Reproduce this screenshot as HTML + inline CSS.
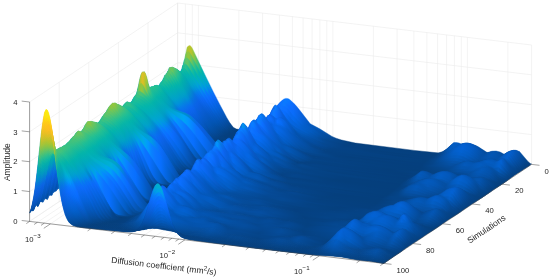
<!DOCTYPE html>
<html><head><meta charset="utf-8"><title>Surface plot</title>
<style>
html,body{margin:0;padding:0;background:#fff}
svg{display:block}
.g{stroke:#ebebeb;stroke-width:.6;fill:none}
.a{stroke:#484848;stroke-width:.5;fill:none}
.t{font-family:"Liberation Sans",sans-serif;font-size:7.7px;fill:#262626}
.l{font-family:"Liberation Sans",sans-serif;font-size:8.5px;fill:#262626}
</style></head><body>
<svg width="550" height="278" viewBox="0 0 550 278">
<rect width="550" height="278" fill="#fff"/>
<g id="grid">
<line x1="29.6" y1="221.4" x2="177.6" y2="122.4" class="g"/>
<line x1="177.6" y1="122.4" x2="531.6" y2="164.4" class="g"/>
<line x1="29.6" y1="191.6" x2="177.6" y2="92.6" class="g"/>
<line x1="177.6" y1="92.6" x2="531.6" y2="134.6" class="g"/>
<line x1="29.6" y1="161.7" x2="177.6" y2="62.7" class="g"/>
<line x1="177.6" y1="62.7" x2="531.6" y2="104.7" class="g"/>
<line x1="29.6" y1="131.8" x2="177.6" y2="32.8" class="g"/>
<line x1="177.6" y1="32.8" x2="531.6" y2="74.8" class="g"/>
<line x1="29.6" y1="102.0" x2="177.6" y2="3.0" class="g"/>
<line x1="177.6" y1="3.0" x2="531.6" y2="45.0" class="g"/>
<line x1="177.6" y1="122.4" x2="177.6" y2="3.0" class="g"/>
<line x1="177.6" y1="122.4" x2="531.6" y2="164.4" class="g"/>
<line x1="148.0" y1="142.2" x2="148.0" y2="22.8" class="g"/>
<line x1="148.0" y1="142.2" x2="502.0" y2="184.2" class="g"/>
<line x1="118.4" y1="162.0" x2="118.4" y2="42.6" class="g"/>
<line x1="118.4" y1="162.0" x2="472.4" y2="204.0" class="g"/>
<line x1="88.8" y1="181.8" x2="88.8" y2="62.4" class="g"/>
<line x1="88.8" y1="181.8" x2="442.8" y2="223.8" class="g"/>
<line x1="59.2" y1="201.6" x2="59.2" y2="82.2" class="g"/>
<line x1="59.2" y1="201.6" x2="413.2" y2="243.6" class="g"/>
<line x1="29.6" y1="221.4" x2="29.6" y2="102.0" class="g"/>
<line x1="29.6" y1="221.4" x2="383.6" y2="263.4" class="g"/>
<line x1="177.6" y1="122.4" x2="177.6" y2="3.0" class="g"/>
<line x1="177.6" y1="122.4" x2="29.6" y2="221.4" class="g"/>
<line x1="185.4" y1="123.3" x2="185.4" y2="3.9" class="g"/>
<line x1="185.4" y1="123.3" x2="37.4" y2="222.3" class="g"/>
<line x1="192.3" y1="124.1" x2="192.3" y2="4.7" class="g"/>
<line x1="192.3" y1="124.1" x2="44.3" y2="223.1" class="g"/>
<line x1="198.4" y1="124.9" x2="198.4" y2="5.5" class="g"/>
<line x1="198.4" y1="124.9" x2="50.4" y2="223.9" class="g"/>
<line x1="238.9" y1="129.7" x2="238.9" y2="10.3" class="g"/>
<line x1="238.9" y1="129.7" x2="90.9" y2="228.7" class="g"/>
<line x1="262.6" y1="132.5" x2="262.6" y2="13.1" class="g"/>
<line x1="262.6" y1="132.5" x2="114.6" y2="231.5" class="g"/>
<line x1="279.4" y1="134.5" x2="279.4" y2="15.1" class="g"/>
<line x1="279.4" y1="134.5" x2="131.4" y2="233.5" class="g"/>
<line x1="292.4" y1="136.0" x2="292.4" y2="16.6" class="g"/>
<line x1="292.4" y1="136.0" x2="144.4" y2="235.0" class="g"/>
<line x1="303.1" y1="137.3" x2="303.1" y2="17.9" class="g"/>
<line x1="303.1" y1="137.3" x2="155.1" y2="236.3" class="g"/>
<line x1="312.1" y1="138.4" x2="312.1" y2="19.0" class="g"/>
<line x1="312.1" y1="138.4" x2="164.1" y2="237.4" class="g"/>
<line x1="319.9" y1="139.3" x2="319.9" y2="19.9" class="g"/>
<line x1="319.9" y1="139.3" x2="171.9" y2="238.3" class="g"/>
<line x1="326.8" y1="140.1" x2="326.8" y2="20.7" class="g"/>
<line x1="326.8" y1="140.1" x2="178.8" y2="239.1" class="g"/>
<line x1="332.9" y1="140.8" x2="332.9" y2="21.4" class="g"/>
<line x1="332.9" y1="140.8" x2="184.9" y2="239.8" class="g"/>
<line x1="373.4" y1="145.6" x2="373.4" y2="26.2" class="g"/>
<line x1="373.4" y1="145.6" x2="225.4" y2="244.6" class="g"/>
<line x1="397.1" y1="148.4" x2="397.1" y2="29.0" class="g"/>
<line x1="397.1" y1="148.4" x2="249.1" y2="247.4" class="g"/>
<line x1="413.9" y1="150.4" x2="413.9" y2="31.0" class="g"/>
<line x1="413.9" y1="150.4" x2="265.9" y2="249.4" class="g"/>
<line x1="426.9" y1="152.0" x2="426.9" y2="32.6" class="g"/>
<line x1="426.9" y1="152.0" x2="278.9" y2="251.0" class="g"/>
<line x1="437.6" y1="153.2" x2="437.6" y2="33.8" class="g"/>
<line x1="437.6" y1="153.2" x2="289.6" y2="252.2" class="g"/>
<line x1="446.6" y1="154.3" x2="446.6" y2="34.9" class="g"/>
<line x1="446.6" y1="154.3" x2="298.6" y2="253.3" class="g"/>
<line x1="454.4" y1="155.2" x2="454.4" y2="35.8" class="g"/>
<line x1="454.4" y1="155.2" x2="306.4" y2="254.2" class="g"/>
<line x1="461.3" y1="156.1" x2="461.3" y2="36.7" class="g"/>
<line x1="461.3" y1="156.1" x2="313.3" y2="255.1" class="g"/>
<line x1="467.4" y1="156.8" x2="467.4" y2="37.4" class="g"/>
<line x1="467.4" y1="156.8" x2="319.4" y2="255.8" class="g"/>
<line x1="507.9" y1="161.6" x2="507.9" y2="42.2" class="g"/>
<line x1="507.9" y1="161.6" x2="359.9" y2="260.6" class="g"/>
<line x1="531.6" y1="164.4" x2="531.6" y2="45.0" class="g"/>
<line x1="531.6" y1="164.4" x2="383.6" y2="263.4" class="g"/>
<line x1="177.6" y1="122.4" x2="177.6" y2="3.0" class="g"/>
</g>
<g id="surface" shape-rendering="geometricPrecision">
<defs><linearGradient id="g0" gradientUnits="userSpaceOnUse" x1="1776" x2="5316" y1="0" y2="0"><stop offset="0" stop-color="#0250a8"/><stop offset=".012" stop-color="#0968e3"/><stop offset=".015" stop-color="#009ebc"/><stop offset=".019" stop-color="#16bb9d"/><stop offset=".023" stop-color="#73c557"/><stop offset=".027" stop-color="#acc431"/><stop offset=".035" stop-color="#bbc32a"/><stop offset=".039" stop-color="#b3c42e"/><stop offset=".046" stop-color="#8fc63f"/><stop offset=".062" stop-color="#21bf94"/><stop offset=".069" stop-color="#02b4ac"/><stop offset=".085" stop-color="#00a2d1"/><stop offset=".097" stop-color="#0878f5"/><stop offset=".104" stop-color="#0c68f8"/><stop offset=".12" stop-color="#0561d9"/><stop offset=".154" stop-color="#054387"/><stop offset=".17" stop-color="#053f7c"/><stop offset=".208" stop-color="#054181"/><stop offset=".236" stop-color="#054b98"/><stop offset=".239" stop-color="#04468f"/><stop offset=".29" stop-color="#0b60e4"/><stop offset=".293" stop-color="#0c6efe"/><stop offset=".301" stop-color="#0a77ff"/><stop offset=".313" stop-color="#0979fe"/><stop offset=".328" stop-color="#0c69f9"/><stop offset=".375" stop-color="#0357bb"/><stop offset=".398" stop-color="#0357b7"/><stop offset=".463" stop-color="#054183"/><stop offset=".502" stop-color="#053f7c"/><stop offset=".734" stop-color="#053f7e"/><stop offset=".749" stop-color="#054489"/><stop offset=".761" stop-color="#054c9b"/><stop offset=".764" stop-color="#044792"/><stop offset=".776" stop-color="#034fa6"/><stop offset=".78" stop-color="#035bc1"/><stop offset=".788" stop-color="#035bc2"/><stop offset=".803" stop-color="#0359bc"/><stop offset=".811" stop-color="#024fa7"/><stop offset=".846" stop-color="#0251ac"/><stop offset=".873" stop-color="#044b9a"/><stop offset=".9" stop-color="#0351aa"/><stop offset=".927" stop-color="#044b9b"/><stop offset=".931" stop-color="#044792"/><stop offset=".965" stop-color="#0251ab"/><stop offset=".992" stop-color="#054081"/><stop offset="1" stop-color="#053f7c"/></linearGradient><linearGradient id="g1" gradientUnits="userSpaceOnUse" x1="1761" x2="5301" y1="0" y2="0"><stop offset="0" stop-color="#044998"/><stop offset=".012" stop-color="#0a5fe0"/><stop offset=".015" stop-color="#008acd"/><stop offset=".019" stop-color="#01abad"/><stop offset=".023" stop-color="#33c188"/><stop offset=".027" stop-color="#77c554"/><stop offset=".031" stop-color="#8dc641"/><stop offset=".035" stop-color="#95c53c"/><stop offset=".039" stop-color="#8cc542"/><stop offset=".042" stop-color="#78c553"/><stop offset=".054" stop-color="#2cc08c"/><stop offset=".062" stop-color="#09b7a6"/><stop offset=".066" stop-color="#02b3af"/><stop offset=".081" stop-color="#00a2d5"/><stop offset=".085" stop-color="#0099e0"/><stop offset=".093" stop-color="#0879f7"/><stop offset=".1" stop-color="#0c6afb"/><stop offset=".116" stop-color="#0563de"/><stop offset=".154" stop-color="#054386"/><stop offset=".17" stop-color="#053f7c"/><stop offset=".212" stop-color="#054283"/><stop offset=".239" stop-color="#054d9e"/><stop offset=".243" stop-color="#044895"/><stop offset=".286" stop-color="#095fde"/><stop offset=".29" stop-color="#0c6bfd"/><stop offset=".293" stop-color="#0c6eff"/><stop offset=".309" stop-color="#097bff"/><stop offset=".328" stop-color="#0d6cff"/><stop offset=".375" stop-color="#0359c0"/><stop offset=".444" stop-color="#05478f"/><stop offset=".494" stop-color="#05407f"/><stop offset=".734" stop-color="#05407e"/><stop offset=".749" stop-color="#054489"/><stop offset=".78" stop-color="#035bc1"/><stop offset=".788" stop-color="#035cc4"/><stop offset=".799" stop-color="#035ac0"/><stop offset=".807" stop-color="#0251ab"/><stop offset=".842" stop-color="#0354b4"/><stop offset=".873" stop-color="#044c9e"/><stop offset=".9" stop-color="#0353ae"/><stop offset=".927" stop-color="#044d9e"/><stop offset=".931" stop-color="#044896"/><stop offset=".95" stop-color="#0250aa"/><stop offset=".965" stop-color="#0353b1"/><stop offset=".992" stop-color="#054182"/><stop offset="1" stop-color="#053f7d"/></linearGradient><linearGradient id="g2" gradientUnits="userSpaceOnUse" x1="1746" x2="5286" y1="0" y2="0"><stop offset="0" stop-color="#044793"/><stop offset=".012" stop-color="#085ed9"/><stop offset=".015" stop-color="#0672de"/><stop offset=".019" stop-color="#00a0b8"/><stop offset=".023" stop-color="#0db7a2"/><stop offset=".027" stop-color="#40c27e"/><stop offset=".031" stop-color="#59c46d"/><stop offset=".035" stop-color="#62c566"/><stop offset=".039" stop-color="#59c46d"/><stop offset=".05" stop-color="#1bbd98"/><stop offset=".058" stop-color="#02b5ad"/><stop offset=".073" stop-color="#00a8cf"/><stop offset=".081" stop-color="#0098e5"/><stop offset=".089" stop-color="#0879fa"/><stop offset=".097" stop-color="#0d6bfd"/><stop offset=".116" stop-color="#0562da"/><stop offset=".154" stop-color="#054386"/><stop offset=".17" stop-color="#053f7c"/><stop offset=".212" stop-color="#054283"/><stop offset=".228" stop-color="#05478f"/><stop offset=".247" stop-color="#0452ab"/><stop offset=".251" stop-color="#034da1"/><stop offset=".274" stop-color="#045aca"/><stop offset=".278" stop-color="#0667e9"/><stop offset=".29" stop-color="#0b6dff"/><stop offset=".293" stop-color="#0c6fff"/><stop offset=".309" stop-color="#0b7aff"/><stop offset=".324" stop-color="#0c6cff"/><stop offset=".336" stop-color="#096cf9"/><stop offset=".367" stop-color="#045ecc"/><stop offset=".394" stop-color="#0358ba"/><stop offset=".432" stop-color="#054993"/><stop offset=".49" stop-color="#054181"/><stop offset=".734" stop-color="#05407f"/><stop offset=".753" stop-color="#05468d"/><stop offset=".78" stop-color="#035bbf"/><stop offset=".788" stop-color="#035dc5"/><stop offset=".799" stop-color="#0359bb"/><stop offset=".803" stop-color="#0251ac"/><stop offset=".83" stop-color="#0354b7"/><stop offset=".834" stop-color="#0358be"/><stop offset=".876" stop-color="#044ea2"/><stop offset=".888" stop-color="#0454ae"/><stop offset=".903" stop-color="#0355b1"/><stop offset=".927" stop-color="#044ea1"/><stop offset=".931" stop-color="#034a99"/><stop offset=".965" stop-color="#0356b8"/><stop offset=".992" stop-color="#054183"/><stop offset="1" stop-color="#053f7d"/></linearGradient><linearGradient id="g3" gradientUnits="userSpaceOnUse" x1="1732" x2="5272" y1="0" y2="0"><stop offset="0" stop-color="#034c9f"/><stop offset=".012" stop-color="#085ed9"/><stop offset=".015" stop-color="#076de2"/><stop offset=".019" stop-color="#009cbe"/><stop offset=".023" stop-color="#02aeab"/><stop offset=".027" stop-color="#1cbd98"/><stop offset=".035" stop-color="#2cc08c"/><stop offset=".05" stop-color="#02b5ad"/><stop offset=".069" stop-color="#00a3d5"/><stop offset=".081" stop-color="#0682f4"/><stop offset=".093" stop-color="#0c6afc"/><stop offset=".112" stop-color="#0562db"/><stop offset=".158" stop-color="#054081"/><stop offset=".189" stop-color="#053f7d"/><stop offset=".22" stop-color="#054387"/><stop offset=".243" stop-color="#044fa3"/><stop offset=".29" stop-color="#096dfd"/><stop offset=".305" stop-color="#0d74ff"/><stop offset=".32" stop-color="#0c6fff"/><stop offset=".332" stop-color="#0869f0"/><stop offset=".34" stop-color="#056aee"/><stop offset=".363" stop-color="#0460cf"/><stop offset=".39" stop-color="#035abf"/><stop offset=".429" stop-color="#054892"/><stop offset=".486" stop-color="#054182"/><stop offset=".734" stop-color="#05407f"/><stop offset=".753" stop-color="#05458b"/><stop offset=".784" stop-color="#035bc0"/><stop offset=".795" stop-color="#0358ba"/><stop offset=".799" stop-color="#0251ab"/><stop offset=".815" stop-color="#0354b6"/><stop offset=".819" stop-color="#035bc6"/><stop offset=".826" stop-color="#045cc8"/><stop offset=".846" stop-color="#0359c1"/><stop offset=".876" stop-color="#044fa4"/><stop offset=".9" stop-color="#0356b4"/><stop offset=".927" stop-color="#0450a5"/><stop offset=".931" stop-color="#034b9c"/><stop offset=".954" stop-color="#0353b2"/><stop offset=".958" stop-color="#035ac3"/><stop offset=".961" stop-color="#035bc3"/><stop offset=".992" stop-color="#054184"/><stop offset="1" stop-color="#053f7d"/></linearGradient><linearGradient id="g4" gradientUnits="userSpaceOnUse" x1="1717" x2="5257" y1="0" y2="0"><stop offset="0" stop-color="#044895"/><stop offset=".015" stop-color="#0a64e5"/><stop offset=".019" stop-color="#008eca"/><stop offset=".023" stop-color="#00a4b2"/><stop offset=".027" stop-color="#04b3a7"/><stop offset=".035" stop-color="#14bb9d"/><stop offset=".046" stop-color="#02b3ae"/><stop offset=".062" stop-color="#00a5c9"/><stop offset=".069" stop-color="#0098da"/><stop offset=".077" stop-color="#057fed"/><stop offset=".089" stop-color="#0c68f7"/><stop offset=".131" stop-color="#0255b4"/><stop offset=".151" stop-color="#05458b"/><stop offset=".162" stop-color="#053f7e"/><stop offset=".197" stop-color="#053f7e"/><stop offset=".224" stop-color="#054489"/><stop offset=".247" stop-color="#0451a7"/><stop offset=".29" stop-color="#076df9"/><stop offset=".317" stop-color="#0a6eff"/><stop offset=".336" stop-color="#0566e4"/><stop offset=".382" stop-color="#035cc3"/><stop offset=".425" stop-color="#054a96"/><stop offset=".486" stop-color="#054183"/><stop offset=".625" stop-color="#053f7c"/><stop offset=".734" stop-color="#05407f"/><stop offset=".757" stop-color="#05468d"/><stop offset=".784" stop-color="#0458b7"/><stop offset=".792" stop-color="#0356b5"/><stop offset=".826" stop-color="#045fcf"/><stop offset=".846" stop-color="#035cc7"/><stop offset=".876" stop-color="#044fa5"/><stop offset=".9" stop-color="#0456b3"/><stop offset=".927" stop-color="#0450a7"/><stop offset=".931" stop-color="#034b9c"/><stop offset=".938" stop-color="#034fa7"/><stop offset=".942" stop-color="#0359bd"/><stop offset=".961" stop-color="#035dca"/><stop offset=".992" stop-color="#054284"/><stop offset="1" stop-color="#053f7d"/></linearGradient><linearGradient id="g5" gradientUnits="userSpaceOnUse" x1="1702" x2="5242" y1="0" y2="0"><stop offset="0" stop-color="#04448c"/><stop offset=".004" stop-color="#034b9c"/><stop offset=".015" stop-color="#0b60e3"/><stop offset=".023" stop-color="#00a0b7"/><stop offset=".031" stop-color="#09b7a6"/><stop offset=".035" stop-color="#0fbaa2"/><stop offset=".042" stop-color="#03b4aa"/><stop offset=".062" stop-color="#00a2c8"/><stop offset=".069" stop-color="#0093d8"/><stop offset=".077" stop-color="#0679eb"/><stop offset=".089" stop-color="#0c66f2"/><stop offset=".131" stop-color="#0254b3"/><stop offset=".154" stop-color="#054285"/><stop offset=".166" stop-color="#053f7d"/><stop offset=".201" stop-color="#05407e"/><stop offset=".224" stop-color="#054488"/><stop offset=".247" stop-color="#054fa3"/><stop offset=".278" stop-color="#0465dc"/><stop offset=".286" stop-color="#0565e1"/><stop offset=".29" stop-color="#045bcb"/><stop offset=".305" stop-color="#0a62e6"/><stop offset=".309" stop-color="#0a62e6"/><stop offset=".313" stop-color="#095fdd"/><stop offset=".328" stop-color="#0562dc"/><stop offset=".34" stop-color="#045fd0"/><stop offset=".371" stop-color="#035cc4"/><stop offset=".44" stop-color="#054892"/><stop offset=".486" stop-color="#054284"/><stop offset=".564" stop-color="#05407f"/><stop offset=".737" stop-color="#054080"/><stop offset=".757" stop-color="#05458c"/><stop offset=".799" stop-color="#035bc0"/><stop offset=".826" stop-color="#0461d4"/><stop offset=".846" stop-color="#035eca"/><stop offset=".876" stop-color="#0450a6"/><stop offset=".9" stop-color="#0455b1"/><stop offset=".923" stop-color="#0450a4"/><stop offset=".942" stop-color="#035abf"/><stop offset=".961" stop-color="#035fce"/><stop offset=".992" stop-color="#054284"/><stop offset="1" stop-color="#053f7d"/></linearGradient><linearGradient id="g6" gradientUnits="userSpaceOnUse" x1="1687" x2="5227" y1="0" y2="0"><stop offset="0" stop-color="#034a99"/><stop offset=".008" stop-color="#0355b9"/><stop offset=".015" stop-color="#0b61e6"/><stop offset=".019" stop-color="#0089ce"/><stop offset=".023" stop-color="#00a1b6"/><stop offset=".027" stop-color="#02afaa"/><stop offset=".035" stop-color="#0ab7a5"/><stop offset=".05" stop-color="#00a8b3"/><stop offset=".062" stop-color="#009dc7"/><stop offset=".069" stop-color="#008ed6"/><stop offset=".077" stop-color="#0774e9"/><stop offset=".089" stop-color="#0b64ed"/><stop offset=".131" stop-color="#0254b1"/><stop offset=".154" stop-color="#054285"/><stop offset=".166" stop-color="#053f7d"/><stop offset=".205" stop-color="#05407f"/><stop offset=".228" stop-color="#054589"/><stop offset=".247" stop-color="#054ea0"/><stop offset=".274" stop-color="#0360ce"/><stop offset=".278" stop-color="#0354b6"/><stop offset=".297" stop-color="#0a60e2"/><stop offset=".309" stop-color="#0a6bee"/><stop offset=".317" stop-color="#0a60e2"/><stop offset=".351" stop-color="#0356b8"/><stop offset=".367" stop-color="#035abe"/><stop offset=".436" stop-color="#054892"/><stop offset=".479" stop-color="#054386"/><stop offset=".649" stop-color="#053f7c"/><stop offset=".734" stop-color="#05407f"/><stop offset=".761" stop-color="#05478f"/><stop offset=".811" stop-color="#035fcc"/><stop offset=".83" stop-color="#0462d5"/><stop offset=".849" stop-color="#035dc8"/><stop offset=".88" stop-color="#044fa3"/><stop offset=".9" stop-color="#0453ad"/><stop offset=".919" stop-color="#054e9f"/><stop offset=".923" stop-color="#044ea0"/><stop offset=".946" stop-color="#035cc4"/><stop offset=".961" stop-color="#0360cf"/><stop offset=".988" stop-color="#05458c"/><stop offset="1" stop-color="#053f7d"/></linearGradient><linearGradient id="g7" gradientUnits="userSpaceOnUse" x1="1672" x2="5212" y1="0" y2="0"><stop offset="0" stop-color="#044896"/><stop offset=".008" stop-color="#0355b7"/><stop offset=".015" stop-color="#0b61e6"/><stop offset=".019" stop-color="#0089ce"/><stop offset=".023" stop-color="#00a2b5"/><stop offset=".027" stop-color="#02b1a9"/><stop offset=".031" stop-color="#13ba9e"/><stop offset=".046" stop-color="#02aeab"/><stop offset=".062" stop-color="#009cbe"/><stop offset=".081" stop-color="#086de4"/><stop offset=".089" stop-color="#0b62e9"/><stop offset=".131" stop-color="#0253b1"/><stop offset=".151" stop-color="#05458b"/><stop offset=".162" stop-color="#053f7e"/><stop offset=".197" stop-color="#053f7d"/><stop offset=".224" stop-color="#054385"/><stop offset=".243" stop-color="#054a96"/><stop offset=".27" stop-color="#035abe"/><stop offset=".274" stop-color="#0251ac"/><stop offset=".293" stop-color="#095fde"/><stop offset=".297" stop-color="#0b61e6"/><stop offset=".301" stop-color="#0968e3"/><stop offset=".305" stop-color="#097cff"/><stop offset=".317" stop-color="#0c66f1"/><stop offset=".336" stop-color="#0459c6"/><stop offset=".347" stop-color="#045ac6"/><stop offset=".363" stop-color="#0352af"/><stop offset=".378" stop-color="#0354b1"/><stop offset=".471" stop-color="#054285"/><stop offset=".734" stop-color="#05407f"/><stop offset=".764" stop-color="#054891"/><stop offset=".811" stop-color="#035fca"/><stop offset=".83" stop-color="#0362d2"/><stop offset=".853" stop-color="#035cc3"/><stop offset=".88" stop-color="#054ea0"/><stop offset=".9" stop-color="#054fa3"/><stop offset=".915" stop-color="#044b9a"/><stop offset=".919" stop-color="#044791"/><stop offset=".931" stop-color="#044896"/><stop offset=".934" stop-color="#0453ac"/><stop offset=".938" stop-color="#0357b5"/><stop offset=".95" stop-color="#035ec6"/><stop offset=".961" stop-color="#0360cd"/><stop offset=".988" stop-color="#05448a"/><stop offset="1" stop-color="#053f7d"/></linearGradient><linearGradient id="g8" gradientUnits="userSpaceOnUse" x1="1658" x2="5198" y1="0" y2="0"><stop offset="0" stop-color="#054388"/><stop offset=".004" stop-color="#044997"/><stop offset=".015" stop-color="#0a60e2"/><stop offset=".019" stop-color="#0184d1"/><stop offset=".023" stop-color="#00a2b5"/><stop offset=".027" stop-color="#04b3a7"/><stop offset=".031" stop-color="#1abd99"/><stop offset=".035" stop-color="#1fbf95"/><stop offset=".05" stop-color="#02aeab"/><stop offset=".066" stop-color="#009bbf"/><stop offset=".081" stop-color="#0672df"/><stop offset=".093" stop-color="#0b61e6"/><stop offset=".131" stop-color="#0254b1"/><stop offset=".158" stop-color="#054081"/><stop offset=".178" stop-color="#053f7c"/><stop offset=".216" stop-color="#054180"/><stop offset=".243" stop-color="#054891"/><stop offset=".266" stop-color="#0453ad"/><stop offset=".274" stop-color="#0250aa"/><stop offset=".282" stop-color="#0356bd"/><stop offset=".286" stop-color="#0564de"/><stop offset=".293" stop-color="#086bf6"/><stop offset=".297" stop-color="#0b6eff"/><stop offset=".305" stop-color="#0d7aff"/><stop offset=".313" stop-color="#0c6eff"/><stop offset=".332" stop-color="#055dd4"/><stop offset=".336" stop-color="#0560da"/><stop offset=".344" stop-color="#055fd4"/><stop offset=".367" stop-color="#0352b0"/><stop offset=".467" stop-color="#054284"/><stop offset=".734" stop-color="#05407e"/><stop offset=".761" stop-color="#05468c"/><stop offset=".811" stop-color="#035dc4"/><stop offset=".83" stop-color="#0360cd"/><stop offset=".846" stop-color="#035dc5"/><stop offset=".884" stop-color="#054b98"/><stop offset=".896" stop-color="#044c9b"/><stop offset=".9" stop-color="#044792"/><stop offset=".931" stop-color="#034b9c"/><stop offset=".95" stop-color="#035bbe"/><stop offset=".961" stop-color="#035dc4"/><stop offset=".981" stop-color="#044a97"/><stop offset="1" stop-color="#053f7d"/></linearGradient><linearGradient id="g9" gradientUnits="userSpaceOnUse" x1="1643" x2="5183" y1="0" y2="0"><stop offset="0" stop-color="#044895"/><stop offset=".008" stop-color="#0355b8"/><stop offset=".015" stop-color="#0a64e5"/><stop offset=".019" stop-color="#0091c8"/><stop offset=".023" stop-color="#01a9af"/><stop offset=".027" stop-color="#15bb9d"/><stop offset=".031" stop-color="#33c187"/><stop offset=".035" stop-color="#34c187"/><stop offset=".039" stop-color="#2fc08a"/><stop offset=".042" stop-color="#20bf95"/><stop offset=".05" stop-color="#07b4a6"/><stop offset=".054" stop-color="#02aeab"/><stop offset=".069" stop-color="#009ac0"/><stop offset=".085" stop-color="#076ee2"/><stop offset=".093" stop-color="#0b63e7"/><stop offset=".131" stop-color="#0354b3"/><stop offset=".158" stop-color="#054181"/><stop offset=".212" stop-color="#05407f"/><stop offset=".239" stop-color="#054489"/><stop offset=".266" stop-color="#0451a7"/><stop offset=".27" stop-color="#034a9b"/><stop offset=".278" stop-color="#0352ae"/><stop offset=".282" stop-color="#035dca"/><stop offset=".305" stop-color="#0970ff"/><stop offset=".309" stop-color="#096efd"/><stop offset=".313" stop-color="#0869f1"/><stop offset=".32" stop-color="#0768ee"/><stop offset=".324" stop-color="#075ed7"/><stop offset=".344" stop-color="#065dd4"/><stop offset=".375" stop-color="#0252ae"/><stop offset=".425" stop-color="#05468f"/><stop offset=".459" stop-color="#054284"/><stop offset=".734" stop-color="#05407e"/><stop offset=".761" stop-color="#05458a"/><stop offset=".811" stop-color="#045abc"/><stop offset=".83" stop-color="#035dc4"/><stop offset=".857" stop-color="#0455b2"/><stop offset=".88" stop-color="#054b98"/><stop offset=".884" stop-color="#04458d"/><stop offset=".915" stop-color="#034da1"/><stop offset=".938" stop-color="#034ea3"/><stop offset=".95" stop-color="#0352ac"/><stop offset=".954" stop-color="#034da1"/><stop offset=".965" stop-color="#0352ae"/><stop offset="1" stop-color="#053f7d"/></linearGradient><linearGradient id="g10" gradientUnits="userSpaceOnUse" x1="1628" x2="5168" y1="0" y2="0"><stop offset="0" stop-color="#044998"/><stop offset=".008" stop-color="#0355b9"/><stop offset=".015" stop-color="#0a66e4"/><stop offset=".019" stop-color="#0095c5"/><stop offset=".023" stop-color="#01acac"/><stop offset=".027" stop-color="#1ebe96"/><stop offset=".031" stop-color="#45c27b"/><stop offset=".035" stop-color="#46c27b"/><stop offset=".039" stop-color="#41c27d"/><stop offset=".054" stop-color="#03b2a8"/><stop offset=".073" stop-color="#0097c3"/><stop offset=".089" stop-color="#086ce4"/><stop offset=".097" stop-color="#0b61e7"/><stop offset=".131" stop-color="#0355b4"/><stop offset=".158" stop-color="#054182"/><stop offset=".174" stop-color="#053f7c"/><stop offset=".216" stop-color="#05407f"/><stop offset=".239" stop-color="#054488"/><stop offset=".266" stop-color="#0450a6"/><stop offset=".27" stop-color="#034a9b"/><stop offset=".301" stop-color="#075ed8"/><stop offset=".317" stop-color="#085fdc"/><stop offset=".324" stop-color="#0968f1"/><stop offset=".328" stop-color="#0969f3"/><stop offset=".344" stop-color="#0764e3"/><stop offset=".375" stop-color="#0353b1"/><stop offset=".444" stop-color="#054285"/><stop offset=".606" stop-color="#053f7c"/><stop offset=".734" stop-color="#053f7e"/><stop offset=".761" stop-color="#054488"/><stop offset=".811" stop-color="#0456b2"/><stop offset=".83" stop-color="#0459b9"/><stop offset=".849" stop-color="#0455b1"/><stop offset=".88" stop-color="#04458e"/><stop offset=".923" stop-color="#0250aa"/><stop offset=".927" stop-color="#0255b4"/><stop offset=".946" stop-color="#0354b0"/><stop offset=".95" stop-color="#024fa8"/><stop offset=".965" stop-color="#0353b1"/><stop offset="1" stop-color="#053f7e"/></linearGradient><linearGradient id="g11" gradientUnits="userSpaceOnUse" x1="1613" x2="5153" y1="0" y2="0"><stop offset="0" stop-color="#04448a"/><stop offset=".004" stop-color="#034a9a"/><stop offset=".015" stop-color="#0b61e6"/><stop offset=".019" stop-color="#0090c9"/><stop offset=".023" stop-color="#01aaad"/><stop offset=".027" stop-color="#1ebe96"/><stop offset=".031" stop-color="#4bc377"/><stop offset=".035" stop-color="#56c46f"/><stop offset=".039" stop-color="#53c471"/><stop offset=".05" stop-color="#1bbd99"/><stop offset=".058" stop-color="#02b0a9"/><stop offset=".073" stop-color="#009cbf"/><stop offset=".081" stop-color="#008ace"/><stop offset=".089" stop-color="#076fe3"/><stop offset=".097" stop-color="#0b63e8"/><stop offset=".135" stop-color="#0253af"/><stop offset=".154" stop-color="#054387"/><stop offset=".162" stop-color="#053f7f"/><stop offset=".228" stop-color="#054180"/><stop offset=".266" stop-color="#0450a6"/><stop offset=".27" stop-color="#034a9a"/><stop offset=".309" stop-color="#0b64ed"/><stop offset=".32" stop-color="#0862e4"/><stop offset=".328" stop-color="#096fff"/><stop offset=".34" stop-color="#076bf4"/><stop offset=".359" stop-color="#045bc8"/><stop offset=".371" stop-color="#0355b8"/><stop offset=".409" stop-color="#044ea2"/><stop offset=".429" stop-color="#05468e"/><stop offset=".471" stop-color="#054182"/><stop offset=".737" stop-color="#053f7e"/><stop offset=".764" stop-color="#054488"/><stop offset=".822" stop-color="#0554ad"/><stop offset=".842" stop-color="#0553aa"/><stop offset=".853" stop-color="#044da0"/><stop offset=".857" stop-color="#044793"/><stop offset=".888" stop-color="#044896"/><stop offset=".9" stop-color="#034c9e"/><stop offset=".903" stop-color="#0354b0"/><stop offset=".915" stop-color="#0359bb"/><stop offset=".946" stop-color="#0358bb"/><stop offset=".95" stop-color="#0251ac"/><stop offset=".954" stop-color="#0352af"/><stop offset=".958" stop-color="#035ac2"/><stop offset=".961" stop-color="#035bc5"/><stop offset=".965" stop-color="#035ac3"/><stop offset=".992" stop-color="#054387"/><stop offset="1" stop-color="#053f7e"/></linearGradient><linearGradient id="g12" gradientUnits="userSpaceOnUse" x1="1598" x2="5138" y1="0" y2="0"><stop offset="0" stop-color="#044895"/><stop offset=".008" stop-color="#0355b8"/><stop offset=".015" stop-color="#0a66e4"/><stop offset=".019" stop-color="#0097c3"/><stop offset=".023" stop-color="#02afaa"/><stop offset=".027" stop-color="#30c189"/><stop offset=".031" stop-color="#5fc468"/><stop offset=".035" stop-color="#66c562"/><stop offset=".039" stop-color="#64c564"/><stop offset=".054" stop-color="#16bc9c"/><stop offset=".062" stop-color="#02aeab"/><stop offset=".077" stop-color="#0099c3"/><stop offset=".089" stop-color="#0577de"/><stop offset=".097" stop-color="#0a66e7"/><stop offset=".116" stop-color="#055dd1"/><stop offset=".154" stop-color="#054388"/><stop offset=".162" stop-color="#05407f"/><stop offset=".216" stop-color="#053f7d"/><stop offset=".236" stop-color="#054284"/><stop offset=".266" stop-color="#0450a6"/><stop offset=".27" stop-color="#034a9a"/><stop offset=".301" stop-color="#095fdd"/><stop offset=".305" stop-color="#0c6dff"/><stop offset=".313" stop-color="#0b6bfb"/><stop offset=".324" stop-color="#0765e8"/><stop offset=".332" stop-color="#066cf4"/><stop offset=".336" stop-color="#066af1"/><stop offset=".367" stop-color="#0459c3"/><stop offset=".429" stop-color="#054a97"/><stop offset=".467" stop-color="#054285"/><stop offset=".541" stop-color="#053f7d"/><stop offset=".741" stop-color="#053f7e"/><stop offset=".819" stop-color="#0550a3"/><stop offset=".846" stop-color="#044ea0"/><stop offset=".849" stop-color="#044894"/><stop offset=".876" stop-color="#0350a8"/><stop offset=".892" stop-color="#0350a7"/><stop offset=".896" stop-color="#034ca0"/><stop offset=".9" stop-color="#0353ae"/><stop offset=".923" stop-color="#035cc2"/><stop offset=".946" stop-color="#035bbf"/><stop offset=".961" stop-color="#0361d0"/><stop offset=".965" stop-color="#0360cf"/><stop offset=".992" stop-color="#054387"/><stop offset="1" stop-color="#053f7e"/></linearGradient><linearGradient id="g13" gradientUnits="userSpaceOnUse" x1="1584" x2="5124" y1="0" y2="0"><stop offset="0" stop-color="#034da1"/><stop offset=".008" stop-color="#0457bf"/><stop offset=".012" stop-color="#075dd6"/><stop offset=".015" stop-color="#086be3"/><stop offset=".019" stop-color="#009cbe"/><stop offset=".023" stop-color="#04b3a7"/><stop offset=".027" stop-color="#3dc281"/><stop offset=".031" stop-color="#6ac55f"/><stop offset=".039" stop-color="#6cc55e"/><stop offset=".042" stop-color="#5dc46a"/><stop offset=".054" stop-color="#1bbd98"/><stop offset=".062" stop-color="#02b2aa"/><stop offset=".077" stop-color="#009fc4"/><stop offset=".085" stop-color="#008dd4"/><stop offset=".093" stop-color="#0771e9"/><stop offset=".1" stop-color="#0c64ed"/><stop offset=".104" stop-color="#0a62e7"/><stop offset=".135" stop-color="#0354b3"/><stop offset=".154" stop-color="#054489"/><stop offset=".162" stop-color="#05407f"/><stop offset=".224" stop-color="#053f7e"/><stop offset=".266" stop-color="#044fa4"/><stop offset=".27" stop-color="#034a9a"/><stop offset=".29" stop-color="#0458c3"/><stop offset=".293" stop-color="#0565e2"/><stop offset=".305" stop-color="#0a6fff"/><stop offset=".309" stop-color="#0b6fff"/><stop offset=".32" stop-color="#0765e7"/><stop offset=".34" stop-color="#0565e4"/><stop offset=".405" stop-color="#0450a5"/><stop offset=".463" stop-color="#054488"/><stop offset=".51" stop-color="#05407f"/><stop offset=".741" stop-color="#053f7d"/><stop offset=".811" stop-color="#054b98"/><stop offset=".838" stop-color="#054c9c"/><stop offset=".869" stop-color="#0357b6"/><stop offset=".892" stop-color="#0354b0"/><stop offset=".919" stop-color="#0359bc"/><stop offset=".946" stop-color="#035abc"/><stop offset=".961" stop-color="#0361cd"/><stop offset=".965" stop-color="#0360cd"/><stop offset=".988" stop-color="#05478f"/><stop offset="1" stop-color="#053f7e"/></linearGradient><linearGradient id="g14" gradientUnits="userSpaceOnUse" x1="1569" x2="5109" y1="0" y2="0"><stop offset="0" stop-color="#044997"/><stop offset=".008" stop-color="#0355b8"/><stop offset=".015" stop-color="#0a64e5"/><stop offset=".019" stop-color="#0093c6"/><stop offset=".023" stop-color="#01acac"/><stop offset=".027" stop-color="#22bf93"/><stop offset=".031" stop-color="#52c372"/><stop offset=".035" stop-color="#5ec469"/><stop offset=".039" stop-color="#5ec469"/><stop offset=".042" stop-color="#50c374"/><stop offset=".05" stop-color="#24c092"/><stop offset=".058" stop-color="#07b6a6"/><stop offset=".062" stop-color="#02b1ad"/><stop offset=".077" stop-color="#009fc8"/><stop offset=".085" stop-color="#008ed9"/><stop offset=".093" stop-color="#0871ec"/><stop offset=".1" stop-color="#0c65ef"/><stop offset=".12" stop-color="#045dd0"/><stop offset=".158" stop-color="#054284"/><stop offset=".174" stop-color="#053e7c"/><stop offset=".224" stop-color="#053f7d"/><stop offset=".263" stop-color="#044ea0"/><stop offset=".266" stop-color="#044996"/><stop offset=".305" stop-color="#075ed8"/><stop offset=".309" stop-color="#0969f3"/><stop offset=".324" stop-color="#0760db"/><stop offset=".336" stop-color="#0668eb"/><stop offset=".351" stop-color="#0565e2"/><stop offset=".409" stop-color="#054d9c"/><stop offset=".506" stop-color="#054181"/><stop offset=".745" stop-color="#053f7d"/><stop offset=".83" stop-color="#054a96"/><stop offset=".869" stop-color="#0459ba"/><stop offset=".888" stop-color="#0456b4"/><stop offset=".915" stop-color="#035bbf"/><stop offset=".946" stop-color="#0453ad"/><stop offset=".965" stop-color="#045bbd"/><stop offset=".992" stop-color="#054386"/><stop offset="1" stop-color="#053f7e"/></linearGradient><linearGradient id="g15" gradientUnits="userSpaceOnUse" x1="1554" x2="5094" y1="0" y2="0"><stop offset="0" stop-color="#034c9f"/><stop offset=".008" stop-color="#0356bc"/><stop offset=".015" stop-color="#0a65e5"/><stop offset=".019" stop-color="#0092c7"/><stop offset=".023" stop-color="#01aaae"/><stop offset=".027" stop-color="#1abd99"/><stop offset=".031" stop-color="#44c27c"/><stop offset=".035" stop-color="#4fc374"/><stop offset=".039" stop-color="#4fc374"/><stop offset=".05" stop-color="#1cbe97"/><stop offset=".058" stop-color="#02b4aa"/><stop offset=".077" stop-color="#009eca"/><stop offset=".093" stop-color="#0871ec"/><stop offset=".1" stop-color="#0c65ef"/><stop offset=".12" stop-color="#045dd0"/><stop offset=".158" stop-color="#054386"/><stop offset=".178" stop-color="#053f7c"/><stop offset=".224" stop-color="#053f7d"/><stop offset=".259" stop-color="#054c9d"/><stop offset=".263" stop-color="#044793"/><stop offset=".305" stop-color="#085edb"/><stop offset=".328" stop-color="#065fda"/><stop offset=".344" stop-color="#0567e7"/><stop offset=".382" stop-color="#0359bd"/><stop offset=".413" stop-color="#054790"/><stop offset=".548" stop-color="#05407f"/><stop offset=".745" stop-color="#053f7d"/><stop offset=".822" stop-color="#05478e"/><stop offset=".865" stop-color="#0455b0"/><stop offset=".888" stop-color="#0455b1"/><stop offset=".915" stop-color="#035bbe"/><stop offset=".95" stop-color="#0350a7"/><stop offset=".973" stop-color="#054fa0"/><stop offset="1" stop-color="#053f7e"/></linearGradient><linearGradient id="g16" gradientUnits="userSpaceOnUse" x1="1539" x2="5079" y1="0" y2="0"><stop offset="0" stop-color="#0352af"/><stop offset=".004" stop-color="#0355b8"/><stop offset=".012" stop-color="#085eda"/><stop offset=".015" stop-color="#086be3"/><stop offset=".019" stop-color="#0097c3"/><stop offset=".023" stop-color="#01abad"/><stop offset=".027" stop-color="#19bd9a"/><stop offset=".031" stop-color="#3dc280"/><stop offset=".039" stop-color="#3fc27f"/><stop offset=".054" stop-color="#09b7a5"/><stop offset=".058" stop-color="#02b2ac"/><stop offset=".077" stop-color="#009ccd"/><stop offset=".093" stop-color="#0871ed"/><stop offset=".1" stop-color="#0c65ef"/><stop offset=".12" stop-color="#045dd1"/><stop offset=".162" stop-color="#054284"/><stop offset=".181" stop-color="#053f7c"/><stop offset=".22" stop-color="#053f7c"/><stop offset=".236" stop-color="#054284"/><stop offset=".259" stop-color="#044d9e"/><stop offset=".263" stop-color="#044894"/><stop offset=".27" stop-color="#034b9d"/><stop offset=".309" stop-color="#0c68f7"/><stop offset=".317" stop-color="#0b66f1"/><stop offset=".324" stop-color="#0963e5"/><stop offset=".328" stop-color="#075ed7"/><stop offset=".34" stop-color="#045bca"/><stop offset=".351" stop-color="#045fd1"/><stop offset=".367" stop-color="#035ecb"/><stop offset=".378" stop-color="#035abe"/><stop offset=".402" stop-color="#044894"/><stop offset=".425" stop-color="#054285"/><stop offset=".745" stop-color="#053f7c"/><stop offset=".822" stop-color="#05458a"/><stop offset=".857" stop-color="#054fa1"/><stop offset=".907" stop-color="#0457b5"/><stop offset=".942" stop-color="#0355b2"/><stop offset="1" stop-color="#053f7e"/></linearGradient><linearGradient id="g17" gradientUnits="userSpaceOnUse" x1="1524" x2="5064" y1="0" y2="0"><stop offset="0" stop-color="#0250aa"/><stop offset=".008" stop-color="#0458c2"/><stop offset=".015" stop-color="#0a65e4"/><stop offset=".019" stop-color="#008eca"/><stop offset=".023" stop-color="#00a5b1"/><stop offset=".027" stop-color="#0ab6a4"/><stop offset=".031" stop-color="#24c092"/><stop offset=".039" stop-color="#30c18a"/><stop offset=".054" stop-color="#03b4aa"/><stop offset=".073" stop-color="#00a2c7"/><stop offset=".081" stop-color="#0093d7"/><stop offset=".089" stop-color="#067ae8"/><stop offset=".1" stop-color="#0c65ef"/><stop offset=".12" stop-color="#055ed1"/><stop offset=".154" stop-color="#044791"/><stop offset=".174" stop-color="#053f7e"/><stop offset=".224" stop-color="#053f7d"/><stop offset=".259" stop-color="#044d9e"/><stop offset=".263" stop-color="#044895"/><stop offset=".297" stop-color="#0a60e2"/><stop offset=".309" stop-color="#0675e4"/><stop offset=".313" stop-color="#0772e8"/><stop offset=".328" stop-color="#0a60e2"/><stop offset=".347" stop-color="#045bca"/><stop offset=".375" stop-color="#0358bb"/><stop offset=".402" stop-color="#044997"/><stop offset=".444" stop-color="#054284"/><stop offset=".745" stop-color="#053f7c"/><stop offset=".822" stop-color="#054386"/><stop offset=".934" stop-color="#0358b9"/><stop offset=".954" stop-color="#0352ac"/><stop offset=".977" stop-color="#05458b"/><stop offset="1" stop-color="#053f7d"/></linearGradient><linearGradient id="g18" gradientUnits="userSpaceOnUse" x1="1510" x2="5050" y1="0" y2="0"><stop offset="0" stop-color="#0251ac"/><stop offset=".008" stop-color="#0458c3"/><stop offset=".015" stop-color="#0a64e5"/><stop offset=".019" stop-color="#008bcd"/><stop offset=".023" stop-color="#00a2b5"/><stop offset=".027" stop-color="#02b1a9"/><stop offset=".031" stop-color="#19bc9a"/><stop offset=".039" stop-color="#21bf94"/><stop offset=".054" stop-color="#02b2ad"/><stop offset=".073" stop-color="#00a1ca"/><stop offset=".081" stop-color="#0092d9"/><stop offset=".089" stop-color="#0679ea"/><stop offset=".1" stop-color="#0c65f0"/><stop offset=".12" stop-color="#055ed2"/><stop offset=".158" stop-color="#04468f"/><stop offset=".174" stop-color="#054081"/><stop offset=".22" stop-color="#053f7d"/><stop offset=".236" stop-color="#054285"/><stop offset=".255" stop-color="#054b9a"/><stop offset=".259" stop-color="#044691"/><stop offset=".297" stop-color="#0a60e2"/><stop offset=".301" stop-color="#0a66e4"/><stop offset=".305" stop-color="#087bfc"/><stop offset=".309" stop-color="#0782ff"/><stop offset=".317" stop-color="#0971f0"/><stop offset=".324" stop-color="#0b65ed"/><stop offset=".367" stop-color="#0355b6"/><stop offset=".459" stop-color="#054285"/><stop offset=".668" stop-color="#053f7c"/><stop offset=".822" stop-color="#054283"/><stop offset=".861" stop-color="#05458b"/><stop offset=".903" stop-color="#054ea1"/><stop offset=".934" stop-color="#0359ba"/><stop offset=".958" stop-color="#0451a9"/><stop offset=".981" stop-color="#054386"/><stop offset="1" stop-color="#053f7d"/></linearGradient><linearGradient id="g19" gradientUnits="userSpaceOnUse" x1="1495" x2="5035" y1="0" y2="0"><stop offset="0" stop-color="#0355b9"/><stop offset=".012" stop-color="#095fde"/><stop offset=".015" stop-color="#086be2"/><stop offset=".019" stop-color="#0091c8"/><stop offset=".023" stop-color="#00a3b3"/><stop offset=".027" stop-color="#02b1a9"/><stop offset=".031" stop-color="#15bb9d"/><stop offset=".039" stop-color="#17bc9b"/><stop offset=".05" stop-color="#02b4ac"/><stop offset=".073" stop-color="#009fcd"/><stop offset=".081" stop-color="#0091db"/><stop offset=".089" stop-color="#0678eb"/><stop offset=".1" stop-color="#0c65f0"/><stop offset=".124" stop-color="#045dcf"/><stop offset=".166" stop-color="#04458e"/><stop offset=".193" stop-color="#053f7e"/><stop offset=".224" stop-color="#053f7e"/><stop offset=".259" stop-color="#044ea0"/><stop offset=".263" stop-color="#044997"/><stop offset=".297" stop-color="#0a60e2"/><stop offset=".301" stop-color="#0c6dff"/><stop offset=".309" stop-color="#097bff"/><stop offset=".313" stop-color="#087bff"/><stop offset=".32" stop-color="#0a6ef1"/><stop offset=".328" stop-color="#0c64ed"/><stop offset=".371" stop-color="#0355b6"/><stop offset=".39" stop-color="#0357b7"/><stop offset=".459" stop-color="#054488"/><stop offset=".68" stop-color="#053e7c"/><stop offset=".853" stop-color="#054386"/><stop offset=".884" stop-color="#05468d"/><stop offset=".923" stop-color="#0456b3"/><stop offset=".934" stop-color="#0458b8"/><stop offset=".958" stop-color="#0451a7"/><stop offset=".985" stop-color="#054182"/><stop offset="1" stop-color="#053f7c"/></linearGradient><linearGradient id="g20" gradientUnits="userSpaceOnUse" x1="1480" x2="5020" y1="0" y2="0"><stop offset="0" stop-color="#0355b7"/><stop offset=".012" stop-color="#085fdc"/><stop offset=".015" stop-color="#0968e3"/><stop offset=".019" stop-color="#008bcc"/><stop offset=".023" stop-color="#00a0b8"/><stop offset=".031" stop-color="#09b7a6"/><stop offset=".039" stop-color="#0eb9a2"/><stop offset=".046" stop-color="#02b4ab"/><stop offset=".069" stop-color="#00a2c7"/><stop offset=".081" stop-color="#008dda"/><stop offset=".089" stop-color="#0775ea"/><stop offset=".1" stop-color="#0c65ee"/><stop offset=".166" stop-color="#044996"/><stop offset=".197" stop-color="#054080"/><stop offset=".224" stop-color="#053f7e"/><stop offset=".259" stop-color="#044ea1"/><stop offset=".263" stop-color="#044896"/><stop offset=".29" stop-color="#065dd3"/><stop offset=".301" stop-color="#0b60e4"/><stop offset=".305" stop-color="#0967e4"/><stop offset=".309" stop-color="#097cff"/><stop offset=".313" stop-color="#097fff"/><stop offset=".324" stop-color="#0c6eff"/><stop offset=".347" stop-color="#0561d8"/><stop offset=".378" stop-color="#0356b7"/><stop offset=".398" stop-color="#0357b6"/><stop offset=".463" stop-color="#054284"/><stop offset=".668" stop-color="#053f7c"/><stop offset=".749" stop-color="#053f7c"/><stop offset=".838" stop-color="#054488"/><stop offset=".842" stop-color="#054082"/><stop offset=".888" stop-color="#05448a"/><stop offset=".919" stop-color="#0453ab"/><stop offset=".934" stop-color="#0456b3"/><stop offset=".961" stop-color="#054ea0"/><stop offset=".977" stop-color="#054386"/><stop offset="1" stop-color="#053f7c"/></linearGradient><linearGradient id="g21" gradientUnits="userSpaceOnUse" x1="1465" x2="5005" y1="0" y2="0"><stop offset="0" stop-color="#0354b6"/><stop offset=".015" stop-color="#0967e4"/><stop offset=".019" stop-color="#008acd"/><stop offset=".023" stop-color="#009fba"/><stop offset=".031" stop-color="#05b3a6"/><stop offset=".039" stop-color="#0db8a3"/><stop offset=".046" stop-color="#02b3a9"/><stop offset=".069" stop-color="#009ec0"/><stop offset=".081" stop-color="#008bd1"/><stop offset=".093" stop-color="#086ee5"/><stop offset=".1" stop-color="#0b64e8"/><stop offset=".124" stop-color="#055ed2"/><stop offset=".162" stop-color="#044da0"/><stop offset=".189" stop-color="#054488"/><stop offset=".205" stop-color="#05407f"/><stop offset=".224" stop-color="#053f7e"/><stop offset=".263" stop-color="#0450a5"/><stop offset=".27" stop-color="#0357b7"/><stop offset=".274" stop-color="#0251ad"/><stop offset=".301" stop-color="#0b60e3"/><stop offset=".305" stop-color="#0a64e5"/><stop offset=".309" stop-color="#0b6ef9"/><stop offset=".317" stop-color="#0d6bff"/><stop offset=".386" stop-color="#0353ae"/><stop offset=".413" stop-color="#0550a4"/><stop offset=".456" stop-color="#054283"/><stop offset=".722" stop-color="#053e7c"/><stop offset=".784" stop-color="#054284"/><stop offset=".788" stop-color="#053e7c"/><stop offset=".822" stop-color="#054489"/><stop offset=".826" stop-color="#054081"/><stop offset=".853" stop-color="#04448b"/><stop offset=".892" stop-color="#05458c"/><stop offset=".915" stop-color="#054fa3"/><stop offset=".934" stop-color="#0553ac"/><stop offset=".977" stop-color="#054386"/><stop offset="1" stop-color="#053f7c"/></linearGradient><linearGradient id="g22" gradientUnits="userSpaceOnUse" x1="1450" x2="4990" y1="0" y2="0"><stop offset="0" stop-color="#0459c6"/><stop offset=".012" stop-color="#0b62e5"/><stop offset=".015" stop-color="#047ad9"/><stop offset=".019" stop-color="#0099c1"/><stop offset=".023" stop-color="#00a6b1"/><stop offset=".027" stop-color="#02b2a8"/><stop offset=".031" stop-color="#14bb9e"/><stop offset=".039" stop-color="#16bc9c"/><stop offset=".05" stop-color="#03b2a8"/><stop offset=".062" stop-color="#00a6b0"/><stop offset=".077" stop-color="#0097c3"/><stop offset=".097" stop-color="#086ce2"/><stop offset=".104" stop-color="#0b63e5"/><stop offset=".127" stop-color="#055dd0"/><stop offset=".166" stop-color="#044c9e"/><stop offset=".205" stop-color="#053f7e"/><stop offset=".232" stop-color="#054182"/><stop offset=".266" stop-color="#0452aa"/><stop offset=".27" stop-color="#034b9d"/><stop offset=".297" stop-color="#0a60e2"/><stop offset=".305" stop-color="#086ce2"/><stop offset=".309" stop-color="#0871eb"/><stop offset=".32" stop-color="#0c64ee"/><stop offset=".344" stop-color="#055fd5"/><stop offset=".432" stop-color="#05458a"/><stop offset=".452" stop-color="#054182"/><stop offset=".745" stop-color="#053e7c"/><stop offset=".776" stop-color="#054284"/><stop offset=".78" stop-color="#053e7c"/><stop offset=".795" stop-color="#054287"/><stop offset=".822" stop-color="#05458d"/><stop offset=".826" stop-color="#054286"/><stop offset=".857" stop-color="#044793"/><stop offset=".9" stop-color="#05468e"/><stop offset=".931" stop-color="#054d9d"/><stop offset=".954" stop-color="#044a99"/><stop offset=".958" stop-color="#044690"/><stop offset=".965" stop-color="#044893"/><stop offset="1" stop-color="#053f7c"/></linearGradient><linearGradient id="g23" gradientUnits="userSpaceOnUse" x1="1436" x2="4976" y1="0" y2="0"><stop offset="0" stop-color="#045aca"/><stop offset=".012" stop-color="#0967e4"/><stop offset=".019" stop-color="#009dbc"/><stop offset=".027" stop-color="#0ab6a4"/><stop offset=".031" stop-color="#1cbd98"/><stop offset=".039" stop-color="#1fbf95"/><stop offset=".058" stop-color="#02afab"/><stop offset=".081" stop-color="#0098c3"/><stop offset=".1" stop-color="#086ce3"/><stop offset=".108" stop-color="#0b63e7"/><stop offset=".151" stop-color="#0354b3"/><stop offset=".185" stop-color="#054386"/><stop offset=".201" stop-color="#053f7d"/><stop offset=".224" stop-color="#053f7e"/><stop offset=".239" stop-color="#054488"/><stop offset=".266" stop-color="#0451a9"/><stop offset=".27" stop-color="#034b9d"/><stop offset=".297" stop-color="#0a60e1"/><stop offset=".301" stop-color="#0c6fff"/><stop offset=".305" stop-color="#0a7cff"/><stop offset=".309" stop-color="#0a7eff"/><stop offset=".313" stop-color="#0a76ff"/><stop offset=".32" stop-color="#0c69f9"/><stop offset=".363" stop-color="#045bc7"/><stop offset=".382" stop-color="#035abf"/><stop offset=".413" stop-color="#054791"/><stop offset=".436" stop-color="#054080"/><stop offset=".483" stop-color="#054285"/><stop offset=".749" stop-color="#053f7c"/><stop offset=".772" stop-color="#054285"/><stop offset=".776" stop-color="#053e7d"/><stop offset=".799" stop-color="#04468f"/><stop offset=".822" stop-color="#054389"/><stop offset=".857" stop-color="#034b9b"/><stop offset=".88" stop-color="#044b9b"/><stop offset=".907" stop-color="#054790"/><stop offset=".927" stop-color="#044a99"/><stop offset=".931" stop-color="#044690"/><stop offset=".961" stop-color="#044c9d"/><stop offset="1" stop-color="#053f7c"/></linearGradient><linearGradient id="g24" gradientUnits="userSpaceOnUse" x1="1421" x2="4961" y1="0" y2="0"><stop offset="0" stop-color="#0459c6"/><stop offset=".012" stop-color="#0a66e4"/><stop offset=".019" stop-color="#009dbd"/><stop offset=".027" stop-color="#09b5a4"/><stop offset=".031" stop-color="#1bbd99"/><stop offset=".039" stop-color="#24c092"/><stop offset=".058" stop-color="#02b2aa"/><stop offset=".081" stop-color="#009dc1"/><stop offset=".093" stop-color="#0089d1"/><stop offset=".1" stop-color="#0671e1"/><stop offset=".112" stop-color="#0b60e6"/><stop offset=".139" stop-color="#0457c0"/><stop offset=".181" stop-color="#053e7d"/><stop offset=".224" stop-color="#053f7d"/><stop offset=".239" stop-color="#054488"/><stop offset=".266" stop-color="#0451a8"/><stop offset=".27" stop-color="#034b9c"/><stop offset=".29" stop-color="#045aca"/><stop offset=".293" stop-color="#0668eb"/><stop offset=".301" stop-color="#0b6eff"/><stop offset=".309" stop-color="#0e75ff"/><stop offset=".317" stop-color="#0b6fff"/><stop offset=".344" stop-color="#0668eb"/><stop offset=".378" stop-color="#0356b7"/><stop offset=".405" stop-color="#044997"/><stop offset=".44" stop-color="#054182"/><stop offset=".483" stop-color="#054387"/><stop offset=".606" stop-color="#053f7d"/><stop offset=".745" stop-color="#053e7c"/><stop offset=".768" stop-color="#054285"/><stop offset=".772" stop-color="#053e7d"/><stop offset=".799" stop-color="#034998"/><stop offset=".826" stop-color="#04468f"/><stop offset=".853" stop-color="#034da2"/><stop offset=".876" stop-color="#034fa5"/><stop offset=".915" stop-color="#04448b"/><stop offset=".923" stop-color="#04468f"/><stop offset=".927" stop-color="#044c9d"/><stop offset=".958" stop-color="#0350a6"/><stop offset="1" stop-color="#053f7d"/></linearGradient><linearGradient id="g25" gradientUnits="userSpaceOnUse" x1="1406" x2="4946" y1="0" y2="0"><stop offset="0" stop-color="#065dd3"/><stop offset=".008" stop-color="#0b63e5"/><stop offset=".012" stop-color="#0575dc"/><stop offset=".015" stop-color="#0093c6"/><stop offset=".023" stop-color="#02afaa"/><stop offset=".031" stop-color="#22bf93"/><stop offset=".039" stop-color="#26c091"/><stop offset=".058" stop-color="#03b3a9"/><stop offset=".085" stop-color="#009bc3"/><stop offset=".104" stop-color="#0770e0"/><stop offset=".112" stop-color="#0a66e4"/><stop offset=".116" stop-color="#0c66f1"/><stop offset=".139" stop-color="#0564e0"/><stop offset=".162" stop-color="#035bc1"/><stop offset=".197" stop-color="#054285"/><stop offset=".22" stop-color="#053970"/><stop offset=".266" stop-color="#0450a6"/><stop offset=".27" stop-color="#034a9b"/><stop offset=".297" stop-color="#065dd3"/><stop offset=".301" stop-color="#086af4"/><stop offset=".305" stop-color="#0a6fff"/><stop offset=".336" stop-color="#066cf4"/><stop offset=".382" stop-color="#0255b3"/><stop offset=".444" stop-color="#054386"/><stop offset=".749" stop-color="#053e7c"/><stop offset=".768" stop-color="#054387"/><stop offset=".772" stop-color="#053f7f"/><stop offset=".795" stop-color="#034b9d"/><stop offset=".807" stop-color="#034ea4"/><stop offset=".826" stop-color="#044d9e"/><stop offset=".83" stop-color="#044996"/><stop offset=".861" stop-color="#0250aa"/><stop offset=".865" stop-color="#0254b3"/><stop offset=".888" stop-color="#0350a7"/><stop offset=".911" stop-color="#04468f"/><stop offset=".934" stop-color="#044998"/><stop offset=".938" stop-color="#0450a5"/><stop offset=".946" stop-color="#0453ac"/><stop offset=".961" stop-color="#0353ad"/><stop offset=".988" stop-color="#054286"/><stop offset="1" stop-color="#053f7d"/></linearGradient><linearGradient id="g26" gradientUnits="userSpaceOnUse" x1="1391" x2="4931" y1="0" y2="0"><stop offset="0" stop-color="#075ed8"/><stop offset=".008" stop-color="#0969e3"/><stop offset=".015" stop-color="#009bc0"/><stop offset=".023" stop-color="#02b2a8"/><stop offset=".031" stop-color="#27c090"/><stop offset=".039" stop-color="#28c08f"/><stop offset=".062" stop-color="#02b1ab"/><stop offset=".085" stop-color="#009fc0"/><stop offset=".1" stop-color="#0089ce"/><stop offset=".116" stop-color="#0876f3"/><stop offset=".135" stop-color="#0c6cff"/><stop offset=".178" stop-color="#0462d6"/><stop offset=".193" stop-color="#035cc2"/><stop offset=".224" stop-color="#054488"/><stop offset=".239" stop-color="#053f7e"/><stop offset=".27" stop-color="#034b9c"/><stop offset=".293" stop-color="#055cce"/><stop offset=".309" stop-color="#0963e6"/><stop offset=".32" stop-color="#0661db"/><stop offset=".328" stop-color="#0568e8"/><stop offset=".336" stop-color="#0569eb"/><stop offset=".363" stop-color="#035ecb"/><stop offset=".394" stop-color="#0358ba"/><stop offset=".44" stop-color="#054489"/><stop offset=".456" stop-color="#05478f"/><stop offset=".533" stop-color="#054181"/><stop offset=".753" stop-color="#053f7c"/><stop offset=".772" stop-color="#05468d"/><stop offset=".776" stop-color="#054285"/><stop offset=".795" stop-color="#034da1"/><stop offset=".799" stop-color="#0355b2"/><stop offset=".822" stop-color="#044ea3"/><stop offset=".83" stop-color="#0450a7"/><stop offset=".834" stop-color="#034b9c"/><stop offset=".838" stop-color="#0353af"/><stop offset=".861" stop-color="#0358bc"/><stop offset=".88" stop-color="#0355b4"/><stop offset=".907" stop-color="#044896"/><stop offset=".927" stop-color="#034da1"/><stop offset=".938" stop-color="#034b9d"/><stop offset=".954" stop-color="#0455b0"/><stop offset=".961" stop-color="#0455b2"/><stop offset=".988" stop-color="#054386"/><stop offset="1" stop-color="#053f7d"/></linearGradient><linearGradient id="g27" gradientUnits="userSpaceOnUse" x1="1376" x2="4916" y1="0" y2="0"><stop offset="0" stop-color="#065dd4"/><stop offset=".008" stop-color="#0a65e4"/><stop offset=".015" stop-color="#0097c3"/><stop offset=".023" stop-color="#02b0aa"/><stop offset=".031" stop-color="#20bf95"/><stop offset=".039" stop-color="#28c08f"/><stop offset=".062" stop-color="#02b3aa"/><stop offset=".1" stop-color="#0092c7"/><stop offset=".12" stop-color="#018ee0"/><stop offset=".143" stop-color="#087bfb"/><stop offset=".166" stop-color="#0c6dff"/><stop offset=".193" stop-color="#0567e7"/><stop offset=".255" stop-color="#044793"/><stop offset=".266" stop-color="#034b9b"/><stop offset=".305" stop-color="#0b66ef"/><stop offset=".309" stop-color="#0b67f2"/><stop offset=".324" stop-color="#0661db"/><stop offset=".328" stop-color="#045bcc"/><stop offset=".332" stop-color="#045ac9"/><stop offset=".344" stop-color="#045fd0"/><stop offset=".363" stop-color="#0358bc"/><stop offset=".378" stop-color="#035abd"/><stop offset=".44" stop-color="#05448a"/><stop offset=".463" stop-color="#05468c"/><stop offset=".544" stop-color="#05407f"/><stop offset=".753" stop-color="#053f7c"/><stop offset=".772" stop-color="#05468e"/><stop offset=".799" stop-color="#0359bb"/><stop offset=".826" stop-color="#0451a7"/><stop offset=".849" stop-color="#035abe"/><stop offset=".861" stop-color="#035bc2"/><stop offset=".88" stop-color="#0358ba"/><stop offset=".903" stop-color="#034a9a"/><stop offset=".927" stop-color="#0251aa"/><stop offset=".95" stop-color="#034fa5"/><stop offset=".965" stop-color="#0453ad"/><stop offset=".988" stop-color="#054386"/><stop offset="1" stop-color="#053f7d"/></linearGradient><linearGradient id="g28" gradientUnits="userSpaceOnUse" x1="1362" x2="4902" y1="0" y2="0"><stop offset="0" stop-color="#085edb"/><stop offset=".004" stop-color="#0b60e6"/><stop offset=".008" stop-color="#076de2"/><stop offset=".012" stop-color="#008ccc"/><stop offset=".015" stop-color="#009ebb"/><stop offset=".023" stop-color="#07b4a6"/><stop offset=".031" stop-color="#29c08e"/><stop offset=".039" stop-color="#2bc08d"/><stop offset=".062" stop-color="#02b3aa"/><stop offset=".104" stop-color="#009cca"/><stop offset=".147" stop-color="#0089cf"/><stop offset=".166" stop-color="#076de2"/><stop offset=".181" stop-color="#0b60e5"/><stop offset=".228" stop-color="#0357bc"/><stop offset=".259" stop-color="#0353ae"/><stop offset=".263" stop-color="#034da1"/><stop offset=".282" stop-color="#0458c3"/><stop offset=".297" stop-color="#0b64eb"/><stop offset=".305" stop-color="#0779f1"/><stop offset=".309" stop-color="#0878f6"/><stop offset=".317" stop-color="#0b6bf4"/><stop offset=".32" stop-color="#0b60e4"/><stop offset=".344" stop-color="#0457c1"/><stop offset=".367" stop-color="#0352b1"/><stop offset=".386" stop-color="#0355b2"/><stop offset=".459" stop-color="#054488"/><stop offset=".753" stop-color="#053f7c"/><stop offset=".772" stop-color="#05468d"/><stop offset=".799" stop-color="#0359bb"/><stop offset=".826" stop-color="#0451a8"/><stop offset=".861" stop-color="#035dc5"/><stop offset=".884" stop-color="#0357b8"/><stop offset=".896" stop-color="#0452ab"/><stop offset=".9" stop-color="#034b9c"/><stop offset=".919" stop-color="#0352ae"/><stop offset=".942" stop-color="#0353b0"/><stop offset=".973" stop-color="#054c9a"/><stop offset="1" stop-color="#053f7d"/></linearGradient><linearGradient id="g29" gradientUnits="userSpaceOnUse" x1="1347" x2="4887" y1="0" y2="0"><stop offset="0" stop-color="#0a60e2"/><stop offset=".004" stop-color="#0968e3"/><stop offset=".012" stop-color="#0097c3"/><stop offset=".019" stop-color="#02afaa"/><stop offset=".023" stop-color="#16bb9d"/><stop offset=".031" stop-color="#45c27b"/><stop offset=".035" stop-color="#4dc376"/><stop offset=".05" stop-color="#1cbe98"/><stop offset=".062" stop-color="#04b4a8"/><stop offset=".089" stop-color="#00a5c0"/><stop offset=".139" stop-color="#00a3f4"/><stop offset=".151" stop-color="#0396ff"/><stop offset=".174" stop-color="#0d74ff"/><stop offset=".189" stop-color="#096fff"/><stop offset=".239" stop-color="#0459ba"/><stop offset=".259" stop-color="#0454ae"/><stop offset=".263" stop-color="#034c9e"/><stop offset=".293" stop-color="#0b60e4"/><stop offset=".301" stop-color="#0574dd"/><stop offset=".305" stop-color="#0292ee"/><stop offset=".309" stop-color="#028be9"/><stop offset=".317" stop-color="#086ce5"/><stop offset=".324" stop-color="#0b60e3"/><stop offset=".34" stop-color="#045bcb"/><stop offset=".378" stop-color="#0252af"/><stop offset=".398" stop-color="#0455b2"/><stop offset=".448" stop-color="#05478f"/><stop offset=".479" stop-color="#054386"/><stop offset=".753" stop-color="#053f7c"/><stop offset=".772" stop-color="#05458b"/><stop offset=".799" stop-color="#0457b4"/><stop offset=".811" stop-color="#0455b1"/><stop offset=".826" stop-color="#044d9f"/><stop offset=".853" stop-color="#035bbf"/><stop offset=".865" stop-color="#035cc2"/><stop offset=".892" stop-color="#0454af"/><stop offset=".9" stop-color="#034c9f"/><stop offset=".919" stop-color="#0353b1"/><stop offset=".923" stop-color="#035ac1"/><stop offset=".927" stop-color="#035ac2"/><stop offset=".95" stop-color="#0255b4"/><stop offset=".969" stop-color="#044996"/><stop offset="1" stop-color="#053f7d"/></linearGradient><linearGradient id="g30" gradientUnits="userSpaceOnUse" x1="1332" x2="4872" y1="0" y2="0"><stop offset="0" stop-color="#095fdd"/><stop offset=".004" stop-color="#0b63e5"/><stop offset=".008" stop-color="#0575dd"/><stop offset=".012" stop-color="#0093c6"/><stop offset=".019" stop-color="#02b2a8"/><stop offset=".023" stop-color="#27c090"/><stop offset=".027" stop-color="#5dc46a"/><stop offset=".031" stop-color="#83c54a"/><stop offset=".035" stop-color="#93c63d"/><stop offset=".039" stop-color="#88c546"/><stop offset=".042" stop-color="#70c55a"/><stop offset=".05" stop-color="#31c189"/><stop offset=".054" stop-color="#1cbe98"/><stop offset=".062" stop-color="#08b6a5"/><stop offset=".089" stop-color="#00a5c0"/><stop offset=".116" stop-color="#00a0f1"/><stop offset=".127" stop-color="#0590ff"/><stop offset=".151" stop-color="#0d75ff"/><stop offset=".17" stop-color="#086ffe"/><stop offset=".201" stop-color="#0360cc"/><stop offset=".22" stop-color="#064fa2"/><stop offset=".232" stop-color="#064b96"/><stop offset=".255" stop-color="#054ea1"/><stop offset=".259" stop-color="#044894"/><stop offset=".293" stop-color="#0a60e2"/><stop offset=".297" stop-color="#0c6fff"/><stop offset=".305" stop-color="#097fff"/><stop offset=".313" stop-color="#097aff"/><stop offset=".328" stop-color="#0a61e3"/><stop offset=".34" stop-color="#055ed3"/><stop offset=".347" stop-color="#0560d7"/><stop offset=".394" stop-color="#0350a8"/><stop offset=".479" stop-color="#054488"/><stop offset=".614" stop-color="#053f7d"/><stop offset=".753" stop-color="#053e7c"/><stop offset=".772" stop-color="#054488"/><stop offset=".799" stop-color="#0553aa"/><stop offset=".819" stop-color="#044ea0"/><stop offset=".822" stop-color="#044794"/><stop offset=".834" stop-color="#034a99"/><stop offset=".838" stop-color="#0450a7"/><stop offset=".861" stop-color="#0456b3"/><stop offset=".896" stop-color="#0452ab"/><stop offset=".911" stop-color="#035bc2"/><stop offset=".927" stop-color="#035fcc"/><stop offset=".95" stop-color="#0358bb"/><stop offset=".977" stop-color="#05458b"/><stop offset="1" stop-color="#053f7d"/></linearGradient><linearGradient id="g31" gradientUnits="userSpaceOnUse" x1="1317" x2="4857" y1="0" y2="0"><stop offset="0" stop-color="#0a5fe0"/><stop offset=".004" stop-color="#0967e4"/><stop offset=".012" stop-color="#009bc0"/><stop offset=".015" stop-color="#01a8af"/><stop offset=".019" stop-color="#16bc9c"/><stop offset=".027" stop-color="#a0c537"/><stop offset=".031" stop-color="#c9c227"/><stop offset=".035" stop-color="#d9c025"/><stop offset=".039" stop-color="#cdc127"/><stop offset=".042" stop-color="#b1c42f"/><stop offset=".046" stop-color="#84c548"/><stop offset=".05" stop-color="#51c372"/><stop offset=".054" stop-color="#2ac08e"/><stop offset=".062" stop-color="#0cb7a3"/><stop offset=".069" stop-color="#02b1ac"/><stop offset=".093" stop-color="#00a3c4"/><stop offset=".108" stop-color="#0096e3"/><stop offset=".12" stop-color="#087cff"/><stop offset=".131" stop-color="#0d70ff"/><stop offset=".143" stop-color="#096efe"/><stop offset=".174" stop-color="#0361ce"/><stop offset=".201" stop-color="#064a94"/><stop offset=".228" stop-color="#054385"/><stop offset=".255" stop-color="#054c9d"/><stop offset=".259" stop-color="#044793"/><stop offset=".29" stop-color="#075ed9"/><stop offset=".293" stop-color="#0b6bfa"/><stop offset=".297" stop-color="#0d6cff"/><stop offset=".301" stop-color="#0a66e4"/><stop offset=".305" stop-color="#087cff"/><stop offset=".309" stop-color="#087eff"/><stop offset=".328" stop-color="#0a64ea"/><stop offset=".34" stop-color="#0561da"/><stop offset=".351" stop-color="#0464de"/><stop offset=".398" stop-color="#034fa6"/><stop offset=".429" stop-color="#05478f"/><stop offset=".606" stop-color="#053f7d"/><stop offset=".757" stop-color="#053f7c"/><stop offset=".795" stop-color="#054b99"/><stop offset=".811" stop-color="#044d9d"/><stop offset=".815" stop-color="#044793"/><stop offset=".846" stop-color="#034da2"/><stop offset=".849" stop-color="#0352ab"/><stop offset=".888" stop-color="#044fa2"/><stop offset=".911" stop-color="#035dc4"/><stop offset=".927" stop-color="#0361cf"/><stop offset=".946" stop-color="#035cc2"/><stop offset=".981" stop-color="#054386"/><stop offset="1" stop-color="#053f7c"/></linearGradient><linearGradient id="g32" gradientUnits="userSpaceOnUse" x1="1302" x2="4842" y1="0" y2="0"><stop offset="0" stop-color="#0a64e5"/><stop offset=".004" stop-color="#0574dd"/><stop offset=".008" stop-color="#0091c8"/><stop offset=".015" stop-color="#02b0aa"/><stop offset=".019" stop-color="#27c090"/><stop offset=".023" stop-color="#6ec55c"/><stop offset=".027" stop-color="#a9c432"/><stop offset=".031" stop-color="#cec127"/><stop offset=".035" stop-color="#ddbf25"/><stop offset=".039" stop-color="#cec127"/><stop offset=".042" stop-color="#b3c42e"/><stop offset=".046" stop-color="#88c545"/><stop offset=".05" stop-color="#56c46f"/><stop offset=".054" stop-color="#2ec08b"/><stop offset=".058" stop-color="#19bd9a"/><stop offset=".069" stop-color="#02b2ab"/><stop offset=".097" stop-color="#009fc6"/><stop offset=".108" stop-color="#018bda"/><stop offset=".116" stop-color="#0774ed"/><stop offset=".127" stop-color="#0c66f2"/><stop offset=".166" stop-color="#0358bb"/><stop offset=".189" stop-color="#05468d"/><stop offset=".208" stop-color="#05407e"/><stop offset=".232" stop-color="#054182"/><stop offset=".259" stop-color="#044ea1"/><stop offset=".29" stop-color="#066af0"/><stop offset=".297" stop-color="#0a6bf9"/><stop offset=".301" stop-color="#0b60e4"/><stop offset=".305" stop-color="#0b71ff"/><stop offset=".309" stop-color="#0a77ff"/><stop offset=".324" stop-color="#0b64ec"/><stop offset=".344" stop-color="#045fd3"/><stop offset=".351" stop-color="#0462d7"/><stop offset=".386" stop-color="#0353ae"/><stop offset=".432" stop-color="#05458b"/><stop offset=".602" stop-color="#053f7d"/><stop offset=".757" stop-color="#053f7c"/><stop offset=".78" stop-color="#054386"/><stop offset=".842" stop-color="#0355b2"/><stop offset=".861" stop-color="#0354b1"/><stop offset=".892" stop-color="#044ea1"/><stop offset=".911" stop-color="#035bbf"/><stop offset=".927" stop-color="#0360cb"/><stop offset=".946" stop-color="#035abd"/><stop offset=".981" stop-color="#054386"/><stop offset="1" stop-color="#053f7c"/></linearGradient><linearGradient id="g33" gradientUnits="userSpaceOnUse" x1="1288" x2="4828" y1="0" y2="0"><stop offset="0" stop-color="#0a60e2"/><stop offset=".004" stop-color="#086ae3"/><stop offset=".012" stop-color="#009dbd"/><stop offset=".015" stop-color="#01a9ae"/><stop offset=".019" stop-color="#0fb8a1"/><stop offset=".027" stop-color="#67c561"/><stop offset=".031" stop-color="#89c544"/><stop offset=".035" stop-color="#97c53b"/><stop offset=".039" stop-color="#8ec640"/><stop offset=".042" stop-color="#79c552"/><stop offset=".054" stop-color="#25c091"/><stop offset=".069" stop-color="#02b3aa"/><stop offset=".097" stop-color="#009fc3"/><stop offset=".108" stop-color="#008cd1"/><stop offset=".12" stop-color="#086de3"/><stop offset=".127" stop-color="#0b63e5"/><stop offset=".151" stop-color="#045aca"/><stop offset=".193" stop-color="#053f7e"/><stop offset=".224" stop-color="#053f7e"/><stop offset=".259" stop-color="#044ea1"/><stop offset=".286" stop-color="#0464db"/><stop offset=".29" stop-color="#0565e0"/><stop offset=".293" stop-color="#055cd2"/><stop offset=".301" stop-color="#0b60e5"/><stop offset=".305" stop-color="#0968e3"/><stop offset=".309" stop-color="#097bff"/><stop offset=".324" stop-color="#0c67f4"/><stop offset=".347" stop-color="#0458c2"/><stop offset=".367" stop-color="#035bc5"/><stop offset=".425" stop-color="#05478f"/><stop offset=".448" stop-color="#054487"/><stop offset=".595" stop-color="#053f7c"/><stop offset=".757" stop-color="#053f7c"/><stop offset=".784" stop-color="#054387"/><stop offset=".803" stop-color="#054c9c"/><stop offset=".842" stop-color="#0358b9"/><stop offset=".861" stop-color="#0357b7"/><stop offset=".892" stop-color="#044ea0"/><stop offset=".927" stop-color="#045bbf"/><stop offset=".946" stop-color="#0457b4"/><stop offset=".981" stop-color="#054284"/><stop offset="1" stop-color="#053f7c"/></linearGradient><linearGradient id="g34" gradientUnits="userSpaceOnUse" x1="1273" x2="4813" y1="0" y2="0"><stop offset="0" stop-color="#0a60e1"/><stop offset=".004" stop-color="#0968e3"/><stop offset=".012" stop-color="#009cbf"/><stop offset=".019" stop-color="#05b3a7"/><stop offset=".027" stop-color="#37c185"/><stop offset=".031" stop-color="#4ac378"/><stop offset=".035" stop-color="#52c372"/><stop offset=".042" stop-color="#44c27c"/><stop offset=".054" stop-color="#1fbf95"/><stop offset=".069" stop-color="#04b4a9"/><stop offset=".1" stop-color="#009fc6"/><stop offset=".112" stop-color="#008cd3"/><stop offset=".124" stop-color="#076de2"/><stop offset=".131" stop-color="#0a64e5"/><stop offset=".158" stop-color="#045ac8"/><stop offset=".162" stop-color="#045ccc"/><stop offset=".178" stop-color="#0254b3"/><stop offset=".185" stop-color="#044998"/><stop offset=".201" stop-color="#053e7c"/><stop offset=".228" stop-color="#05407f"/><stop offset=".266" stop-color="#0452ab"/><stop offset=".282" stop-color="#035dc8"/><stop offset=".286" stop-color="#0356bc"/><stop offset=".293" stop-color="#055cce"/><stop offset=".297" stop-color="#0868ee"/><stop offset=".305" stop-color="#0d71ff"/><stop offset=".309" stop-color="#0c79ff"/><stop offset=".313" stop-color="#0c78ff"/><stop offset=".32" stop-color="#0c6afb"/><stop offset=".34" stop-color="#065dd2"/><stop offset=".347" stop-color="#055ed2"/><stop offset=".359" stop-color="#0457be"/><stop offset=".382" stop-color="#035cc4"/><stop offset=".417" stop-color="#054b98"/><stop offset=".44" stop-color="#054387"/><stop offset=".479" stop-color="#05448a"/><stop offset=".583" stop-color="#053f7d"/><stop offset=".757" stop-color="#053f7c"/><stop offset=".784" stop-color="#054387"/><stop offset=".826" stop-color="#0355b2"/><stop offset=".849" stop-color="#035abe"/><stop offset=".865" stop-color="#0358b9"/><stop offset=".9" stop-color="#054d9e"/><stop offset=".919" stop-color="#0555af"/><stop offset=".938" stop-color="#0555ae"/><stop offset=".977" stop-color="#054285"/><stop offset="1" stop-color="#053f7c"/></linearGradient><linearGradient id="g35" gradientUnits="userSpaceOnUse" x1="1258" x2="4798" y1="0" y2="0"><stop offset="0" stop-color="#0b61e6"/><stop offset=".004" stop-color="#076fe1"/><stop offset=".008" stop-color="#008eca"/><stop offset=".015" stop-color="#01aaae"/><stop offset=".019" stop-color="#09b5a4"/><stop offset=".023" stop-color="#1cbe98"/><stop offset=".031" stop-color="#39c184"/><stop offset=".035" stop-color="#3cc281"/><stop offset=".039" stop-color="#30c18a"/><stop offset=".069" stop-color="#02b4ac"/><stop offset=".1" stop-color="#00a3cb"/><stop offset=".112" stop-color="#0092d8"/><stop offset=".127" stop-color="#0870ea"/><stop offset=".139" stop-color="#0c62e9"/><stop offset=".162" stop-color="#045bcc"/><stop offset=".205" stop-color="#054082"/><stop offset=".228" stop-color="#05407f"/><stop offset=".27" stop-color="#0353ae"/><stop offset=".274" stop-color="#034ea4"/><stop offset=".301" stop-color="#075dd6"/><stop offset=".305" stop-color="#0a6bf9"/><stop offset=".317" stop-color="#0c6eff"/><stop offset=".332" stop-color="#0960e1"/><stop offset=".421" stop-color="#05478f"/><stop offset=".44" stop-color="#054285"/><stop offset=".475" stop-color="#05458b"/><stop offset=".575" stop-color="#05407e"/><stop offset=".757" stop-color="#053e7c"/><stop offset=".784" stop-color="#054386"/><stop offset=".838" stop-color="#0358b9"/><stop offset=".849" stop-color="#035abd"/><stop offset=".869" stop-color="#0357b6"/><stop offset=".903" stop-color="#054b99"/><stop offset=".931" stop-color="#054ea0"/><stop offset="1" stop-color="#053f7c"/></linearGradient><linearGradient id="g36" gradientUnits="userSpaceOnUse" x1="1243" x2="4783" y1="0" y2="0"><stop offset="0" stop-color="#0a5fe0"/><stop offset=".004" stop-color="#0967e4"/><stop offset=".012" stop-color="#0099c1"/><stop offset=".019" stop-color="#02afaa"/><stop offset=".027" stop-color="#1dbe97"/><stop offset=".035" stop-color="#2ac08e"/><stop offset=".066" stop-color="#02b5ab"/><stop offset=".1" stop-color="#00a3d0"/><stop offset=".112" stop-color="#0096e1"/><stop offset=".124" stop-color="#067df3"/><stop offset=".139" stop-color="#0c6af9"/><stop offset=".162" stop-color="#0562dc"/><stop offset=".208" stop-color="#054387"/><stop offset=".228" stop-color="#054080"/><stop offset=".266" stop-color="#0451a9"/><stop offset=".27" stop-color="#034b9d"/><stop offset=".305" stop-color="#095fdd"/><stop offset=".309" stop-color="#0b6bfd"/><stop offset=".32" stop-color="#0c6dff"/><stop offset=".351" stop-color="#0563de"/><stop offset=".371" stop-color="#0355b9"/><stop offset=".421" stop-color="#054690"/><stop offset=".444" stop-color="#054285"/><stop offset=".475" stop-color="#05458a"/><stop offset=".571" stop-color="#054080"/><stop offset=".757" stop-color="#053f7c"/><stop offset=".78" stop-color="#054182"/><stop offset=".795" stop-color="#054790"/><stop offset=".799" stop-color="#054388"/><stop offset=".819" stop-color="#034a99"/><stop offset=".822" stop-color="#0451a8"/><stop offset=".857" stop-color="#0458b9"/><stop offset=".911" stop-color="#054892"/><stop offset=".927" stop-color="#054995"/><stop offset=".931" stop-color="#04448b"/><stop offset=".965" stop-color="#044792"/><stop offset="1" stop-color="#053f7c"/></linearGradient><linearGradient id="g37" gradientUnits="userSpaceOnUse" x1="1228" x2="4768" y1="0" y2="0"><stop offset="0" stop-color="#085ed9"/><stop offset=".004" stop-color="#0b60e5"/><stop offset=".008" stop-color="#076fe1"/><stop offset=".012" stop-color="#008fc9"/><stop offset=".015" stop-color="#009fb9"/><stop offset=".023" stop-color="#03b2a8"/><stop offset=".027" stop-color="#12baa0"/><stop offset=".035" stop-color="#1dbe97"/><stop offset=".046" stop-color="#17bc9c"/><stop offset=".062" stop-color="#03b5ab"/><stop offset=".081" stop-color="#00acbb"/><stop offset=".097" stop-color="#00a5d0"/><stop offset=".108" stop-color="#0099e4"/><stop offset=".124" stop-color="#087aff"/><stop offset=".139" stop-color="#0c6dff"/><stop offset=".162" stop-color="#0566e3"/><stop offset=".208" stop-color="#054488"/><stop offset=".228" stop-color="#054080"/><stop offset=".266" stop-color="#0451a8"/><stop offset=".27" stop-color="#034b9d"/><stop offset=".309" stop-color="#095fde"/><stop offset=".313" stop-color="#0b6afa"/><stop offset=".32" stop-color="#0b6dff"/><stop offset=".355" stop-color="#0563dd"/><stop offset=".375" stop-color="#0357be"/><stop offset=".448" stop-color="#054183"/><stop offset=".761" stop-color="#053f7c"/><stop offset=".78" stop-color="#054283"/><stop offset=".799" stop-color="#054a97"/><stop offset=".803" stop-color="#04458e"/><stop offset=".807" stop-color="#044fa2"/><stop offset=".834" stop-color="#0355b2"/><stop offset=".869" stop-color="#0454ae"/><stop offset=".9" stop-color="#054b98"/><stop offset=".907" stop-color="#054790"/><stop offset=".911" stop-color="#054285"/><stop offset=".942" stop-color="#034998"/><stop offset=".961" stop-color="#034b9c"/><stop offset="1" stop-color="#053f7c"/></linearGradient><linearGradient id="g38" gradientUnits="userSpaceOnUse" x1="1214" x2="4754" y1="0" y2="0"><stop offset="0" stop-color="#095fde"/><stop offset=".004" stop-color="#0a65e4"/><stop offset=".012" stop-color="#0094c5"/><stop offset=".015" stop-color="#00a1b6"/><stop offset=".023" stop-color="#04b3a7"/><stop offset=".027" stop-color="#10baa0"/><stop offset=".035" stop-color="#19bd9a"/><stop offset=".058" stop-color="#02b5ac"/><stop offset=".077" stop-color="#00acbb"/><stop offset=".093" stop-color="#00a5d0"/><stop offset=".104" stop-color="#0098e4"/><stop offset=".116" stop-color="#087cfd"/><stop offset=".131" stop-color="#0c6dff"/><stop offset=".158" stop-color="#0465df"/><stop offset=".201" stop-color="#05458b"/><stop offset=".22" stop-color="#05407e"/><stop offset=".232" stop-color="#054181"/><stop offset=".251" stop-color="#054995"/><stop offset=".255" stop-color="#04448b"/><stop offset=".27" stop-color="#034c9e"/><stop offset=".305" stop-color="#0b63ec"/><stop offset=".309" stop-color="#0c64ee"/><stop offset=".317" stop-color="#0a61e4"/><stop offset=".328" stop-color="#0968f2"/><stop offset=".344" stop-color="#0565e3"/><stop offset=".359" stop-color="#0566e3"/><stop offset=".429" stop-color="#054790"/><stop offset=".463" stop-color="#054284"/><stop offset=".761" stop-color="#053f7c"/><stop offset=".784" stop-color="#054385"/><stop offset=".811" stop-color="#0452aa"/><stop offset=".834" stop-color="#0358b9"/><stop offset=".896" stop-color="#054a97"/><stop offset=".903" stop-color="#054791"/><stop offset=".907" stop-color="#054286"/><stop offset=".942" stop-color="#034da1"/><stop offset=".965" stop-color="#034ea4"/><stop offset=".988" stop-color="#054184"/><stop offset="1" stop-color="#053f7c"/></linearGradient><linearGradient id="g39" gradientUnits="userSpaceOnUse" x1="1199" x2="4739" y1="0" y2="0"><stop offset="0" stop-color="#085eda"/><stop offset=".004" stop-color="#0b61e6"/><stop offset=".008" stop-color="#076fe1"/><stop offset=".012" stop-color="#008dcb"/><stop offset=".015" stop-color="#009ebb"/><stop offset=".019" stop-color="#00a6b0"/><stop offset=".027" stop-color="#07b7a8"/><stop offset=".035" stop-color="#11baa0"/><stop offset=".054" stop-color="#02b3ac"/><stop offset=".073" stop-color="#00a9b7"/><stop offset=".089" stop-color="#00a1c9"/><stop offset=".1" stop-color="#0092db"/><stop offset=".112" stop-color="#0875f2"/><stop offset=".124" stop-color="#0c69f8"/><stop offset=".166" stop-color="#035abf"/><stop offset=".189" stop-color="#05478e"/><stop offset=".208" stop-color="#05407e"/><stop offset=".239" stop-color="#054387"/><stop offset=".243" stop-color="#053f7f"/><stop offset=".286" stop-color="#0458c2"/><stop offset=".301" stop-color="#0b61e6"/><stop offset=".309" stop-color="#0969e3"/><stop offset=".32" stop-color="#0b62e8"/><stop offset=".332" stop-color="#0868f0"/><stop offset=".351" stop-color="#0563dd"/><stop offset=".367" stop-color="#0464db"/><stop offset=".398" stop-color="#035abe"/><stop offset=".429" stop-color="#044a97"/><stop offset=".475" stop-color="#054386"/><stop offset=".761" stop-color="#053f7c"/><stop offset=".788" stop-color="#054487"/><stop offset=".811" stop-color="#0552a8"/><stop offset=".834" stop-color="#0457b5"/><stop offset=".9" stop-color="#054790"/><stop offset=".903" stop-color="#054287"/><stop offset=".942" stop-color="#0250aa"/><stop offset=".965" stop-color="#0251ac"/><stop offset=".988" stop-color="#054286"/><stop offset="1" stop-color="#053f7c"/></linearGradient><linearGradient id="g40" gradientUnits="userSpaceOnUse" x1="1184" x2="4724" y1="0" y2="0"><stop offset="0" stop-color="#065dd3"/><stop offset=".008" stop-color="#0968e3"/><stop offset=".015" stop-color="#009bbf"/><stop offset=".023" stop-color="#02aeab"/><stop offset=".035" stop-color="#15bb9d"/><stop offset=".058" stop-color="#02b2a8"/><stop offset=".077" stop-color="#00a5b3"/><stop offset=".093" stop-color="#009bc4"/><stop offset=".104" stop-color="#0189d5"/><stop offset=".112" stop-color="#0773e6"/><stop offset=".124" stop-color="#0c64ee"/><stop offset=".162" stop-color="#0357b9"/><stop offset=".189" stop-color="#054386"/><stop offset=".208" stop-color="#053f7d"/><stop offset=".236" stop-color="#054386"/><stop offset=".239" stop-color="#053e7e"/><stop offset=".255" stop-color="#044895"/><stop offset=".286" stop-color="#055ed2"/><stop offset=".293" stop-color="#065dd5"/><stop offset=".301" stop-color="#0b61e6"/><stop offset=".305" stop-color="#0967e4"/><stop offset=".309" stop-color="#0a76ff"/><stop offset=".32" stop-color="#0b65ef"/><stop offset=".328" stop-color="#0863e5"/><stop offset=".34" stop-color="#0566e6"/><stop offset=".355" stop-color="#045fd1"/><stop offset=".375" stop-color="#0361d1"/><stop offset=".417" stop-color="#0450a7"/><stop offset=".479" stop-color="#054488"/><stop offset=".761" stop-color="#053f7c"/><stop offset=".792" stop-color="#054488"/><stop offset=".811" stop-color="#054fa1"/><stop offset=".826" stop-color="#0552a9"/><stop offset=".842" stop-color="#0552a9"/><stop offset=".892" stop-color="#05478f"/><stop offset=".9" stop-color="#054892"/><stop offset=".903" stop-color="#044389"/><stop offset=".938" stop-color="#0251ac"/><stop offset=".965" stop-color="#0354b3"/><stop offset=".988" stop-color="#054388"/><stop offset="1" stop-color="#053f7d"/></linearGradient><linearGradient id="g41" gradientUnits="userSpaceOnUse" x1="1169" x2="4709" y1="0" y2="0"><stop offset="0" stop-color="#085edb"/><stop offset=".004" stop-color="#0b62e5"/><stop offset=".008" stop-color="#0575dc"/><stop offset=".012" stop-color="#0092c6"/><stop offset=".015" stop-color="#00a1b6"/><stop offset=".023" stop-color="#08b5a5"/><stop offset=".027" stop-color="#17bc9c"/><stop offset=".035" stop-color="#23bf92"/><stop offset=".066" stop-color="#02b1a9"/><stop offset=".093" stop-color="#009ebf"/><stop offset=".104" stop-color="#008dd1"/><stop offset=".116" stop-color="#086fe9"/><stop offset=".124" stop-color="#0c65ef"/><stop offset=".162" stop-color="#0357b9"/><stop offset=".189" stop-color="#054285"/><stop offset=".208" stop-color="#053f7d"/><stop offset=".236" stop-color="#054488"/><stop offset=".239" stop-color="#053f80"/><stop offset=".282" stop-color="#055cd0"/><stop offset=".305" stop-color="#0a65e4"/><stop offset=".309" stop-color="#0b71fb"/><stop offset=".317" stop-color="#0c66f2"/><stop offset=".34" stop-color="#045ed0"/><stop offset=".359" stop-color="#0358bf"/><stop offset=".378" stop-color="#035bc0"/><stop offset=".479" stop-color="#054489"/><stop offset=".633" stop-color="#053f7d"/><stop offset=".761" stop-color="#053f7c"/><stop offset=".795" stop-color="#054488"/><stop offset=".811" stop-color="#054b97"/><stop offset=".83" stop-color="#054e9f"/><stop offset=".884" stop-color="#05468e"/><stop offset=".903" stop-color="#054a98"/><stop offset=".907" stop-color="#04458f"/><stop offset=".931" stop-color="#0250aa"/><stop offset=".95" stop-color="#0354b5"/><stop offset=".954" stop-color="#035ac2"/><stop offset=".961" stop-color="#0359c1"/><stop offset=".992" stop-color="#054183"/><stop offset="1" stop-color="#053f7d"/></linearGradient><linearGradient id="g42" gradientUnits="userSpaceOnUse" x1="1154" x2="4694" y1="0" y2="0"><stop offset="0" stop-color="#095fdd"/><stop offset=".004" stop-color="#0a65e4"/><stop offset=".012" stop-color="#0097c3"/><stop offset=".019" stop-color="#02afaa"/><stop offset=".027" stop-color="#20bf94"/><stop offset=".035" stop-color="#34c186"/><stop offset=".069" stop-color="#02b3a9"/><stop offset=".097" stop-color="#009fc3"/><stop offset=".108" stop-color="#018ad9"/><stop offset=".116" stop-color="#0871ec"/><stop offset=".124" stop-color="#0c66f2"/><stop offset=".158" stop-color="#0359bb"/><stop offset=".178" stop-color="#054790"/><stop offset=".189" stop-color="#054182"/><stop offset=".216" stop-color="#05407e"/><stop offset=".239" stop-color="#05468e"/><stop offset=".243" stop-color="#054286"/><stop offset=".278" stop-color="#045bcd"/><stop offset=".29" stop-color="#095fdd"/><stop offset=".293" stop-color="#0b69f7"/><stop offset=".297" stop-color="#0a60e2"/><stop offset=".305" stop-color="#0968e3"/><stop offset=".309" stop-color="#0a75fe"/><stop offset=".32" stop-color="#0b65ef"/><stop offset=".336" stop-color="#055dd2"/><stop offset=".344" stop-color="#055dd0"/><stop offset=".371" stop-color="#0353b3"/><stop offset=".421" stop-color="#054b99"/><stop offset=".479" stop-color="#054385"/><stop offset=".761" stop-color="#053f7c"/><stop offset=".83" stop-color="#054993"/><stop offset=".884" stop-color="#054489"/><stop offset=".915" stop-color="#0451a7"/><stop offset=".919" stop-color="#034b9d"/><stop offset=".931" stop-color="#0251ab"/><stop offset=".934" stop-color="#035abf"/><stop offset=".954" stop-color="#035ecb"/><stop offset=".961" stop-color="#035dc9"/><stop offset=".988" stop-color="#05448a"/><stop offset="1" stop-color="#053f7d"/></linearGradient><linearGradient id="g43" gradientUnits="userSpaceOnUse" x1="1140" x2="4680" y1="0" y2="0"><stop offset="0" stop-color="#065dd5"/><stop offset=".004" stop-color="#0a60e2"/><stop offset=".008" stop-color="#086ce2"/><stop offset=".012" stop-color="#008dcb"/><stop offset=".015" stop-color="#009fb9"/><stop offset=".023" stop-color="#0ab6a4"/><stop offset=".035" stop-color="#32c188"/><stop offset=".046" stop-color="#2ac08e"/><stop offset=".069" stop-color="#04b5a9"/><stop offset=".097" stop-color="#00a2c6"/><stop offset=".104" stop-color="#0095d5"/><stop offset=".112" stop-color="#057ce9"/><stop offset=".12" stop-color="#0b6bf2"/><stop offset=".135" stop-color="#0562de"/><stop offset=".178" stop-color="#054488"/><stop offset=".193" stop-color="#053f7d"/><stop offset=".22" stop-color="#05407f"/><stop offset=".236" stop-color="#05458a"/><stop offset=".247" stop-color="#054c9a"/><stop offset=".251" stop-color="#044792"/><stop offset=".27" stop-color="#0356bb"/><stop offset=".274" stop-color="#0462d8"/><stop offset=".29" stop-color="#096dfd"/><stop offset=".297" stop-color="#0b6cfc"/><stop offset=".301" stop-color="#0b60e4"/><stop offset=".305" stop-color="#0c71ff"/><stop offset=".313" stop-color="#0c6fff"/><stop offset=".332" stop-color="#0861e1"/><stop offset=".402" stop-color="#034a99"/><stop offset=".479" stop-color="#054285"/><stop offset=".761" stop-color="#053e7c"/><stop offset=".784" stop-color="#054487"/><stop offset=".884" stop-color="#05448a"/><stop offset=".892" stop-color="#05468d"/><stop offset=".938" stop-color="#035dc7"/><stop offset=".958" stop-color="#0460d1"/><stop offset=".961" stop-color="#0460cf"/><stop offset=".988" stop-color="#05458b"/><stop offset="1" stop-color="#053f7d"/></linearGradient><linearGradient id="g44" gradientUnits="userSpaceOnUse" x1="1125" x2="4665" y1="0" y2="0"><stop offset="0" stop-color="#075ed7"/><stop offset=".004" stop-color="#0b60e4"/><stop offset=".008" stop-color="#076ee1"/><stop offset=".012" stop-color="#008eca"/><stop offset=".015" stop-color="#00a0b9"/><stop offset=".023" stop-color="#08b5a5"/><stop offset=".027" stop-color="#18bc9b"/><stop offset=".035" stop-color="#2ac08e"/><stop offset=".069" stop-color="#02b4ad"/><stop offset=".097" stop-color="#00a1cb"/><stop offset=".104" stop-color="#0092da"/><stop offset=".112" stop-color="#0776ec"/><stop offset=".12" stop-color="#0b67f0"/><stop offset=".135" stop-color="#055fd5"/><stop offset=".17" stop-color="#05448a"/><stop offset=".185" stop-color="#053f7d"/><stop offset=".216" stop-color="#05407e"/><stop offset=".236" stop-color="#054489"/><stop offset=".251" stop-color="#054ea0"/><stop offset=".286" stop-color="#056aed"/><stop offset=".29" stop-color="#066aef"/><stop offset=".293" stop-color="#065dd4"/><stop offset=".301" stop-color="#0b60e3"/><stop offset=".324" stop-color="#0961e1"/><stop offset=".336" stop-color="#0869f1"/><stop offset=".398" stop-color="#034da2"/><stop offset=".413" stop-color="#034fa5"/><stop offset=".456" stop-color="#05468e"/><stop offset=".506" stop-color="#054285"/><stop offset=".757" stop-color="#053f7c"/><stop offset=".788" stop-color="#054387"/><stop offset=".865" stop-color="#05458b"/><stop offset=".869" stop-color="#054184"/><stop offset=".892" stop-color="#054388"/><stop offset=".934" stop-color="#035dc4"/><stop offset=".958" stop-color="#0361d2"/><stop offset=".961" stop-color="#0361d1"/><stop offset=".988" stop-color="#05458b"/><stop offset="1" stop-color="#053f7d"/></linearGradient><linearGradient id="g45" gradientUnits="userSpaceOnUse" x1="1110" x2="4650" y1="0" y2="0"><stop offset="0" stop-color="#085eda"/><stop offset=".004" stop-color="#0b61e6"/><stop offset=".008" stop-color="#0671df"/><stop offset=".012" stop-color="#0090c8"/><stop offset=".015" stop-color="#00a0b8"/><stop offset=".023" stop-color="#06b4a6"/><stop offset=".027" stop-color="#15bb9d"/><stop offset=".035" stop-color="#22bf93"/><stop offset=".066" stop-color="#02b4ac"/><stop offset=".093" stop-color="#00a3c6"/><stop offset=".104" stop-color="#008ed8"/><stop offset=".112" stop-color="#0772e8"/><stop offset=".12" stop-color="#0b64e9"/><stop offset=".154" stop-color="#0251ac"/><stop offset=".174" stop-color="#054081"/><stop offset=".181" stop-color="#053d7a"/><stop offset=".236" stop-color="#054387"/><stop offset=".251" stop-color="#054c9a"/><stop offset=".274" stop-color="#0360cd"/><stop offset=".278" stop-color="#035fce"/><stop offset=".282" stop-color="#0457be"/><stop offset=".297" stop-color="#0b60e5"/><stop offset=".305" stop-color="#0675e6"/><stop offset=".309" stop-color="#0679eb"/><stop offset=".324" stop-color="#0a60e2"/><stop offset=".332" stop-color="#0761e0"/><stop offset=".344" stop-color="#056aee"/><stop offset=".39" stop-color="#0358b9"/><stop offset=".417" stop-color="#0355b3"/><stop offset=".452" stop-color="#054a98"/><stop offset=".517" stop-color="#054386"/><stop offset=".645" stop-color="#053f7d"/><stop offset=".764" stop-color="#053f7c"/><stop offset=".784" stop-color="#054386"/><stop offset=".853" stop-color="#05468d"/><stop offset=".857" stop-color="#054285"/><stop offset=".9" stop-color="#04458e"/><stop offset=".907" stop-color="#044a99"/><stop offset=".911" stop-color="#044690"/><stop offset=".919" stop-color="#044896"/><stop offset=".923" stop-color="#0451a9"/><stop offset=".942" stop-color="#035fc9"/><stop offset=".958" stop-color="#0361cf"/><stop offset=".965" stop-color="#035dc5"/><stop offset=".973" stop-color="#0353ad"/><stop offset=".988" stop-color="#05448a"/><stop offset="1" stop-color="#053f7d"/></linearGradient><linearGradient id="g46" gradientUnits="userSpaceOnUse" x1="1095" x2="4635" y1="0" y2="0"><stop offset="0" stop-color="#055cd1"/><stop offset=".008" stop-color="#0967e4"/><stop offset=".015" stop-color="#009bc0"/><stop offset=".023" stop-color="#02afaa"/><stop offset=".035" stop-color="#1cbe97"/><stop offset=".046" stop-color="#18bc9b"/><stop offset=".066" stop-color="#02b1aa"/><stop offset=".093" stop-color="#009ec0"/><stop offset=".104" stop-color="#008bcd"/><stop offset=".116" stop-color="#086ce2"/><stop offset=".124" stop-color="#0b61e6"/><stop offset=".143" stop-color="#045bca"/><stop offset=".147" stop-color="#045dcf"/><stop offset=".151" stop-color="#045cc9"/><stop offset=".162" stop-color="#0256b5"/><stop offset=".185" stop-color="#053d7b"/><stop offset=".189" stop-color="#053c79"/><stop offset=".232" stop-color="#054182"/><stop offset=".247" stop-color="#054892"/><stop offset=".266" stop-color="#0455b0"/><stop offset=".274" stop-color="#0251ac"/><stop offset=".293" stop-color="#0a60e1"/><stop offset=".301" stop-color="#0670e0"/><stop offset=".305" stop-color="#0281d3"/><stop offset=".309" stop-color="#0288de"/><stop offset=".317" stop-color="#0770e6"/><stop offset=".324" stop-color="#0c63eb"/><stop offset=".336" stop-color="#0761dd"/><stop offset=".359" stop-color="#0463d9"/><stop offset=".386" stop-color="#0359bb"/><stop offset=".417" stop-color="#0458b8"/><stop offset=".452" stop-color="#054d9d"/><stop offset=".51" stop-color="#05458b"/><stop offset=".641" stop-color="#053f7d"/><stop offset=".764" stop-color="#053f7c"/><stop offset=".849" stop-color="#054790"/><stop offset=".853" stop-color="#054388"/><stop offset=".88" stop-color="#044793"/><stop offset=".907" stop-color="#044894"/><stop offset=".931" stop-color="#034ea4"/><stop offset=".934" stop-color="#0353b0"/><stop offset=".961" stop-color="#035ec7"/><stop offset=".985" stop-color="#054790"/><stop offset="1" stop-color="#053f7d"/></linearGradient><linearGradient id="g47" gradientUnits="userSpaceOnUse" x1="1080" x2="4620" y1="0" y2="0"><stop offset="0" stop-color="#065dd3"/><stop offset=".004" stop-color="#0a5fe0"/><stop offset=".008" stop-color="#086be3"/><stop offset=".012" stop-color="#008bcc"/><stop offset=".015" stop-color="#009fba"/><stop offset=".023" stop-color="#09b5a4"/><stop offset=".035" stop-color="#33c188"/><stop offset=".046" stop-color="#2bc08d"/><stop offset=".073" stop-color="#02b0a9"/><stop offset=".1" stop-color="#009ac0"/><stop offset=".112" stop-color="#0186d0"/><stop offset=".12" stop-color="#076fe1"/><stop offset=".131" stop-color="#0b60e5"/><stop offset=".17" stop-color="#0251ab"/><stop offset=".193" stop-color="#053f7e"/><stop offset=".228" stop-color="#05407f"/><stop offset=".259" stop-color="#044ea0"/><stop offset=".263" stop-color="#044896"/><stop offset=".27" stop-color="#034c9f"/><stop offset=".29" stop-color="#075dd6"/><stop offset=".297" stop-color="#0a64e5"/><stop offset=".301" stop-color="#076de2"/><stop offset=".305" stop-color="#0391fa"/><stop offset=".309" stop-color="#0393fb"/><stop offset=".317" stop-color="#0876f7"/><stop offset=".324" stop-color="#0c68f6"/><stop offset=".347" stop-color="#045ccb"/><stop offset=".386" stop-color="#0355b2"/><stop offset=".413" stop-color="#0453ad"/><stop offset=".44" stop-color="#054d9d"/><stop offset=".475" stop-color="#054b99"/><stop offset=".51" stop-color="#05458c"/><stop offset=".637" stop-color="#053f7e"/><stop offset=".764" stop-color="#053f7c"/><stop offset=".849" stop-color="#054994"/><stop offset=".853" stop-color="#04448b"/><stop offset=".896" stop-color="#034da1"/><stop offset=".907" stop-color="#034a9a"/><stop offset=".927" stop-color="#0251ab"/><stop offset=".961" stop-color="#0356b3"/><stop offset=".965" stop-color="#0455b2"/><stop offset=".988" stop-color="#054387"/><stop offset="1" stop-color="#053f7d"/></linearGradient><linearGradient id="g48" gradientUnits="userSpaceOnUse" x1="1066" x2="4606" y1="0" y2="0"><stop offset="0" stop-color="#095fdc"/><stop offset=".004" stop-color="#0a64e5"/><stop offset=".012" stop-color="#009ac1"/><stop offset=".019" stop-color="#05b3a6"/><stop offset=".027" stop-color="#38c184"/><stop offset=".031" stop-color="#4ac378"/><stop offset=".035" stop-color="#52c372"/><stop offset=".05" stop-color="#3dc280"/><stop offset=".077" stop-color="#04b4a7"/><stop offset=".104" stop-color="#009dc0"/><stop offset=".116" stop-color="#0088cf"/><stop offset=".124" stop-color="#0671df"/><stop offset=".135" stop-color="#0b60e5"/><stop offset=".174" stop-color="#0251ab"/><stop offset=".193" stop-color="#054082"/><stop offset=".205" stop-color="#053e7b"/><stop offset=".228" stop-color="#05407f"/><stop offset=".259" stop-color="#044ea0"/><stop offset=".263" stop-color="#044996"/><stop offset=".27" stop-color="#034ca0"/><stop offset=".297" stop-color="#0a60e2"/><stop offset=".301" stop-color="#0b71ff"/><stop offset=".305" stop-color="#0a7eff"/><stop offset=".309" stop-color="#097eff"/><stop offset=".32" stop-color="#0b66f1"/><stop offset=".344" stop-color="#045ac7"/><stop offset=".367" stop-color="#0353b1"/><stop offset=".44" stop-color="#044a99"/><stop offset=".629" stop-color="#05407e"/><stop offset=".764" stop-color="#053f7c"/><stop offset=".819" stop-color="#054488"/><stop offset=".857" stop-color="#044c9d"/><stop offset=".861" stop-color="#044793"/><stop offset=".876" stop-color="#034b9c"/><stop offset=".88" stop-color="#0351a9"/><stop offset=".907" stop-color="#0351a9"/><stop offset=".911" stop-color="#034da1"/><stop offset=".923" stop-color="#0251ac"/><stop offset=".927" stop-color="#0358bc"/><stop offset=".934" stop-color="#0359be"/><stop offset=".954" stop-color="#0256b5"/><stop offset=".973" stop-color="#054a98"/><stop offset="1" stop-color="#053f7d"/></linearGradient><linearGradient id="g49" gradientUnits="userSpaceOnUse" x1="1051" x2="4591" y1="0" y2="0"><stop offset="0" stop-color="#065dd3"/><stop offset=".004" stop-color="#0a60e1"/><stop offset=".008" stop-color="#086ce2"/><stop offset=".012" stop-color="#008eca"/><stop offset=".019" stop-color="#02afaa"/><stop offset=".023" stop-color="#18bc9b"/><stop offset=".031" stop-color="#51c373"/><stop offset=".035" stop-color="#5fc469"/><stop offset=".042" stop-color="#5cc46b"/><stop offset=".062" stop-color="#24bf92"/><stop offset=".077" stop-color="#05b5a8"/><stop offset=".104" stop-color="#00a0c1"/><stop offset=".116" stop-color="#008ccc"/><stop offset=".127" stop-color="#076ee1"/><stop offset=".135" stop-color="#0a65e4"/><stop offset=".139" stop-color="#0c65f1"/><stop offset=".158" stop-color="#0563dd"/><stop offset=".174" stop-color="#035bc4"/><stop offset=".208" stop-color="#053b76"/><stop offset=".22" stop-color="#053d79"/><stop offset=".263" stop-color="#0450a6"/><stop offset=".266" stop-color="#034b9b"/><stop offset=".27" stop-color="#034da0"/><stop offset=".286" stop-color="#045aca"/><stop offset=".301" stop-color="#0b61e6"/><stop offset=".305" stop-color="#0b72ff"/><stop offset=".309" stop-color="#0a76ff"/><stop offset=".324" stop-color="#0b61e5"/><stop offset=".371" stop-color="#0353b3"/><stop offset=".39" stop-color="#034ea5"/><stop offset=".479" stop-color="#05468e"/><stop offset=".629" stop-color="#05407e"/><stop offset=".768" stop-color="#053f7c"/><stop offset=".822" stop-color="#05458a"/><stop offset=".88" stop-color="#0354b0"/><stop offset=".907" stop-color="#0353ae"/><stop offset=".919" stop-color="#035abf"/><stop offset=".934" stop-color="#035dc8"/><stop offset=".954" stop-color="#0359bc"/><stop offset=".977" stop-color="#054790"/><stop offset="1" stop-color="#053f7d"/></linearGradient><linearGradient id="g50" gradientUnits="userSpaceOnUse" x1="1036" x2="4576" y1="0" y2="0"><stop offset="0" stop-color="#055cd1"/><stop offset=".004" stop-color="#095fde"/><stop offset=".008" stop-color="#0969e3"/><stop offset=".012" stop-color="#008bcc"/><stop offset=".019" stop-color="#02aeab"/><stop offset=".023" stop-color="#19bc9a"/><stop offset=".031" stop-color="#5ac46c"/><stop offset=".035" stop-color="#6bc55e"/><stop offset=".039" stop-color="#6cc55d"/><stop offset=".046" stop-color="#61c467"/><stop offset=".066" stop-color="#1cbe98"/><stop offset=".081" stop-color="#02b2ab"/><stop offset=".12" stop-color="#008fc9"/><stop offset=".127" stop-color="#018adc"/><stop offset=".139" stop-color="#0876f4"/><stop offset=".151" stop-color="#0c6bfc"/><stop offset=".17" stop-color="#0666e7"/><stop offset=".185" stop-color="#035ecc"/><stop offset=".224" stop-color="#053b75"/><stop offset=".232" stop-color="#053b76"/><stop offset=".236" stop-color="#054183"/><stop offset=".263" stop-color="#0450a6"/><stop offset=".266" stop-color="#034b9c"/><stop offset=".29" stop-color="#055ccf"/><stop offset=".301" stop-color="#0b60e4"/><stop offset=".305" stop-color="#0967e4"/><stop offset=".309" stop-color="#0a77ff"/><stop offset=".324" stop-color="#0c67f5"/><stop offset=".332" stop-color="#0a68f3"/><stop offset=".351" stop-color="#0561d9"/><stop offset=".363" stop-color="#0459c2"/><stop offset=".39" stop-color="#0251ad"/><stop offset=".405" stop-color="#0353af"/><stop offset=".498" stop-color="#05458b"/><stop offset=".629" stop-color="#05407f"/><stop offset=".768" stop-color="#053f7d"/><stop offset=".826" stop-color="#05468d"/><stop offset=".884" stop-color="#0357b6"/><stop offset=".907" stop-color="#0355b1"/><stop offset=".934" stop-color="#035fcb"/><stop offset=".95" stop-color="#035cc3"/><stop offset=".961" stop-color="#0355b2"/><stop offset=".981" stop-color="#05448a"/><stop offset="1" stop-color="#053f7c"/></linearGradient><linearGradient id="g51" gradientUnits="userSpaceOnUse" x1="1021" x2="4561" y1="0" y2="0"><stop offset="0" stop-color="#075ed7"/><stop offset=".004" stop-color="#0b60e5"/><stop offset=".008" stop-color="#0672df"/><stop offset=".012" stop-color="#0094c5"/><stop offset=".019" stop-color="#05b3a7"/><stop offset=".023" stop-color="#26c091"/><stop offset=".027" stop-color="#4fc374"/><stop offset=".031" stop-color="#6dc55c"/><stop offset=".035" stop-color="#7ec54e"/><stop offset=".039" stop-color="#83c549"/><stop offset=".046" stop-color="#6dc55c"/><stop offset=".062" stop-color="#29c08f"/><stop offset=".081" stop-color="#02b3ab"/><stop offset=".124" stop-color="#0095c4"/><stop offset=".139" stop-color="#008dd8"/><stop offset=".154" stop-color="#0874f2"/><stop offset=".166" stop-color="#0c68f8"/><stop offset=".197" stop-color="#045dca"/><stop offset=".228" stop-color="#054082"/><stop offset=".232" stop-color="#054081"/><stop offset=".259" stop-color="#044ea1"/><stop offset=".263" stop-color="#044997"/><stop offset=".29" stop-color="#065dd4"/><stop offset=".301" stop-color="#0b61e6"/><stop offset=".305" stop-color="#0a64e5"/><stop offset=".309" stop-color="#0a72fd"/><stop offset=".328" stop-color="#0a63e9"/><stop offset=".34" stop-color="#0669ee"/><stop offset=".363" stop-color="#045dcd"/><stop offset=".402" stop-color="#0353b0"/><stop offset=".432" stop-color="#044d9f"/><stop offset=".467" stop-color="#054c9b"/><stop offset=".502" stop-color="#05458b"/><stop offset=".537" stop-color="#054791"/><stop offset=".618" stop-color="#054180"/><stop offset=".768" stop-color="#053f7d"/><stop offset=".811" stop-color="#054385"/><stop offset=".88" stop-color="#0357b6"/><stop offset=".896" stop-color="#0358b9"/><stop offset=".911" stop-color="#0455b1"/><stop offset=".934" stop-color="#035ec5"/><stop offset=".958" stop-color="#0456b4"/><stop offset=".985" stop-color="#054183"/><stop offset="1" stop-color="#053f7c"/></linearGradient><linearGradient id="g52" gradientUnits="userSpaceOnUse" x1="1006" x2="4546" y1="0" y2="0"><stop offset="0" stop-color="#055cd1"/><stop offset=".004" stop-color="#095fdf"/><stop offset=".008" stop-color="#086ae3"/><stop offset=".012" stop-color="#008dcb"/><stop offset=".019" stop-color="#02b0a9"/><stop offset=".023" stop-color="#20bf95"/><stop offset=".027" stop-color="#4fc374"/><stop offset=".031" stop-color="#72c558"/><stop offset=".035" stop-color="#87c546"/><stop offset=".039" stop-color="#8fc63f"/><stop offset=".046" stop-color="#79c552"/><stop offset=".058" stop-color="#3dc280"/><stop offset=".066" stop-color="#1ebe96"/><stop offset=".081" stop-color="#02b3ab"/><stop offset=".143" stop-color="#009be3"/><stop offset=".158" stop-color="#077df7"/><stop offset=".17" stop-color="#0c6cfa"/><stop offset=".193" stop-color="#0562db"/><stop offset=".224" stop-color="#044c9d"/><stop offset=".236" stop-color="#054893"/><stop offset=".259" stop-color="#044fa2"/><stop offset=".263" stop-color="#044997"/><stop offset=".293" stop-color="#095fdd"/><stop offset=".305" stop-color="#0967e4"/><stop offset=".309" stop-color="#0975fc"/><stop offset=".328" stop-color="#0a63e9"/><stop offset=".34" stop-color="#0561d9"/><stop offset=".347" stop-color="#0564dd"/><stop offset=".367" stop-color="#0461d5"/><stop offset=".394" stop-color="#0358bc"/><stop offset=".502" stop-color="#05468e"/><stop offset=".548" stop-color="#05468e"/><stop offset=".618" stop-color="#054080"/><stop offset=".768" stop-color="#053f7e"/><stop offset=".819" stop-color="#054488"/><stop offset=".884" stop-color="#0457b5"/><stop offset=".915" stop-color="#0454ad"/><stop offset=".938" stop-color="#0459b9"/><stop offset=".958" stop-color="#0453ac"/><stop offset=".973" stop-color="#05468e"/><stop offset="1" stop-color="#053f7c"/></linearGradient><linearGradient id="g53" gradientUnits="userSpaceOnUse" x1="992" x2="4532" y1="0" y2="0"><stop offset="0" stop-color="#045bcb"/><stop offset=".008" stop-color="#0a65e5"/><stop offset=".015" stop-color="#009ebb"/><stop offset=".019" stop-color="#02adab"/><stop offset=".023" stop-color="#1bbd98"/><stop offset=".031" stop-color="#73c557"/><stop offset=".035" stop-color="#8cc641"/><stop offset=".039" stop-color="#96c53b"/><stop offset=".042" stop-color="#91c63e"/><stop offset=".046" stop-color="#83c549"/><stop offset=".058" stop-color="#41c27e"/><stop offset=".066" stop-color="#1fbe96"/><stop offset=".077" stop-color="#07b6a7"/><stop offset=".097" stop-color="#00abb9"/><stop offset=".124" stop-color="#00a8e7"/><stop offset=".131" stop-color="#00a3f4"/><stop offset=".139" stop-color="#0495ff"/><stop offset=".147" stop-color="#0883ff"/><stop offset=".158" stop-color="#0d76ff"/><stop offset=".174" stop-color="#086ffe"/><stop offset=".201" stop-color="#035fca"/><stop offset=".22" stop-color="#054c9a"/><stop offset=".236" stop-color="#05478e"/><stop offset=".259" stop-color="#044fa2"/><stop offset=".263" stop-color="#044896"/><stop offset=".29" stop-color="#065dd4"/><stop offset=".293" stop-color="#0969f4"/><stop offset=".297" stop-color="#0b6cfd"/><stop offset=".309" stop-color="#0b7aff"/><stop offset=".32" stop-color="#0c70ff"/><stop offset=".324" stop-color="#0c6afb"/><stop offset=".34" stop-color="#055fd3"/><stop offset=".367" stop-color="#045dcc"/><stop offset=".398" stop-color="#0356b7"/><stop offset=".413" stop-color="#035abe"/><stop offset=".467" stop-color="#054b99"/><stop offset=".614" stop-color="#054181"/><stop offset=".761" stop-color="#053f7d"/><stop offset=".822" stop-color="#054489"/><stop offset=".873" stop-color="#0453aa"/><stop offset=".892" stop-color="#0455b1"/><stop offset=".919" stop-color="#0551a6"/><stop offset=".942" stop-color="#0553ab"/><stop offset="1" stop-color="#053f7c"/></linearGradient><linearGradient id="g54" gradientUnits="userSpaceOnUse" x1="977" x2="4517" y1="0" y2="0"><stop offset="0" stop-color="#065dd2"/><stop offset=".004" stop-color="#0a5fe0"/><stop offset=".008" stop-color="#086be2"/><stop offset=".012" stop-color="#008eca"/><stop offset=".019" stop-color="#02b1a9"/><stop offset=".023" stop-color="#20bf95"/><stop offset=".027" stop-color="#4ec375"/><stop offset=".031" stop-color="#70c559"/><stop offset=".035" stop-color="#86c547"/><stop offset=".039" stop-color="#8ec640"/><stop offset=".046" stop-color="#79c552"/><stop offset=".058" stop-color="#3ec280"/><stop offset=".066" stop-color="#1fbe96"/><stop offset=".077" stop-color="#07b6a7"/><stop offset=".097" stop-color="#00aabc"/><stop offset=".116" stop-color="#009eeb"/><stop offset=".124" stop-color="#0687ff"/><stop offset=".135" stop-color="#0d73ff"/><stop offset=".147" stop-color="#096fff"/><stop offset=".174" stop-color="#0361ce"/><stop offset=".197" stop-color="#064b96"/><stop offset=".224" stop-color="#054283"/><stop offset=".239" stop-color="#05458a"/><stop offset=".263" stop-color="#0450a5"/><stop offset=".297" stop-color="#096dfd"/><stop offset=".313" stop-color="#0d74ff"/><stop offset=".32" stop-color="#0b6fff"/><stop offset=".34" stop-color="#0562dc"/><stop offset=".398" stop-color="#0356b8"/><stop offset=".421" stop-color="#0356b4"/><stop offset=".471" stop-color="#054a98"/><stop offset=".614" stop-color="#054182"/><stop offset=".768" stop-color="#053f7e"/><stop offset=".826" stop-color="#054489"/><stop offset=".9" stop-color="#0550a4"/><stop offset=".95" stop-color="#054c9b"/><stop offset=".954" stop-color="#044690"/><stop offset=".969" stop-color="#044997"/><stop offset="1" stop-color="#053f7d"/></linearGradient><linearGradient id="g55" gradientUnits="userSpaceOnUse" x1="962" x2="4502" y1="0" y2="0"><stop offset="0" stop-color="#055ccf"/><stop offset=".008" stop-color="#0968e3"/><stop offset=".012" stop-color="#008acd"/><stop offset=".019" stop-color="#02aeab"/><stop offset=".023" stop-color="#1abd99"/><stop offset=".031" stop-color="#63c565"/><stop offset=".035" stop-color="#78c553"/><stop offset=".039" stop-color="#80c54c"/><stop offset=".046" stop-color="#6fc55b"/><stop offset=".066" stop-color="#1ebe96"/><stop offset=".077" stop-color="#07b5a7"/><stop offset=".093" stop-color="#00a9b7"/><stop offset=".104" stop-color="#009fcf"/><stop offset=".112" stop-color="#028de6"/><stop offset=".116" stop-color="#077df5"/><stop offset=".124" stop-color="#0c6cff"/><stop offset=".139" stop-color="#0567e5"/><stop offset=".174" stop-color="#064992"/><stop offset=".208" stop-color="#053f7d"/><stop offset=".236" stop-color="#054285"/><stop offset=".27" stop-color="#0455b1"/><stop offset=".274" stop-color="#034fa7"/><stop offset=".305" stop-color="#085edb"/><stop offset=".309" stop-color="#0a67f1"/><stop offset=".332" stop-color="#0563e0"/><stop offset=".34" stop-color="#0568e9"/><stop offset=".351" stop-color="#0566e4"/><stop offset=".409" stop-color="#0357b7"/><stop offset=".49" stop-color="#054a97"/><stop offset=".614" stop-color="#054182"/><stop offset=".772" stop-color="#05407f"/><stop offset=".842" stop-color="#05468d"/><stop offset=".846" stop-color="#054285"/><stop offset=".896" stop-color="#044996"/><stop offset=".923" stop-color="#054790"/><stop offset=".938" stop-color="#054a97"/><stop offset=".942" stop-color="#04458d"/><stop offset=".961" stop-color="#034a99"/><stop offset=".965" stop-color="#034ea2"/><stop offset="1" stop-color="#053f7d"/></linearGradient><linearGradient id="g56" gradientUnits="userSpaceOnUse" x1="947" x2="4487" y1="0" y2="0"><stop offset="0" stop-color="#0459c5"/><stop offset=".008" stop-color="#0b60e5"/><stop offset=".012" stop-color="#0478da"/><stop offset=".015" stop-color="#009ac1"/><stop offset=".019" stop-color="#01a8af"/><stop offset=".023" stop-color="#0cb7a2"/><stop offset=".031" stop-color="#4fc374"/><stop offset=".035" stop-color="#64c564"/><stop offset=".039" stop-color="#6ec55c"/><stop offset=".042" stop-color="#6cc55e"/><stop offset=".05" stop-color="#57c46e"/><stop offset=".066" stop-color="#1ebe96"/><stop offset=".077" stop-color="#07b5a7"/><stop offset=".1" stop-color="#00a1c5"/><stop offset=".108" stop-color="#0090d7"/><stop offset=".116" stop-color="#0871ef"/><stop offset=".12" stop-color="#0b69f2"/><stop offset=".131" stop-color="#0563df"/><stop offset=".162" stop-color="#054891"/><stop offset=".174" stop-color="#054182"/><stop offset=".189" stop-color="#053f7c"/><stop offset=".228" stop-color="#05407f"/><stop offset=".266" stop-color="#0451a8"/><stop offset=".27" stop-color="#034a9b"/><stop offset=".305" stop-color="#0b60e4"/><stop offset=".313" stop-color="#0b61e7"/><stop offset=".332" stop-color="#065fd9"/><stop offset=".347" stop-color="#056aec"/><stop offset=".367" stop-color="#0466e0"/><stop offset=".409" stop-color="#0357b7"/><stop offset=".432" stop-color="#0456b4"/><stop offset=".49" stop-color="#054995"/><stop offset=".699" stop-color="#053f7e"/><stop offset=".83" stop-color="#054489"/><stop offset=".834" stop-color="#054082"/><stop offset=".88" stop-color="#034da2"/><stop offset=".892" stop-color="#034da1"/><stop offset=".923" stop-color="#05458e"/><stop offset=".965" stop-color="#0352ab"/><stop offset="1" stop-color="#053f7d"/></linearGradient><linearGradient id="g57" gradientUnits="userSpaceOnUse" x1="932" x2="4472" y1="0" y2="0"><stop offset="0" stop-color="#045bcc"/><stop offset=".008" stop-color="#0a66e4"/><stop offset=".015" stop-color="#009ebb"/><stop offset=".019" stop-color="#01abad"/><stop offset=".023" stop-color="#11ba9f"/><stop offset=".031" stop-color="#4dc376"/><stop offset=".035" stop-color="#5ec469"/><stop offset=".039" stop-color="#65c563"/><stop offset=".046" stop-color="#59c46d"/><stop offset=".066" stop-color="#1ebe96"/><stop offset=".081" stop-color="#02b2ab"/><stop offset=".1" stop-color="#00a1c5"/><stop offset=".108" stop-color="#008fd9"/><stop offset=".112" stop-color="#057ce7"/><stop offset=".12" stop-color="#0c66f3"/><stop offset=".131" stop-color="#0562da"/><stop offset=".154" stop-color="#054b99"/><stop offset=".166" stop-color="#054284"/><stop offset=".181" stop-color="#053f7c"/><stop offset=".216" stop-color="#053f7c"/><stop offset=".236" stop-color="#054284"/><stop offset=".266" stop-color="#0450a6"/><stop offset=".27" stop-color="#034a99"/><stop offset=".305" stop-color="#0b60e5"/><stop offset=".309" stop-color="#0d6eff"/><stop offset=".34" stop-color="#055ed3"/><stop offset=".351" stop-color="#0465de"/><stop offset=".367" stop-color="#0464da"/><stop offset=".409" stop-color="#0456b3"/><stop offset=".486" stop-color="#054893"/><stop offset=".537" stop-color="#054994"/><stop offset=".614" stop-color="#054283"/><stop offset=".691" stop-color="#05407e"/><stop offset=".819" stop-color="#05448a"/><stop offset=".822" stop-color="#054082"/><stop offset=".838" stop-color="#054389"/><stop offset=".88" stop-color="#0252ae"/><stop offset=".896" stop-color="#0251ac"/><stop offset=".927" stop-color="#044791"/><stop offset=".965" stop-color="#0355b1"/><stop offset="1" stop-color="#053f7d"/></linearGradient><linearGradient id="g58" gradientUnits="userSpaceOnUse" x1="918" x2="4458" y1="0" y2="0"><stop offset="0" stop-color="#045bcd"/><stop offset=".008" stop-color="#0a66e4"/><stop offset=".015" stop-color="#009ebc"/><stop offset=".019" stop-color="#01abad"/><stop offset=".023" stop-color="#0fb8a0"/><stop offset=".031" stop-color="#44c27c"/><stop offset=".035" stop-color="#53c472"/><stop offset=".039" stop-color="#58c46e"/><stop offset=".05" stop-color="#46c27a"/><stop offset=".066" stop-color="#1dbe97"/><stop offset=".081" stop-color="#02b2ab"/><stop offset=".093" stop-color="#00a7b8"/><stop offset=".1" stop-color="#009fc8"/><stop offset=".108" stop-color="#0287e0"/><stop offset=".112" stop-color="#0873ef"/><stop offset=".116" stop-color="#0b6af3"/><stop offset=".124" stop-color="#0764e5"/><stop offset=".147" stop-color="#054d9f"/><stop offset=".158" stop-color="#054487"/><stop offset=".174" stop-color="#053f7d"/><stop offset=".212" stop-color="#053f7c"/><stop offset=".236" stop-color="#054284"/><stop offset=".266" stop-color="#0450a5"/><stop offset=".27" stop-color="#034a99"/><stop offset=".293" stop-color="#055ccf"/><stop offset=".305" stop-color="#0b60e3"/><stop offset=".309" stop-color="#0c67f4"/><stop offset=".313" stop-color="#0c69f8"/><stop offset=".344" stop-color="#045ed1"/><stop offset=".359" stop-color="#0461d4"/><stop offset=".386" stop-color="#035ec7"/><stop offset=".413" stop-color="#0452ab"/><stop offset=".49" stop-color="#054891"/><stop offset=".537" stop-color="#054993"/><stop offset=".61" stop-color="#054284"/><stop offset=".687" stop-color="#05407e"/><stop offset=".811" stop-color="#05448a"/><stop offset=".815" stop-color="#054082"/><stop offset=".846" stop-color="#044894"/><stop offset=".876" stop-color="#0353b1"/><stop offset=".896" stop-color="#0353b1"/><stop offset=".931" stop-color="#054894"/><stop offset=".965" stop-color="#0356b5"/><stop offset=".992" stop-color="#054285"/><stop offset="1" stop-color="#053f7e"/></linearGradient><linearGradient id="g59" gradientUnits="userSpaceOnUse" x1="903" x2="4443" y1="0" y2="0"><stop offset="0" stop-color="#0458c2"/><stop offset=".008" stop-color="#0a60e2"/><stop offset=".012" stop-color="#0671e0"/><stop offset=".015" stop-color="#0095c5"/><stop offset=".019" stop-color="#00a4b2"/><stop offset=".023" stop-color="#02b1a9"/><stop offset=".031" stop-color="#2fc08b"/><stop offset=".039" stop-color="#46c27a"/><stop offset=".05" stop-color="#3cc281"/><stop offset=".077" stop-color="#05b5a9"/><stop offset=".097" stop-color="#00a3c3"/><stop offset=".104" stop-color="#0090d7"/><stop offset=".112" stop-color="#096dee"/><stop offset=".116" stop-color="#0b65ee"/><stop offset=".12" stop-color="#0862e3"/><stop offset=".147" stop-color="#054790"/><stop offset=".158" stop-color="#054181"/><stop offset=".22" stop-color="#053f7c"/><stop offset=".236" stop-color="#054284"/><stop offset=".266" stop-color="#0450a5"/><stop offset=".27" stop-color="#034a99"/><stop offset=".301" stop-color="#0b60e5"/><stop offset=".305" stop-color="#0a65e4"/><stop offset=".317" stop-color="#0c67f6"/><stop offset=".347" stop-color="#0460d5"/><stop offset=".363" stop-color="#035fce"/><stop offset=".402" stop-color="#0453ab"/><stop offset=".502" stop-color="#05478f"/><stop offset=".683" stop-color="#05407f"/><stop offset=".788" stop-color="#054386"/><stop offset=".811" stop-color="#05468d"/><stop offset=".815" stop-color="#054286"/><stop offset=".888" stop-color="#0358bf"/><stop offset=".907" stop-color="#0354b3"/><stop offset=".931" stop-color="#044a98"/><stop offset=".965" stop-color="#0456b4"/><stop offset=".992" stop-color="#054285"/><stop offset="1" stop-color="#053f7e"/></linearGradient><linearGradient id="g60" gradientUnits="userSpaceOnUse" x1="888" x2="4428" y1="0" y2="0"><stop offset="0" stop-color="#0459c5"/><stop offset=".008" stop-color="#0b60e4"/><stop offset=".012" stop-color="#0673de"/><stop offset=".015" stop-color="#0095c4"/><stop offset=".023" stop-color="#02b0a9"/><stop offset=".027" stop-color="#15bb9d"/><stop offset=".035" stop-color="#35c186"/><stop offset=".039" stop-color="#3cc281"/><stop offset=".05" stop-color="#30c18a"/><stop offset=".073" stop-color="#06b6a8"/><stop offset=".097" stop-color="#00a1c6"/><stop offset=".104" stop-color="#0189d9"/><stop offset=".108" stop-color="#0772e8"/><stop offset=".112" stop-color="#0a67ea"/><stop offset=".12" stop-color="#075fda"/><stop offset=".143" stop-color="#05468f"/><stop offset=".151" stop-color="#054182"/><stop offset=".22" stop-color="#053f7c"/><stop offset=".236" stop-color="#054284"/><stop offset=".266" stop-color="#0450a5"/><stop offset=".27" stop-color="#034a99"/><stop offset=".301" stop-color="#0b60e6"/><stop offset=".305" stop-color="#0b75ff"/><stop offset=".309" stop-color="#0b73ff"/><stop offset=".313" stop-color="#0c6bfa"/><stop offset=".32" stop-color="#0b6bfa"/><stop offset=".39" stop-color="#0451a8"/><stop offset=".49" stop-color="#054790"/><stop offset=".68" stop-color="#05407f"/><stop offset=".788" stop-color="#054387"/><stop offset=".811" stop-color="#054791"/><stop offset=".815" stop-color="#054389"/><stop offset=".861" stop-color="#0251ad"/><stop offset=".865" stop-color="#035bc2"/><stop offset=".884" stop-color="#045fce"/><stop offset=".903" stop-color="#0359bf"/><stop offset=".934" stop-color="#054a97"/><stop offset=".965" stop-color="#0455af"/><stop offset="1" stop-color="#053f7e"/></linearGradient><linearGradient id="g61" gradientUnits="userSpaceOnUse" x1="873" x2="4413" y1="0" y2="0"><stop offset="0" stop-color="#045ac8"/><stop offset=".008" stop-color="#0b61e6"/><stop offset=".012" stop-color="#0576dc"/><stop offset=".015" stop-color="#0096c4"/><stop offset=".019" stop-color="#00a3b3"/><stop offset=".023" stop-color="#02afaa"/><stop offset=".027" stop-color="#11b99f"/><stop offset=".035" stop-color="#2cc08c"/><stop offset=".039" stop-color="#31c189"/><stop offset=".073" stop-color="#02b4ac"/><stop offset=".093" stop-color="#00a4c1"/><stop offset=".1" stop-color="#0094cf"/><stop offset=".108" stop-color="#0770e4"/><stop offset=".112" stop-color="#0a66e5"/><stop offset=".124" stop-color="#045bcd"/><stop offset=".143" stop-color="#04458f"/><stop offset=".151" stop-color="#053e7d"/><stop offset=".22" stop-color="#053f7c"/><stop offset=".236" stop-color="#054284"/><stop offset=".266" stop-color="#0450a5"/><stop offset=".27" stop-color="#034a99"/><stop offset=".29" stop-color="#045ac7"/><stop offset=".293" stop-color="#0667e8"/><stop offset=".301" stop-color="#0b6dff"/><stop offset=".305" stop-color="#0d74ff"/><stop offset=".313" stop-color="#0c6dff"/><stop offset=".332" stop-color="#0566e4"/><stop offset=".394" stop-color="#044ea1"/><stop offset=".598" stop-color="#054181"/><stop offset=".78" stop-color="#054386"/><stop offset=".799" stop-color="#05458b"/><stop offset=".815" stop-color="#054a98"/><stop offset=".819" stop-color="#04458f"/><stop offset=".846" stop-color="#0250aa"/><stop offset=".849" stop-color="#0358ba"/><stop offset=".884" stop-color="#0463d6"/><stop offset=".9" stop-color="#035eca"/><stop offset=".934" stop-color="#054b98"/><stop offset=".965" stop-color="#0552a8"/><stop offset="1" stop-color="#053f7d"/></linearGradient><linearGradient id="g62" gradientUnits="userSpaceOnUse" x1="858" x2="4398" y1="0" y2="0"><stop offset="0" stop-color="#0356bd"/><stop offset=".008" stop-color="#095fdc"/><stop offset=".012" stop-color="#0968e3"/><stop offset=".015" stop-color="#0088ce"/><stop offset=".019" stop-color="#009dbc"/><stop offset=".027" stop-color="#02b2a8"/><stop offset=".031" stop-color="#12ba9f"/><stop offset=".039" stop-color="#20bf95"/><stop offset=".05" stop-color="#1bbd99"/><stop offset=".069" stop-color="#02b3ab"/><stop offset=".093" stop-color="#00a1c0"/><stop offset=".1" stop-color="#0091cb"/><stop offset=".108" stop-color="#0574dd"/><stop offset=".116" stop-color="#0b61e6"/><stop offset=".139" stop-color="#0251ab"/><stop offset=".143" stop-color="#0350a8"/><stop offset=".154" stop-color="#053f7f"/><stop offset=".158" stop-color="#053c79"/><stop offset=".224" stop-color="#053f7d"/><stop offset=".266" stop-color="#044fa4"/><stop offset=".27" stop-color="#034a99"/><stop offset=".282" stop-color="#0353b1"/><stop offset=".286" stop-color="#045fcd"/><stop offset=".305" stop-color="#0970ff"/><stop offset=".317" stop-color="#086bf7"/><stop offset=".34" stop-color="#045ecd"/><stop offset=".363" stop-color="#035abe"/><stop offset=".386" stop-color="#0450a6"/><stop offset=".456" stop-color="#054a96"/><stop offset=".479" stop-color="#054b99"/><stop offset=".598" stop-color="#054181"/><stop offset=".784" stop-color="#054385"/><stop offset=".807" stop-color="#054790"/><stop offset=".846" stop-color="#035bc0"/><stop offset=".884" stop-color="#0363d4"/><stop offset=".903" stop-color="#035dc5"/><stop offset=".938" stop-color="#054994"/><stop offset=".965" stop-color="#054fa0"/><stop offset="1" stop-color="#053f7d"/></linearGradient><linearGradient id="g63" gradientUnits="userSpaceOnUse" x1="844" x2="4384" y1="0" y2="0"><stop offset="0" stop-color="#0457be"/><stop offset=".008" stop-color="#095fde"/><stop offset=".012" stop-color="#086ae3"/><stop offset=".015" stop-color="#008ccc"/><stop offset=".019" stop-color="#009fb9"/><stop offset=".027" stop-color="#09b5a4"/><stop offset=".031" stop-color="#1abd9a"/><stop offset=".039" stop-color="#2dc08c"/><stop offset=".046" stop-color="#29c08f"/><stop offset=".073" stop-color="#02b2a9"/><stop offset=".097" stop-color="#009dbd"/><stop offset=".104" stop-color="#008eca"/><stop offset=".112" stop-color="#0672df"/><stop offset=".12" stop-color="#0b61e6"/><stop offset=".143" stop-color="#0353b2"/><stop offset=".158" stop-color="#054388"/><stop offset=".166" stop-color="#053e7b"/><stop offset=".224" stop-color="#053f7d"/><stop offset=".266" stop-color="#044fa4"/><stop offset=".27" stop-color="#034a99"/><stop offset=".305" stop-color="#075ed7"/><stop offset=".309" stop-color="#0866ec"/><stop offset=".328" stop-color="#0561da"/><stop offset=".34" stop-color="#045ac6"/><stop offset=".378" stop-color="#0450a6"/><stop offset=".456" stop-color="#054996"/><stop offset=".494" stop-color="#054a98"/><stop offset=".537" stop-color="#054489"/><stop offset=".598" stop-color="#054080"/><stop offset=".737" stop-color="#054488"/><stop offset=".78" stop-color="#054283"/><stop offset=".807" stop-color="#05478f"/><stop offset=".853" stop-color="#035ec8"/><stop offset=".884" stop-color="#0361cd"/><stop offset=".896" stop-color="#035ec7"/><stop offset=".938" stop-color="#054892"/><stop offset=".965" stop-color="#054b98"/><stop offset="1" stop-color="#053f7d"/></linearGradient><linearGradient id="g64" gradientUnits="userSpaceOnUse" x1="829" x2="4369" y1="0" y2="0"><stop offset="0" stop-color="#0459c7"/><stop offset=".008" stop-color="#0b60e6"/><stop offset=".012" stop-color="#0577db"/><stop offset=".015" stop-color="#0097c3"/><stop offset=".023" stop-color="#02b1a9"/><stop offset=".031" stop-color="#2bc08d"/><stop offset=".039" stop-color="#41c27e"/><stop offset=".05" stop-color="#34c187"/><stop offset=".077" stop-color="#02b2a8"/><stop offset=".1" stop-color="#009cbe"/><stop offset=".108" stop-color="#008bcc"/><stop offset=".116" stop-color="#076ee1"/><stop offset=".124" stop-color="#0b60e4"/><stop offset=".147" stop-color="#0353b2"/><stop offset=".17" stop-color="#053d7a"/><stop offset=".224" stop-color="#053f7d"/><stop offset=".266" stop-color="#044fa4"/><stop offset=".27" stop-color="#034a99"/><stop offset=".305" stop-color="#085ed9"/><stop offset=".309" stop-color="#0967f0"/><stop offset=".347" stop-color="#0358bf"/><stop offset=".375" stop-color="#0350a7"/><stop offset=".413" stop-color="#044c9d"/><stop offset=".498" stop-color="#054b9a"/><stop offset=".544" stop-color="#054388"/><stop offset=".598" stop-color="#054081"/><stop offset=".741" stop-color="#054488"/><stop offset=".78" stop-color="#054181"/><stop offset=".803" stop-color="#054489"/><stop offset=".842" stop-color="#0458b7"/><stop offset=".865" stop-color="#035dc3"/><stop offset=".896" stop-color="#0459b9"/><stop offset=".942" stop-color="#054489"/><stop offset=".965" stop-color="#05478f"/><stop offset="1" stop-color="#053f7d"/></linearGradient><linearGradient id="g65" gradientUnits="userSpaceOnUse" x1="814" x2="4354" y1="0" y2="0"><stop offset="0" stop-color="#0456bd"/><stop offset=".008" stop-color="#095fdf"/><stop offset=".012" stop-color="#086ce2"/><stop offset=".015" stop-color="#0090c8"/><stop offset=".023" stop-color="#02b0aa"/><stop offset=".027" stop-color="#17bc9b"/><stop offset=".035" stop-color="#43c27c"/><stop offset=".039" stop-color="#4cc376"/><stop offset=".05" stop-color="#44c27c"/><stop offset=".081" stop-color="#03b3a9"/><stop offset=".104" stop-color="#009bbf"/><stop offset=".112" stop-color="#008acd"/><stop offset=".12" stop-color="#076de2"/><stop offset=".124" stop-color="#0a66e4"/><stop offset=".127" stop-color="#0c66f3"/><stop offset=".154" stop-color="#035bc2"/><stop offset=".178" stop-color="#054386"/><stop offset=".193" stop-color="#053970"/><stop offset=".232" stop-color="#054181"/><stop offset=".266" stop-color="#0450a5"/><stop offset=".27" stop-color="#034a9a"/><stop offset=".305" stop-color="#085ed9"/><stop offset=".309" stop-color="#0968f0"/><stop offset=".351" stop-color="#0358c1"/><stop offset=".378" stop-color="#0352ab"/><stop offset=".471" stop-color="#054b98"/><stop offset=".498" stop-color="#054c9b"/><stop offset=".541" stop-color="#05458b"/><stop offset=".61" stop-color="#054081"/><stop offset=".741" stop-color="#054488"/><stop offset=".792" stop-color="#054181"/><stop offset=".811" stop-color="#054489"/><stop offset=".849" stop-color="#0454af"/><stop offset=".865" stop-color="#0457b4"/><stop offset=".896" stop-color="#0552aa"/><stop offset=".934" stop-color="#05458a"/><stop offset="1" stop-color="#053f7c"/></linearGradient><linearGradient id="g66" gradientUnits="userSpaceOnUse" x1="799" x2="4339" y1="0" y2="0"><stop offset="0" stop-color="#0355ba"/><stop offset=".008" stop-color="#095fdc"/><stop offset=".012" stop-color="#086ae3"/><stop offset=".015" stop-color="#008eca"/><stop offset=".023" stop-color="#02afaa"/><stop offset=".027" stop-color="#19bc9a"/><stop offset=".035" stop-color="#4dc375"/><stop offset=".039" stop-color="#5ac46d"/><stop offset=".042" stop-color="#5ac46d"/><stop offset=".05" stop-color="#4fc374"/><stop offset=".066" stop-color="#21bf94"/><stop offset=".081" stop-color="#03b4a9"/><stop offset=".108" stop-color="#009bc0"/><stop offset=".116" stop-color="#008dcb"/><stop offset=".12" stop-color="#018cde"/><stop offset=".127" stop-color="#0877f5"/><stop offset=".139" stop-color="#0c6bfe"/><stop offset=".162" stop-color="#0464dd"/><stop offset=".178" stop-color="#035abe"/><stop offset=".197" stop-color="#05468c"/><stop offset=".216" stop-color="#053971"/><stop offset=".266" stop-color="#0450a5"/><stop offset=".27" stop-color="#034a9a"/><stop offset=".301" stop-color="#075dd5"/><stop offset=".313" stop-color="#0961e1"/><stop offset=".378" stop-color="#0352ad"/><stop offset=".413" stop-color="#0355b2"/><stop offset=".459" stop-color="#054c9b"/><stop offset=".533" stop-color="#05458c"/><stop offset=".625" stop-color="#054181"/><stop offset=".741" stop-color="#054488"/><stop offset=".78" stop-color="#054080"/><stop offset=".803" stop-color="#054386"/><stop offset=".807" stop-color="#053f7f"/><stop offset=".826" stop-color="#04468f"/><stop offset=".865" stop-color="#044c9d"/><stop offset=".903" stop-color="#054996"/><stop offset=".934" stop-color="#054184"/><stop offset=".954" stop-color="#05448a"/><stop offset="1" stop-color="#053f7c"/></linearGradient><linearGradient id="g67" gradientUnits="userSpaceOnUse" x1="784" x2="4324" y1="0" y2="0"><stop offset="0" stop-color="#0458c2"/><stop offset=".008" stop-color="#0a60e2"/><stop offset=".012" stop-color="#0671df"/><stop offset=".015" stop-color="#0095c4"/><stop offset=".023" stop-color="#06b4a6"/><stop offset=".027" stop-color="#22bf93"/><stop offset=".031" stop-color="#46c27a"/><stop offset=".035" stop-color="#5ec46a"/><stop offset=".039" stop-color="#6ac55f"/><stop offset=".046" stop-color="#63c565"/><stop offset=".066" stop-color="#22bf93"/><stop offset=".081" stop-color="#04b4a9"/><stop offset=".116" stop-color="#0099c1"/><stop offset=".131" stop-color="#018fdf"/><stop offset=".143" stop-color="#0879f8"/><stop offset=".154" stop-color="#0c6eff"/><stop offset=".162" stop-color="#0b6bfb"/><stop offset=".181" stop-color="#0564df"/><stop offset=".197" stop-color="#035bc1"/><stop offset=".22" stop-color="#054182"/><stop offset=".228" stop-color="#053c77"/><stop offset=".266" stop-color="#0450a5"/><stop offset=".27" stop-color="#034a9a"/><stop offset=".301" stop-color="#085edb"/><stop offset=".309" stop-color="#0b60e4"/><stop offset=".336" stop-color="#055fd5"/><stop offset=".382" stop-color="#0353af"/><stop offset=".413" stop-color="#0452aa"/><stop offset=".479" stop-color="#054892"/><stop offset=".556" stop-color="#05478f"/><stop offset=".633" stop-color="#054181"/><stop offset=".703" stop-color="#054487"/><stop offset=".78" stop-color="#054080"/><stop offset=".799" stop-color="#054387"/><stop offset=".803" stop-color="#053f80"/><stop offset=".826" stop-color="#034998"/><stop offset=".857" stop-color="#034fa7"/><stop offset=".888" stop-color="#044895"/><stop offset=".931" stop-color="#04448a"/><stop offset=".958" stop-color="#05468e"/><stop offset="1" stop-color="#053f7c"/></linearGradient><linearGradient id="g68" gradientUnits="userSpaceOnUse" x1="770" x2="4310" y1="0" y2="0"><stop offset="0" stop-color="#0356bb"/><stop offset=".008" stop-color="#095fdd"/><stop offset=".012" stop-color="#086ae3"/><stop offset=".015" stop-color="#008fc9"/><stop offset=".023" stop-color="#02b1a9"/><stop offset=".027" stop-color="#1fbf95"/><stop offset=".031" stop-color="#47c37a"/><stop offset=".035" stop-color="#63c565"/><stop offset=".039" stop-color="#72c558"/><stop offset=".042" stop-color="#72c558"/><stop offset=".05" stop-color="#64c564"/><stop offset=".066" stop-color="#24c092"/><stop offset=".085" stop-color="#02b2ac"/><stop offset=".12" stop-color="#00a3cb"/><stop offset=".139" stop-color="#0092de"/><stop offset=".154" stop-color="#0874f0"/><stop offset=".166" stop-color="#0c67f2"/><stop offset=".185" stop-color="#0560d8"/><stop offset=".224" stop-color="#054791"/><stop offset=".239" stop-color="#05458c"/><stop offset=".263" stop-color="#044ea1"/><stop offset=".266" stop-color="#044996"/><stop offset=".305" stop-color="#0b60e4"/><stop offset=".309" stop-color="#0d6cff"/><stop offset=".371" stop-color="#0357b9"/><stop offset=".456" stop-color="#054996"/><stop offset=".533" stop-color="#054a97"/><stop offset=".641" stop-color="#054080"/><stop offset=".703" stop-color="#054387"/><stop offset=".78" stop-color="#054182"/><stop offset=".795" stop-color="#054488"/><stop offset=".799" stop-color="#054081"/><stop offset=".83" stop-color="#034ea5"/><stop offset=".861" stop-color="#0353b0"/><stop offset=".927" stop-color="#044690"/><stop offset=".958" stop-color="#044894"/><stop offset="1" stop-color="#053f7c"/></linearGradient><linearGradient id="g69" gradientUnits="userSpaceOnUse" x1="755" x2="4295" y1="0" y2="0"><stop offset="0" stop-color="#0354b4"/><stop offset=".012" stop-color="#0a65e4"/><stop offset=".015" stop-color="#0088ce"/><stop offset=".023" stop-color="#02afaa"/><stop offset=".027" stop-color="#1dbe97"/><stop offset=".031" stop-color="#48c379"/><stop offset=".035" stop-color="#68c561"/><stop offset=".039" stop-color="#7bc550"/><stop offset=".042" stop-color="#7fc54d"/><stop offset=".05" stop-color="#6ec55c"/><stop offset=".066" stop-color="#27c090"/><stop offset=".081" stop-color="#05b5a8"/><stop offset=".1" stop-color="#00aabb"/><stop offset=".127" stop-color="#00a1ed"/><stop offset=".139" stop-color="#068cff"/><stop offset=".154" stop-color="#0d75ff"/><stop offset=".17" stop-color="#086ffe"/><stop offset=".197" stop-color="#035fcb"/><stop offset=".216" stop-color="#054c9a"/><stop offset=".232" stop-color="#054589"/><stop offset=".243" stop-color="#05468d"/><stop offset=".259" stop-color="#054d9d"/><stop offset=".263" stop-color="#044792"/><stop offset=".29" stop-color="#045aca"/><stop offset=".301" stop-color="#085edb"/><stop offset=".305" stop-color="#0b6bfb"/><stop offset=".313" stop-color="#0c6cff"/><stop offset=".324" stop-color="#0865ea"/><stop offset=".336" stop-color="#0565e2"/><stop offset=".363" stop-color="#0359bf"/><stop offset=".452" stop-color="#054a98"/><stop offset=".494" stop-color="#054994"/><stop offset=".537" stop-color="#054b9a"/><stop offset=".649" stop-color="#05407f"/><stop offset=".78" stop-color="#054386"/><stop offset=".799" stop-color="#05478f"/><stop offset=".803" stop-color="#054387"/><stop offset=".83" stop-color="#0251ac"/><stop offset=".857" stop-color="#0354b4"/><stop offset=".927" stop-color="#044a9a"/><stop offset=".934" stop-color="#0351a9"/><stop offset=".942" stop-color="#0353ad"/><stop offset=".954" stop-color="#034b9b"/><stop offset="1" stop-color="#053f7d"/></linearGradient><linearGradient id="g70" gradientUnits="userSpaceOnUse" x1="740" x2="4280" y1="0" y2="0"><stop offset="0" stop-color="#0356bc"/><stop offset=".008" stop-color="#095fde"/><stop offset=".012" stop-color="#086be2"/><stop offset=".015" stop-color="#0090c9"/><stop offset=".023" stop-color="#04b3a7"/><stop offset=".027" stop-color="#27c090"/><stop offset=".031" stop-color="#54c470"/><stop offset=".035" stop-color="#74c556"/><stop offset=".039" stop-color="#87c546"/><stop offset=".042" stop-color="#88c546"/><stop offset=".046" stop-color="#83c549"/><stop offset=".05" stop-color="#75c555"/><stop offset=".066" stop-color="#28c08f"/><stop offset=".081" stop-color="#05b5a8"/><stop offset=".097" stop-color="#00aab7"/><stop offset=".112" stop-color="#00a3d7"/><stop offset=".12" stop-color="#0199ed"/><stop offset=".127" stop-color="#087fff"/><stop offset=".139" stop-color="#0d71ff"/><stop offset=".151" stop-color="#076efb"/><stop offset=".174" stop-color="#0361ce"/><stop offset=".197" stop-color="#064b97"/><stop offset=".224" stop-color="#054182"/><stop offset=".236" stop-color="#054385"/><stop offset=".259" stop-color="#054d9e"/><stop offset=".263" stop-color="#044793"/><stop offset=".29" stop-color="#045bcc"/><stop offset=".301" stop-color="#095fdc"/><stop offset=".305" stop-color="#0b6cfd"/><stop offset=".313" stop-color="#0c6dff"/><stop offset=".336" stop-color="#045ed3"/><stop offset=".355" stop-color="#0359bf"/><stop offset=".394" stop-color="#0357b7"/><stop offset=".452" stop-color="#044b99"/><stop offset=".571" stop-color="#054995"/><stop offset=".649" stop-color="#05407f"/><stop offset=".784" stop-color="#05458a"/><stop offset=".807" stop-color="#054c9b"/><stop offset=".811" stop-color="#044791"/><stop offset=".826" stop-color="#0250aa"/><stop offset=".838" stop-color="#0353b3"/><stop offset=".842" stop-color="#035bc4"/><stop offset=".853" stop-color="#035bc6"/><stop offset=".876" stop-color="#0358bc"/><stop offset=".884" stop-color="#0352ae"/><stop offset=".907" stop-color="#0252ae"/><stop offset=".923" stop-color="#034ca0"/><stop offset=".934" stop-color="#0357ba"/><stop offset=".942" stop-color="#0359c1"/><stop offset=".95" stop-color="#0356b7"/><stop offset=".958" stop-color="#034b9e"/><stop offset="1" stop-color="#053f7d"/></linearGradient><linearGradient id="g71" gradientUnits="userSpaceOnUse" x1="725" x2="4265" y1="0" y2="0"><stop offset="0" stop-color="#0355b8"/><stop offset=".008" stop-color="#085edb"/><stop offset=".012" stop-color="#0968e3"/><stop offset=".015" stop-color="#008ccc"/><stop offset=".023" stop-color="#02b0a9"/><stop offset=".027" stop-color="#1ebe96"/><stop offset=".031" stop-color="#47c37a"/><stop offset=".035" stop-color="#65c563"/><stop offset=".039" stop-color="#77c554"/><stop offset=".042" stop-color="#78c553"/><stop offset=".05" stop-color="#6ac55f"/><stop offset=".066" stop-color="#27c090"/><stop offset=".081" stop-color="#05b5a8"/><stop offset=".097" stop-color="#00a8b8"/><stop offset=".108" stop-color="#009dd0"/><stop offset=".112" stop-color="#0096db"/><stop offset=".12" stop-color="#0779f6"/><stop offset=".127" stop-color="#0d6bfe"/><stop offset=".143" stop-color="#0566e3"/><stop offset=".178" stop-color="#054992"/><stop offset=".212" stop-color="#053f7d"/><stop offset=".232" stop-color="#054181"/><stop offset=".263" stop-color="#044ea1"/><stop offset=".266" stop-color="#034a99"/><stop offset=".29" stop-color="#045aca"/><stop offset=".293" stop-color="#0667e9"/><stop offset=".301" stop-color="#096cf9"/><stop offset=".309" stop-color="#0b6cfd"/><stop offset=".317" stop-color="#0a69f6"/><stop offset=".336" stop-color="#055ccf"/><stop offset=".359" stop-color="#0356ba"/><stop offset=".394" stop-color="#0256b7"/><stop offset=".452" stop-color="#044b9b"/><stop offset=".571" stop-color="#054a97"/><stop offset=".637" stop-color="#054182"/><stop offset=".707" stop-color="#054182"/><stop offset=".792" stop-color="#054891"/><stop offset=".811" stop-color="#044fa2"/><stop offset=".834" stop-color="#035dc8"/><stop offset=".853" stop-color="#0461d1"/><stop offset=".869" stop-color="#035ecc"/><stop offset=".884" stop-color="#0353b3"/><stop offset=".896" stop-color="#0357ba"/><stop offset=".919" stop-color="#0354b2"/><stop offset=".923" stop-color="#0250a9"/><stop offset=".934" stop-color="#0356bc"/><stop offset=".942" stop-color="#0458c0"/><stop offset=".958" stop-color="#0350a8"/><stop offset="1" stop-color="#053f7d"/></linearGradient><linearGradient id="g72" gradientUnits="userSpaceOnUse" x1="710" x2="4250" y1="0" y2="0"><stop offset="0" stop-color="#0352ae"/><stop offset=".012" stop-color="#0b61e6"/><stop offset=".015" stop-color="#037ed6"/><stop offset=".019" stop-color="#009dbd"/><stop offset=".023" stop-color="#01abad"/><stop offset=".027" stop-color="#12ba9f"/><stop offset=".035" stop-color="#51c373"/><stop offset=".039" stop-color="#63c565"/><stop offset=".042" stop-color="#6ac55f"/><stop offset=".05" stop-color="#5ec469"/><stop offset=".066" stop-color="#26c091"/><stop offset=".081" stop-color="#05b5a8"/><stop offset=".104" stop-color="#009fc5"/><stop offset=".112" stop-color="#008dd5"/><stop offset=".12" stop-color="#086ee9"/><stop offset=".124" stop-color="#0b66ec"/><stop offset=".151" stop-color="#0254b2"/><stop offset=".158" stop-color="#044b9b"/><stop offset=".17" stop-color="#054386"/><stop offset=".185" stop-color="#053f7d"/><stop offset=".212" stop-color="#053f7c"/><stop offset=".228" stop-color="#05407f"/><stop offset=".243" stop-color="#05458b"/><stop offset=".263" stop-color="#054ea0"/><stop offset=".274" stop-color="#0358ba"/><stop offset=".278" stop-color="#0352af"/><stop offset=".305" stop-color="#085fdc"/><stop offset=".309" stop-color="#0a69f7"/><stop offset=".313" stop-color="#0b6af8"/><stop offset=".328" stop-color="#0862e1"/><stop offset=".359" stop-color="#035ac3"/><stop offset=".394" stop-color="#035cc4"/><stop offset=".448" stop-color="#044fa4"/><stop offset=".506" stop-color="#054b9a"/><stop offset=".544" stop-color="#054c9d"/><stop offset=".622" stop-color="#054386"/><stop offset=".668" stop-color="#054181"/><stop offset=".795" stop-color="#054892"/><stop offset=".815" stop-color="#0450a6"/><stop offset=".834" stop-color="#035fc9"/><stop offset=".853" stop-color="#0362d4"/><stop offset=".865" stop-color="#0361d1"/><stop offset=".876" stop-color="#035bc4"/><stop offset=".896" stop-color="#035bc4"/><stop offset=".915" stop-color="#0357b9"/><stop offset=".923" stop-color="#035abd"/><stop offset=".927" stop-color="#0353b1"/><stop offset=".931" stop-color="#035fce"/><stop offset=".938" stop-color="#0466e0"/><stop offset=".942" stop-color="#0465dc"/><stop offset=".958" stop-color="#0254b2"/><stop offset="1" stop-color="#053f7d"/></linearGradient><linearGradient id="g73" gradientUnits="userSpaceOnUse" x1="696" x2="4236" y1="0" y2="0"><stop offset="0" stop-color="#0355b7"/><stop offset=".012" stop-color="#0a66e4"/><stop offset=".015" stop-color="#0089ce"/><stop offset=".023" stop-color="#02adac"/><stop offset=".027" stop-color="#14bb9e"/><stop offset=".035" stop-color="#4ac378"/><stop offset=".039" stop-color="#58c46e"/><stop offset=".042" stop-color="#5dc46a"/><stop offset=".05" stop-color="#51c372"/><stop offset=".066" stop-color="#24c092"/><stop offset=".081" stop-color="#05b5a8"/><stop offset=".104" stop-color="#009ec1"/><stop offset=".112" stop-color="#008ccc"/><stop offset=".12" stop-color="#076ee1"/><stop offset=".127" stop-color="#0b60e5"/><stop offset=".139" stop-color="#055ccf"/><stop offset=".143" stop-color="#045fd3"/><stop offset=".174" stop-color="#054386"/><stop offset=".185" stop-color="#053972"/><stop offset=".228" stop-color="#05407f"/><stop offset=".27" stop-color="#0452aa"/><stop offset=".274" stop-color="#034da2"/><stop offset=".293" stop-color="#055cce"/><stop offset=".305" stop-color="#095fde"/><stop offset=".309" stop-color="#0b6af9"/><stop offset=".313" stop-color="#0b6eff"/><stop offset=".363" stop-color="#035bc4"/><stop offset=".398" stop-color="#035bbf"/><stop offset=".44" stop-color="#0453ab"/><stop offset=".486" stop-color="#054ea1"/><stop offset=".541" stop-color="#054ea1"/><stop offset=".618" stop-color="#054387"/><stop offset=".672" stop-color="#054182"/><stop offset=".753" stop-color="#05478f"/><stop offset=".792" stop-color="#05468d"/><stop offset=".815" stop-color="#054c9b"/><stop offset=".834" stop-color="#035dc4"/><stop offset=".846" stop-color="#0361cd"/><stop offset=".857" stop-color="#0361cf"/><stop offset=".873" stop-color="#035dc7"/><stop offset=".892" stop-color="#035ecd"/><stop offset=".919" stop-color="#0358b9"/><stop offset=".938" stop-color="#0465da"/><stop offset=".961" stop-color="#0358b9"/><stop offset=".973" stop-color="#044c9e"/><stop offset="1" stop-color="#053f7e"/></linearGradient><linearGradient id="g74" gradientUnits="userSpaceOnUse" x1="681" x2="4221" y1="0" y2="0"><stop offset="0" stop-color="#0355b8"/><stop offset=".012" stop-color="#0a66e4"/><stop offset=".015" stop-color="#0088ce"/><stop offset=".019" stop-color="#009fba"/><stop offset=".023" stop-color="#01acac"/><stop offset=".027" stop-color="#10b9a0"/><stop offset=".035" stop-color="#3dc281"/><stop offset=".042" stop-color="#4dc375"/><stop offset=".054" stop-color="#3ec280"/><stop offset=".066" stop-color="#21bf94"/><stop offset=".085" stop-color="#02b2ac"/><stop offset=".112" stop-color="#0092c7"/><stop offset=".124" stop-color="#0671df"/><stop offset=".127" stop-color="#0970f0"/><stop offset=".135" stop-color="#0c68f5"/><stop offset=".166" stop-color="#035cc4"/><stop offset=".189" stop-color="#054489"/><stop offset=".201" stop-color="#053a73"/><stop offset=".236" stop-color="#054283"/><stop offset=".266" stop-color="#044fa3"/><stop offset=".27" stop-color="#044895"/><stop offset=".286" stop-color="#0457bf"/><stop offset=".301" stop-color="#085edc"/><stop offset=".305" stop-color="#0b6bfb"/><stop offset=".317" stop-color="#0a6fff"/><stop offset=".355" stop-color="#035eca"/><stop offset=".425" stop-color="#0550a4"/><stop offset=".463" stop-color="#0551a7"/><stop offset=".502" stop-color="#054b99"/><stop offset=".537" stop-color="#054e9f"/><stop offset=".575" stop-color="#05468d"/><stop offset=".622" stop-color="#054385"/><stop offset=".68" stop-color="#054181"/><stop offset=".757" stop-color="#054891"/><stop offset=".788" stop-color="#05458b"/><stop offset=".792" stop-color="#054183"/><stop offset=".819" stop-color="#044896"/><stop offset=".846" stop-color="#035dc3"/><stop offset=".888" stop-color="#0361d1"/><stop offset=".923" stop-color="#0359bb"/><stop offset=".934" stop-color="#035fca"/><stop offset=".946" stop-color="#035fca"/><stop offset=".961" stop-color="#035abe"/><stop offset=".977" stop-color="#044a98"/><stop offset="1" stop-color="#053f7e"/></linearGradient><linearGradient id="g75" gradientUnits="userSpaceOnUse" x1="666" x2="4206" y1="0" y2="0"><stop offset="0" stop-color="#0352ae"/><stop offset=".012" stop-color="#0b60e4"/><stop offset=".015" stop-color="#0479da"/><stop offset=".019" stop-color="#009bc0"/><stop offset=".023" stop-color="#01a8af"/><stop offset=".027" stop-color="#0ab6a4"/><stop offset=".031" stop-color="#21bf94"/><stop offset=".035" stop-color="#3cc281"/><stop offset=".039" stop-color="#4cc376"/><stop offset=".042" stop-color="#52c472"/><stop offset=".05" stop-color="#4bc376"/><stop offset=".066" stop-color="#24c092"/><stop offset=".085" stop-color="#02b2ab"/><stop offset=".108" stop-color="#00a0bf"/><stop offset=".12" stop-color="#008dcb"/><stop offset=".127" stop-color="#037cd8"/><stop offset=".131" stop-color="#0676e9"/><stop offset=".143" stop-color="#0c69f6"/><stop offset=".162" stop-color="#0565e3"/><stop offset=".178" stop-color="#035dc9"/><stop offset=".208" stop-color="#053d7a"/><stop offset=".232" stop-color="#054080"/><stop offset=".266" stop-color="#044ea1"/><stop offset=".27" stop-color="#044894"/><stop offset=".278" stop-color="#0251ac"/><stop offset=".293" stop-color="#045bcd"/><stop offset=".297" stop-color="#0767eb"/><stop offset=".305" stop-color="#0a6fff"/><stop offset=".313" stop-color="#0866eb"/><stop offset=".328" stop-color="#0567e6"/><stop offset=".355" stop-color="#0357bc"/><stop offset=".378" stop-color="#035bc0"/><stop offset=".429" stop-color="#054b98"/><stop offset=".463" stop-color="#054ea1"/><stop offset=".506" stop-color="#054790"/><stop offset=".537" stop-color="#054a96"/><stop offset=".571" stop-color="#05458c"/><stop offset=".683" stop-color="#054181"/><stop offset=".761" stop-color="#05478f"/><stop offset=".788" stop-color="#05468d"/><stop offset=".792" stop-color="#054286"/><stop offset=".811" stop-color="#034a99"/><stop offset=".83" stop-color="#034da0"/><stop offset=".869" stop-color="#035ec9"/><stop offset=".884" stop-color="#0361d0"/><stop offset=".9" stop-color="#035fcb"/><stop offset=".919" stop-color="#0358b9"/><stop offset=".942" stop-color="#035dc4"/><stop offset=".958" stop-color="#035bbf"/><stop offset=".961" stop-color="#0359bc"/><stop offset=".981" stop-color="#05468d"/><stop offset="1" stop-color="#053f7d"/></linearGradient><linearGradient id="g76" gradientUnits="userSpaceOnUse" x1="651" x2="4191" y1="0" y2="0"><stop offset="0" stop-color="#0353b3"/><stop offset=".012" stop-color="#0b62e5"/><stop offset=".019" stop-color="#009dbd"/><stop offset=".023" stop-color="#01aaad"/><stop offset=".027" stop-color="#10b9a0"/><stop offset=".035" stop-color="#4ac378"/><stop offset=".039" stop-color="#5bc46c"/><stop offset=".042" stop-color="#61c466"/><stop offset=".05" stop-color="#57c46e"/><stop offset=".069" stop-color="#1dbe97"/><stop offset=".085" stop-color="#02b3ab"/><stop offset=".112" stop-color="#00a0c4"/><stop offset=".139" stop-color="#086ce2"/><stop offset=".151" stop-color="#0b60e5"/><stop offset=".158" stop-color="#095fdc"/><stop offset=".162" stop-color="#0862e2"/><stop offset=".189" stop-color="#0356b9"/><stop offset=".197" stop-color="#0350a7"/><stop offset=".201" stop-color="#044896"/><stop offset=".212" stop-color="#053f7f"/><stop offset=".224" stop-color="#053e7c"/><stop offset=".266" stop-color="#044ea0"/><stop offset=".27" stop-color="#044794"/><stop offset=".278" stop-color="#0250aa"/><stop offset=".301" stop-color="#065dd4"/><stop offset=".305" stop-color="#0869f2"/><stop offset=".347" stop-color="#0457c0"/><stop offset=".363" stop-color="#0354b6"/><stop offset=".39" stop-color="#0356b3"/><stop offset=".432" stop-color="#054995"/><stop offset=".467" stop-color="#054d9f"/><stop offset=".51" stop-color="#05468d"/><stop offset=".591" stop-color="#05468f"/><stop offset=".683" stop-color="#054181"/><stop offset=".792" stop-color="#054994"/><stop offset=".795" stop-color="#04448c"/><stop offset=".811" stop-color="#034b9d"/><stop offset=".815" stop-color="#0353ad"/><stop offset=".83" stop-color="#0354b1"/><stop offset=".846" stop-color="#034ca0"/><stop offset=".873" stop-color="#035fc9"/><stop offset=".884" stop-color="#0360cc"/><stop offset=".9" stop-color="#035ec6"/><stop offset=".919" stop-color="#0456b3"/><stop offset=".95" stop-color="#045abb"/><stop offset=".981" stop-color="#05468e"/><stop offset="1" stop-color="#053f7d"/></linearGradient><linearGradient id="g77" gradientUnits="userSpaceOnUse" x1="636" x2="4176" y1="0" y2="0"><stop offset="0" stop-color="#0355b8"/><stop offset=".012" stop-color="#0a65e4"/><stop offset=".015" stop-color="#0087d0"/><stop offset=".019" stop-color="#009fba"/><stop offset=".023" stop-color="#02adac"/><stop offset=".027" stop-color="#15bb9d"/><stop offset=".035" stop-color="#57c46f"/><stop offset=".039" stop-color="#69c560"/><stop offset=".042" stop-color="#70c559"/><stop offset=".05" stop-color="#63c565"/><stop offset=".069" stop-color="#1ebe96"/><stop offset=".085" stop-color="#02b3ab"/><stop offset=".116" stop-color="#009cc3"/><stop offset=".131" stop-color="#0086d0"/><stop offset=".143" stop-color="#0774ee"/><stop offset=".154" stop-color="#0c6af7"/><stop offset=".178" stop-color="#0564df"/><stop offset=".197" stop-color="#0359bd"/><stop offset=".22" stop-color="#054285"/><stop offset=".232" stop-color="#053b76"/><stop offset=".239" stop-color="#053c79"/><stop offset=".243" stop-color="#054387"/><stop offset=".263" stop-color="#054c9c"/><stop offset=".266" stop-color="#044d9f"/><stop offset=".27" stop-color="#044794"/><stop offset=".278" stop-color="#0251aa"/><stop offset=".301" stop-color="#075dd7"/><stop offset=".305" stop-color="#0967f0"/><stop offset=".386" stop-color="#0353ae"/><stop offset=".432" stop-color="#054893"/><stop offset=".471" stop-color="#054d9d"/><stop offset=".552" stop-color="#05468f"/><stop offset=".583" stop-color="#054893"/><stop offset=".645" stop-color="#05468e"/><stop offset=".687" stop-color="#054182"/><stop offset=".734" stop-color="#05468e"/><stop offset=".788" stop-color="#054892"/><stop offset=".819" stop-color="#0355b2"/><stop offset=".822" stop-color="#0354b0"/><stop offset=".826" stop-color="#034ea4"/><stop offset=".834" stop-color="#0250aa"/><stop offset=".857" stop-color="#024fa7"/><stop offset=".861" stop-color="#0354b2"/><stop offset=".884" stop-color="#035cc2"/><stop offset=".919" stop-color="#044fa4"/><stop offset=".938" stop-color="#0455b0"/><stop offset=".954" stop-color="#0451a9"/><stop offset=".958" stop-color="#034a9b"/><stop offset=".969" stop-color="#034da0"/><stop offset="1" stop-color="#053f7d"/></linearGradient><linearGradient id="g78" gradientUnits="userSpaceOnUse" x1="622" x2="4162" y1="0" y2="0"><stop offset="0" stop-color="#0352ae"/><stop offset=".012" stop-color="#0b60e3"/><stop offset=".015" stop-color="#0576dc"/><stop offset=".019" stop-color="#0099c1"/><stop offset=".023" stop-color="#01a8af"/><stop offset=".027" stop-color="#0bb6a3"/><stop offset=".035" stop-color="#48c379"/><stop offset=".039" stop-color="#5cc46b"/><stop offset=".042" stop-color="#65c563"/><stop offset=".046" stop-color="#62c565"/><stop offset=".054" stop-color="#51c373"/><stop offset=".069" stop-color="#1ebe96"/><stop offset=".085" stop-color="#02b3aa"/><stop offset=".12" stop-color="#009cbe"/><stop offset=".147" stop-color="#0093e3"/><stop offset=".158" stop-color="#077ef7"/><stop offset=".17" stop-color="#0c70ff"/><stop offset=".178" stop-color="#0b6bfb"/><stop offset=".193" stop-color="#0566e5"/><stop offset=".212" stop-color="#035bc1"/><stop offset=".228" stop-color="#054b9a"/><stop offset=".243" stop-color="#054081"/><stop offset=".255" stop-color="#054286"/><stop offset=".259" stop-color="#054996"/><stop offset=".263" stop-color="#04458d"/><stop offset=".274" stop-color="#034c9f"/><stop offset=".297" stop-color="#055cd0"/><stop offset=".301" stop-color="#0769ef"/><stop offset=".305" stop-color="#096dfc"/><stop offset=".32" stop-color="#0565e3"/><stop offset=".328" stop-color="#0568e9"/><stop offset=".344" stop-color="#0566e1"/><stop offset=".398" stop-color="#044ea2"/><stop offset=".429" stop-color="#044997"/><stop offset=".475" stop-color="#054c9c"/><stop offset=".556" stop-color="#054892"/><stop offset=".587" stop-color="#054a97"/><stop offset=".618" stop-color="#05468e"/><stop offset=".649" stop-color="#054790"/><stop offset=".687" stop-color="#054283"/><stop offset=".788" stop-color="#054994"/><stop offset=".807" stop-color="#0451a7"/><stop offset=".811" stop-color="#034b9c"/><stop offset=".83" stop-color="#0352af"/><stop offset=".846" stop-color="#0351ad"/><stop offset=".857" stop-color="#0356b7"/><stop offset=".876" stop-color="#0355b2"/><stop offset=".923" stop-color="#044997"/><stop offset=".946" stop-color="#044fa3"/><stop offset=".95" stop-color="#034998"/><stop offset=".965" stop-color="#0352ae"/><stop offset=".992" stop-color="#054183"/><stop offset="1" stop-color="#053f7d"/></linearGradient><linearGradient id="g79" gradientUnits="userSpaceOnUse" x1="607" x2="4147" y1="0" y2="0"><stop offset="0" stop-color="#0352b0"/><stop offset=".012" stop-color="#0b60e4"/><stop offset=".015" stop-color="#0576db"/><stop offset=".019" stop-color="#0099c1"/><stop offset=".027" stop-color="#0ab6a4"/><stop offset=".035" stop-color="#42c27d"/><stop offset=".039" stop-color="#54c470"/><stop offset=".042" stop-color="#5dc46a"/><stop offset=".05" stop-color="#55c470"/><stop offset=".069" stop-color="#1ebe96"/><stop offset=".085" stop-color="#02b4aa"/><stop offset=".112" stop-color="#00a6b9"/><stop offset=".131" stop-color="#009fbc"/><stop offset=".158" stop-color="#009bd3"/><stop offset=".166" stop-color="#0095de"/><stop offset=".178" stop-color="#0878f5"/><stop offset=".189" stop-color="#0c69fa"/><stop offset=".212" stop-color="#0461d8"/><stop offset=".251" stop-color="#04458e"/><stop offset=".255" stop-color="#04458c"/><stop offset=".263" stop-color="#044690"/><stop offset=".297" stop-color="#045bcb"/><stop offset=".301" stop-color="#0668ea"/><stop offset=".305" stop-color="#076cf7"/><stop offset=".324" stop-color="#0460d6"/><stop offset=".347" stop-color="#0460d2"/><stop offset=".375" stop-color="#0359bd"/><stop offset=".39" stop-color="#0451a9"/><stop offset=".409" stop-color="#044da0"/><stop offset=".506" stop-color="#054d9f"/><stop offset=".556" stop-color="#054994"/><stop offset=".591" stop-color="#054b99"/><stop offset=".618" stop-color="#054790"/><stop offset=".649" stop-color="#054893"/><stop offset=".687" stop-color="#054284"/><stop offset=".788" stop-color="#054995"/><stop offset=".799" stop-color="#044d9e"/><stop offset=".803" stop-color="#044895"/><stop offset=".83" stop-color="#0354b4"/><stop offset=".861" stop-color="#0358bb"/><stop offset=".873" stop-color="#0357b8"/><stop offset=".88" stop-color="#0250a8"/><stop offset=".911" stop-color="#0251ac"/><stop offset=".942" stop-color="#044895"/><stop offset=".961" stop-color="#0250a9"/><stop offset=".965" stop-color="#0356b6"/><stop offset=".992" stop-color="#054284"/><stop offset="1" stop-color="#053f7d"/></linearGradient><linearGradient id="g80" gradientUnits="userSpaceOnUse" x1="592" x2="4132" y1="0" y2="0"><stop offset="0" stop-color="#0355b8"/><stop offset=".012" stop-color="#0a64e5"/><stop offset=".019" stop-color="#009dbd"/><stop offset=".023" stop-color="#01aaae"/><stop offset=".027" stop-color="#0eb8a1"/><stop offset=".035" stop-color="#41c27e"/><stop offset=".042" stop-color="#57c46f"/><stop offset=".054" stop-color="#46c27a"/><stop offset=".069" stop-color="#1ebe97"/><stop offset=".085" stop-color="#02b4aa"/><stop offset=".116" stop-color="#00aabd"/><stop offset=".158" stop-color="#00a3c8"/><stop offset=".174" stop-color="#008fd6"/><stop offset=".185" stop-color="#0871e9"/><stop offset=".193" stop-color="#0b66ec"/><stop offset=".247" stop-color="#034fa4"/><stop offset=".263" stop-color="#044fa4"/><stop offset=".266" stop-color="#034a9a"/><stop offset=".297" stop-color="#045bcc"/><stop offset=".301" stop-color="#0568ea"/><stop offset=".305" stop-color="#066af1"/><stop offset=".313" stop-color="#0668eb"/><stop offset=".324" stop-color="#045ed3"/><stop offset=".402" stop-color="#0450a6"/><stop offset=".525" stop-color="#054d9d"/><stop offset=".56" stop-color="#054993"/><stop offset=".583" stop-color="#054b99"/><stop offset=".618" stop-color="#054790"/><stop offset=".645" stop-color="#054994"/><stop offset=".687" stop-color="#054283"/><stop offset=".788" stop-color="#054994"/><stop offset=".803" stop-color="#044fa4"/><stop offset=".807" stop-color="#034a9a"/><stop offset=".838" stop-color="#045ac4"/><stop offset=".853" stop-color="#0356b9"/><stop offset=".873" stop-color="#0358ba"/><stop offset=".876" stop-color="#0251ab"/><stop offset=".911" stop-color="#0354b4"/><stop offset=".942" stop-color="#034da1"/><stop offset=".946" stop-color="#0450a6"/><stop offset=".95" stop-color="#034b9e"/><stop offset=".958" stop-color="#034fa7"/><stop offset=".961" stop-color="#0358bb"/><stop offset=".965" stop-color="#0359bd"/><stop offset=".992" stop-color="#054285"/><stop offset="1" stop-color="#053f7d"/></linearGradient><linearGradient id="g81" gradientUnits="userSpaceOnUse" x1="577" x2="4117" y1="0" y2="0"><stop offset="0" stop-color="#0352ae"/><stop offset=".012" stop-color="#0a60e2"/><stop offset=".015" stop-color="#0671df"/><stop offset=".019" stop-color="#0096c4"/><stop offset=".027" stop-color="#03b2a8"/><stop offset=".035" stop-color="#33c188"/><stop offset=".042" stop-color="#4ac377"/><stop offset=".054" stop-color="#40c27e"/><stop offset=".085" stop-color="#02b4aa"/><stop offset=".104" stop-color="#00adb9"/><stop offset=".151" stop-color="#00afd9"/><stop offset=".17" stop-color="#009df0"/><stop offset=".181" stop-color="#097cff"/><stop offset=".197" stop-color="#0a6cfd"/><stop offset=".243" stop-color="#0455b0"/><stop offset=".259" stop-color="#0550a4"/><stop offset=".266" stop-color="#0452aa"/><stop offset=".293" stop-color="#0463dc"/><stop offset=".309" stop-color="#0565e3"/><stop offset=".336" stop-color="#0563dc"/><stop offset=".382" stop-color="#0352ac"/><stop offset=".452" stop-color="#0450a5"/><stop offset=".494" stop-color="#054a98"/><stop offset=".645" stop-color="#054994"/><stop offset=".691" stop-color="#054181"/><stop offset=".792" stop-color="#054892"/><stop offset=".811" stop-color="#0354b0"/><stop offset=".815" stop-color="#034fa6"/><stop offset=".826" stop-color="#0354b5"/><stop offset=".83" stop-color="#045ecd"/><stop offset=".834" stop-color="#0460d2"/><stop offset=".857" stop-color="#0359be"/><stop offset=".907" stop-color="#035cc6"/><stop offset=".946" stop-color="#0452ab"/><stop offset=".965" stop-color="#035bc3"/><stop offset=".992" stop-color="#054286"/><stop offset="1" stop-color="#053f7d"/></linearGradient><linearGradient id="g82" gradientUnits="userSpaceOnUse" x1="562" x2="4102" y1="0" y2="0"><stop offset="0" stop-color="#0251ac"/><stop offset=".012" stop-color="#095fdf"/><stop offset=".015" stop-color="#076de2"/><stop offset=".019" stop-color="#0091c7"/><stop offset=".027" stop-color="#02b0aa"/><stop offset=".031" stop-color="#16bc9c"/><stop offset=".039" stop-color="#3cc281"/><stop offset=".046" stop-color="#43c27c"/><stop offset=".054" stop-color="#3bc182"/><stop offset=".066" stop-color="#21bf94"/><stop offset=".085" stop-color="#02b3ac"/><stop offset=".143" stop-color="#00a9e8"/><stop offset=".154" stop-color="#00a1f6"/><stop offset=".162" stop-color="#058fff"/><stop offset=".178" stop-color="#0d73ff"/><stop offset=".189" stop-color="#096dfd"/><stop offset=".232" stop-color="#0554ad"/><stop offset=".255" stop-color="#054d9d"/><stop offset=".266" stop-color="#044fa3"/><stop offset=".274" stop-color="#0355b1"/><stop offset=".278" stop-color="#024fa7"/><stop offset=".309" stop-color="#0660db"/><stop offset=".32" stop-color="#055cce"/><stop offset=".34" stop-color="#0464dd"/><stop offset=".347" stop-color="#0463d9"/><stop offset=".382" stop-color="#0351aa"/><stop offset=".436" stop-color="#0352ac"/><stop offset=".494" stop-color="#044997"/><stop offset=".529" stop-color="#054b9a"/><stop offset=".564" stop-color="#05478f"/><stop offset=".595" stop-color="#054a97"/><stop offset=".699" stop-color="#054182"/><stop offset=".792" stop-color="#054790"/><stop offset=".826" stop-color="#035ecb"/><stop offset=".838" stop-color="#0463d8"/><stop offset=".857" stop-color="#035bc1"/><stop offset=".869" stop-color="#035bc0"/><stop offset=".903" stop-color="#0361cf"/><stop offset=".942" stop-color="#0453ad"/><stop offset=".95" stop-color="#0455b0"/><stop offset=".965" stop-color="#035dc5"/><stop offset=".992" stop-color="#054286"/><stop offset="1" stop-color="#053f7d"/></linearGradient><linearGradient id="g83" gradientUnits="userSpaceOnUse" x1="548" x2="4088" y1="0" y2="0"><stop offset="0" stop-color="#0354b4"/><stop offset=".012" stop-color="#0b60e4"/><stop offset=".015" stop-color="#0575dd"/><stop offset=".019" stop-color="#0097c3"/><stop offset=".027" stop-color="#02b1a9"/><stop offset=".035" stop-color="#2cc08d"/><stop offset=".042" stop-color="#42c27d"/><stop offset=".054" stop-color="#37c185"/><stop offset=".081" stop-color="#04b5a9"/><stop offset=".1" stop-color="#00abba"/><stop offset=".135" stop-color="#009fea"/><stop offset=".151" stop-color="#0786ff"/><stop offset=".174" stop-color="#0b6dff"/><stop offset=".208" stop-color="#035cc4"/><stop offset=".224" stop-color="#054fa0"/><stop offset=".243" stop-color="#054892"/><stop offset=".266" stop-color="#044ea1"/><stop offset=".27" stop-color="#044896"/><stop offset=".309" stop-color="#0a64ea"/><stop offset=".324" stop-color="#0661dd"/><stop offset=".332" stop-color="#045bcc"/><stop offset=".355" stop-color="#035cc8"/><stop offset=".375" stop-color="#0251ad"/><stop offset=".39" stop-color="#0250a8"/><stop offset=".421" stop-color="#0355b3"/><stop offset=".494" stop-color="#044c9d"/><stop offset=".525" stop-color="#054c9d"/><stop offset=".564" stop-color="#05468e"/><stop offset=".595" stop-color="#054a95"/><stop offset=".703" stop-color="#054182"/><stop offset=".792" stop-color="#05468d"/><stop offset=".811" stop-color="#0452ab"/><stop offset=".822" stop-color="#035dc4"/><stop offset=".838" stop-color="#0464d8"/><stop offset=".857" stop-color="#035bc1"/><stop offset=".873" stop-color="#0359bc"/><stop offset=".888" stop-color="#035ec6"/><stop offset=".911" stop-color="#035dc5"/><stop offset=".946" stop-color="#0451a9"/><stop offset=".965" stop-color="#035cc2"/><stop offset=".992" stop-color="#054285"/><stop offset="1" stop-color="#053f7d"/></linearGradient><linearGradient id="g84" gradientUnits="userSpaceOnUse" x1="533" x2="4073" y1="0" y2="0"><stop offset="0" stop-color="#0352ae"/><stop offset=".012" stop-color="#095fdf"/><stop offset=".015" stop-color="#086ce2"/><stop offset=".019" stop-color="#0090c9"/><stop offset=".027" stop-color="#02aeab"/><stop offset=".035" stop-color="#22bf93"/><stop offset=".042" stop-color="#3cc281"/><stop offset=".054" stop-color="#33c187"/><stop offset=".081" stop-color="#03b4aa"/><stop offset=".1" stop-color="#00aabb"/><stop offset=".131" stop-color="#009eec"/><stop offset=".143" stop-color="#058aff"/><stop offset=".162" stop-color="#0d70ff"/><stop offset=".17" stop-color="#0a6eff"/><stop offset=".205" stop-color="#035dc4"/><stop offset=".224" stop-color="#054a96"/><stop offset=".236" stop-color="#05468c"/><stop offset=".247" stop-color="#05478f"/><stop offset=".266" stop-color="#044fa2"/><stop offset=".27" stop-color="#044997"/><stop offset=".309" stop-color="#0c65f0"/><stop offset=".347" stop-color="#045bc8"/><stop offset=".363" stop-color="#0359bf"/><stop offset=".367" stop-color="#0354b5"/><stop offset=".475" stop-color="#0453ab"/><stop offset=".575" stop-color="#054892"/><stop offset=".656" stop-color="#054892"/><stop offset=".71" stop-color="#054183"/><stop offset=".792" stop-color="#05458a"/><stop offset=".807" stop-color="#054ea0"/><stop offset=".826" stop-color="#035ec6"/><stop offset=".838" stop-color="#0363d3"/><stop offset=".857" stop-color="#0358ba"/><stop offset=".876" stop-color="#0456b2"/><stop offset=".915" stop-color="#035cc2"/><stop offset=".946" stop-color="#0450a6"/><stop offset=".965" stop-color="#0459b9"/><stop offset=".992" stop-color="#054386"/><stop offset="1" stop-color="#053f7e"/></linearGradient><linearGradient id="g85" gradientUnits="userSpaceOnUse" x1="518" x2="4058" y1="0" y2="0"><stop offset="0" stop-color="#034fa6"/><stop offset=".012" stop-color="#085eda"/><stop offset=".015" stop-color="#0967e4"/><stop offset=".019" stop-color="#0089ce"/><stop offset=".023" stop-color="#009fba"/><stop offset=".031" stop-color="#0bb6a3"/><stop offset=".039" stop-color="#2dc08c"/><stop offset=".046" stop-color="#37c185"/><stop offset=".054" stop-color="#30c189"/><stop offset=".081" stop-color="#02b3ab"/><stop offset=".1" stop-color="#00a9be"/><stop offset=".124" stop-color="#009ef0"/><stop offset=".131" stop-color="#068bff"/><stop offset=".147" stop-color="#0d74ff"/><stop offset=".162" stop-color="#086fff"/><stop offset=".189" stop-color="#0361cd"/><stop offset=".212" stop-color="#054a95"/><stop offset=".224" stop-color="#054488"/><stop offset=".236" stop-color="#054386"/><stop offset=".266" stop-color="#044fa3"/><stop offset=".27" stop-color="#044997"/><stop offset=".301" stop-color="#095fde"/><stop offset=".305" stop-color="#0c6eff"/><stop offset=".313" stop-color="#0c6dff"/><stop offset=".351" stop-color="#045ecd"/><stop offset=".382" stop-color="#035dca"/><stop offset=".421" stop-color="#0452ab"/><stop offset=".548" stop-color="#054d9d"/><stop offset=".595" stop-color="#054790"/><stop offset=".649" stop-color="#054b98"/><stop offset=".71" stop-color="#054283"/><stop offset=".768" stop-color="#054385"/><stop offset=".795" stop-color="#054489"/><stop offset=".826" stop-color="#0457b5"/><stop offset=".838" stop-color="#035abf"/><stop offset=".873" stop-color="#044ea2"/><stop offset=".915" stop-color="#035bbf"/><stop offset=".95" stop-color="#0550a4"/><stop offset=".965" stop-color="#0457b6"/><stop offset="1" stop-color="#053f7e"/></linearGradient><linearGradient id="g86" gradientUnits="userSpaceOnUse" x1="503" x2="4043" y1="0" y2="0"><stop offset="0" stop-color="#0352b0"/><stop offset=".012" stop-color="#0a5fe0"/><stop offset=".015" stop-color="#086ce2"/><stop offset=".019" stop-color="#0090c9"/><stop offset=".027" stop-color="#02aeab"/><stop offset=".035" stop-color="#22bf93"/><stop offset=".042" stop-color="#3cc281"/><stop offset=".054" stop-color="#33c187"/><stop offset=".081" stop-color="#02b3aa"/><stop offset=".1" stop-color="#00a7c0"/><stop offset=".112" stop-color="#009cdd"/><stop offset=".12" stop-color="#0685f9"/><stop offset=".127" stop-color="#0c73ff"/><stop offset=".135" stop-color="#0a6eff"/><stop offset=".143" stop-color="#056cf2"/><stop offset=".181" stop-color="#064a94"/><stop offset=".216" stop-color="#054180"/><stop offset=".232" stop-color="#054181"/><stop offset=".266" stop-color="#044fa3"/><stop offset=".27" stop-color="#044996"/><stop offset=".29" stop-color="#0458c1"/><stop offset=".293" stop-color="#0565e1"/><stop offset=".301" stop-color="#086bf7"/><stop offset=".305" stop-color="#0b70ff"/><stop offset=".313" stop-color="#0b70ff"/><stop offset=".351" stop-color="#035fcd"/><stop offset=".378" stop-color="#0361d1"/><stop offset=".398" stop-color="#035cc4"/><stop offset=".417" stop-color="#0453ad"/><stop offset=".475" stop-color="#054c9b"/><stop offset=".548" stop-color="#054d9e"/><stop offset=".598" stop-color="#05468e"/><stop offset=".653" stop-color="#054c9a"/><stop offset=".707" stop-color="#054283"/><stop offset=".741" stop-color="#054489"/><stop offset=".784" stop-color="#054283"/><stop offset=".795" stop-color="#054385"/><stop offset=".811" stop-color="#054a97"/><stop offset=".815" stop-color="#04458e"/><stop offset=".838" stop-color="#0251ad"/><stop offset=".876" stop-color="#044a9a"/><stop offset=".896" stop-color="#0455b0"/><stop offset=".915" stop-color="#0458b8"/><stop offset=".95" stop-color="#054e9f"/><stop offset=".965" stop-color="#0555af"/><stop offset="1" stop-color="#053f7e"/></linearGradient><linearGradient id="g87" gradientUnits="userSpaceOnUse" x1="488" x2="4028" y1="0" y2="0"><stop offset="0" stop-color="#0352ae"/><stop offset=".012" stop-color="#095fde"/><stop offset=".015" stop-color="#086ae3"/><stop offset=".019" stop-color="#008dca"/><stop offset=".027" stop-color="#02adac"/><stop offset=".035" stop-color="#22bf93"/><stop offset=".039" stop-color="#34c186"/><stop offset=".042" stop-color="#3ec280"/><stop offset=".054" stop-color="#36c185"/><stop offset=".081" stop-color="#03b4a9"/><stop offset=".1" stop-color="#00a3bf"/><stop offset=".108" stop-color="#0093ce"/><stop offset=".116" stop-color="#0770e5"/><stop offset=".12" stop-color="#0a66e6"/><stop offset=".131" stop-color="#055ccf"/><stop offset=".154" stop-color="#054388"/><stop offset=".17" stop-color="#053d78"/><stop offset=".189" stop-color="#053870"/><stop offset=".201" stop-color="#053d79"/><stop offset=".232" stop-color="#054181"/><stop offset=".266" stop-color="#044fa2"/><stop offset=".27" stop-color="#044896"/><stop offset=".282" stop-color="#0352ae"/><stop offset=".286" stop-color="#035dca"/><stop offset=".305" stop-color="#076ffd"/><stop offset=".309" stop-color="#0870ff"/><stop offset=".351" stop-color="#035bc3"/><stop offset=".363" stop-color="#0360cc"/><stop offset=".378" stop-color="#035fca"/><stop offset=".39" stop-color="#035dc3"/><stop offset=".413" stop-color="#0450a7"/><stop offset=".44" stop-color="#0352ac"/><stop offset=".483" stop-color="#054894"/><stop offset=".548" stop-color="#054c9a"/><stop offset=".598" stop-color="#05458b"/><stop offset=".653" stop-color="#054c9a"/><stop offset=".699" stop-color="#054386"/><stop offset=".753" stop-color="#054489"/><stop offset=".792" stop-color="#054181"/><stop offset=".803" stop-color="#05448a"/><stop offset=".807" stop-color="#054183"/><stop offset=".83" stop-color="#0251aa"/><stop offset=".842" stop-color="#0354b4"/><stop offset=".861" stop-color="#0353b0"/><stop offset=".884" stop-color="#034c9d"/><stop offset=".896" stop-color="#0453ad"/><stop offset=".907" stop-color="#0455b1"/><stop offset=".923" stop-color="#0454ae"/><stop offset=".95" stop-color="#054c9a"/><stop offset=".965" stop-color="#0550a3"/><stop offset="1" stop-color="#053f7e"/></linearGradient><linearGradient id="g88" gradientUnits="userSpaceOnUse" x1="474" x2="4014" y1="0" y2="0"><stop offset="0" stop-color="#034da1"/><stop offset=".015" stop-color="#0a64e5"/><stop offset=".023" stop-color="#009ebc"/><stop offset=".027" stop-color="#01aaae"/><stop offset=".031" stop-color="#0bb6a3"/><stop offset=".039" stop-color="#32c188"/><stop offset=".046" stop-color="#3fc27f"/><stop offset=".054" stop-color="#38c184"/><stop offset=".081" stop-color="#02b4ab"/><stop offset=".104" stop-color="#00a1c3"/><stop offset=".116" stop-color="#0089ce"/><stop offset=".124" stop-color="#0672de"/><stop offset=".127" stop-color="#0972f1"/><stop offset=".135" stop-color="#0c69fb"/><stop offset=".158" stop-color="#0463da"/><stop offset=".174" stop-color="#0355b3"/><stop offset=".181" stop-color="#044894"/><stop offset=".185" stop-color="#04448c"/><stop offset=".208" stop-color="#053f7c"/><stop offset=".232" stop-color="#054181"/><stop offset=".27" stop-color="#0450a6"/><stop offset=".274" stop-color="#034b9c"/><stop offset=".301" stop-color="#045ac9"/><stop offset=".305" stop-color="#0567e9"/><stop offset=".309" stop-color="#0569ec"/><stop offset=".351" stop-color="#0357b9"/><stop offset=".375" stop-color="#035bbf"/><stop offset=".413" stop-color="#0351a9"/><stop offset=".44" stop-color="#0354b0"/><stop offset=".479" stop-color="#044690"/><stop offset=".548" stop-color="#054a95"/><stop offset=".598" stop-color="#054489"/><stop offset=".653" stop-color="#054a97"/><stop offset=".691" stop-color="#054388"/><stop offset=".726" stop-color="#05458c"/><stop offset=".795" stop-color="#054080"/><stop offset=".799" stop-color="#054284"/><stop offset=".803" stop-color="#053f7e"/><stop offset=".826" stop-color="#0250aa"/><stop offset=".849" stop-color="#0357bc"/><stop offset=".888" stop-color="#034da1"/><stop offset=".907" stop-color="#0452aa"/><stop offset=".95" stop-color="#054994"/><stop offset=".965" stop-color="#054b98"/><stop offset="1" stop-color="#053f7d"/></linearGradient><linearGradient id="g89" gradientUnits="userSpaceOnUse" x1="459" x2="3999" y1="0" y2="0"><stop offset="0" stop-color="#0251ad"/><stop offset=".012" stop-color="#095fdd"/><stop offset=".015" stop-color="#0969e3"/><stop offset=".019" stop-color="#008ccb"/><stop offset=".027" stop-color="#02adab"/><stop offset=".031" stop-color="#11b99f"/><stop offset=".039" stop-color="#39c183"/><stop offset=".042" stop-color="#43c27c"/><stop offset=".046" stop-color="#42c27d"/><stop offset=".054" stop-color="#3bc182"/><stop offset=".081" stop-color="#02b3ab"/><stop offset=".104" stop-color="#00a3c9"/><stop offset=".116" stop-color="#018fe2"/><stop offset=".124" stop-color="#0876f4"/><stop offset=".131" stop-color="#0c6af9"/><stop offset=".154" stop-color="#0461d6"/><stop offset=".189" stop-color="#05458b"/><stop offset=".208" stop-color="#053f7d"/><stop offset=".232" stop-color="#054181"/><stop offset=".27" stop-color="#0450a5"/><stop offset=".274" stop-color="#034a9b"/><stop offset=".305" stop-color="#055cd1"/><stop offset=".309" stop-color="#0664e2"/><stop offset=".367" stop-color="#0355b4"/><stop offset=".444" stop-color="#0455b1"/><stop offset=".471" stop-color="#044d9f"/><stop offset=".475" stop-color="#044997"/><stop offset=".483" stop-color="#044c9e"/><stop offset=".517" stop-color="#054790"/><stop offset=".548" stop-color="#054893"/><stop offset=".598" stop-color="#054489"/><stop offset=".645" stop-color="#054993"/><stop offset=".691" stop-color="#054488"/><stop offset=".726" stop-color="#054893"/><stop offset=".795" stop-color="#054080"/><stop offset=".799" stop-color="#053c79"/><stop offset=".822" stop-color="#034fa7"/><stop offset=".838" stop-color="#0355ba"/><stop offset=".842" stop-color="#045dcc"/><stop offset=".869" stop-color="#0358bc"/><stop offset=".896" stop-color="#044ea1"/><stop offset=".911" stop-color="#054fa3"/><stop offset=".954" stop-color="#05458b"/><stop offset=".965" stop-color="#05478f"/><stop offset="1" stop-color="#053f7d"/></linearGradient><linearGradient id="g90" gradientUnits="userSpaceOnUse" x1="444" x2="3984" y1="0" y2="0"><stop offset="0" stop-color="#0352ae"/><stop offset=".012" stop-color="#095fdd"/><stop offset=".015" stop-color="#086ae3"/><stop offset=".019" stop-color="#008dcb"/><stop offset=".027" stop-color="#02adab"/><stop offset=".035" stop-color="#27c090"/><stop offset=".039" stop-color="#3bc182"/><stop offset=".042" stop-color="#44c27b"/><stop offset=".054" stop-color="#3cc281"/><stop offset=".081" stop-color="#02b2ab"/><stop offset=".104" stop-color="#00a0cc"/><stop offset=".112" stop-color="#0093dd"/><stop offset=".12" stop-color="#0778f2"/><stop offset=".127" stop-color="#0b6bf7"/><stop offset=".147" stop-color="#0563dd"/><stop offset=".185" stop-color="#05458a"/><stop offset=".205" stop-color="#053f7d"/><stop offset=".232" stop-color="#054080"/><stop offset=".27" stop-color="#044fa2"/><stop offset=".274" stop-color="#034a99"/><stop offset=".305" stop-color="#055cd2"/><stop offset=".309" stop-color="#0668ec"/><stop offset=".359" stop-color="#0358bc"/><stop offset=".382" stop-color="#0353b0"/><stop offset=".432" stop-color="#0456b4"/><stop offset=".49" stop-color="#0450a6"/><stop offset=".517" stop-color="#054893"/><stop offset=".544" stop-color="#054995"/><stop offset=".602" stop-color="#05458a"/><stop offset=".691" stop-color="#05458c"/><stop offset=".726" stop-color="#054b9a"/><stop offset=".792" stop-color="#054181"/><stop offset=".799" stop-color="#054285"/><stop offset=".803" stop-color="#054080"/><stop offset=".822" stop-color="#0250a8"/><stop offset=".834" stop-color="#0355b7"/><stop offset=".838" stop-color="#045fce"/><stop offset=".842" stop-color="#0461d4"/><stop offset=".865" stop-color="#035dc9"/><stop offset=".903" stop-color="#054c9c"/><stop offset=".938" stop-color="#05458c"/><stop offset="1" stop-color="#053f7c"/></linearGradient><linearGradient id="g91" gradientUnits="userSpaceOnUse" x1="429" x2="3969" y1="0" y2="0"><stop offset="0" stop-color="#034da2"/><stop offset=".015" stop-color="#0a64e5"/><stop offset=".023" stop-color="#009ebb"/><stop offset=".027" stop-color="#01abad"/><stop offset=".031" stop-color="#0fb8a1"/><stop offset=".039" stop-color="#3cc282"/><stop offset=".042" stop-color="#47c379"/><stop offset=".046" stop-color="#49c378"/><stop offset=".054" stop-color="#41c27d"/><stop offset=".066" stop-color="#21bf94"/><stop offset=".081" stop-color="#02b2ab"/><stop offset=".093" stop-color="#00a9b8"/><stop offset=".104" stop-color="#009ece"/><stop offset=".112" stop-color="#018ee1"/><stop offset=".12" stop-color="#0874f4"/><stop offset=".127" stop-color="#0c68f7"/><stop offset=".158" stop-color="#0359be"/><stop offset=".178" stop-color="#05478f"/><stop offset=".189" stop-color="#054181"/><stop offset=".201" stop-color="#053f7c"/><stop offset=".232" stop-color="#054080"/><stop offset=".27" stop-color="#054ea0"/><stop offset=".274" stop-color="#044997"/><stop offset=".301" stop-color="#045bcd"/><stop offset=".305" stop-color="#0669ee"/><stop offset=".309" stop-color="#066af0"/><stop offset=".359" stop-color="#0359be"/><stop offset=".402" stop-color="#0353ae"/><stop offset=".483" stop-color="#0454ae"/><stop offset=".521" stop-color="#054995"/><stop offset=".602" stop-color="#054488"/><stop offset=".695" stop-color="#054790"/><stop offset=".722" stop-color="#054d9e"/><stop offset=".768" stop-color="#054386"/><stop offset=".803" stop-color="#054081"/><stop offset=".826" stop-color="#0351ad"/><stop offset=".83" stop-color="#035cc7"/><stop offset=".842" stop-color="#0463d9"/><stop offset=".849" stop-color="#045fcf"/><stop offset=".869" stop-color="#035ec9"/><stop offset=".915" stop-color="#054892"/><stop offset=".965" stop-color="#05448a"/><stop offset="1" stop-color="#053f7c"/></linearGradient><linearGradient id="g92" gradientUnits="userSpaceOnUse" x1="414" x2="3954" y1="0" y2="0"><stop offset="0" stop-color="#0250a9"/><stop offset=".015" stop-color="#0a66e4"/><stop offset=".019" stop-color="#0089ce"/><stop offset=".023" stop-color="#009fb9"/><stop offset=".027" stop-color="#01acac"/><stop offset=".031" stop-color="#11b99f"/><stop offset=".039" stop-color="#3ec280"/><stop offset=".042" stop-color="#49c378"/><stop offset=".046" stop-color="#49c378"/><stop offset=".054" stop-color="#41c27e"/><stop offset=".066" stop-color="#20bf95"/><stop offset=".081" stop-color="#02b2ad"/><stop offset=".1" stop-color="#00a2cb"/><stop offset=".108" stop-color="#0093dd"/><stop offset=".116" stop-color="#0876f3"/><stop offset=".124" stop-color="#0c69f9"/><stop offset=".143" stop-color="#0461d7"/><stop offset=".174" stop-color="#05468e"/><stop offset=".185" stop-color="#054180"/><stop offset=".197" stop-color="#053f7c"/><stop offset=".232" stop-color="#054080"/><stop offset=".27" stop-color="#054e9f"/><stop offset=".305" stop-color="#056ef6"/><stop offset=".309" stop-color="#056ef7"/><stop offset=".317" stop-color="#0568e9"/><stop offset=".359" stop-color="#035cc4"/><stop offset=".421" stop-color="#0452ab"/><stop offset=".483" stop-color="#0454af"/><stop offset=".525" stop-color="#054994"/><stop offset=".614" stop-color="#054285"/><stop offset=".676" stop-color="#054994"/><stop offset=".699" stop-color="#054892"/><stop offset=".722" stop-color="#054d9d"/><stop offset=".768" stop-color="#054386"/><stop offset=".799" stop-color="#054387"/><stop offset=".803" stop-color="#054081"/><stop offset=".815" stop-color="#044996"/><stop offset=".819" stop-color="#0354af"/><stop offset=".822" stop-color="#0358b8"/><stop offset=".842" stop-color="#0464d9"/><stop offset=".857" stop-color="#035dc8"/><stop offset=".869" stop-color="#035ec6"/><stop offset=".911" stop-color="#054892"/><stop offset=".942" stop-color="#05468f"/><stop offset=".946" stop-color="#054388"/><stop offset=".965" stop-color="#05468f"/><stop offset="1" stop-color="#053f7c"/></linearGradient><linearGradient id="g93" gradientUnits="userSpaceOnUse" x1="400" x2="3940" y1="0" y2="0"><stop offset="0" stop-color="#0352af"/><stop offset=".012" stop-color="#095fdc"/><stop offset=".015" stop-color="#0969e3"/><stop offset=".019" stop-color="#008ccc"/><stop offset=".027" stop-color="#02aeab"/><stop offset=".035" stop-color="#2bc08d"/><stop offset=".039" stop-color="#40c27e"/><stop offset=".042" stop-color="#4bc377"/><stop offset=".054" stop-color="#41c27e"/><stop offset=".077" stop-color="#03b4aa"/><stop offset=".089" stop-color="#00aab7"/><stop offset=".1" stop-color="#009fd1"/><stop offset=".112" stop-color="#077bf2"/><stop offset=".12" stop-color="#0c6bfa"/><stop offset=".135" stop-color="#0564e1"/><stop offset=".17" stop-color="#05468e"/><stop offset=".181" stop-color="#054180"/><stop offset=".193" stop-color="#053f7c"/><stop offset=".232" stop-color="#054080"/><stop offset=".27" stop-color="#054d9d"/><stop offset=".305" stop-color="#046ae9"/><stop offset=".359" stop-color="#035cc3"/><stop offset=".421" stop-color="#0551a7"/><stop offset=".452" stop-color="#0550a3"/><stop offset=".49" stop-color="#0452aa"/><stop offset=".529" stop-color="#054790"/><stop offset=".618" stop-color="#054283"/><stop offset=".676" stop-color="#054a96"/><stop offset=".71" stop-color="#054892"/><stop offset=".722" stop-color="#054c9a"/><stop offset=".784" stop-color="#054283"/><stop offset=".799" stop-color="#054489"/><stop offset=".83" stop-color="#035ec6"/><stop offset=".846" stop-color="#0363d6"/><stop offset=".865" stop-color="#0359bb"/><stop offset=".907" stop-color="#054892"/><stop offset=".938" stop-color="#054893"/><stop offset=".942" stop-color="#04448b"/><stop offset=".958" stop-color="#04468f"/><stop offset=".961" stop-color="#044996"/><stop offset="1" stop-color="#053f7c"/></linearGradient><linearGradient id="g94" gradientUnits="userSpaceOnUse" x1="395" x2="3935" y1="0" y2="0"><stop offset="0" stop-color="#0251ac"/><stop offset=".012" stop-color="#085eda"/><stop offset=".015" stop-color="#0967e4"/><stop offset=".019" stop-color="#0089cd"/><stop offset=".023" stop-color="#009fb9"/><stop offset=".027" stop-color="#02adac"/><stop offset=".031" stop-color="#12ba9f"/><stop offset=".039" stop-color="#3fc27f"/><stop offset=".042" stop-color="#4ac378"/><stop offset=".046" stop-color="#49c378"/><stop offset=".054" stop-color="#41c27e"/><stop offset=".077" stop-color="#02b4aa"/><stop offset=".097" stop-color="#00a4c9"/><stop offset=".104" stop-color="#0095dd"/><stop offset=".112" stop-color="#0878f5"/><stop offset=".12" stop-color="#0d6afb"/><stop offset=".139" stop-color="#0461d6"/><stop offset=".166" stop-color="#054892"/><stop offset=".178" stop-color="#054182"/><stop offset=".189" stop-color="#053f7c"/><stop offset=".228" stop-color="#053f7e"/><stop offset=".27" stop-color="#054d9d"/><stop offset=".305" stop-color="#0469e4"/><stop offset=".363" stop-color="#045bbe"/><stop offset=".425" stop-color="#0550a5"/><stop offset=".456" stop-color="#054fa2"/><stop offset=".49" stop-color="#0452aa"/><stop offset=".529" stop-color="#054790"/><stop offset=".618" stop-color="#054283"/><stop offset=".676" stop-color="#054a97"/><stop offset=".71" stop-color="#054891"/><stop offset=".726" stop-color="#054b98"/><stop offset=".78" stop-color="#054181"/><stop offset=".799" stop-color="#05458a"/><stop offset=".83" stop-color="#035ec6"/><stop offset=".846" stop-color="#0363d5"/><stop offset=".869" stop-color="#0456b4"/><stop offset=".876" stop-color="#0456b1"/><stop offset=".907" stop-color="#054790"/><stop offset=".961" stop-color="#044a99"/><stop offset="1" stop-color="#053f7c"/></linearGradient><linearGradient id="g95" gradientUnits="userSpaceOnUse" x1="391" x2="3931" y1="0" y2="0"><stop offset="0" stop-color="#0250a8"/><stop offset=".015" stop-color="#0a65e4"/><stop offset=".019" stop-color="#0087d0"/><stop offset=".023" stop-color="#009eba"/><stop offset=".027" stop-color="#01acad"/><stop offset=".031" stop-color="#10b9a0"/><stop offset=".039" stop-color="#3dc280"/><stop offset=".046" stop-color="#4cc376"/><stop offset=".054" stop-color="#40c27e"/><stop offset=".077" stop-color="#02b3ab"/><stop offset=".097" stop-color="#00a3cb"/><stop offset=".104" stop-color="#0094df"/><stop offset=".112" stop-color="#0876f6"/><stop offset=".12" stop-color="#0c69f9"/><stop offset=".147" stop-color="#035bc1"/><stop offset=".166" stop-color="#05478f"/><stop offset=".178" stop-color="#054180"/><stop offset=".189" stop-color="#053f7c"/><stop offset=".228" stop-color="#053f7e"/><stop offset=".27" stop-color="#054d9c"/><stop offset=".305" stop-color="#0467de"/><stop offset=".363" stop-color="#045abb"/><stop offset=".425" stop-color="#0550a3"/><stop offset=".456" stop-color="#054fa1"/><stop offset=".49" stop-color="#0453ab"/><stop offset=".529" stop-color="#054790"/><stop offset=".618" stop-color="#054284"/><stop offset=".683" stop-color="#054b98"/><stop offset=".71" stop-color="#054891"/><stop offset=".73" stop-color="#054a96"/><stop offset=".78" stop-color="#054181"/><stop offset=".799" stop-color="#05458a"/><stop offset=".834" stop-color="#0360cb"/><stop offset=".846" stop-color="#0363d3"/><stop offset=".873" stop-color="#0454ad"/><stop offset=".903" stop-color="#054790"/><stop offset=".961" stop-color="#044c9c"/><stop offset="1" stop-color="#053f7c"/></linearGradient><linearGradient id="g96" gradientUnits="userSpaceOnUse" x1="387" x2="3927" y1="0" y2="0"><stop offset="0" stop-color="#034ea4"/><stop offset=".015" stop-color="#0b63e5"/><stop offset=".023" stop-color="#009dbc"/><stop offset=".027" stop-color="#01abad"/><stop offset=".031" stop-color="#0eb8a1"/><stop offset=".039" stop-color="#3cc281"/><stop offset=".046" stop-color="#4cc376"/><stop offset=".054" stop-color="#40c27e"/><stop offset=".077" stop-color="#02b3ab"/><stop offset=".097" stop-color="#00a2cd"/><stop offset=".104" stop-color="#0191e2"/><stop offset=".108" stop-color="#0580ef"/><stop offset=".116" stop-color="#0b6df9"/><stop offset=".131" stop-color="#0564e1"/><stop offset=".166" stop-color="#05458c"/><stop offset=".185" stop-color="#053f7c"/><stop offset=".224" stop-color="#053f7d"/><stop offset=".251" stop-color="#05458b"/><stop offset=".27" stop-color="#054c9a"/><stop offset=".297" stop-color="#0361ce"/><stop offset=".309" stop-color="#0365d7"/><stop offset=".363" stop-color="#0458b7"/><stop offset=".425" stop-color="#054fa1"/><stop offset=".456" stop-color="#054e9e"/><stop offset=".49" stop-color="#0552aa"/><stop offset=".529" stop-color="#054790"/><stop offset=".618" stop-color="#054284"/><stop offset=".687" stop-color="#054b99"/><stop offset=".714" stop-color="#054790"/><stop offset=".734" stop-color="#054993"/><stop offset=".776" stop-color="#054181"/><stop offset=".799" stop-color="#05458b"/><stop offset=".834" stop-color="#035ec7"/><stop offset=".846" stop-color="#0362d0"/><stop offset=".873" stop-color="#0453ac"/><stop offset=".903" stop-color="#054790"/><stop offset=".961" stop-color="#044d9f"/><stop offset="1" stop-color="#053f7c"/></linearGradient><linearGradient id="g97" gradientUnits="userSpaceOnUse" x1="382" x2="3922" y1="0" y2="0"><stop offset="0" stop-color="#034ca0"/><stop offset=".015" stop-color="#0b61e6"/><stop offset=".023" stop-color="#009cbd"/><stop offset=".027" stop-color="#01aaae"/><stop offset=".031" stop-color="#0cb7a2"/><stop offset=".039" stop-color="#3bc182"/><stop offset=".046" stop-color="#4bc377"/><stop offset=".054" stop-color="#40c27f"/><stop offset=".077" stop-color="#02b3ac"/><stop offset=".097" stop-color="#00a0ce"/><stop offset=".104" stop-color="#028de5"/><stop offset=".108" stop-color="#067bf2"/><stop offset=".116" stop-color="#0c6afa"/><stop offset=".131" stop-color="#0563de"/><stop offset=".162" stop-color="#054790"/><stop offset=".174" stop-color="#054181"/><stop offset=".185" stop-color="#053f7c"/><stop offset=".224" stop-color="#053f7d"/><stop offset=".247" stop-color="#054488"/><stop offset=".27" stop-color="#054b99"/><stop offset=".301" stop-color="#0361cc"/><stop offset=".309" stop-color="#0362d1"/><stop offset=".363" stop-color="#0456b2"/><stop offset=".429" stop-color="#054d9c"/><stop offset=".452" stop-color="#054c9b"/><stop offset=".49" stop-color="#0552a8"/><stop offset=".529" stop-color="#054790"/><stop offset=".571" stop-color="#05478f"/><stop offset=".618" stop-color="#054284"/><stop offset=".687" stop-color="#054b98"/><stop offset=".718" stop-color="#05478e"/><stop offset=".734" stop-color="#054890"/><stop offset=".772" stop-color="#054181"/><stop offset=".799" stop-color="#05458b"/><stop offset=".834" stop-color="#035bbf"/><stop offset=".846" stop-color="#035fc8"/><stop offset=".88" stop-color="#054d9e"/><stop offset=".907" stop-color="#05468e"/><stop offset=".961" stop-color="#044ea2"/><stop offset="1" stop-color="#053f7c"/></linearGradient><linearGradient id="g98" gradientUnits="userSpaceOnUse" x1="378" x2="3918" y1="0" y2="0"><stop offset="0" stop-color="#034b9d"/><stop offset=".015" stop-color="#0b60e5"/><stop offset=".019" stop-color="#037cd7"/><stop offset=".023" stop-color="#009cbe"/><stop offset=".027" stop-color="#01a9ae"/><stop offset=".031" stop-color="#0bb6a3"/><stop offset=".039" stop-color="#3ac183"/><stop offset=".046" stop-color="#4bc377"/><stop offset=".054" stop-color="#40c27f"/><stop offset=".066" stop-color="#1cbe98"/><stop offset=".077" stop-color="#02b2ac"/><stop offset=".097" stop-color="#009fd0"/><stop offset=".1" stop-color="#0096db"/><stop offset=".108" stop-color="#0877f5"/><stop offset=".116" stop-color="#0c69fa"/><stop offset=".131" stop-color="#0562db"/><stop offset=".162" stop-color="#05468c"/><stop offset=".181" stop-color="#053f7d"/><stop offset=".224" stop-color="#053f7d"/><stop offset=".247" stop-color="#054387"/><stop offset=".27" stop-color="#054a97"/><stop offset=".309" stop-color="#0360ca"/><stop offset=".363" stop-color="#0554ae"/><stop offset=".444" stop-color="#054a95"/><stop offset=".49" stop-color="#0551a6"/><stop offset=".529" stop-color="#05478f"/><stop offset=".568" stop-color="#05478f"/><stop offset=".618" stop-color="#054284"/><stop offset=".683" stop-color="#054b98"/><stop offset=".768" stop-color="#054181"/><stop offset=".784" stop-color="#054183"/><stop offset=".803" stop-color="#05478f"/><stop offset=".83" stop-color="#0357b5"/><stop offset=".846" stop-color="#035bc0"/><stop offset=".884" stop-color="#054996"/><stop offset=".911" stop-color="#05468e"/><stop offset=".961" stop-color="#0450a4"/><stop offset=".988" stop-color="#054284"/><stop offset="1" stop-color="#053f7d"/></linearGradient><linearGradient id="g99" gradientUnits="userSpaceOnUse" x1="374" x2="3914" y1="0" y2="0"><stop offset="0" stop-color="#034da1"/><stop offset=".015" stop-color="#0b61e6"/><stop offset=".023" stop-color="#009dbd"/><stop offset=".027" stop-color="#01aaae"/><stop offset=".031" stop-color="#0cb7a2"/><stop offset=".039" stop-color="#3bc182"/><stop offset=".046" stop-color="#4bc377"/><stop offset=".054" stop-color="#3fc27f"/><stop offset=".073" stop-color="#07b6a7"/><stop offset=".077" stop-color="#02b2ad"/><stop offset=".085" stop-color="#00aab7"/><stop offset=".097" stop-color="#009dd2"/><stop offset=".108" stop-color="#0875f5"/><stop offset=".112" stop-color="#0b6ef8"/><stop offset=".116" stop-color="#0c69f7"/><stop offset=".127" stop-color="#0564e1"/><stop offset=".158" stop-color="#054890"/><stop offset=".17" stop-color="#054181"/><stop offset=".181" stop-color="#053f7c"/><stop offset=".224" stop-color="#053f7d"/><stop offset=".247" stop-color="#054386"/><stop offset=".27" stop-color="#054a94"/><stop offset=".309" stop-color="#035ec4"/><stop offset=".363" stop-color="#0552a9"/><stop offset=".44" stop-color="#054892"/><stop offset=".486" stop-color="#0550a3"/><stop offset=".529" stop-color="#05478e"/><stop offset=".568" stop-color="#05478f"/><stop offset=".618" stop-color="#054284"/><stop offset=".687" stop-color="#054a97"/><stop offset=".768" stop-color="#054181"/><stop offset=".799" stop-color="#05458a"/><stop offset=".83" stop-color="#0457b6"/><stop offset=".846" stop-color="#035cc2"/><stop offset=".884" stop-color="#054a96"/><stop offset=".911" stop-color="#05468d"/><stop offset=".961" stop-color="#0450a6"/><stop offset=".988" stop-color="#054284"/><stop offset="1" stop-color="#053f7d"/></linearGradient><linearGradient id="g100" gradientUnits="userSpaceOnUse" x1="369" x2="3909" y1="0" y2="0"><stop offset="0" stop-color="#034ea5"/><stop offset=".015" stop-color="#0b63e5"/><stop offset=".023" stop-color="#009dbc"/><stop offset=".027" stop-color="#01aaad"/><stop offset=".031" stop-color="#0eb8a1"/><stop offset=".039" stop-color="#3cc281"/><stop offset=".046" stop-color="#4cc376"/><stop offset=".054" stop-color="#3fc27f"/><stop offset=".073" stop-color="#06b5a8"/><stop offset=".077" stop-color="#02b1ad"/><stop offset=".093" stop-color="#00a3ca"/><stop offset=".1" stop-color="#0092e0"/><stop offset=".104" stop-color="#0580ee"/><stop offset=".112" stop-color="#0c6cf9"/><stop offset=".127" stop-color="#0563dd"/><stop offset=".158" stop-color="#05468d"/><stop offset=".17" stop-color="#054080"/><stop offset=".181" stop-color="#053f7c"/><stop offset=".224" stop-color="#053f7c"/><stop offset=".247" stop-color="#054385"/><stop offset=".27" stop-color="#054992"/><stop offset=".309" stop-color="#045bbe"/><stop offset=".363" stop-color="#0550a3"/><stop offset=".436" stop-color="#054790"/><stop offset=".49" stop-color="#054fa0"/><stop offset=".525" stop-color="#05468d"/><stop offset=".568" stop-color="#05478e"/><stop offset=".622" stop-color="#054284"/><stop offset=".687" stop-color="#054a95"/><stop offset=".764" stop-color="#054181"/><stop offset=".799" stop-color="#05458a"/><stop offset=".834" stop-color="#0459ba"/><stop offset=".846" stop-color="#035cc2"/><stop offset=".876" stop-color="#054c9b"/><stop offset=".911" stop-color="#05468d"/><stop offset=".961" stop-color="#0451a7"/><stop offset=".988" stop-color="#054284"/><stop offset="1" stop-color="#053f7d"/></linearGradient><linearGradient id="g101" gradientUnits="userSpaceOnUse" x1="365" x2="3905" y1="0" y2="0"><stop offset="0" stop-color="#0250a9"/><stop offset=".015" stop-color="#0a65e5"/><stop offset=".023" stop-color="#009ebb"/><stop offset=".027" stop-color="#01abad"/><stop offset=".031" stop-color="#0fb8a1"/><stop offset=".039" stop-color="#3ec280"/><stop offset=".046" stop-color="#4cc376"/><stop offset=".054" stop-color="#3fc27f"/><stop offset=".073" stop-color="#05b6aa"/><stop offset=".085" stop-color="#00aebf"/><stop offset=".093" stop-color="#00aad6"/><stop offset=".1" stop-color="#0196f1"/><stop offset=".104" stop-color="#0782ff"/><stop offset=".112" stop-color="#0d6fff"/><stop offset=".116" stop-color="#0b6cfe"/><stop offset=".139" stop-color="#035bc1"/><stop offset=".147" stop-color="#0451a6"/><stop offset=".158" stop-color="#05458b"/><stop offset=".178" stop-color="#053f7c"/><stop offset=".243" stop-color="#054282"/><stop offset=".27" stop-color="#054890"/><stop offset=".309" stop-color="#0458b7"/><stop offset=".363" stop-color="#054e9e"/><stop offset=".432" stop-color="#05478e"/><stop offset=".49" stop-color="#054d9c"/><stop offset=".525" stop-color="#05458b"/><stop offset=".568" stop-color="#05468d"/><stop offset=".622" stop-color="#054283"/><stop offset=".687" stop-color="#054994"/><stop offset=".764" stop-color="#054181"/><stop offset=".799" stop-color="#054489"/><stop offset=".83" stop-color="#0457b4"/><stop offset=".846" stop-color="#035cc1"/><stop offset=".876" stop-color="#054d9d"/><stop offset=".911" stop-color="#05468d"/><stop offset=".961" stop-color="#0551a7"/><stop offset=".988" stop-color="#054284"/><stop offset="1" stop-color="#053f7d"/></linearGradient><linearGradient id="g102" gradientUnits="userSpaceOnUse" x1="361" x2="3901" y1="0" y2="0"><stop offset="0" stop-color="#0251ab"/><stop offset=".015" stop-color="#0a64e5"/><stop offset=".023" stop-color="#009dbc"/><stop offset=".027" stop-color="#01aaad"/><stop offset=".031" stop-color="#0eb8a1"/><stop offset=".039" stop-color="#41c27e"/><stop offset=".042" stop-color="#4ec375"/><stop offset=".046" stop-color="#52c372"/><stop offset=".054" stop-color="#42c27d"/><stop offset=".062" stop-color="#22bf93"/><stop offset=".073" stop-color="#02b4af"/><stop offset=".089" stop-color="#00abdc"/><stop offset=".097" stop-color="#0396fa"/><stop offset=".1" stop-color="#0882ff"/><stop offset=".108" stop-color="#0d71ff"/><stop offset=".116" stop-color="#086dfc"/><stop offset=".154" stop-color="#05478f"/><stop offset=".166" stop-color="#054180"/><stop offset=".178" stop-color="#053f7c"/><stop offset=".22" stop-color="#053e7c"/><stop offset=".247" stop-color="#054283"/><stop offset=".27" stop-color="#05478d"/><stop offset=".309" stop-color="#0556b0"/><stop offset=".351" stop-color="#054d9d"/><stop offset=".429" stop-color="#05468c"/><stop offset=".49" stop-color="#054c99"/><stop offset=".525" stop-color="#054489"/><stop offset=".568" stop-color="#05468c"/><stop offset=".622" stop-color="#054182"/><stop offset=".687" stop-color="#054892"/><stop offset=".761" stop-color="#054080"/><stop offset=".795" stop-color="#054385"/><stop offset=".834" stop-color="#0458b7"/><stop offset=".846" stop-color="#045bbf"/><stop offset=".873" stop-color="#054e9f"/><stop offset=".911" stop-color="#05468d"/><stop offset=".961" stop-color="#0551a7"/><stop offset=".988" stop-color="#054284"/><stop offset="1" stop-color="#053f7d"/></linearGradient><linearGradient id="g103" gradientUnits="userSpaceOnUse" x1="356" x2="3896" y1="0" y2="0"><stop offset="0" stop-color="#0251ac"/><stop offset=".015" stop-color="#0a64e5"/><stop offset=".023" stop-color="#009dbc"/><stop offset=".027" stop-color="#01abad"/><stop offset=".031" stop-color="#12ba9f"/><stop offset=".039" stop-color="#4fc374"/><stop offset=".042" stop-color="#5fc468"/><stop offset=".046" stop-color="#64c564"/><stop offset=".054" stop-color="#51c373"/><stop offset=".069" stop-color="#07b5a6"/><stop offset=".077" stop-color="#00acb9"/><stop offset=".085" stop-color="#00a8d7"/><stop offset=".093" stop-color="#0491fa"/><stop offset=".097" stop-color="#097fff"/><stop offset=".104" stop-color="#0d70ff"/><stop offset=".112" stop-color="#086dfa"/><stop offset=".151" stop-color="#054992"/><stop offset=".162" stop-color="#054182"/><stop offset=".174" stop-color="#053f7c"/><stop offset=".243" stop-color="#054181"/><stop offset=".27" stop-color="#05468b"/><stop offset=".309" stop-color="#0553aa"/><stop offset=".34" stop-color="#054d9c"/><stop offset=".351" stop-color="#053f80"/><stop offset=".378" stop-color="#053e7e"/><stop offset=".398" stop-color="#054790"/><stop offset=".429" stop-color="#05458a"/><stop offset=".486" stop-color="#054a95"/><stop offset=".525" stop-color="#054387"/><stop offset=".568" stop-color="#05458a"/><stop offset=".622" stop-color="#054182"/><stop offset=".687" stop-color="#054790"/><stop offset=".757" stop-color="#054080"/><stop offset=".799" stop-color="#054386"/><stop offset=".83" stop-color="#0455af"/><stop offset=".846" stop-color="#045abc"/><stop offset=".873" stop-color="#054ea0"/><stop offset=".915" stop-color="#05468c"/><stop offset=".961" stop-color="#0551a5"/><stop offset=".988" stop-color="#054284"/><stop offset="1" stop-color="#053f7d"/></linearGradient><linearGradient id="g104" gradientUnits="userSpaceOnUse" x1="352" x2="3892" y1="0" y2="0"><stop offset="0" stop-color="#0250aa"/><stop offset=".015" stop-color="#0b62e5"/><stop offset=".023" stop-color="#009dbc"/><stop offset=".027" stop-color="#01acac"/><stop offset=".031" stop-color="#17bc9c"/><stop offset=".039" stop-color="#60c467"/><stop offset=".042" stop-color="#73c557"/><stop offset=".046" stop-color="#79c552"/><stop offset=".054" stop-color="#65c563"/><stop offset=".069" stop-color="#09b5a4"/><stop offset=".077" stop-color="#00a8b7"/><stop offset=".085" stop-color="#009fd9"/><stop offset=".089" stop-color="#0293ed"/><stop offset=".093" stop-color="#087eff"/><stop offset=".1" stop-color="#0d6fff"/><stop offset=".108" stop-color="#086cf8"/><stop offset=".151" stop-color="#05468e"/><stop offset=".162" stop-color="#054080"/><stop offset=".174" stop-color="#053f7c"/><stop offset=".243" stop-color="#054080"/><stop offset=".27" stop-color="#054489"/><stop offset=".309" stop-color="#0650a3"/><stop offset=".328" stop-color="#054d9c"/><stop offset=".34" stop-color="#054183"/><stop offset=".351" stop-color="#054a97"/><stop offset=".367" stop-color="#054c9b"/><stop offset=".378" stop-color="#054994"/><stop offset=".394" stop-color="#053e7d"/><stop offset=".413" stop-color="#05458a"/><stop offset=".486" stop-color="#054891"/><stop offset=".525" stop-color="#054385"/><stop offset=".568" stop-color="#054489"/><stop offset=".622" stop-color="#054181"/><stop offset=".691" stop-color="#05468d"/><stop offset=".757" stop-color="#05407f"/><stop offset=".799" stop-color="#054285"/><stop offset=".83" stop-color="#0554ac"/><stop offset=".846" stop-color="#0458b8"/><stop offset=".869" stop-color="#054fa2"/><stop offset=".915" stop-color="#05458c"/><stop offset=".961" stop-color="#0550a4"/><stop offset="1" stop-color="#053f7d"/></linearGradient><linearGradient id="g105" gradientUnits="userSpaceOnUse" x1="348" x2="3888" y1="0" y2="0"><stop offset="0" stop-color="#0358b8"/><stop offset=".004" stop-color="#0353b3"/><stop offset=".015" stop-color="#0b60e6"/><stop offset=".019" stop-color="#037dd7"/><stop offset=".023" stop-color="#009dbc"/><stop offset=".027" stop-color="#02adac"/><stop offset=".031" stop-color="#1dbe97"/><stop offset=".035" stop-color="#4ec375"/><stop offset=".039" stop-color="#73c557"/><stop offset=".042" stop-color="#89c544"/><stop offset=".046" stop-color="#91c63e"/><stop offset=".054" stop-color="#7cc550"/><stop offset=".058" stop-color="#65c563"/><stop offset=".066" stop-color="#25c091"/><stop offset=".069" stop-color="#0db7a2"/><stop offset=".073" stop-color="#01acac"/><stop offset=".077" stop-color="#00a5b6"/><stop offset=".085" stop-color="#0097db"/><stop offset=".093" stop-color="#0a76fe"/><stop offset=".097" stop-color="#0d6eff"/><stop offset=".108" stop-color="#066af0"/><stop offset=".147" stop-color="#054890"/><stop offset=".158" stop-color="#054181"/><stop offset=".17" stop-color="#053f7c"/><stop offset=".236" stop-color="#053f7d"/><stop offset=".27" stop-color="#054386"/><stop offset=".309" stop-color="#064d9c"/><stop offset=".32" stop-color="#054b97"/><stop offset=".328" stop-color="#054080"/><stop offset=".344" stop-color="#054d9e"/><stop offset=".363" stop-color="#0453ab"/><stop offset=".382" stop-color="#054d9e"/><stop offset=".405" stop-color="#053d7a"/><stop offset=".421" stop-color="#054386"/><stop offset=".486" stop-color="#05478e"/><stop offset=".525" stop-color="#054284"/><stop offset=".568" stop-color="#054487"/><stop offset=".622" stop-color="#054080"/><stop offset=".691" stop-color="#05468b"/><stop offset=".753" stop-color="#05407f"/><stop offset=".803" stop-color="#054386"/><stop offset=".83" stop-color="#0552a9"/><stop offset=".846" stop-color="#0457b4"/><stop offset=".869" stop-color="#054fa1"/><stop offset=".915" stop-color="#05458c"/><stop offset=".961" stop-color="#054fa2"/><stop offset="1" stop-color="#053f7d"/></linearGradient><linearGradient id="g106" gradientUnits="userSpaceOnUse" x1="343" x2="3883" y1="0" y2="0"><stop offset="0" stop-color="#034da1"/><stop offset=".015" stop-color="#0b60e4"/><stop offset=".019" stop-color="#037cd8"/><stop offset=".023" stop-color="#009dbc"/><stop offset=".027" stop-color="#02afaa"/><stop offset=".031" stop-color="#25c091"/><stop offset=".035" stop-color="#5fc468"/><stop offset=".039" stop-color="#89c545"/><stop offset=".042" stop-color="#9ec537"/><stop offset=".046" stop-color="#a5c534"/><stop offset=".054" stop-color="#94c53c"/><stop offset=".058" stop-color="#7bc550"/><stop offset=".069" stop-color="#12ba9f"/><stop offset=".073" stop-color="#02adab"/><stop offset=".077" stop-color="#00a4b5"/><stop offset=".085" stop-color="#0092db"/><stop offset=".089" stop-color="#077af4"/><stop offset=".097" stop-color="#0c6bfd"/><stop offset=".124" stop-color="#035dc6"/><stop offset=".143" stop-color="#054994"/><stop offset=".154" stop-color="#054283"/><stop offset=".166" stop-color="#053f7d"/><stop offset=".239" stop-color="#053f7d"/><stop offset=".309" stop-color="#064a96"/><stop offset=".317" stop-color="#05468d"/><stop offset=".32" stop-color="#053f7f"/><stop offset=".347" stop-color="#0454b0"/><stop offset=".363" stop-color="#0359bb"/><stop offset=".378" stop-color="#0454b0"/><stop offset=".409" stop-color="#053d7b"/><stop offset=".486" stop-color="#05458b"/><stop offset=".622" stop-color="#05407f"/><stop offset=".683" stop-color="#054589"/><stop offset=".749" stop-color="#05407e"/><stop offset=".799" stop-color="#054284"/><stop offset=".83" stop-color="#0551a6"/><stop offset=".846" stop-color="#0555b0"/><stop offset=".919" stop-color="#05458b"/><stop offset=".946" stop-color="#054d9b"/><stop offset=".965" stop-color="#054e9e"/><stop offset=".985" stop-color="#054387"/><stop offset="1" stop-color="#053f7d"/></linearGradient><linearGradient id="g107" gradientUnits="userSpaceOnUse" x1="339" x2="3879" y1="0" y2="0"><stop offset="0" stop-color="#034b9e"/><stop offset=".015" stop-color="#0b60e3"/><stop offset=".019" stop-color="#037bd8"/><stop offset=".023" stop-color="#009ebb"/><stop offset=".027" stop-color="#02b1a9"/><stop offset=".031" stop-color="#33c187"/><stop offset=".035" stop-color="#72c558"/><stop offset=".039" stop-color="#9cc538"/><stop offset=".042" stop-color="#b2c42e"/><stop offset=".046" stop-color="#bac32b"/><stop offset=".05" stop-color="#b5c42d"/><stop offset=".058" stop-color="#93c63c"/><stop offset=".062" stop-color="#6fc55b"/><stop offset=".069" stop-color="#19bc9a"/><stop offset=".073" stop-color="#02afaa"/><stop offset=".081" stop-color="#009bc6"/><stop offset=".089" stop-color="#0874f3"/><stop offset=".093" stop-color="#0c6bfc"/><stop offset=".12" stop-color="#035ec9"/><stop offset=".143" stop-color="#05478f"/><stop offset=".154" stop-color="#054181"/><stop offset=".166" stop-color="#053f7c"/><stop offset=".243" stop-color="#053f7d"/><stop offset=".301" stop-color="#05478d"/><stop offset=".309" stop-color="#054589"/><stop offset=".313" stop-color="#053e7c"/><stop offset=".347" stop-color="#035abe"/><stop offset=".363" stop-color="#035eca"/><stop offset=".378" stop-color="#035abe"/><stop offset=".405" stop-color="#054286"/><stop offset=".413" stop-color="#053e7c"/><stop offset=".483" stop-color="#054488"/><stop offset=".622" stop-color="#05407f"/><stop offset=".683" stop-color="#054487"/><stop offset=".749" stop-color="#05407e"/><stop offset=".799" stop-color="#054283"/><stop offset=".846" stop-color="#0553ab"/><stop offset=".919" stop-color="#05458a"/><stop offset=".95" stop-color="#054c9a"/><stop offset=".965" stop-color="#054c9b"/><stop offset="1" stop-color="#053f7c"/></linearGradient><linearGradient id="g108" gradientUnits="userSpaceOnUse" x1="335" x2="3875" y1="0" y2="0"><stop offset="0" stop-color="#034a9a"/><stop offset=".015" stop-color="#0b60e3"/><stop offset=".019" stop-color="#037bd8"/><stop offset=".023" stop-color="#009fba"/><stop offset=".027" stop-color="#05b3a7"/><stop offset=".031" stop-color="#42c27d"/><stop offset=".035" stop-color="#86c547"/><stop offset=".039" stop-color="#afc430"/><stop offset=".042" stop-color="#c6c228"/><stop offset=".046" stop-color="#cdc127"/><stop offset=".054" stop-color="#bdc329"/><stop offset=".058" stop-color="#a6c434"/><stop offset=".062" stop-color="#85c548"/><stop offset=".069" stop-color="#20bf95"/><stop offset=".073" stop-color="#02b1a9"/><stop offset=".081" stop-color="#0099c6"/><stop offset=".089" stop-color="#0970f2"/><stop offset=".093" stop-color="#0c69f7"/><stop offset=".116" stop-color="#035fcb"/><stop offset=".139" stop-color="#054892"/><stop offset=".151" stop-color="#054282"/><stop offset=".162" stop-color="#053f7d"/><stop offset=".251" stop-color="#053f7d"/><stop offset=".297" stop-color="#054284"/><stop offset=".309" stop-color="#053d7b"/><stop offset=".317" stop-color="#054183"/><stop offset=".347" stop-color="#035dc8"/><stop offset=".363" stop-color="#0462d6"/><stop offset=".382" stop-color="#035cc3"/><stop offset=".413" stop-color="#053f7e"/><stop offset=".494" stop-color="#054385"/><stop offset=".622" stop-color="#05407e"/><stop offset=".687" stop-color="#054386"/><stop offset=".749" stop-color="#053f7e"/><stop offset=".803" stop-color="#054283"/><stop offset=".846" stop-color="#0552a7"/><stop offset=".919" stop-color="#054489"/><stop offset=".965" stop-color="#054b98"/><stop offset="1" stop-color="#053f7c"/></linearGradient><linearGradient id="g109" gradientUnits="userSpaceOnUse" x1="331" x2="3871" y1="0" y2="0"><stop offset="0" stop-color="#034a99"/><stop offset=".015" stop-color="#0b60e3"/><stop offset=".019" stop-color="#037dd7"/><stop offset=".023" stop-color="#00a0b8"/><stop offset=".027" stop-color="#0cb7a3"/><stop offset=".031" stop-color="#53c471"/><stop offset=".035" stop-color="#99c53a"/><stop offset=".039" stop-color="#c2c328"/><stop offset=".042" stop-color="#d8c025"/><stop offset=".046" stop-color="#e1bf24"/><stop offset=".054" stop-color="#d0c126"/><stop offset=".058" stop-color="#bbc32a"/><stop offset=".062" stop-color="#99c53a"/><stop offset=".066" stop-color="#68c561"/><stop offset=".069" stop-color="#2dc08c"/><stop offset=".073" stop-color="#04b3a7"/><stop offset=".077" stop-color="#00a3b3"/><stop offset=".081" stop-color="#0097c6"/><stop offset=".089" stop-color="#0a6cf2"/><stop offset=".093" stop-color="#0a67f2"/><stop offset=".116" stop-color="#035dc5"/><stop offset=".139" stop-color="#05478e"/><stop offset=".158" stop-color="#053f7d"/><stop offset=".297" stop-color="#05407f"/><stop offset=".301" stop-color="#053c78"/><stop offset=".317" stop-color="#054287"/><stop offset=".347" stop-color="#0460d2"/><stop offset=".363" stop-color="#0566e3"/><stop offset=".371" stop-color="#0465df"/><stop offset=".382" stop-color="#035fcc"/><stop offset=".413" stop-color="#054080"/><stop offset=".421" stop-color="#053f7f"/><stop offset=".803" stop-color="#054182"/><stop offset=".846" stop-color="#0550a3"/><stop offset=".919" stop-color="#054488"/><stop offset=".965" stop-color="#054a95"/><stop offset="1" stop-color="#053f7c"/></linearGradient><linearGradient id="g110" gradientUnits="userSpaceOnUse" x1="326" x2="3866" y1="0" y2="0"><stop offset="0" stop-color="#034a9b"/><stop offset=".015" stop-color="#0b60e4"/><stop offset=".019" stop-color="#0182d3"/><stop offset=".023" stop-color="#00a2b5"/><stop offset=".027" stop-color="#15bb9d"/><stop offset=".031" stop-color="#67c561"/><stop offset=".035" stop-color="#abc431"/><stop offset=".039" stop-color="#d4c026"/><stop offset=".042" stop-color="#eabe23"/><stop offset=".046" stop-color="#f1be23"/><stop offset=".054" stop-color="#e4be24"/><stop offset=".058" stop-color="#cdc127"/><stop offset=".062" stop-color="#acc431"/><stop offset=".066" stop-color="#7bc550"/><stop offset=".069" stop-color="#3bc282"/><stop offset=".073" stop-color="#09b5a4"/><stop offset=".077" stop-color="#00a4b2"/><stop offset=".081" stop-color="#0096c6"/><stop offset=".085" stop-color="#057ae2"/><stop offset=".089" stop-color="#0b69f1"/><stop offset=".112" stop-color="#035dc6"/><stop offset=".135" stop-color="#054891"/><stop offset=".147" stop-color="#054182"/><stop offset=".158" stop-color="#053f7d"/><stop offset=".297" stop-color="#054080"/><stop offset=".301" stop-color="#053c79"/><stop offset=".317" stop-color="#04448a"/><stop offset=".347" stop-color="#0464dc"/><stop offset=".363" stop-color="#066af0"/><stop offset=".378" stop-color="#0465de"/><stop offset=".409" stop-color="#054388"/><stop offset=".421" stop-color="#054080"/><stop offset=".622" stop-color="#053f7d"/><stop offset=".687" stop-color="#054282"/><stop offset=".745" stop-color="#053f7d"/><stop offset=".803" stop-color="#054182"/><stop offset=".846" stop-color="#054e9e"/><stop offset=".923" stop-color="#054387"/><stop offset=".965" stop-color="#054891"/><stop offset="1" stop-color="#053f7c"/></linearGradient><linearGradient id="g111" gradientUnits="userSpaceOnUse" x1="322" x2="3862" y1="0" y2="0"><stop offset="0" stop-color="#034b9d"/><stop offset=".015" stop-color="#0b60e6"/><stop offset=".019" stop-color="#0087cf"/><stop offset=".023" stop-color="#00a4b1"/><stop offset=".027" stop-color="#1ebe96"/><stop offset=".031" stop-color="#7bc551"/><stop offset=".035" stop-color="#bec329"/><stop offset=".039" stop-color="#e6be24"/><stop offset=".042" stop-color="#f8be22"/><stop offset=".046" stop-color="#ffbe21"/><stop offset=".054" stop-color="#f3be22"/><stop offset=".058" stop-color="#e0bf24"/><stop offset=".062" stop-color="#bfc329"/><stop offset=".066" stop-color="#90c63f"/><stop offset=".069" stop-color="#4bc377"/><stop offset=".073" stop-color="#0eb8a1"/><stop offset=".077" stop-color="#00a5b1"/><stop offset=".081" stop-color="#0095c6"/><stop offset=".085" stop-color="#0676e4"/><stop offset=".089" stop-color="#0c65f1"/><stop offset=".104" stop-color="#0460cf"/><stop offset=".131" stop-color="#054993"/><stop offset=".143" stop-color="#054283"/><stop offset=".154" stop-color="#053f7d"/><stop offset=".297" stop-color="#054181"/><stop offset=".301" stop-color="#053d7b"/><stop offset=".317" stop-color="#04458e"/><stop offset=".347" stop-color="#0567e7"/><stop offset=".363" stop-color="#096dfb"/><stop offset=".371" stop-color="#086cf7"/><stop offset=".378" stop-color="#0568e9"/><stop offset=".409" stop-color="#04448c"/><stop offset=".425" stop-color="#054080"/><stop offset=".745" stop-color="#053f7d"/><stop offset=".803" stop-color="#054181"/><stop offset=".846" stop-color="#054c99"/><stop offset=".923" stop-color="#054385"/><stop offset=".965" stop-color="#05478e"/><stop offset="1" stop-color="#053f7c"/></linearGradient><linearGradient id="g112" gradientUnits="userSpaceOnUse" x1="318" x2="3858" y1="0" y2="0"><stop offset="0" stop-color="#034c9e"/><stop offset=".015" stop-color="#0b61e6"/><stop offset=".019" stop-color="#008acd"/><stop offset=".023" stop-color="#00a7b0"/><stop offset=".027" stop-color="#2ac08e"/><stop offset=".031" stop-color="#8ec640"/><stop offset=".035" stop-color="#cdc127"/><stop offset=".039" stop-color="#f3be22"/><stop offset=".042" stop-color="#ffc11e"/><stop offset=".054" stop-color="#ffbf20"/><stop offset=".058" stop-color="#efbe23"/><stop offset=".062" stop-color="#cfc127"/><stop offset=".066" stop-color="#a0c536"/><stop offset=".073" stop-color="#14bb9d"/><stop offset=".077" stop-color="#00a6b0"/><stop offset=".081" stop-color="#0094c6"/><stop offset=".085" stop-color="#0772e6"/><stop offset=".089" stop-color="#0b64ee"/><stop offset=".097" stop-color="#0562db"/><stop offset=".12" stop-color="#0550a5"/><stop offset=".139" stop-color="#054385"/><stop offset=".158" stop-color="#053f7c"/><stop offset=".297" stop-color="#054182"/><stop offset=".301" stop-color="#053e7c"/><stop offset=".317" stop-color="#044792"/><stop offset=".351" stop-color="#0a6bf9"/><stop offset=".355" stop-color="#0b6dff"/><stop offset=".371" stop-color="#0b6eff"/><stop offset=".382" stop-color="#0568e8"/><stop offset=".409" stop-color="#04468f"/><stop offset=".429" stop-color="#054080"/><stop offset=".745" stop-color="#053f7d"/><stop offset=".803" stop-color="#054180"/><stop offset=".849" stop-color="#054a95"/><stop offset=".923" stop-color="#054284"/><stop offset=".965" stop-color="#05468c"/><stop offset="1" stop-color="#053f7c"/></linearGradient><linearGradient id="g113" gradientUnits="userSpaceOnUse" x1="313" x2="3853" y1="0" y2="0"><stop offset="0" stop-color="#034c9f"/><stop offset=".015" stop-color="#0b63e5"/><stop offset=".019" stop-color="#008dcb"/><stop offset=".023" stop-color="#01a9ae"/><stop offset=".027" stop-color="#39c183"/><stop offset=".031" stop-color="#9ec538"/><stop offset=".035" stop-color="#ddbf25"/><stop offset=".039" stop-color="#ffbe21"/><stop offset=".046" stop-color="#ffce16"/><stop offset=".058" stop-color="#fdbe21"/><stop offset=".062" stop-color="#e1bf24"/><stop offset=".066" stop-color="#b1c42f"/><stop offset=".069" stop-color="#6cc55e"/><stop offset=".073" stop-color="#1bbd99"/><stop offset=".077" stop-color="#01a7b0"/><stop offset=".081" stop-color="#0093c6"/><stop offset=".085" stop-color="#076fe6"/><stop offset=".089" stop-color="#0b63ea"/><stop offset=".116" stop-color="#0551a7"/><stop offset=".135" stop-color="#054386"/><stop offset=".154" stop-color="#053f7c"/><stop offset=".293" stop-color="#054182"/><stop offset=".297" stop-color="#053d7a"/><stop offset=".317" stop-color="#044895"/><stop offset=".347" stop-color="#0a6af9"/><stop offset=".363" stop-color="#0a79ff"/><stop offset=".375" stop-color="#0c6eff"/><stop offset=".378" stop-color="#0a6cfc"/><stop offset=".386" stop-color="#0566e5"/><stop offset=".402" stop-color="#0354b1"/><stop offset=".405" stop-color="#034b9b"/><stop offset=".417" stop-color="#054286"/><stop offset=".429" stop-color="#054081"/><stop offset=".745" stop-color="#053f7d"/><stop offset=".803" stop-color="#05407f"/><stop offset=".849" stop-color="#054891"/><stop offset=".923" stop-color="#054283"/><stop offset=".965" stop-color="#054589"/><stop offset="1" stop-color="#053f7c"/></linearGradient><linearGradient id="g114" gradientUnits="userSpaceOnUse" x1="309" x2="3849" y1="0" y2="0"><stop offset="0" stop-color="#034c9f"/><stop offset=".015" stop-color="#0b63e5"/><stop offset=".019" stop-color="#008fc9"/><stop offset=".023" stop-color="#01acac"/><stop offset=".027" stop-color="#48c379"/><stop offset=".031" stop-color="#acc431"/><stop offset=".035" stop-color="#ebbe23"/><stop offset=".039" stop-color="#ffc41c"/><stop offset=".046" stop-color="#fedb13"/><stop offset=".05" stop-color="#fed813"/><stop offset=".058" stop-color="#ffc31d"/><stop offset=".062" stop-color="#efbe23"/><stop offset=".066" stop-color="#c2c328"/><stop offset=".069" stop-color="#7dc54f"/><stop offset=".073" stop-color="#22bf94"/><stop offset=".077" stop-color="#01a8af"/><stop offset=".081" stop-color="#0093c6"/><stop offset=".085" stop-color="#086de6"/><stop offset=".089" stop-color="#0a62e7"/><stop offset=".104" stop-color="#035abe"/><stop offset=".12" stop-color="#054b99"/><stop offset=".135" stop-color="#054284"/><stop offset=".147" stop-color="#053f7d"/><stop offset=".293" stop-color="#054183"/><stop offset=".297" stop-color="#053d7c"/><stop offset=".317" stop-color="#034a99"/><stop offset=".347" stop-color="#0c6eff"/><stop offset=".359" stop-color="#058cfb"/><stop offset=".363" stop-color="#048ffa"/><stop offset=".378" stop-color="#0d6eff"/><stop offset=".386" stop-color="#0768ec"/><stop offset=".409" stop-color="#044896"/><stop offset=".417" stop-color="#054388"/><stop offset=".432" stop-color="#054081"/><stop offset=".741" stop-color="#053f7c"/><stop offset=".803" stop-color="#05407f"/><stop offset=".849" stop-color="#05478e"/><stop offset=".927" stop-color="#054182"/><stop offset=".965" stop-color="#054387"/><stop offset="1" stop-color="#053f7c"/></linearGradient><linearGradient id="g115" gradientUnits="userSpaceOnUse" x1="305" x2="3845" y1="0" y2="0"><stop offset="0" stop-color="#034b9d"/><stop offset=".015" stop-color="#0b63e5"/><stop offset=".019" stop-color="#0090c9"/><stop offset=".023" stop-color="#02adab"/><stop offset=".027" stop-color="#54c471"/><stop offset=".031" stop-color="#bac32b"/><stop offset=".035" stop-color="#f6be22"/><stop offset=".039" stop-color="#ffca17"/><stop offset=".042" stop-color="#fddf12"/><stop offset=".046" stop-color="#fce80f"/><stop offset=".05" stop-color="#fde610"/><stop offset=".058" stop-color="#ffc917"/><stop offset=".062" stop-color="#fbbe22"/><stop offset=".066" stop-color="#d1c126"/><stop offset=".069" stop-color="#8fc640"/><stop offset=".073" stop-color="#2ec08b"/><stop offset=".077" stop-color="#01aaae"/><stop offset=".081" stop-color="#0093c6"/><stop offset=".085" stop-color="#086ce5"/><stop offset=".089" stop-color="#0962e3"/><stop offset=".112" stop-color="#054fa2"/><stop offset=".131" stop-color="#054385"/><stop offset=".151" stop-color="#053f7c"/><stop offset=".293" stop-color="#054284"/><stop offset=".297" stop-color="#053e7d"/><stop offset=".317" stop-color="#034b9d"/><stop offset=".344" stop-color="#0c6cfc"/><stop offset=".347" stop-color="#0978fc"/><stop offset=".355" stop-color="#009de9"/><stop offset=".359" stop-color="#00a3e4"/><stop offset=".363" stop-color="#00a5e3"/><stop offset=".371" stop-color="#009def"/><stop offset=".375" stop-color="#058afa"/><stop offset=".382" stop-color="#0d6cff"/><stop offset=".398" stop-color="#035cc8"/><stop offset=".402" stop-color="#0352af"/><stop offset=".409" stop-color="#034a99"/><stop offset=".417" stop-color="#05448a"/><stop offset=".436" stop-color="#054080"/><stop offset=".741" stop-color="#053f7c"/><stop offset=".803" stop-color="#05407e"/><stop offset=".849" stop-color="#05458a"/><stop offset=".927" stop-color="#054181"/><stop offset=".965" stop-color="#054284"/><stop offset="1" stop-color="#053f7c"/></linearGradient><linearGradient id="g116" gradientUnits="userSpaceOnUse" x1="300" x2="3840" y1="0" y2="0"><stop offset="0" stop-color="#034a9b"/><stop offset=".015" stop-color="#0b63e5"/><stop offset=".019" stop-color="#0090c8"/><stop offset=".023" stop-color="#02afaa"/><stop offset=".027" stop-color="#60c468"/><stop offset=".031" stop-color="#c6c228"/><stop offset=".035" stop-color="#ffbf21"/><stop offset=".042" stop-color="#fce90f"/><stop offset=".046" stop-color="#fcea0e"/><stop offset=".054" stop-color="#fce80f"/><stop offset=".062" stop-color="#ffc21e"/><stop offset=".066" stop-color="#e0bf24"/><stop offset=".069" stop-color="#9dc538"/><stop offset=".073" stop-color="#3bc182"/><stop offset=".077" stop-color="#01acad"/><stop offset=".081" stop-color="#0093c6"/><stop offset=".085" stop-color="#096ae5"/><stop offset=".089" stop-color="#0861e0"/><stop offset=".108" stop-color="#0450a4"/><stop offset=".131" stop-color="#054182"/><stop offset=".17" stop-color="#053f7c"/><stop offset=".293" stop-color="#054285"/><stop offset=".297" stop-color="#053e7e"/><stop offset=".309" stop-color="#04458e"/><stop offset=".317" stop-color="#034da1"/><stop offset=".34" stop-color="#0c68f7"/><stop offset=".344" stop-color="#0975f8"/><stop offset=".351" stop-color="#00a0de"/><stop offset=".359" stop-color="#00adce"/><stop offset=".367" stop-color="#00add0"/><stop offset=".371" stop-color="#00aad8"/><stop offset=".375" stop-color="#00a0e5"/><stop offset=".382" stop-color="#0a75ff"/><stop offset=".386" stop-color="#0b6afb"/><stop offset=".398" stop-color="#045dcd"/><stop offset=".402" stop-color="#0353b3"/><stop offset=".413" stop-color="#044793"/><stop offset=".421" stop-color="#054388"/><stop offset=".436" stop-color="#054181"/><stop offset=".741" stop-color="#053f7c"/><stop offset=".876" stop-color="#054488"/><stop offset="1" stop-color="#053f7c"/></linearGradient></defs>
<g transform="scale(.1)" stroke-width="4" stroke-linejoin="round">
<path d="M1776 1109l14-52 13-80 14-105 27-238 14-98 14-65 13-11 14-6 14 13 13 23 123 257 82 167 69 135 68 128 27 46 28 38 13 14 28 15 68 11 82 2 55-10 41-20 27-21 41-46 27-38 69-107 27-37 27-27 14-8 14-5 13 0 14 3 14 8 54 51 41 49 110 142 95 51 123 76 41 18 55 18 137 30 588 74 232 24 14 0 41-12 41-27 68-63 27-1 28 6 41 18 13 3 41-8 41 3 28 8 27 13 82 53 14 4 41-13 41-2 41 11 54 30 82-33 28-6 27 1 82 96 27 25 14 6-30 19-13-7-28-30-82-118-27-1-27 9-28 14-54 34-14-2-27-17-28-12-27-6-27 1-41 10-14 1-96-75-41-21-27-7-27 0-28 6-54 26-28-7-27-3-14 5-54 46-41 28-41 13-28 1-95-7-233-27-355-49-96-16-68-7-191-44-28-10-27-16-109-79-82-47-14-12-82-97-82-91-27-18-14-4-27 5-14 8-28 25-27 35-68 101-28 36-41 42-27 20-41 19-55 9-82-3-68-10-27-14-14-12-27-34-28-41-68-112-68-118-82-147-123-224-14-20-14-11-13 8-14 22-14 62-13 90-28 213-13 91-14 68-14 43z" fill="url(#g0)" stroke="url(#g0)"/>
<path d="M1761 1154l14-48 14-74 13-100 28-228 13-95 14-65 14-22 13-7 14 12 14 22 123 241 82 156 68 127 68 119 28 44 27 36 14 13 27 15 68 10 82 3 55-10 41-19 27-21 41-45 28-38 68-105 27-37 28-26 13-8 28-5 27 11 55 49 41 48 95 124 14 12 41 23 150 96 55 27 191 47 547 72 191 22 96 8 14 0 41-10 13-8 41-30 55-50 14-3 27 2 41 14 55-15 41-2 27 7 41 19 96 69 41-13 41-3 41 12 55 29 82-43 27-7 27 1 82 108 28 28 13 6-29 20-14-8-27-32-82-124-28 0-27 9-27 15-55 37-14 3-41-23-27-9-41-2-41 11-14-5-95-79-41-23-28-7-27 1-27 6-28 13-41 24-13 3-28-3-13 6-55 41-41 24-27 7-41 3-137-12-369-46-164-24-110-20-95-9-151-36-41-13-27-13-123-84-96-55-95-100-28-38-13-16-28-24-27-10-27 4-14 7-27 23-28 33-68 93-27 34-41 39-28 18-41 17-54 9-82-4-69-10-27-13-14-12-27-32-27-38-69-104-68-110-205-344-14-18-13-10-28 17-13 55-14 80-27 189-14 81-14 60-13 38z" fill="url(#g1)" stroke="url(#g1)"/>
<path d="M1746 1174l14-43 14-68 13-91 28-213 13-90 14-62 14-22 13-8 14 11 14 20 123 224 82 147 68 118 68 112 28 41 27 34 14 12 27 14 68 10 82 3 55-9 41-19 27-20 41-42 28-36 68-101 27-35 28-25 14-8 27-5 14 4 27 18 82 91 82 97 14 12 82 47 109 79 27 16 28 10 191 44 68 7 96 16 355 49 233 27 95 7 28-1 41-13 41-28 54-46 14-5 27 3 28 7 54-26 28-6 27 0 27 7 41 21 96 75 14-1 41-10 27-1 27 6 28 12 27 17 14 2 54-34 28-14 27-9 27 1 82 118 28 30 13 7-29 19-14-7-27-32-82-127-28 0-27 9-27 16-69 45-41-21-41-11-27 0-41 10-109-91-41-23-28-7-27 0-41 13-82 49-14 0-13 6-82 48-28 7-41 4-95-5-233-27-341-47-123-23-96-10-164-42-109-47-96-60-82-45-68-62-28-38-27-32-27-22-28-9-27 3-14 7-27 21-27 28-69 85-27 30-41 35-27 16-41 15-55 7-82-4-68-10-28-13-13-12-28-30-27-37-68-99-69-104-205-328-14-17-13-9-14 8-14 16-13 55-14 79-27 182-14 78-14 56-13 35z" fill="url(#g2)" stroke="url(#g2)"/>
<path d="M1732 1159l13-38 14-60 14-81 27-189 14-80 13-55 28-17 13 10 14 18 205 344 68 110 69 104 27 38 27 32 14 12 27 13 69 10 82 4 54-9 41-17 28-18 41-39 27-34 68-93 28-33 27-23 14-7 27-4 27 10 28 24 13 16 28 38 95 100 96 55 123 84 27 13 41 13 151 36 95 9 110 20 164 24 369 46 137 12 41-3 27-7 41-24 55-41 13-6 28 3 13-3 41-24 28-13 27-6 27-1 28 7 41 23 95 79 14 5 41-11 41 2 27 9 41 23 14-3 55-37 27-15 27-9 28 0 82 124 27 32 14 8-30 19-14-7-27-32-82-124-27 0-28 9-27 15-68 45-55-21-27-5-69 3-109-90-41-22-27-7-28 0-41 13-27 14-96 58-41 20-41 12-54 8-96-6-205-24-301-41-205-34-96-12-123-31-54-19-178-80-96-54-41-31-13-13-41-49-55-72-14-11-13-3-14 12-41 59-27 25-69 73-41 38-41 27-41 15-54 8-82-2-82-12-28-14-13-11-28-30-27-36-68-98-69-103-205-323-13-17-14-8-14 8-13 24-14 57-14 81-27 184-14 76-13 56-14 33z" fill="url(#g3)" stroke="url(#g3)"/>
<path d="M1717 1190l13-35 14-56 14-78 27-182 14-79 13-55 14-16 14-8 13 9 14 17 205 328 69 104 68 99 27 37 28 30 13 12 28 13 68 10 82 4 55-7 41-15 27-16 41-35 27-30 69-85 27-28 27-21 14-7 27-3 28 9 27 22 27 32 28 38 68 62 82 45 96 60 109 47 164 42 96 10 123 23 341 47 233 27 95 5 41-4 28-7 82-48 13-6 14 0 82-49 41-13 27 0 28 7 41 23 109 91 41-10 27 0 41 11 41 21 69-45 27-16 27-9 28 0 82 127 27 32 14 7-30 20-13-6-28-31-82-118-27 0-27 8-28 14-68 42-14 1-41-15-27-6-28 0-27 3-14-5-109-86-41-21-27-6-28 0-41 11-123 67-41 19-54 14-55 4-178-17-410-54-218-37-96-10-109-26-41-13-41-17-151-68-82-40-27-24-41-47-41-60-55-93-13-17-14-6-14 14-27 49-55 122-68 61-41 29-27 14-28 9-54 9-82-2-69-7-27-6-27-14-14-11-27-30-28-36-68-97-68-101-205-319-14-16-14-8-27 22-14 54-13 77-28 175-13 72-14 52-14 31z" fill="url(#g4)" stroke="url(#g4)"/>
<path d="M1702 1219l14-33 13-56 14-76 27-184 14-81 14-57 13-24 14-8 14 8 13 17 205 323 69 103 68 98 27 36 28 30 13 11 28 14 82 12 82 2 54-8 41-15 41-27 41-38 69-73 27-25 41-59 14-12 13 3 14 11 55 72 41 49 13 13 41 31 96 54 178 80 54 19 123 31 96 12 205 34 301 41 205 24 96 6 54-8 41-12 41-20 96-58 27-14 41-13 28 0 27 7 41 22 109 90 69-3 27 5 55 21 68-45 27-15 28-9 27 0 82 124 27 32 14 7-30 20-13-6-28-28-82-108-27-1-27 8-82 41-55 0-55-7-41 2-123-87-41-20-27-6-27 0-41 9-123 60-41 17-41 10-55 5-96-6-218-26-246-33-260-42-109-10-28-6-82-23-41-15-177-78-55-30-41-48-27-28-28-21-13-7-28-44-54-102-14-19-14-9-13 15-14 24-14 29-68 166-14 15-41 30-55 29-27 9-41 8-41 2-55-3-82-8-27-6-27-15-14-11-41-49-55-77-82-123-218-346-14-17-27-11-14 31-14 58-13 80-28 181-13 73-14 52-14 32z" fill="url(#g5)" stroke="url(#g5)"/>
<path d="M1687 1201l14-31 14-52 13-72 28-175 13-77 14-54 27-22 14 8 14 16 205 319 68 101 68 97 28 36 27 30 14 11 27 14 27 6 69 7 82 2 54-9 28-9 27-14 41-29 68-61 55-122 27-49 14-14 14 6 13 17 55 93 41 60 41 47 27 24 82 40 151 68 41 17 41 13 109 26 96 10 218 37 410 54 178 17 55-4 54-14 41-19 123-67 41-11 28 0 27 6 41 21 109 86 14 5 27-3 28 0 27 6 41 15 14-1 68-42 28-14 27-8 27 0 82 118 28 31 13 6-29 19-14-7-55-52-54-66-14-2-27 3-55 18-41-7-41 1-109 20-123-78-41-17-28-6-27-1-41 8-123 51-41 13-41 9-55 4-123-10-328-40-437-66-69-7-109-28-55-20-136-70-28-17-13-13-69-91-27-29-27-19-41-13-41-70-14-17-14-7-13 13-28 48-68 148-14 27-27 16-41 22-27 10-69 12-95-3-82-8-28-7-27-15-14-12-27-32-27-38-69-102-68-107-205-336-14-17-13-7-14 7-14 36-13 65-14 88-14 99-13 95-14 78-14 55-13 32z" fill="url(#g6)" stroke="url(#g6)"/>
<path d="M1672 1218l14-32 14-52 13-73 28-181 13-80 14-58 14-31 27 11 14 17 218 346 82 123 55 77 41 49 14 11 27 15 27 6 82 8 55 3 41-2 41-8 27-9 55-29 41-30 14-15 68-166 14-29 14-24 13-15 14 9 14 19 54 102 28 44 13 7 28 21 27 28 41 48 55 30 177 78 41 15 82 23 28 6 109 10 260 42 246 33 218 26 96 6 55-5 41-10 41-17 123-60 41-9 27 0 27 6 41 20 123 87 41-2 55 7 55 0 82-41 27-8 27 1 82 108 28 28 13 6-29 18-14-8-109-114-14 1-41 13-55-19-27-4-27 1-41 7-96 30-123-65-41-13-41-3-55 9-109 37-41 11-68 9-55-1-437-51-301-41-123-23-96-9-41-9-54-19-41-18-123-66-41-29-14-17-68-100-28-31-13-12-28-14-13-2-14 2-27 14-28-27-13-3-14 10-27 37-82 131-82 42-28 11-13 3-69 3-123-10-54-10-28-16-13-12-28-34-27-39-68-105-69-111-205-347-14-17-13-6-14-2-14 36-13 66-14 88-14 100-13 95-14 78-14 54-13 32z" fill="url(#g7)" stroke="url(#g7)"/>
<path d="M1658 1258l13-32 14-55 14-78 13-95 14-99 14-88 13-65 14-36 14-7 13 7 14 17 205 336 68 107 69 102 27 38 27 32 14 12 27 15 28 7 82 8 95 3 69-12 27-10 41-22 27-16 14-27 68-148 28-48 13-13 14 7 14 17 41 70 41 13 27 19 27 29 69 91 13 13 28 17 136 70 55 20 109 28 69 7 437 66 328 40 123 10 55-4 41-9 41-13 123-51 41-8 27 1 28 6 41 17 123 78 109-20 41-1 41 7 55-18 27-3 14 2 54 66 55 52 14 7-30 18-14-8-27-32-55-76-27-32-27 7-28 14-13 1-28-10-27-6-27-1-28 3-41 11-68 26-14 3-54-9-55-25-41-13-27-5-41-1-55 8-123 31-41 6-55 3-123-11-328-39-287-38-164-29-68-6-82-20-28-9-41-20-109-61-82-60-14-17-54-82-28-32-13-12-28-15-13-1-28 7-13-6-14-14-14-7-13 1-14 16-68 114-41 62-69 36-54 21-28 3-123-8-68-8-27-7-28-16-13-13-28-34-27-40-68-108-69-114-82-141-109-193-14-22-13-17-14-6-14-1-13 38-14 68-14 92-13 102-14 96-14 79-13 54-14 31z" fill="url(#g8)" stroke="url(#g8)"/>
<path d="M1643 1239l13-32 14-54 14-78 13-95 14-100 14-88 13-66 14-36 14 2 13 6 14 17 205 347 69 111 68 105 27 39 28 34 13 12 28 16 54 10 123 10 69-3 13-3 28-11 82-42 82-131 27-37 14-10 13 3 28 27 27-14 14-2 13 2 28 14 13 12 28 31 68 100 14 17 41 29 123 66 41 18 54 19 41 9 96 9 123 23 301 41 437 51 55 1 68-9 41-11 109-37 55-9 41 3 41 13 123 65 96-30 41-7 27-1 27 4 55 19 41-13 14-1 109 114 14 8-30 19-13-9-28-34-54-83-28-35-27 8-41 22-41-14-41-4-41 7-69 25-13 2-28-8-27-4-27 1-55 8-55-14-54-4-55 5-137 23-82 4-177-18-533-65-246-42-151-45-95-56-69-54-68-49-55-74-27-26-27-14-28 0-13-12-28-32-13-9-14 1-14 19-68 128-41 69-27 15-69 32-27 9-27 5-96-7-109-14-28-11-13-10-28-30-27-39-55-87-82-138-95-168-110-196-13-23-14-17-14-5-13 10-14 43-14 74-13 98-14 108-14 102-13 81-14 56-14 32z" fill="url(#g9)" stroke="url(#g9)"/>
<path d="M1628 1243l14-31 13-54 14-79 14-96 13-102 14-92 14-68 13-38 14 1 14 6 13 17 14 22 109 193 82 141 69 114 68 108 27 40 28 34 13 13 28 16 27 7 68 8 123 8 28-3 54-21 69-36 41-62 68-114 14-16 13-1 14 7 14 14 13 6 28-7 13 1 28 15 13 12 28 32 54 82 14 17 82 60 109 61 41 20 28 9 82 20 68 6 164 29 287 38 328 39 123 11 55-3 41-6 123-31 55-8 41 1 27 5 41 13 55 25 54 9 14-3 68-26 41-11 28-3 27 1 27 6 28 10 13-1 28-14 27-7 27 32 55 76 27 32 14 8-30 20-13-8-28-33-54-80-28-34-27 8-41 19-41-14-27-3-28 1-95 15-55-14-27-2-41 8-69 23-41-6-54 0-164 15-82 2-246-27-438-55-123-17-164-33-191-68-14-8-82-66-54-52-41-35-82-54-28-6-41-53-13-15-14-9-14 1-13 19-69 129-41 69-27 15-69 32-54 15-110-9-95-13-28-12-13-11-28-31-27-40-55-89-82-142-95-171-110-200-13-23-14-17-14-4-13 6-14 44-14 74-13 98-14 108-14 100-13 81-14 55-14 31z" fill="url(#g10)" stroke="url(#g10)"/>
<path d="M1613 1282l14-32 14-56 13-81 14-102 14-108 13-98 14-74 14-43 13-10 14 5 14 17 13 23 110 196 95 168 82 138 55 87 27 39 28 30 13 10 28 11 109 14 96 7 27-5 27-9 69-32 27-15 41-69 68-128 14-19 14-1 13 9 28 32 13 12 28 0 27 14 27 26 55 74 68 49 69 54 95 56 151 45 246 42 533 65 177 18 82-4 137-23 55-5 54 4 55 14 55-8 27-1 27 4 28 8 13-2 69-25 41-7 41 4 41 14 41-22 27-8 28 35 54 83 28 34 13 9-29 21-14-8-27-28-55-68-27-29-28 6-27 12-55-16-68-14-41 0-41 8-14 0-41-13-27-1-41 8-96 37-82-4-150 7-68 0-288-31-410-53-136-20-110-25-54-9-123-42-69-21-41-35-95-94-41-36-55-36-27-12-41-12-41-43-14-8-14 1-13 17-69 116-41 63-54 28-69 27-41 6-136-14-55-9-27-13-14-11-27-33-28-41-54-90-82-143-205-373-14-22-14-17-13-3-14 2-14 43-13 73-14 96-14 105-13 97-14 78-14 54-13 31z" fill="url(#g11)" stroke="url(#g11)"/>
<path d="M1598 1269l14-31 14-55 13-81 14-100 14-108 13-98 14-74 14-44 13-6 14 4 14 17 13 23 110 200 95 171 82 142 55 89 27 40 28 31 13 11 28 12 95 13 110 9 54-15 69-32 27-15 41-69 69-129 13-19 14-1 14 9 13 15 41 53 28 6 82 54 41 35 54 52 82 66 14 8 191 68 164 33 123 17 438 55 246 27 82-2 164-15 54 0 41 6 69-23 41-8 27 2 55 14 95-15 28-1 27 3 41 14 41-19 27-8 28 34 54 80 28 33 13 8-29 22-14-7-109-95-41 7-14-3-68-31-55-15-41 0-55 12-41-10-41 0-27 6-109 36-123-4-164 1-328-38-260-36-109-12-151-23-95-22-69-10-164-43-13-7-41-37-96-96-41-38-55-38-54-24-28-25-27-17-14-1-13 8-82 121-41 54-82 42-41 16-41 6-123-12-69-13-27-14-14-12-13-15-28-37-54-87-69-116-232-409-14-21-14-16-13-2-14 10-14 45-13 74-14 96-14 104-13 96-14 77-14 52-13 31z" fill="url(#g12)" stroke="url(#g12)"/>
<path d="M1584 1254l13-31 14-54 14-78 13-97 14-105 14-96 13-73 14-43 14-2 13 3 14 17 14 22 205 373 82 143 54 90 28 41 27 33 14 11 27 13 55 9 136 14 41-6 69-27 54-28 41-63 69-116 13-17 14-1 14 8 41 43 41 12 27 12 55 36 41 36 95 94 41 35 69 21 123 42 54 9 110 25 136 20 410 53 288 31 68 0 150-7 82 4 96-37 41-8 27 1 41 13 14 0 41-8 41 0 68 14 55 16 27-12 28-6 27 29 55 68 27 28 14 8-30 22-14-6-54-37-28-14-68-44-27-13-28-9-41-3-41-8-54 1-55 12-55-4-27 2-137 29-109-6-164-4-328-38-260-36-95-11-192-29-82-18-82-11-109-22-28-8-27-21-41-36-109-105-55-43-41-24-55-58-27-18-14-1-13 8-69 116-27 38-27 30-69 38-54 22-41 7-110-11-68-14-27-11-28-20-13-16-28-37-41-63-68-113-246-418-14-20-13-14-14-2-14 9-13 43-14 70-14 91-13 97-14 91-14 73-13 49-14 30z" fill="url(#g13)" stroke="url(#g13)"/>
<path d="M1569 1285l13-31 14-52 14-77 13-96 14-104 14-96 13-74 14-45 14-10 13 2 14 16 14 21 232 409 69 116 54 87 28 37 13 15 14 12 27 14 69 13 123 12 41-6 41-16 82-42 41-54 82-121 13-8 14 1 27 17 28 25 54 24 55 38 41 38 96 96 41 37 13 7 164 43 69 10 95 22 151 23 109 12 260 36 328 38 164-1 123 4 109-36 27-6 41 0 41 10 55-12 41 0 55 15 68 31 14 3 41-7 109 95 14 7-30 22-13-5-82-43-28-30-54-36-28-12-27-6-27 2-41 11-28-1-41 2-68 14-69 1-123 13-109-8-164-6-342-40-232-33-109-13-287-45-82-8-28-6-68-22-68-35-137-119-68-52-82-107-28-28-13-5-14 4-14 22-54 108-41 70-14 19-27 17-69 34-27 11-27 6-28 0-68-7-82-15-27-10-28-17-27-27-27-37-96-151-246-404-27-41-14-13-27-1-14 39-14 64-13 82-14 88-14 83-13 66-14 46-14 28z" fill="url(#g14)" stroke="url(#g14)"/>
<path d="M1554 1278l14-30 13-49 14-73 14-91 13-97 14-91 14-70 13-43 14-9 14 2 13 14 14 20 246 418 68 113 41 63 28 37 13 16 28 20 27 11 68 14 110 11 41-7 54-22 69-38 27-30 27-38 69-116 13-8 14 1 27 18 55 58 41 24 55 43 109 105 41 36 27 21 28 8 109 22 82 11 82 18 192 29 95 11 260 36 328 38 164 4 109 6 137-29 27-2 55 4 55-12 54-1 41 8 41 3 28 9 27 13 68 44 28 14 54 37 14 6-30 22-68-28-27-21-28-31-54-36-28-12-27-5-41 4-68 26-151 16-136 0-110-10-164-8-177-21-246-30-424-59-96-17-68-7-68-22-41-17-96-49-68-30-41-33-28-28-41-52-41-59-54-84-28-38-13-15-14-7-14 6-13 27-55 134-14 28-41 68-14 18-13 12-69 36-27 10-27 7-28 0-54-5-82-17-28-10-27-14-27-23-28-33-82-122-273-433-27-38-14-12-14 0-13 8-14 40-14 63-13 81-14 86-14 81-13 65-14 45-14 29z" fill="url(#g15)" stroke="url(#g15)"/>
<path d="M1539 1246l14-28 14-46 13-66 14-83 14-88 13-82 14-64 14-39 27 1 14 13 27 41 246 404 96 151 27 37 27 27 28 17 27 10 82 15 68 7 28 0 27-6 27-11 69-34 27-17 14-19 41-70 54-108 14-22 14-4 13 5 28 28 82 107 68 52 137 119 68 35 68 22 28 6 82 8 287 45 109 13 232 33 342 40 164 6 109 8 123-13 69-1 68-14 41-2 28 1 41-11 27-2 27 6 28 12 54 36 28 30 82 43 13 5-29 21-41-12-28-14-27-22-27-29-55-35-27-11-28-6-27 1-27 7-82 34-123 7-28 0-218-16-151-8-355-42-369-53-96-9-123-26-82-10-82-32-109-60-110-44-13-11-28-31-41-51-41-59-54-82-28-37-13-15-14-6-14 5-13 27-28 66-54 105-28 48-27 38-68 38-28 11-27 6-55-1-68-13-41-14-41-20-27-19-28-29-27-36-55-79-287-433-27-36-14-11-13 1-14 9-14 38-13 60-41 234-14 61-14 45-13 28z" fill="url(#g16)" stroke="url(#g16)"/>
<path d="M1524 1274l14-29 14-45 13-65 14-81 14-86 13-81 14-63 14-40 13-8 14 0 14 12 27 38 273 433 82 122 28 33 27 23 27 14 28 10 82 17 54 5 28 0 27-7 27-10 69-36 13-12 14-18 41-68 14-28 55-134 13-27 14-6 14 7 13 15 28 38 54 84 41 59 41 52 28 28 41 33 68 30 96 49 41 17 68 22 68 7 96 17 424 59 246 30 177 21 164 8 110 10 136 0 151-16 68-26 41-4 27 5 28 12 54 36 28 31 27 21 68 28-29 21-28-7-41-19-27-20-27-27-41-25-41-18-28-5-27 1-27 6-82 29-41 10-123-14-137-4-68-7-151-5-410-49-369-54-82-8-82-16-68-9-82-31-123-69-96-41-95-95-69-107-27-39-27-30-14-8-14 1-13 13-28 40-27 48-55 109-27 46-14 18-54 32-55 22-41 4-68-12-55-21-55-30-27-20-27-29-82-111-288-409-27-34-14-10-27 0-14 33-13 52-41 208-14 56-14 41-13 27z" fill="url(#g17)" stroke="url(#g17)"/>
<path d="M1510 1277l13-28 14-45 14-61 41-234 13-60 14-38 14-9 13-1 14 11 27 36 287 433 55 79 27 36 28 29 27 19 41 20 41 14 68 13 55 1 27-6 28-11 68-38 27-38 28-48 54-105 28-66 13-27 14-5 14 6 13 15 28 37 54 82 41 59 41 51 28 31 13 11 110 44 109 60 82 32 82 10 123 26 96 9 369 53 355 42 151 8 218 16 28 0 123-7 82-34 27-7 27-1 28 6 27 11 55 35 27 29 27 22 28 14 41 12-30 21-68-25-28-17-27-24-41-22-41-16-27-5-28 0-27 5-96 27-82-16-54-6-137 2-68-8-164 1-410-50-246-35-123-21-69-6-82-14-82-7-68-23-123-67-82-38-137-133-55-84-27-38-27-29-14-7-14 1-13 13-14 27-14 18-13 21-69 131-27 43-14 18-54 31-55 21-41 3-55-9-41-16-54-30-41-28-28-25-27-32-41-54-301-408-27-34-14-15-13-9-28 5-13 32-14 50-14 64-13 69-14 65-14 55-13 40-14 28z" fill="url(#g18)" stroke="url(#g18)"/>
<path d="M1495 1244l13-27 14-41 14-56 41-208 13-52 14-33 27 0 14 10 27 34 288 409 82 111 27 29 27 20 55 30 55 21 68 12 41-4 55-22 54-32 14-18 27-46 55-109 27-48 28-40 13-13 14-1 14 8 27 30 27 39 69 107 95 95 96 41 123 69 82 31 68 9 82 16 82 8 369 54 410 49 151 5 68 7 137 4 123 14 41-10 82-29 27-6 27-1 28 5 41 18 41 25 27 27 27 20 41 19 28 7-30 19-41-16-82-45-13-2-55-23-41-8-55 2-68 15-82-24-69-10-54 1-82 8-82-12-96 10-68 0-520-63-300-44-96-17-123-9-27-9-41-18-151-77-54-47-110-104-41-42-27-36-27-30-41-32-14 2-14 20-41 82-41 74-27 43-14 19-13 11-69 36-41 15-41 2-54-9-41-16-41-24-55-40-27-27-41-50-315-420-41-50-13-14-14-9-14 1-13 9-14 32-14 50-13 62-28 132-13 54-14 41-14 28z" fill="url(#g19)" stroke="url(#g19)"/>
<path d="M1480 1260l14-28 13-40 14-55 14-65 13-69 14-64 14-50 13-32 28-5 13 9 14 15 27 34 301 408 41 54 27 32 28 25 41 28 54 30 41 16 55 9 41-3 55-21 54-31 14-18 27-43 69-131 13-21 14-18 14-27 13-13 14-1 14 7 27 29 27 38 55 84 137 133 82 38 123 67 68 23 82 7 82 14 69 6 123 21 246 35 410 50 164-1 68 8 137-2 54 6 82 16 96-27 27-5 28 0 27 5 41 16 41 22 27 24 28 17 68 25-30 18-13-3-28-15-82-56-68-7-82 1-55 6-95-38-55-13-55-1-95 16-96-17-96 21-68 3-451-54-465-69-150-14-41-8-41-22-55-37-164-134-41-41-41-34-41-50-41-64-13-18-14-11-14 1-13 22-83 187-27 54-82 45-55 21-41 3-68-11-27-11-41-24-41-32-41-41-41-54-164-230-110-148-82-102-13-13-14-9-27 1-14 28-14 45-13 57-28 122-13 52-14 40-14 30z" fill="url(#g20)" stroke="url(#g20)"/>
<path d="M1465 1272l14-28 14-41 13-54 28-132 13-62 14-50 14-32 13-9 14-1 14 9 13 14 41 50 315 420 41 50 27 27 55 40 41 24 41 16 54 9 41-2 41-15 69-36 13-11 14-19 27-43 41-74 41-82 14-20 14-2 41 32 27 30 27 36 41 42 110 104 54 47 151 77 41 18 27 9 123 9 96 17 300 44 520 63 68 0 96-10 82 12 82-8 54-1 69 10 82 24 68-15 55-2 41 8 55 23 13 2 82 45 41 16-29 19-14-5-27-17-82-66-41-6-41 0-110 17-13-4-96-47-55-15-54 1-96 22-55-18-41-5-95 34-41 6-28 0-465-56-464-72-164-13-41-14-41-20-41-30-41-35-82-73-55-67-27-27-55-37-27-34-28-44-13-18-14-11-14 0-13 22-82 185-28 53-82 45-54 20-41 3-82-13-28-11-27-16-41-34-27-29-41-54-151-223-95-134-55-72-55-68-27-28-14-8-27 3-14 27-13 44-14 55-27 121-14 53-14 42-13 32z" fill="url(#g21)" stroke="url(#g21)"/>
<path d="M1450 1233l14-30 14-40 13-52 28-122 13-57 14-45 14-28 27-1 14 9 13 13 82 102 110 148 164 230 41 54 41 41 41 32 41 24 27 11 68 11 41-3 55-21 82-45 27-54 83-187 13-22 14-1 14 11 13 18 41 64 41 50 41 34 41 41 164 134 55 37 41 22 41 8 150 14 465 69 451 54 68-3 96-21 96 17 95-16 55 1 55 13 95 38 55-6 82-1 68 7 82 56 28 15 13 3-29 19-14-4-27-19-82-74-41-7-41 1-110 22-109-61-27-11-28-6-27-1-27 3-82 26-14-2-55-23-27-5-14 1-82 43-27 10-41 6-492-60-314-47-123-22-164-17-69-28-95-57-55-29-14-14-68-89-27-31-41-34-41-17-55-60-14-9-13 0-14 19-82 158-27 47-82 43-55 20-41 3-82-12-27-11-28-16-41-36-27-31-41-56-150-230-83-116-54-71-55-67-27-31-14-12-14-7-13 1-14 9-14 29-13 44-14 56-27 123-14 54-14 45-13 34z" fill="url(#g22)" stroke="url(#g22)"/>
<path d="M1436 1230l13-32 14-42 14-53 27-121 14-55 13-44 14-27 27-3 14 8 27 28 55 68 55 72 95 134 151 223 41 54 27 29 41 34 27 16 28 11 82 13 41-3 54-20 82-45 28-53 82-185 13-22 14 0 14 11 13 18 28 44 27 34 55 37 27 27 55 67 82 73 41 35 41 30 41 20 41 14 164 13 464 72 465 56 28 0 41-6 95-34 41 5 55 18 96-22 54-1 55 15 96 47 13 4 110-17 41 0 41 6 82 66 27 17 14 5-30 19-14-5-27-20-82-77-27-6-41-1-69 11-68 4-96-61-27-11-27-7-28-1-27 4-27 8-55 23-55-28-41-11-13 4-82 53-28 12-41 8-451-55-328-46-191-33-55-13-68-6-28-11-41-21-109-71-68-28-69-77-41-37-27-17-41-16-14-13-27-17-14-12-13-3-14 12-14 19-68 116-27 40-69 37-54 21-41 7-55-8-41-19-27-21-41-40-41-45-41-52-151-207-123-160-54-67-41-46-28-26-13-7-28 1-13 23-14 38-14 49-27 111-14 52-13 43-14 35z" fill="url(#g23)" stroke="url(#g23)"/>
<path d="M1421 1252l13-34 14-45 14-54 27-123 14-56 13-44 14-29 14-9 13-1 14 7 14 12 27 31 55 67 54 71 83 116 150 230 41 56 27 31 41 36 28 16 27 11 82 12 41-3 55-20 82-43 27-47 82-158 14-19 13 0 14 9 55 60 41 17 41 34 27 31 68 89 14 14 55 29 95 57 69 28 164 17 123 22 314 47 492 60 41-6 27-10 82-43 14-1 27 5 55 23 14 2 82-26 27-3 27 1 28 6 27 11 109 61 110-22 41-1 41 7 82 74 27 19 14 4-30 20-13-5-28-19-82-77-27-5-55-3-27-9-27-5-28 2-54 14-83-55-27-12-27-7-28-1-27 5-27 9-55 24-55-33-41-11-13 6-82 60-28 13-41 9-341-42-274-39-150-18-178-32-82-21-82-7-54-28-110-72-95-41-41-41-41-35-28-18-41-18-41-56-13-12-14-3-14 12-13 20-69 117-27 41-55 31-41 19-27 7-27-3-28-15-27-24-246-273-164-159-164-184-27-24-14-7-14 1-13-3-14 21-14 34-13 45-41 155-14 45-14 36z" fill="url(#g24)" stroke="url(#g24)"/>
<path d="M1406 1217l14-35 13-43 14-52 27-111 14-49 14-38 13-23 28-1 13 7 28 26 41 46 54 67 123 160 151 207 41 52 41 45 41 40 27 21 41 19 55 8 41-7 54-21 69-37 27-40 68-116 14-19 14-12 13 3 14 12 27 17 14 13 41 16 27 17 41 37 69 77 68 28 109 71 41 21 28 11 68 6 55 13 191 33 328 46 451 55 41-8 28-12 82-53 13-4 41 11 55 28 55-23 27-8 27-4 28 1 27 7 27 11 96 61 68-4 69-11 41 1 27 6 82 77 27 20 14 5-30 20-13-4-28-19-82-70-27-5-14-6-27-19-27-14-28-8-27-1-27 6-55 22-68-45-28-12-27-7-27-1-28 5-27 9-55 25-54-34-41-11-96 67-41 18-27 4-328-40-287-41-123-14-110-20-95-12-69-17-54-8-110-39-54-27-69-38-82-38-95-79-69-95-13-16-14-11-14-2-13 14-14 21-41 72-28 43-27 39-14 16-13 9-14 4-27 2-14-2-27-13-41-32-164-186-55-56-41-38-55-40-109-57-41-28-55-50-109-117-27-23-14-6-27 5-14 21-14 35-13 45-41 160-14 47-14 38z" fill="url(#g25)" stroke="url(#g25)"/>
<path d="M1391 1207l14-36 14-45 41-155 13-45 14-34 14-21 13 3 14-1 14 7 27 24 164 184 164 159 246 273 27 24 28 15 27 3 27-7 41-19 55-31 27-41 69-117 13-20 14-12 14 3 13 12 41 56 41 18 28 18 41 35 41 41 95 41 110 72 54 28 82 7 82 21 178 32 150 18 274 39 341 42 41-9 28-13 82-60 13-6 41 11 55 33 55-24 27-9 27-5 28 1 27 7 27 12 83 55 54-14 28-2 27 5 27 9 55 3 27 5 82 77 28 19 13 5-29 21-28-12-41-28-41-31-82-70-27-16-27-9-14-1-27 3-28 11-41 24-13 4-55-34-27-11-28-7-27-1-27 4-28 9-54 23-55-29-27-8-14-2-96 62-41 15-27 2-356-42-259-36-137-21-109-21-110-11-68-16-109-43-96-46-82-31-68-57-55-40-14-18-27-44-68-123-14-16-14-5-13 19-28 58-27 66-14 30-27 46-14 19-13 15-14 11-14 3-13-4-41-23-28-21-27-25-150-176-55-56-41-37-27-20-41-22-110-34-41-20-27-20-27-24-82-85-41-40-28-17-27-2-14 19-13 30-14 41-14 48-27 103-14 46-13 40z" fill="url(#g26)" stroke="url(#g26)"/>
<path d="M1376 1234l14-38 14-47 41-160 13-45 14-35 14-21 27-5 14 6 27 23 109 117 55 50 41 28 109 57 55 40 41 38 55 56 164 186 41 32 27 13 14 2 27-2 14-4 13-9 14-16 27-39 28-43 41-72 14-21 13-14 14 2 14 11 13 16 69 95 95 79 82 38 69 38 54 27 110 39 54 8 69 17 95 12 110 20 123 14 287 41 328 40 27-4 41-18 96-67 41 11 54 34 55-25 27-9 28-5 27 1 27 7 28 12 68 45 55-22 27-6 27 1 28 8 27 14 27 19 14 6 27 5 82 70 28 19 13 4-29 21-28-10-54-32-14-12-27-36-55-50-41-28-27-9-28-1-27 9-27 15-41 28-14 1-55-28-41-12-27-1-27 4-82 27-14-2-55-23-27-4-96 49-41 12-27 1-519-64-246-39-96-20-109-12-110-25-54-22-96-47-68-28-96-87-68-50-28-48-68-132-14-17-13-6-14 20-14 30-41 103-41 82-27 46-14 17-13 13-14 4-27-5-28-14-41-37-164-208-41-46-41-41-27-22-27-18-41-18-82-31-28-14-27-19-55-49-68-70-55-62-27-25-14 6-14 19-13 31-14 41-14 47-27 100-14 47-13 40z" fill="url(#g27)" stroke="url(#g27)"/>
<path d="M1362 1215l13-40 14-46 27-103 14-48 14-41 13-30 14-19 27 2 28 17 41 40 82 85 27 24 27 20 41 20 110 34 41 22 27 20 41 37 55 56 150 176 27 25 28 21 41 23 13 4 14-3 14-11 13-15 14-19 27-46 14-30 27-66 28-58 13-19 14 5 14 16 68 123 27 44 14 18 55 40 68 57 82 31 96 46 109 43 68 16 110 11 109 21 137 21 259 36 356 42 27-2 41-15 96-62 14 2 27 8 55 29 54-23 28-9 27-4 27 1 28 7 27 11 55 34 13-4 41-24 28-11 27-3 14 1 27 9 27 16 82 70 41 31 41 28 28 12-30 20-41-14-27-15-28-25-27-36-55-50-41-28-27-10-27 0-28 9-27 15-55 37-13-3-41-18-28-8-95-7-41 4-55 12-41-8-14 1-95 34-55 9-533-65-246-39-96-19-96-10-82-22-95-15-123-59-123-118-82-65-28-40-27-54-14-22-13-16-14-10-27-7-28 34-13 22-14 25-68 139-28 44-13 18-28 18-41 18-27 1-14-4-27-22-27-32-137-189-41-52-41-46-55-50-95-72-41-35-41-38-82-85-28-37-13-25-28-65-13-25-14-14-14 15-13 36-14 51-55 228-13 50-14 43z" fill="url(#g28)" stroke="url(#g28)"/>
<path d="M1347 1197l13-40 14-47 27-100 14-47 14-41 13-31 14-19 14-6 27 25 55 62 68 70 55 49 27 19 28 14 82 31 41 18 27 18 27 22 41 41 41 46 164 208 41 37 28 14 27 5 14-4 13-13 14-17 27-46 41-82 41-103 14-30 14-20 13 6 14 17 68 132 28 48 68 50 96 87 68 28 96 47 54 22 110 25 109 12 96 20 246 39 519 64 27-1 41-12 96-49 27 4 55 23 14 2 82-27 27-4 27 1 41 12 55 28 14-1 41-28 27-15 27-9 28 1 27 9 41 28 55 50 27 36 14 12 54 32 28 10-30 21-41-13-27-16-27-23-28-34-54-47-41-26-28-9-27 0-27 7-28 14-55 33-13-1-55-28-41-15-27-6-41-2-55 9-96 30-68 16-41 7-41 3-547-67-218-34-110-20-95-11-96-23-96-13-41-23-109-75-82-75-68-56-96-148-14-15-13-9-14 4-55 92-68 135-27 43-14 17-55 31-41 16-27 3-41-6-27-13-14-9-27-28-41-55-123-179-69-90-95-116-69-78-54-57-28-35-13-28-14-39-14-53-13-57-14-43-14-20-13 24-14 55-27 146-14 68-14 63-13 58-14 52-14 44z" fill="url(#g29)" stroke="url(#g29)"/>
<path d="M1332 1228l14-43 13-50 55-228 14-51 13-36 14-15 14 14 13 25 28 65 13 25 28 37 82 85 41 38 41 35 95 72 55 50 41 46 41 52 137 189 27 32 27 22 14 4 27-1 41-18 28-18 13-18 28-44 68-139 14-25 13-22 28-34 27 7 14 10 13 16 14 22 27 54 28 40 82 65 123 118 123 59 95 15 82 22 96 10 96 19 246 39 533 65 55-9 95-34 14-1 41 8 55-12 41-4 95 7 28 8 41 18 13 3 55-37 27-15 28-9 27 0 27 10 41 28 55 50 27 36 28 25 27 15 41 14-30 21-41-12-27-14-27-21-28-29-54-41-41-24-28-8-27 0-27 6-69 31-13-1-69-37-41-16-27-7-41-1-41 6-41 12-55 19-41 20-27 9-41 5-55 2-587-72-164-24-315-54-68-9-41-17-41-24-96-69-68-45-68-54-14-19-68-113-28-35-13-11-14-1-14 10-27 48-28 41-68 122-27 38-14 12-68 36-41 12-55-2-41-10-27-14-14-11-27-29-41-58-151-236-68-99-68-88-96-105-14-19-13-27-14-40-27-108-14-42-14-25-13 22-14 52-27 134-14 63-14 59-13 56-14 51-14 45z" fill="url(#g30)" stroke="url(#g30)"/>
<path d="M1317 1225l14-44 14-52 13-58 14-63 14-68 27-146 14-55 13-24 14 20 14 43 13 57 14 53 14 39 13 28 28 35 54 57 69 78 95 116 69 90 123 179 41 55 27 28 14 9 27 13 41 6 27-3 41-16 55-31 14-17 27-43 68-135 55-92 14-4 13 9 14 15 96 148 68 56 82 75 109 75 41 23 96 13 96 23 95 11 110 20 218 34 547 67 41-3 41-7 68-16 96-30 55-9 41 2 27 6 41 15 55 28 13 1 55-33 28-14 27-7 27 0 28 9 41 26 54 47 28 34 27 23 27 16 41 13-29 20-41-11-28-12-27-18-27-24-14-9-55-32-27-12-27-7-28-1-41 8-41 14-13-3-96-53-55-17-41-1-54 11-82 28-28 16-41 15-41 6-54 1-575-71-273-41-123-25-123-10-55-17-27-13-27-19-82-67-41-31-41-25-55-23-27-26-69-118-27-42-14-17-13-11-14-2-14 11-13 32-41 103-55 84-27 36-69 39-54 22-41 3-55-9-27-13-14-11-14-13-27-34-164-253-82-117-82-103-109-117-14-19-14-25-27-62-14-23-13-13-14 15-14 32-13 45-14 50-55 220-13 46z" fill="url(#g31)" stroke="url(#g31)"/>
<path d="M1302 1200l14-45 14-51 13-56 14-59 14-63 27-134 14-52 13-22 14 25 14 42 27 108 14 40 13 27 14 19 96 105 68 88 68 99 151 236 41 58 27 29 14 11 27 14 41 10 55 2 41-12 68-36 14-12 27-38 68-122 28-41 27-48 14-10 14 1 13 11 28 35 68 113 14 19 68 54 68 45 96 69 41 24 41 17 68 9 315 54 164 24 587 72 55-2 41-5 27-9 41-20 55-19 41-12 41-6 41 1 27 7 41 16 69 37 13 1 69-31 27-6 27 0 28 8 41 24 54 41 28 29 27 21 27 14 41 12-29 19-55-18-109-54-55-22-27-6-28-2-68 10-109-59-41-17-28-6-41-2-54 11-69 23-54 27-28 8-41 7-54-1-629-79-219-33-136-28-123-8-14-3-41-18-27-16-123-96-28-18-41-22-68-77-55-51-13-16-28-39-13-16-14-10-14-2-13 11-14 28-27 63-28 56-27 44-27 32-69 40-54 24-41 8-41-7-28-12-13-10-28-27-27-37-96-149-54-80-69-91-82-100-82-91-109-108-14-13-27-17-14 6-14 17-13 27-14 37-14 47-41 161-13 48z" fill="url(#g32)" stroke="url(#g32)"/>
<path d="M1288 1237l13-46 55-220 14-50 13-45 14-32 14-15 13 13 14 23 27 62 14 25 14 19 109 117 82 103 82 117 164 253 27 34 14 13 14 11 27 13 55 9 41-3 54-22 69-39 27-36 55-84 41-103 13-32 14-11 14 2 13 11 14 17 27 42 69 118 27 26 55 23 41 25 41 31 82 67 27 19 27 13 55 17 123 10 123 25 273 41 575 71 54-1 41-6 41-15 28-16 82-28 54-11 41 1 55 17 96 53 13 3 41-14 41-8 28 1 27 7 27 12 55 32 14 9 27 24 27 18 28 12 41 11-30 19-14-4-41-19-68-41-41-6-41-1-55-9-68-1-123-65-41-15-27-6-41-2-55 9-68 21-41 20-41 14-28 4-68 0-328-39-314-43-205-30-137-27-137-12-41-16-27-14-137-94-14-12-95-118-41-45-41-35-28-16-13-4-14 0-14 6-13 16-28 54-41 69-27 36-27 27-55 32-55 26-41 11-27-1-27-11-14-9-27-26-28-36-95-147-41-59-55-71-68-78-123-131-69-67-54-47-28-17-13-5-14-13-14 1-13 9-14 19-14 29-13 40-14 48-27 104-14 47z" fill="url(#g33)" stroke="url(#g33)"/>
<path d="M1273 1253l13-48 41-161 14-47 14-37 13-27 14-17 14-6 27 17 14 13 109 108 82 91 82 100 69 91 54 80 96 149 27 37 28 27 13 10 28 12 41 7 41-8 54-24 69-40 27-32 27-44 28-56 27-63 14-28 13-11 14 2 14 10 13 16 28 39 13 16 55 51 68 77 41 22 28 18 123 96 27 16 41 18 14 3 123 8 136 28 219 33 629 79 54 1 41-7 28-8 54-27 69-23 54-11 41 2 28 6 41 17 109 59 68-10 28 2 27 6 55 22 109 54 55 18-30 19-13-4-41-23-69-53-27-5-41-1-109 16-14 0-137-65-41-15-27-6-82-6-28 2-54 16-41 25-41 15-82 5-397-48-273-38-328-51-109-11-41-14-41-21-41-28-82-63-55-36-14-13-68-86-41-46-41-34-27-16-14-3-14 0-13 7-14 16-41 84-27 45-28 34-27 26-55 31-54 26-41 10-28-4-27-13-14-11-27-29-27-38-82-125-41-59-41-53-55-62-178-181-54-52-55-45-55-29-13 2-14 10-14 21-13 31-14 41-14 50-27 105-14 46z" fill="url(#g34)" stroke="url(#g34)"/>
<path d="M1258 1239l14-47 27-104 14-48 13-40 14-29 14-19 13-9 14-1 14 13 13 5 28 17 54 47 69 67 123 131 68 78 55 71 41 59 95 147 28 36 27 26 14 9 27 11 27 1 41-11 55-26 55-32 27-27 27-36 41-69 28-54 13-16 14-6 14 0 13 4 28 16 41 35 41 45 95 118 14 12 137 94 27 14 41 16 137 12 137 27 205 30 314 43 328 39 68 0 28-4 41-14 41-20 68-21 55-9 41 2 27 6 41 15 123 65 68 1 55 9 41 1 41 6 68 41 41 19 14 4-30 19-13-5-41-29-69-65-41-7-41 3-123 31-123-52-54-16-55-24-27-6-28 1-41 9-27 11-27 19-28 15-27 10-55 2-27 4-424-52-246-35-177-30-205-23-55-13-41-15-55-33-136-107-41-40-28-23-41-26-41-42-27-24-27-19-28-11-13 0-14 6-14 15-13 23-55 83-28 38-27 32-68 38-55 23-27 6-41-6-28-14-13-11-28-30-27-37-82-123-55-76-54-67-69-75-123-127-68-64-55-41-41-16-13 5-14 12-14 22-13 33-14 43-41 158-14 46z" fill="url(#g35)" stroke="url(#g35)"/>
<path d="M1243 1275l14-46 27-105 14-50 14-41 13-31 14-21 14-10 13-2 55 29 55 45 54 52 178 181 55 62 41 53 41 59 82 125 27 38 27 29 14 11 27 13 28 4 41-10 54-26 55-31 27-26 28-34 27-45 41-84 14-16 13-7 14 0 14 3 27 16 41 34 41 46 68 86 14 13 55 36 82 63 41 28 41 21 41 14 109 11 328 51 273 38 397 48 82-5 41-15 41-25 54-16 28-2 82 6 27 6 41 15 137 65 14 0 109-16 41 1 27 5 69 53 41 23 13 4-29 19-14-5-41-35-68-78-28-7-27 0-27 4-123 43-14 4-14-1-123-43-68-35-27-9-28-3-41 6-41 14-41 27-27 11-14 3-41 0-41 6-424-52-246-35-164-29-164-18-27-6-109-31-41-17-41-30-96-78-55-39-41-35-27-18-27-14-41-42-28-24-41-25-13-14-14-8-14 3-13 20-55 108-27 49-14 21-14 15-13 11-69 37-54 20-41 1-41-8-28-14-13-10-28-30-27-36-96-141-54-75-69-88-82-95-68-71-55-50-41-31-27-15-14-4-13-11-14 2-14 9-13 19-14 30-14 39-13 47-28 101-13 44z" fill="url(#g36)" stroke="url(#g36)"/>
<path d="M1228 1312l14-46 41-158 14-43 13-33 14-22 14-12 13-5 41 16 55 41 68 64 123 127 69 75 54 67 55 76 82 123 27 37 28 30 13 11 28 14 41 6 27-6 55-23 68-38 27-32 28-38 55-83 13-23 14-15 14-6 13 0 28 11 27 19 27 24 41 42 41 26 28 23 41 40 136 107 55 33 41 15 55 13 205 23 177 30 246 35 424 52 27-4 55-2 27-10 28-15 27-19 27-11 41-9 28-1 27 6 55 24 54 16 123 52 123-31 41-3 41 7 69 65 41 29 13 5-29 18-14-5-41-40-27-35-41-57-28-7-27 0-27 6-28 10-82 38-54 18-110-34-68-33-27-7-28-3-27 2-41 9-14 4-41 22-27 9-41-2-55 8-423-52-260-37-178-33-136-16-123-39-96-40-82-65-41-29-41-23-41-18-68-73-41-36-41-61-14-16-14-9-13 2-14 24-55 125-13 19-55 63-41 42-41 26-41 13-41 2-55-5-27-10-14-8-13-11-28-28-41-56-109-164-68-97-55-72-55-63-55-55-54-47-41-28-28-10-13-10-14 3-14 10-13 20-14 30-14 39-41 147-13 44z" fill="url(#g37)" stroke="url(#g37)"/>
<path d="M1214 1301l13-44 28-101 13-47 14-39 14-30 13-19 14-9 14-2 13 11 14 4 27 15 41 31 55 50 68 71 82 95 69 88 54 75 96 141 27 36 28 30 13 10 28 14 41 8 41-1 54-20 69-37 13-11 14-15 14-21 27-49 55-108 13-20 14-3 14 8 13 14 41 25 28 24 41 42 27 14 27 18 41 35 55 39 96 78 41 30 41 17 109 31 27 6 164 18 164 29 246 35 424 52 41-6 41 0 14-3 27-11 41-27 41-14 41-6 28 3 27 9 68 35 123 43 14 1 14-4 123-43 27-4 27 0 28 7 68 78 41 35 14 5-30 19-14-7-13-12-28-32-27-38-41-64-27-8-28 0-27 7-27 12-96 52-55 18-95-23-69-25-41-8-41-1-41 6-68 20-55-3-54 9-424-52-287-43-150-28-137-17-151-52-109-45-96-64-68-35-96-101-13-18-41-66-14-17-14-9-13 3-14 23-27 62-28 26-13 16-82 115-28 29-13 12-28 16-41 12-54 1-41-6-28-11-13-9-14-11-27-30-41-58-123-194-55-83-55-74-41-49-54-57-69-58-41-24-27-7-14 6-13 14-14 24-14 35-13 45-41 159-14 46z" fill="url(#g38)" stroke="url(#g38)"/>
<path d="M1199 1327l13-44 41-147 14-39 14-30 13-20 14-10 14-3 13 10 28 10 41 28 54 47 55 55 55 63 55 72 68 97 109 164 41 56 28 28 13 11 14 8 27 10 55 5 41-2 41-13 41-26 41-42 55-63 13-19 55-125 14-24 13-2 14 9 14 16 41 61 41 36 68 73 41 18 41 23 41 29 82 65 96 40 123 39 136 16 178 33 260 37 423 52 55-8 41 2 27-9 41-22 14-4 41-9 27-2 28 3 27 7 68 33 110 34 54-18 82-38 28-10 27-6 27 0 28 7 41 57 27 35 41 40 14 5-30 19-13-6-14-14-27-34-28-41-41-69-27-8-27 1-28 7-27 13-68 42-41 21-42 14-27 4-82-17-55-14-54-8-69 1-41 8-82-5-41 9-13 0-424-51-314-49-123-22-137-18-178-58-123-47-68-40-14-10-109-97-82-122-14-16-13-9-14 2-27 43-14 5-14 10-13 15-28 40-41 68-27 42-27 34-28 23-27 15-41 9-55-1-41-7-27-13-14-10-13-13-28-34-41-62-109-181-55-87-54-78-41-51-55-58-55-49-41-29-27-10-14-9-13 4-14 12-14 23-13 33-14 43-41 157-14 47z" fill="url(#g39)" stroke="url(#g39)"/>
<path d="M1184 1365l14-46 41-159 13-45 14-35 14-24 13-14 14-6 27 7 41 24 69 58 54 57 41 49 55 74 55 83 123 194 41 58 27 30 14 11 13 9 28 11 41 6 54-1 41-12 28-16 13-12 28-29 82-115 13-16 28-26 27-62 14-23 13-3 14 9 14 17 41 66 13 18 96 101 68 35 96 64 109 45 151 52 137 17 150 28 287 43 424 52 54-9 55 3 68-20 41-6 41 1 41 8 69 25 95 23 55-18 96-52 27-12 27-7 28 0 27 8 41 64 27 38 28 32 13 12 14 7-30 19-13-7-14-14-27-34-28-43-41-71-27-8-27 1-28 8-27 13-96 59-41 17-41 9-41-3-136-21-69-3-41 1-68-9-41 3-27 8-14-2-396-48-246-41-123-14-110-18-123-16-191-56-109-41-14-9-137-137-68-57-55-86-13-16-14-10-14 2-13 23-14 18-14 5-14 11-13 15-28 41-41 72-27 44-27 35-28 24-27 16-41 10-55 0-54-9-28-12-13-10-14-13-27-33-28-42-27-47-96-173-41-71-54-85-41-54-55-60-55-50-41-30-27-9-14-10-13 4-14 12-14 23-13 34-14 45-41 161-14 48z" fill="url(#g40)" stroke="url(#g40)"/>
<path d="M1169 1343l14-47 41-157 14-43 13-33 14-23 14-12 13-4 14 9 27 10 41 29 55 49 55 58 41 51 54 78 55 87 109 181 41 62 28 34 13 13 14 10 27 13 41 7 55 1 41-9 27-15 28-23 27-34 27-42 41-68 28-40 13-15 14-10 14-5 27-43 14-2 13 9 14 16 82 122 109 97 14 10 68 40 123 47 178 58 137 18 123 22 314 49 424 51 13 0 41-9 82 5 41-8 69-1 54 8 55 14 82 17 27-4 42-14 41-21 68-42 27-13 28-7 27-1 27 8 41 69 28 41 27 34 14 14 13 6-29 20-14-7-14-13-27-35-27-42-41-69-28-9-27 1-27 8-28 13-95 57-55 20-55-4-95-1-137-10-96-13-27 1-41 9-397-48-273-47-232-28-178-37-137-55-82-23-13-7-41-40-110-118-41-36-54-35-28-39-13-15-14-8-14 2-27 38-14 5-13 10-14 15-27 39-41 69-28 42-27 33-27 24-28 14-41 10-68-1-55-9-27-12-27-21-14-15-27-39-41-72-96-186-41-74-41-66-41-57-55-62-54-50-41-29-14-6-27-7-14 7-14 16-13 27-14 39-14 49-41 171-13 49z" fill="url(#g41)" stroke="url(#g41)"/>
<path d="M1154 1345l14-48 41-161 14-45 13-34 14-23 14-12 13-4 14 10 27 9 41 30 55 50 55 60 41 54 54 85 41 71 96 173 27 47 28 42 27 33 14 13 13 10 28 12 54 9 55 0 41-10 27-16 28-24 27-35 27-44 41-72 28-41 13-15 14-11 14-5 14-18 13-23 14-2 14 10 13 16 55 86 68 57 137 137 14 9 109 41 191 56 123 16 110 18 123 14 246 41 396 48 14 2 27-8 41-3 68 9 41-1 69 3 136 21 41 3 41-9 41-17 96-59 27-13 28-8 27-1 27 8 41 71 28 43 27 34 14 14 13 7-29 20-14-6-14-13-27-32-27-40-41-66-28-8-27 0-27 7-28 13-82 46-41 16-68-7-191 5-151-18-27 1-41 7-410-50-260-46-191-22-164-41-68-14-123-62-41-13-55-10-14-10-27-26-109-113-55-44-41-22-14-12-27-35-14-10-13 0-14 20-27 53-14 10-27 28-82 116-28 29-27 20-41 17-41 4-68-4-55-10-27-14-14-10-14-14-27-37-41-71-96-187-41-75-41-66-41-57-55-60-54-50-41-28-41-16-14 6-14 14-13 25-14 36-14 47-41 164-13 48z" fill="url(#g42)" stroke="url(#g42)"/>
<path d="M1140 1388l13-49 41-171 14-49 14-39 13-27 14-16 14-7 27 7 14 6 41 29 54 50 55 62 41 57 41 66 41 74 96 186 41 72 27 39 14 15 27 21 27 12 55 9 68 1 41-10 28-14 27-24 27-33 28-42 41-69 27-39 14-15 13-10 14-5 27-38 14-2 14 8 13 15 28 39 54 35 41 36 110 118 41 40 13 7 82 23 137 55 178 37 232 28 273 47 397 48 41-9 27-1 96 13 137 10 95 1 55 4 55-20 95-57 28-13 27-8 27-1 28 9 41 69 27 42 27 35 14 13 14 7-30 20-14-5-41-42-27-36-41-59-27-7-28 0-27 5-27 11-55 27-41 13-96-9-191 14-41-1-109-12-69 6-437-54-205-38-246-36-123-36-96-22-109-57-41-12-69-12-136-125-55-41-14-19-54-93-14-19-14-12-13 0-14 23-14 31-54 134-14 24-55 64-41 37-41 21-41 9-68-1-68-11-28-13-13-10-14-12-27-34-41-67-96-176-41-73-41-66-41-57-55-63-54-51-41-31-28-14-13-2-14-11-14 5-13 13-14 23-14 34-13 44-41 158-14 46z" fill="url(#g43)" stroke="url(#g43)"/>
<path d="M1125 1388l13-48 41-164 14-47 14-36 13-25 14-14 14-6 41 16 41 28 54 50 55 60 41 57 41 66 41 75 96 187 41 71 27 37 14 14 14 10 27 14 55 10 68 4 41-4 41-17 27-20 28-29 82-116 27-28 14-10 27-53 14-20 13 0 14 10 27 35 14 12 41 22 55 44 109 113 27 26 14 10 55 10 41 13 123 62 68 14 164 41 191 22 260 46 410 50 41-7 27-1 151 18 191-5 68 7 41-16 82-46 28-13 27-7 27 0 28 8 41 66 27 40 27 32 14 13 14 6-30 21-13-5-41-36-69-83-27-7-55 3-41-4-41 8-41 16-13 1-42-8-41-2-136 20-55 5-41 1-109-9-69 4-451-57-355-63-96-13-123-37-109-24-55-28-41-17-41-11-68-13-137-112-41-65-68-125-14-21-13-14-14-1-14 25-13 34-55 146-27 66-14 28-82 48-55 21-54 1-69-10-27-13-14-9-13-13-28-33-41-61-123-206-41-65-54-78-41-51-55-57-68-59-28-17-41-12-13 7-14 16-14 27-13 38-14 48-41 166-14 47z" fill="url(#g44)" stroke="url(#g44)"/>
<path d="M1110 1388l14-46 41-158 13-44 14-34 14-23 13-13 14-5 14 11 13 2 28 14 41 31 54 51 55 63 41 57 41 66 41 73 96 176 41 67 27 34 14 12 13 10 28 13 68 11 68 1 41-9 41-21 41-37 55-64 14-24 54-134 14-31 14-23 13 0 14 12 14 19 54 93 14 19 55 41 136 125 69 12 41 12 109 57 96 22 123 36 246 36 205 38 437 54 69-6 109 12 41 1 191-14 96 9 41-13 55-27 27-11 27-5 28 0 27 7 41 59 27 36 41 42 14 5-30 21-13-4-41-31-69-69-13-4-55-34-27-8-41 2-28 9-41 20-54-10-28-2-41 5-109 24-55 8-54 2-110-6-41 3-478-60-342-62-82-10-164-42-95-17-82-30-69-20-68-25-55-38-27-30-41-56-41-68-55-101-13-21-14-14-14-1-13 25-14 32-55 142-27 64-14 28-82 48-55 22-41 3-54-9-28-13-13-10-14-13-27-34-28-41-109-175-68-105-55-77-55-70-68-74-55-49-41-29-41-12-13 7-14 17-14 29-13 39-14 50-41 173-14 49z" fill="url(#g45)" stroke="url(#g45)"/>
<path d="M1095 1433l14-47 41-166 14-48 13-38 14-27 14-16 13-7 41 12 28 17 68 59 55 57 41 51 54 78 41 65 123 206 41 61 28 33 13 13 14 9 27 13 69 10 54-1 55-21 82-48 14-28 27-66 55-146 13-34 14-25 14 1 13 14 14 21 68 125 41 65 137 112 68 13 41 11 41 17 55 28 109 24 123 37 96 13 355 63 451 57 69-4 109 9 41-1 55-5 136-20 41 2 42 8 13-1 41-16 41-8 41 4 55-3 27 7 69 83 41 36 13 5-29 21-28-12-54-39-14-14-27-39-28-23-41-26-27-9-41 2-27 10-41 22-41-12-41-2-41 5-110 30-54 10-69 4-82-6-54 3-493-62-123-25-82-10-123-23-68-10-150-31-260-78-55-18-27-15-27-22-41-39-96-105-55-91-13-19-14-11-14-1-13 22-110 232-68 42-55 25-41 8-54-8-28-12-13-11-14-13-27-34-28-41-109-178-55-84-68-99-68-87-69-76-54-51-41-29-28-8-13-10-14 6-14 15-13 27-14 39-14 49-41 173-13 51z" fill="url(#g46)" stroke="url(#g46)"/>
<path d="M1080 1433l14-49 41-173 14-50 13-39 14-29 14-17 13-7 41 12 41 29 55 49 68 74 55 70 55 77 68 105 109 175 28 41 27 34 14 13 13 10 28 13 54 9 41-3 55-22 82-48 14-28 27-64 55-142 14-32 13-25 14 1 14 14 13 21 55 101 41 68 41 56 27 30 55 38 68 25 69 20 82 30 95 17 164 42 82 10 342 62 478 60 41-3 110 6 54-2 55-8 109-24 41-5 28 2 54 10 41-20 28-9 41-2 27 8 55 34 13 4 69 69 41 31 13 4-29 21-41-16-28-20-27-30-27-39-28-23-41-26-27-8-14-2-27 4-27 10-28 14-13 2-28-9-27-5-41 0-41 9-96 30-54 10-69 6-82-6-54 3-506-65-109-22-192-32-95-12-96-18-328-108-14-8-68-48-55-61-123-150-27-23-14-2-13 8-14 17-27 44-28 55-54 118-69 43-54 25-41 8-41-8-28-15-13-11-28-31-27-40-96-154-54-82-69-94-82-103-68-78-110-111-27-21-27-6-14 12-14 23-13 35-14 46-14 55-41 184-13 52z" fill="url(#g47)" stroke="url(#g47)"/>
<path d="M1066 1409l13-51 41-173 14-49 14-39 13-27 14-15 14-6 13 10 28 8 41 29 54 51 69 76 68 87 68 99 55 84 109 178 28 41 27 34 14 13 13 11 28 12 54 8 41-8 55-25 68-42 110-232 13-22 14 1 14 11 13 19 55 91 96 105 41 39 27 22 27 15 55 18 260 78 150 31 68 10 123 23 82 10 123 25 493 62 54-3 82 6 69-4 54-10 110-30 41-5 41 2 41 12 41-22 27-10 41-2 27 9 41 26 28 23 27 39 14 14 54 39 28 12-30 20-27-8-41-26-28-28-27-36-27-22-41-24-28-8-41 1-54 22-28-11-27-7-27-3-28 2-41 9-95 30-69 12-54 4-82-6-55 2-519-67-274-57-164-18-109-36-69-19-123-51-54-18-69-53-54-33-151-177-27-22-14-1-13 8-14 27-14 31-27 48-41 78-27 45-14 18-55 33-41 20-27 8-27-1-28-16-13-12-28-33-27-41-68-112-41-63-41-57-41-50-41-45-233-237-68-78-14-11-13-4-14 0-14 15-13 27-14 39-14 50-13 58-28 128-13 61-14 52z" fill="url(#g48)" stroke="url(#g48)"/>
<path d="M1051 1453l13-52 41-184 14-55 14-46 13-35 14-23 14-12 27 6 27 21 110 111 68 78 82 103 69 94 54 82 96 154 27 40 28 31 13 11 28 15 41 8 41-8 54-25 69-43 54-118 28-55 27-44 14-17 13-8 14 2 27 23 123 150 55 61 68 48 14 8 328 108 96 18 95 12 192 32 109 22 506 65 54-3 82 6 69-6 54-10 96-30 41-9 41 0 27 5 28 9 13-2 28-14 27-10 27-4 14 2 27 8 41 26 28 23 27 39 27 30 28 20 41 16-30 20-41-15-27-16-27-24-28-32-27-18-41-22-27-7-41 0-41 12-69-21-41-2-41 6-109 31-55 10-68 5-82-7-55 2-109-12-424-57-246-54-164-19-137-45-95-27-69-29-54-20-55-48-41-32-41-23-41-14-68-75-28-50-13-18-14-12-14-7-13 1-14 7-14 12-13 19-28 47-54 107-28 45-13 16-41 24-28 12-27 5-14-2-13-7-14-11-27-34-151-239-41-56-27-32-55-51-109-81-55-47-95-97-28-33-41-56-27-25-14 4-13 15-14 28-14 39-13 49-14 57-27 124-14 60-14 51z" fill="url(#g49)" stroke="url(#g49)"/>
<path d="M1036 1474l14-52 13-61 28-128 13-58 14-50 14-39 13-27 14-15 14 0 13 4 14 11 68 78 233 237 41 45 41 50 41 57 41 63 68 112 27 41 28 33 13 12 28 16 27 1 27-8 41-20 55-33 14-18 27-45 41-78 27-48 14-31 14-27 13-8 14 1 27 22 151 177 54 33 69 53 54 18 123 51 69 19 109 36 164 18 274 57 519 67 55-2 82 6 54-4 69-12 95-30 41-9 28-2 27 3 27 7 28 11 54-22 41-1 28 8 41 24 27 22 27 36 28 28 41 26 27 8-30 19-13-4-82-43-28-24-27-16-41-17-27-7-28-2-41 6-13-2-55-20-55-5-41 4-109 25-68 11-55 1-68-5-69 0-136-15-260-37-137-16-218-46-110-16-136-27-82-28-137-64-96-29-54-46-41-29-41-19-55-15-14-14-27-62-27-51-14-19-14-13-13-6-14 1-14 7-13 13-14 19-28 49-54 111-28 46-13 18-55 29-27 4-14-2-14-7-13-11-28-33-150-239-41-57-27-32-28-27-27-23-123-78-27-21-41-36-82-83-28-36-41-64-13-15-14-10-14 6-13 20-14 33-14 44-13 54-14 62-27 130-14 60-14 53z" fill="url(#g50)" stroke="url(#g50)"/>
<path d="M1021 1458l14-51 14-60 27-124 14-57 13-49 14-39 14-28 13-15 14-4 27 25 41 56 28 33 95 97 55 47 109 81 55 51 27 32 41 56 151 239 27 34 14 11 13 7 14 2 27-5 28-12 41-24 13-16 28-45 54-107 28-47 13-19 14-12 14-7 13-1 14 7 14 12 13 18 28 50 68 75 41 14 41 23 41 32 55 48 54 20 69 29 95 27 137 45 164 19 246 54 424 57 109 12 55-2 82 7 68-5 55-10 109-31 41-6 41 2 69 21 41-12 41 0 27 7 41 22 27 18 28 32 27 24 27 16 41 15-29 18-14-5-68-44-41-22-28 2-68-19-68-3-41-16-41-11-28-2-41 0-136 23-55 5-205-7-150-17-233-34-137-16-232-50-82-13-205-41-150-67-96-30-123-85-41-22-55-24-13-24-28-56-13-23-14-18-14-13-13-6-14 1-14 6-13 13-14 18-27 48-55 107-27 45-14 18-41 24-41 18-27 3-14-3-14-8-13-12-28-33-27-41-109-176-41-58-28-34-54-56-137-119-96-96-41-47-13-21-41-70-14-15-14-8-13 9-14 24-14 37-13 49-14 58-41 200-14 62-13 53z" fill="url(#g51)" stroke="url(#g51)"/>
<path d="M1006 1491l14-53 14-60 27-130 14-62 13-54 14-44 14-33 13-20 14-6 14 10 13 15 41 64 28 36 82 83 41 36 27 21 123 78 27 23 28 27 27 32 41 57 150 239 28 33 13 11 14 7 14 2 27-4 55-29 13-18 28-46 54-111 28-49 14-19 13-13 14-7 14-1 13 6 14 13 14 19 27 51 27 62 14 14 55 15 41 19 41 29 54 46 96 29 137 64 82 28 136 27 110 16 218 46 137 16 260 37 136 15 69 0 68 5 55-1 68-11 109-25 41-4 55 5 55 20 13 2 41-6 28 2 27 7 41 17 27 16 28 24 82 43 13 4-29 18-14-6-68-53-41-25-96 17-41-3-82-27-68-9-55 2-150 14-192-6-205-23-205-31-136-17-192-43-82-15-68-9-150-30-151-58-95-30-96-76-55-38-54-28-55-18-14-14-27-45-14-17-13-12-14-5-14 0-13 6-14 12-14 16-27 43-55 97-27 40-14 13-68 36-41 14-41 3-41-8-27-14-14-10-27-31-41-61-137-220-82-121-41-55-41-51-110-122-54-82-28-24-13 6-14 20-14 33-13 43-14 53-14 61-27 129-14 60-13 53z" fill="url(#g52)" stroke="url(#g52)"/>
<path d="M992 1523l13-53 14-62 41-200 14-58 13-49 14-37 14-24 13-9 14 8 14 15 41 70 13 21 41 47 96 96 137 119 54 56 28 34 41 58 109 176 27 41 28 33 13 12 14 8 14 3 27-3 41-18 41-24 14-18 27-45 55-107 27-48 14-18 13-13 14-6 14-1 13 6 14 13 14 18 13 23 28 56 13 24 55 24 41 22 123 85 96 30 150 67 205 41 82 13 232 50 137 16 233 34 150 17 205 7 55-5 136-23 41 0 28 2 41 11 41 16 68 3 68 19 28-2 41 22 68 44 14 5-30 18-14-6-68-61-41-29-137 33-13-1-96-39-55-11-54 2-96 17-41 4-96-1-95-6-233-23-177-28-137-18-205-46-246-37-192-75-95-27-96-79-41-30-27-16-41-19-69-20-13-9-41-42-14-9-14-3-13 5-96 143-27 38-14 10-27 16-69 32-41 11-68-3-82-13-27-11-14-10-14-13-27-36-14-23-27-53-82-179-41-85-41-76-27-43-41-56-82-91-55-72-27-21-14 7-14 18-13 31-14 42-14 53-13 60-28 130-13 61-14 52z" fill="url(#g53)" stroke="url(#g53)"/>
<path d="M977 1508l13-53 14-60 27-129 14-61 14-53 13-43 14-33 14-20 13-6 28 24 54 82 110 122 41 51 41 55 82 121 137 220 41 61 27 31 14 10 27 14 41 8 41-3 41-14 68-36 14-13 27-40 55-97 27-43 14-16 14-12 13-6 14 0 14 5 13 12 14 17 27 45 14 14 55 18 54 28 55 38 96 76 95 30 151 58 150 30 68 9 82 15 192 43 136 17 205 31 205 23 192 6 150-14 55-2 68 9 82 27 41 3 96-17 41 25 68 53 14 6-30 19-13-7-69-67-41-31-27 6-96 30-13 1-69-40-41-19-41-11-27-1-41 7-82 26-41 10-96 4-41-2-328-31-301-44-164-39-109-20-68-6-96-14-178-65-95-26-14-7-96-75-41-29-54-30-55-18-55-69-27-30-14-11-13-5-14 6-14 22-27 55-82 143-82 42-41 15-27 6-55-2-123-17-27-11-14-10-14-13-13-18-14-22-14-26-27-60-68-168-41-93-41-79-28-44-41-54-68-74-41-49-14-14-13-9-14-4-14 8-13 19-14 32-14 43-13 55-14 63-27 135-14 63-14 53z" fill="url(#g54)" stroke="url(#g54)"/>
<path d="M962 1528l14-52 13-61 28-130 13-60 14-53 14-42 13-31 14-18 14-7 27 21 55 72 82 91 41 56 27 43 41 76 41 85 82 179 27 53 14 23 27 36 14 13 14 10 27 11 82 13 68 3 41-11 69-32 27-16 14-10 27-38 96-143 13-5 14 3 14 9 41 42 13 9 69 20 41 19 27 16 41 30 96 79 95 27 192 75 246 37 205 46 137 18 177 28 233 23 95 6 96 1 41-4 96-17 54-2 55 11 96 39 13 1 137-33 41 29 68 61 14 6-30 19-13-7-69-69-41-32-27 6-96 32-109-75-27-13-28-6-27 0-27 7-110 48-109 14-55-1-355-32-287-43-150-34-110-20-82-7-95-15-178-56-82-22-150-104-41-22-41-16-14-12-68-88-28-31-13-11-14-5-14 5-13 24-28 56-82 146-82 40-41 15-27 5-55-2-137-19-27-12-14-10-13-15-14-19-14-24-27-59-68-176-41-98-41-83-28-45-27-38-27-33-82-85-28-25-27-15-14 5-13 15-14 27-14 38-13 50-14 59-27 129-14 61-14 52z" fill="url(#g55)" stroke="url(#g55)"/>
<path d="M947 1573l14-53 14-63 27-135 14-63 13-55 14-43 14-32 13-19 14-8 14 4 13 9 14 14 41 49 68 74 41 54 28 44 41 79 41 93 68 168 27 60 14 26 14 22 13 18 14 13 14 10 27 11 123 17 55 2 27-6 41-15 82-42 82-143 27-55 14-22 14-6 13 5 14 11 27 30 55 69 55 18 54 30 41 29 96 75 14 7 95 26 178 65 96 14 68 6 109 20 164 39 301 44 328 31 41 2 96-4 41-10 82-26 41-7 27 1 41 11 41 19 69 40 13-1 96-30 27-6 41 31 69 67 13 7-29 19-14-7-68-67-41-31-28 6-82 26-13-5-110-90-27-14-27-7-28 1-27 9-82 49-137 30-54 2-370-32-123-21-177-24-219-43-137-18-54-13-123-35-137-31-14-6-123-77-41-36-54-42-96-106-27-21-14-2-14 4-13 18-69 136-41 64-27 15-82 35-27 8-28 3-150-16-55-10-27-13-14-13-13-17-14-23-14-28-27-69-55-157-27-73-27-64-14-29-27-49-41-57-55-58-55-48-41-23-13 4-14 13-14 24-13 36-14 47-14 58-27 128-14 60-13 53z" fill="url(#g56)" stroke="url(#g56)"/>
<path d="M932 1557l14-52 14-61 27-129 14-59 13-50 14-38 14-27 13-15 14-5 27 15 28 25 82 85 27 33 27 38 28 45 41 83 41 98 68 176 27 59 14 24 14 19 13 15 14 10 27 12 137 19 55 2 27-5 41-15 82-40 82-146 28-56 13-24 14-5 14 5 13 11 28 31 68 88 14 12 41 16 41 22 150 104 82 22 178 56 95 15 82 7 110 20 150 34 287 43 355 32 55 1 109-14 110-48 27-7 27 0 28 6 27 13 109 75 96-32 27-6 41 32 69 69 13 7-29 21-14-7-68-62-41-29-96 24-14 0-123-111-27-15-27-8-14 0-27 7-28 14-41 29-109 31-41 18-41 8-55-1-95-11-260-21-109-18-192-23-95-20-137-21-68-17-96-17-150-40-151-27-41-22-109-93-27-29-110-131-27-23-14-15-13-3-14 20-14 29-41 97-27 58-14 24-13 21-82 40-41 15-28 5-27 1-41-5-123-14-41-8-27-12-14-12-14-17-13-22-14-29-14-35-13-39-55-168-27-77-28-64-14-28-27-47-41-53-55-54-41-31-13-7-28-7-13 5-14 14-14 26-13 37-14 51-14 60-27 133-14 62-13 52z" fill="url(#g57)" stroke="url(#g57)"/>
<path d="M918 1566l13-53 14-60 27-128 14-58 14-47 13-36 14-24 14-13 13-4 41 23 55 48 55 58 41 57 27 49 14 29 27 64 27 73 55 157 27 69 14 28 14 23 13 17 14 13 27 13 55 10 150 16 28-3 27-8 82-35 27-15 41-64 69-136 13-18 14-4 14 2 27 21 96 106 54 42 41 36 123 77 14 6 137 31 123 35 54 13 137 18 219 43 177 24 123 21 370 32 54-2 137-30 82-49 27-9 28-1 27 7 27 14 110 90 13 5 82-26 28-6 41 31 68 67 14 7-30 21-14-5-68-56-41-25-96 19-41-33-68-67-27-23-28-17-27-7-14 0-27 8-41 24-14 6-41 8-27 9-55 22-27 17-27 11-41 7-41 0-164-20-96-4-123-12-96-15-177-21-219-40-96-24-137-24-191-45-82-12-55-38-54-51-41-44-96-115-27-29-14-21-14-16-13-3-14 20-14 30-41 97-27 59-14 25-13 21-82 40-41 14-28 6-27 0-82-8-96-12-41-9-27-16-14-15-13-20-14-27-14-33-13-38-55-170-27-77-28-66-27-53-14-22-27-37-27-30-28-26-54-43-41-16-14 4-14 13-13 24-14 36-14 47-13 58-28 127-13 60-14 51z" fill="url(#g58)" stroke="url(#g58)"/>
<path d="M903 1611l13-52 14-62 27-133 14-60 14-51 13-37 14-26 14-14 13-5 28 7 13 7 41 31 55 54 41 53 27 47 14 28 28 64 27 77 55 168 13 39 14 35 14 29 13 22 14 17 14 12 27 12 41 8 123 14 41 5 27-1 28-5 41-15 82-40 13-21 14-24 27-58 41-97 14-29 14-20 13 3 14 15 27 23 110 131 27 29 109 93 41 22 151 27 150 40 96 17 68 17 137 21 95 20 192 23 109 18 260 21 95 11 55 1 41-8 41-18 109-31 41-29 28-14 27-7 14 0 27 8 27 15 123 111 14 0 96-24 41 29 68 62 14 7-30 21-13-5-69-46-41-22-82 10-13-3-41-32-69-65-27-22-28-16-27-7-27 2-41 18-28-1-41 9-82 37-41 27-27 9-41 5-41-1-137-20-109-6-137-12-136-20-123-13-123-26-96-16-164-41-109-13-69-14-68-20-96-16-13-4-28-19-68-55-82-85-27-31-28-34-27-26-14-21-13-13-14-3-14 19-68 141-27 47-14 19-27 15-82 35-28 8-27 3-164-18-55-9-27-13-14-12-13-17-14-23-14-29-13-33-14-38-55-162-27-72-27-62-28-50-13-21-28-35-54-55-55-42-41-18-14 3-13 12-14 22-14 33-13 46-14 54-27 122-14 58-14 50z" fill="url(#g59)" stroke="url(#g59)"/>
<path d="M888 1611l14-51 13-60 28-127 13-58 14-47 14-36 13-24 14-13 14-4 41 16 54 43 28 26 27 30 27 37 14 22 27 53 28 66 27 77 55 170 13 38 14 33 14 27 13 20 14 15 27 16 41 9 96 12 82 8 27 0 28-6 41-14 82-40 13-21 14-25 27-59 41-97 14-30 14-20 13 3 14 16 14 21 27 29 96 115 41 44 54 51 55 38 82 12 191 45 137 24 96 24 219 40 177 21 96 15 123 12 96 4 164 20 41 0 41-7 27-11 27-17 55-22 27-9 41-8 14-6 41-24 27-8 14 0 27 7 28 17 27 23 68 67 41 33 96-19 41 25 68 56 14 5-30 22-13-4-69-38-41-18-82 5-41-26-82-69-27-21-27-14-28-6-13 0-28 5-41-5-41 5-27 9-55 26-41 28-27 13-41 8-41 0-55-6-95-18-96-5-68-8-96-6-123-17-123-13-123-25-109-18-137-39-137-15-109-30-137-29-13-7-69-48-82-74-27-45-27-34-14-11-14-6-13-1-14-10-14-1-13 15-69 113-27 39-14 15-68 34-55 20-41 7-96-10-95-13-28-10-13-10-14-13-14-18-13-23-28-60-68-180-27-67-28-58-13-26-28-45-41-52-27-28-41-37-41-29-14-6-27-7-14 5-13 15-14 25-14 36-13 49-14 57-27 125-14 58-14 50z" fill="url(#g60)" stroke="url(#g60)"/>
<path d="M873 1611l14-50 14-58 27-122 14-54 13-46 14-33 14-22 13-12 14-3 41 18 55 42 54 55 28 35 13 21 28 50 27 62 27 72 55 162 14 38 13 33 14 29 14 23 13 17 14 12 27 13 55 9 164 18 27-3 28-8 82-35 27-15 14-19 27-47 68-141 14-19 14 3 13 13 14 21 27 26 28 34 27 31 82 85 68 55 28 19 13 4 96 16 68 20 69 14 109 13 164 41 96 16 123 26 123 13 136 20 137 12 109 6 137 20 41 1 41-5 27-9 41-27 82-37 41-9 28 1 41-18 27-2 27 7 28 16 27 22 69 65 41 32 13 3 82-10 41 22 69 46 13 5-29 22-123-49-69 0-13-3-41-22-82-58-41-24-28-9-41-2-41-13-41 0-41 11-54 23-55 33-27 9-41 4-41-1-137-27-82-4-96-11-96-4-232-29-205-38-55-14-54-20-41-11-110-9-164-40-109-22-41-12-41-29-55-53-95-109-28-25-13-8-14-1-14 8-68 111-14 18-27 30-14 13-54 28-69 26-41 6-95-9-69-10-27-11-14-10-13-13-14-17-14-22-27-54-82-194-41-89-41-75-27-42-28-35-27-30-55-50-41-30-41-13-13 6-14 14-14 26-13 37-14 49-14 59-27 128-14 59-13 51z" fill="url(#g61)" stroke="url(#g61)"/>
<path d="M858 1658l14-50 14-58 27-125 14-57 13-49 14-36 14-25 13-15 14-5 27 7 14 6 41 29 41 37 27 28 41 52 28 45 13 26 28 58 27 67 68 180 28 60 13 23 14 18 14 13 13 10 28 10 95 13 96 10 41-7 55-20 68-34 14-15 27-39 69-113 13-15 14 1 14 10 13 1 14 6 14 11 27 34 27 45 82 74 69 48 13 7 137 29 109 30 137 15 137 39 109 18 123 25 123 13 123 17 96 6 68 8 96 5 95 18 55 6 41 0 41-8 27-13 41-28 55-26 27-9 41-5 41 5 28-5 13 0 28 6 27 14 27 21 82 69 41 26 82-5 41 18 69 38 13 4-29 21-123-40-69-2-13-5-41-18-110-60-27-10-41-8-27-11-28-7-27-1-41 6-68 21-41 23-28 9-27 5-41 1-164-31-82-5-82-11-123-5-178-23-232-43-82-19-82-26-41-5-41 0-55-12-109-30-164-36-41-28-68-61-96-112-27-25-14-8-14 0-13 8-55 96-27 40-14 17-27 28-41 21-69 30-41 9-54-1-110-16-27-12-14-10-13-14-28-39-13-25-28-57-68-156-41-89-41-77-41-63-28-35-27-31-55-51-41-29-27-10-14-8-13 5-14 13-14 24-13 36-14 47-14 57-27 127-14 59-13 51z" fill="url(#g62)" stroke="url(#g62)"/>
<path d="M844 1664l13-51 14-59 27-128 14-59 14-49 13-37 14-26 14-14 13-6 41 13 41 30 55 50 27 30 28 35 27 42 41 75 41 89 82 194 27 54 14 22 14 17 13 13 14 10 27 11 69 10 95 9 41-6 69-26 54-28 14-13 27-30 14-18 68-111 14-8 14 1 13 8 28 25 95 109 55 53 41 29 41 12 109 22 164 40 110 9 41 11 54 20 55 14 205 38 232 29 96 4 96 11 82 4 137 27 41 1 41-4 27-9 55-33 54-23 41-11 41 0 41 13 41 2 28 9 41 24 82 58 41 22 13 3 69 0 123 49-30 20-96-26-41-14-54-10-55-6-109-46-96-30-27-6-41-1-41 5-55 11-41 17-27 6-55 4-41-4-137-27-68-5-96-13-136-6-137-18-178-37-109-19-137-33-82-7-123-34-55-24-41-13-109-19-14-5-68-59-137-137-27-19-14 0-13 8-55 94-27 40-14 17-27 27-28 15-68 32-55 14-54-2-82-13-28-12-13-9-14-14-27-36-14-22-27-52-96-201-41-81-41-71-41-60-55-65-54-52-41-31-14-7-27-6-14 7-14 17-13 29-14 41-14 53-13 63-28 136-13 62-14 54z" fill="url(#g63)" stroke="url(#g63)"/>
<path d="M829 1644l13-51 14-59 27-127 14-57 14-47 13-36 14-24 14-13 13-5 14 8 27 10 41 29 55 51 27 31 28 35 41 63 41 77 41 89 68 156 28 57 13 25 28 39 13 14 14 10 27 12 110 16 54 1 41-9 69-30 41-21 27-28 14-17 27-40 55-96 13-8 14 0 14 8 27 25 96 112 68 61 41 28 164 36 109 30 55 12 41 0 41 5 82 26 82 19 232 43 178 23 123 5 82 11 82 5 164 31 41-1 27-5 28-9 41-23 68-21 41-6 27 1 28 7 27 11 41 8 27 10 110 60 41 18 13 5 69 2 123 40-30 20-95-31-28-14-27-9-41-8-68-5-69-21-68-13-55-19-55-13-54-3-55 4-41 16-41 11-41 5-41 0-109-21-82-8-69-12-177-10-110-15-232-50-232-38-69-8-109-32-55-26-41-15-41-10-82-13-13-5-55-47-150-150-28-21-13-2-14 6-14 21-54 95-28 40-27 31-82 42-55 18-41 2-41-9-27-15-14-11-27-31-27-40-110-179-68-108-55-80-54-73-69-79-82-82-27-25-14-9-13-4-14-2-14 10-13 21-14 33-14 45-13 56-14 65-27 138-14 63-14 54z" fill="url(#g64)" stroke="url(#g64)"/>
<path d="M814 1686l14-54 13-62 28-136 13-63 14-53 14-41 13-29 14-17 14-7 27 6 14 7 41 31 54 52 55 65 41 60 41 71 41 81 96 201 27 52 14 22 27 36 14 14 13 9 28 12 82 13 54 2 55-14 68-32 28-15 27-27 14-17 27-40 55-94 13-8 14 0 27 19 137 137 68 59 14 5 109 19 41 13 55 24 123 34 82 7 137 33 109 19 178 37 137 18 136 6 96 13 68 5 137 27 41 4 55-4 27-6 41-17 55-11 41-5 41 1 27 6 96 30 109 46 55 6 54 10 41 14 96 26-30 19-95-38-28-17-41-15-41-8-54 0-69-26-68-15-55-26-54-15-41-1-55 6-14 3-54 31-28 10-41 8-41 1-177-23-96-16-178-10-54-8-192-46-164-32-191-17-109-23-274-97-27-22-41-42-123-145-27-22-14-3-14 7-13 24-28 56-27 52-28 44-27 36-55 29-41 17-27 8-27-1-14-5-14-10-27-29-27-39-82-133-41-63-41-57-41-48-41-43-137-134-109-112-55-60-14-11-27-10-14 10-13 22-14 33-14 44-13 55-14 63-27 134-14 62-14 53z" fill="url(#g65)" stroke="url(#g65)"/>
<path d="M799 1706l14-54 14-63 27-138 14-65 13-56 14-45 14-33 13-21 14-10 14 2 13 4 14 9 27 25 82 82 69 79 54 73 55 80 68 108 110 179 27 40 27 31 14 11 27 15 41 9 41-2 55-18 82-42 27-31 28-40 54-95 14-21 14-6 13 2 28 21 150 150 55 47 13 5 82 13 41 10 41 15 55 26 109 32 69 8 232 38 232 50 110 15 177 10 69 12 82 8 109 21 41 0 41-5 41-11 41-16 55-4 54 3 55 13 55 19 68 13 69 21 68 5 41 8 27 9 28 14 95 31-29 18-14-4-96-50-27-19-27-11-41-9-55 3-68-32-28-8-41-8-54-31-28-11-27-6-41-1-55 11-13 7-41 32-28 14-41 13-41 4-82-9-109-8-110-16-177-12-82-17-151-40-164-35-41-5-123-7-123-20-41-13-123-51-136-46-14-9-41-43-123-152-27-24-14-3-14 8-13 24-41 86-55 84-27 32-55 28-27 9-28 2-13-4-14-8-14-13-27-35-137-218-41-58-27-33-55-54-109-85-55-48-109-111-55-68-13-13-14-5-14-2-13 14-14 26-14 38-13 49-14 59-41 205-14 63-13 53z" fill="url(#g66)" stroke="url(#g66)"/>
<path d="M784 1691l14-53 14-62 27-134 14-63 13-55 14-44 14-33 13-22 14-10 27 10 14 11 55 60 109 112 137 134 41 43 41 48 41 57 41 63 82 133 27 39 27 29 14 10 14 5 27 1 27-8 41-17 55-29 27-36 28-44 27-52 28-56 13-24 14-7 14 3 27 22 123 145 41 42 27 22 274 97 109 23 191 17 164 32 192 46 54 8 178 10 96 16 177 23 41-1 41-8 28-10 54-31 14-3 55-6 41 1 54 15 55 26 68 15 69 26 54 0 41 8 41 15 28 17 95 38-29 18-14-5-123-79-68-39-14-2-14 3-27 16-14-4-54-30-41-14-28-4-68-38-41-12-41 0-55 16-54 46-28 17-41 14-41 5-68-10-150-6-96-12-164-12-82-18-150-41-82-15-69-17-54-7-82-3-96-19-82-11-164-67-137-45-13-8-55-59-96-117-27-23-14-3-13 6-14 23-27 37-14 21-55 92-27 37-14 13-68 33-27 8-28-1-13-6-14-10-27-29-28-39-82-133-41-63-27-38-41-52-41-44-123-121-110-112-41-48-41-58-13-15-14-6-14 2-13 18-14 30-14 43-13 53-14 64-41 212-14 65-13 54z" fill="url(#g67)" stroke="url(#g67)"/>
<path d="M770 1723l13-53 14-63 41-205 14-59 13-49 14-38 14-26 13-14 14 2 14 5 13 13 55 68 109 111 55 48 109 85 55 54 27 33 41 58 137 218 27 35 14 13 14 8 13 4 28-2 27-9 55-28 27-32 55-84 41-86 13-24 14-8 14 3 27 24 123 152 41 43 14 9 136 46 123 51 41 13 123 20 123 7 41 5 164 35 151 40 82 17 177 12 110 16 109 8 82 9 41-4 41-13 28-14 41-32 13-7 55-11 41 1 27 6 28 11 54 31 41 8 28 8 68 32 55-3 41 9 27 11 27 19 96 50 14 4-30 18-14-5-109-84-27-16-28-41-13-15-14-9-14-2-13 5-14 11-27 32-69-39-41-12-27-2-55-30-41-13-41 2-41 13-13 6-41 38-41 29-41 14-41 4-82-11-178-4-178-16-82-13-191-52-109-23-82-12-82-4-96-24-96-12-191-78-137-45-82-86-27-49-14-21-14-16-13-11-14-6-14 0-13 6-14 11-14 16-27 42-55 95-27 39-14 15-68 33-41 13-41 2-41-8-27-15-14-11-27-31-41-62-137-224-82-124-41-55-41-51-96-106-13-19-41-63-14-16-14-6-13-1-14 17-14 31-13 42-14 52-14 61-41 206-13 63-14 53z" fill="url(#g68)" stroke="url(#g68)"/>
<path d="M755 1756l13-54 14-65 41-212 14-64 13-53 14-43 14-30 13-18 14-2 14 6 13 15 41 58 41 48 110 112 123 121 41 44 41 52 27 38 41 63 82 133 28 39 27 29 14 10 13 6 28 1 27-8 68-33 14-13 27-37 55-92 14-21 27-37 14-23 13-6 14 3 27 23 96 117 55 59 13 8 137 45 164 67 82 11 96 19 82 3 54 7 69 17 82 15 150 41 82 18 164 12 96 12 150 6 68 10 41-5 41-14 28-17 54-46 55-16 41 0 41 12 68 38 28 4 41 14 54 30 14 4 27-16 14-3 14 2 68 39 123 79 14 5-30 19-13-6-82-70-14-12-14-17-13-7-14-12-27-49-14-19-14-11-13-2-14 6-14 14-27 40-14 3-41-28-41-18-27-4-41-1-41-20-41-8-41 6-41 17-41 40-28 19-27 13-27 7-41 3-55-10-41-3-178-2-136-13-137-22-150-41-123-29-82-13-82-3-123-30-82-13-178-71-109-35-14-7-123-130-27-33-14-11-14-5-13 0-14 5-14 11-13 15-28 41-54 91-28 38-13 16-69 31-54 15-69-4-68-11-27-12-28-22-13-17-28-43-41-80-68-147-41-85-41-75-27-44-41-56-82-91-55-72-14-12-13-5-14-1-14 16-13 29-14 40-14 51-13 60-41 207-14 63-14 54z" fill="url(#g69)" stroke="url(#g69)"/>
<path d="M740 1740l14-53 13-63 41-206 14-61 14-52 13-42 14-31 14-17 13 1 14 6 14 16 41 63 13 19 96 106 41 51 41 55 82 124 137 224 41 62 27 31 14 11 27 15 41 8 41-2 41-13 68-33 14-15 27-39 55-95 27-42 14-16 14-11 13-6 14 0 14 6 13 11 14 16 14 21 27 49 82 86 137 45 191 78 96 12 96 24 82 4 82 12 109 23 191 52 82 13 178 16 178 4 82 11 41-4 41-14 41-29 41-38 13-6 41-13 41-2 41 13 55 30 27 2 41 12 69 39 27-32 14-11 13-5 14 2 14 9 13 15 28 41 27 16 109 84 14 5-30 19-13-6-82-73-28-37-27-14-41-61-14-11-13-3-14 7-14 13-27 40-14-2-54-37-41-15-28-2-41 8-54-15-41 2-28 8-27 12-27 28-41 27-41 14-41 4-137-18-137 1-136-13-96-17-82-11-191-48-96-28-55-7-68-1-137-39-68-8-178-72-109-33-14-8-13-14-110-123-27-23-27-13-14 2-14 11-13 26-42 55-54 82-28 34-13 11-69 30-54 14-82-5-82-13-28-12-13-11-14-14-14-19-13-22-14-26-27-60-69-163-41-91-41-78-27-44-41-55-109-120-14-14-14-10-13-5-14 5-14 16-13 28-14 41-14 52-13 63-41 214-14 64-14 54z" fill="url(#g70)" stroke="url(#g70)"/>
<path d="M725 1761l14-54 14-63 41-207 13-60 14-51 14-40 13-29 14-16 14 1 13 5 14 12 55 72 82 91 41 56 27 44 41 75 41 85 68 147 41 80 28 43 13 17 28 22 27 12 68 11 69 4 54-15 69-31 13-16 28-38 54-91 28-41 13-15 14-11 14-5 13 0 14 5 14 11 27 33 123 130 14 7 109 35 178 71 82 13 123 30 82 3 82 13 123 29 150 41 137 22 136 13 178 2 41 3 55 10 41-3 27-7 27-13 28-19 41-40 41-17 41-6 41 8 41 20 41 1 27 4 41 18 41 28 14-3 27-40 14-14 14-6 13 2 14 11 14 19 27 49 14 12 13 7 14 17 14 12 82 70 13 6-29 20-14-7-68-58-41-57-28-14-27-10-14-16-13-9-14-3-14 5-13 10-14 15-14 8-41-31-27-18-27-12-28-7-41 3-41 15-41-4-41 6-41 15-27 23-27 15-96 21-82-18-41-5-109 1-165-10-109-22-82-8-109-22-55-14-82-27-41-11-55-6-68-1-137-41-41-6-54 0-178-63-82-39-14-9-13-15-110-126-27-24-27-13-28 6-13 13-14 19-27 46-55 102-14 22-13 9-82 35-55 13-82-6-68-12-28-14-13-12-14-15-27-41-41-81-69-151-41-87-41-77-41-65-41-53-54-57-55-53-14-11-27-14-14 3-13 12-14 23-14 35-13 47-14 58-41 203-14 63-13 52z" fill="url(#g71)" stroke="url(#g71)"/>
<path d="M710 1803l14-54 14-64 41-214 13-63 14-52 14-41 13-28 14-16 14-5 13 5 14 10 14 14 109 120 41 55 27 44 41 78 41 91 69 163 27 60 14 26 13 22 14 19 14 14 13 11 28 12 82 13 82 5 54-14 69-30 13-11 28-34 54-82 42-55 13-26 14-11 14-2 27 13 27 23 110 123 13 14 14 8 109 33 178 72 68 8 137 39 68 1 55 7 96 28 191 48 82 11 96 17 136 13 137-1 137 18 41-4 41-14 41-27 27-28 27-12 28-8 41-2 54 15 41-8 28 2 41 15 54 37 14 2 27-40 14-13 14-7 13 3 14 11 41 61 27 14 28 37 82 73 13 6-29 21-14-6-55-42-27-33-27-37-14-8-41-15-27-4-28 2-41 9-13-7-55-37-27-13-28-7-41 1-27 7-41 19-55 8-27 7-14 7-68 6-82 29-14-1-109-17-82 0-55-5-109-1-123-26-96-9-82-18-82-11-123-34-54-7-69-2-136-39-55-5-82 1-55-26-123-69-68-30-14-12-68-79-41-42-27-21-14-6-14-11-13-6-14 13-27 43-82 158-82 35-55 15-41 2-41-5-27-7-28-15-13-11-14-14-27-37-41-67-110-196-41-71-54-86-42-56-54-64-55-53-41-32-41-20-14 3-13 10-14 20-14 32-13 44-14 56-14 64-27 135-14 62-13 51z" fill="url(#g72)" stroke="url(#g72)"/>
<path d="M696 1785l13-52 14-63 41-203 14-58 13-47 14-35 14-23 13-12 14-3 27 14 14 11 55 53 54 57 41 53 41 65 41 77 41 87 69 151 41 81 27 41 14 15 13 12 28 14 68 12 82 6 55-13 82-35 13-9 14-22 55-102 27-46 14-19 13-13 28-6 27 13 27 24 110 126 13 15 14 9 82 39 178 63 54 0 41 6 137 41 68 1 55 6 41 11 82 27 55 14 109 22 82 8 109 22 165 10 109-1 41 5 82 18 96-21 27-15 27-23 41-15 41-6 41 4 41-15 41-3 28 7 27 12 27 18 41 31 14-8 14-15 13-10 14-5 14 3 13 9 14 16 27 10 28 14 41 57 68 58 14 7-30 21-14-5-54-40-28-29-27-35-14-7-41-14-27-3-27 0-41 7-14-5-41-27-27-15-41-14-28-2-41 7-82 36-13-4-28-14-13-2-55 4-27 9-69 34-191-16-82-4-82 2-150-34-82-6-96-22-109-10-96-20-96-7-82-28-55-14-41-4-95 2-55-22-123-67-68-31-14-8-55-41-54-56-41-35-14-18-14-14-13-6-14 12-27 41-82 151-55 23-55 18-41 7-27-2-27-12-14-9-14-12-27-33-27-41-96-153-55-81-82-111-82-101-68-75-68-66-41-32-28-10-13 5-14 13-14 25-13 37-14 49-14 61-41 210-13 62-14 52z" fill="url(#g73)" stroke="url(#g73)"/>
<path d="M681 1791l13-51 14-62 27-135 14-64 14-56 13-44 14-32 14-20 13-10 14-3 41 20 41 32 55 53 54 64 42 56 54 86 41 71 110 196 41 67 27 37 14 14 13 11 28 15 27 7 41 5 41-2 55-15 82-35 82-158 27-43 14-13 13 6 14 11 14 6 27 21 41 42 68 79 14 12 68 30 123 69 55 26 82-1 55 5 136 39 69 2 54 7 123 34 82 11 82 18 96 9 123 26 109 1 55 5 82 0 109 17 14 1 82-29 68-6 14-7 27-7 55-8 41-19 27-7 41-1 28 7 27 13 55 37 13 7 41-9 28-2 27 4 41 15 14 8 27 37 27 33 55 42 14 6-30 20-13-5-69-60-41-28-41-14-27-6-41-2-41 4-14-5-68-39-28-10-27-6-41 0-55 15-27 1-27-5-28-13-54 0-41 14-69 38-41-5-54 0-96-11-164 0-137-36-41-6-54-2-82-20-41-7-110-6-123-20-82-16-41-14-54-13-137-3-68-27-123-61-14-10-68-62-28-21-27-17-41-19-27-33-28-24-27-7-14 13-27 38-82 137-55 23-54 18-28 5-27-3-27-14-14-11-27-32-28-40-82-132-41-62-54-74-55-66-150-166-110-112-27-26-27-13-14 5-14 15-13 26-14 39-14 50-13 60-41 206-14 61-14 51z" fill="url(#g74)" stroke="url(#g74)"/>
<path d="M666 1833l14-52 13-62 41-210 14-61 14-49 13-37 14-25 14-13 13-5 28 10 41 32 68 66 68 75 82 101 82 111 55 81 96 153 27 41 27 33 14 12 14 9 27 12 27 2 41-7 55-18 55-23 82-151 27-41 14-12 13 6 14 14 14 18 41 35 54 56 55 41 14 8 68 31 123 67 55 22 95-2 41 4 55 14 82 28 96 7 96 20 109 10 96 22 82 6 150 34 82-2 82 4 191 16 69-34 27-9 55-4 13 2 28 14 13 4 82-36 41-7 28 2 41 14 27 15 41 27 14 5 41-7 27 0 27 3 41 14 14 7 27 35 28 29 54 40 14 5-30 18-13-6-69-70-27-23-14-9-54 18-41-4-55 0-68-35-41-16-41-8-28-1-41-12-41-3-54-15-28 10-27 1-27 8-69 38-13 4-41-4-55 0-96-11-164 0-136-39-41-6-55-1-109-27-55-6-68-1-55-13-123-23-55-5-68-16-109-4-41-7-69-23-68-31-137-124-41-26-41-14-68-63-14-3-13 13-28 42-82 143-96 37-27 5-27-2-28-16-27-29-27-39-82-133-41-62-28-39-41-51-54-60-233-237-68-77-27-17-14 6-14 16-13 28-14 40-14 51-13 60-41 201-14 60-14 50z" fill="url(#g75)" stroke="url(#g75)"/>
<path d="M651 1827l14-51 14-61 41-206 13-60 14-50 14-39 13-26 14-15 14-5 27 13 27 26 110 112 150 166 55 66 54 74 41 62 82 132 28 40 27 32 14 11 27 14 27 3 28-5 54-18 55-23 82-137 27-38 14-13 27 7 28 24 27 33 41 19 27 17 28 21 68 62 14 10 123 61 68 27 137 3 54 13 41 14 82 16 123 20 110 6 41 7 82 20 54 2 41 6 137 36 164 0 96 11 54 0 41 5 69-38 41-14 54 0 28 13 27 5 27-1 55-15 41 0 27 6 28 10 68 39 14 5 41-4 41 2 27 6 41 14 41 28 69 60 13 5-29 19-14-8-68-79-28-26-13-9-28 10-54 29-14 3-96-40-54-15-41-5-55-28-27-8-28-2-68-28-137 73-13 7-14 2-41-4-68-1-82-8-165-2-95-31-55-13-96-6-54-17-55-11-109-5-55-15-68-10-55-13-109-15-55-5-191-34-28-8-27-19-41-34-68-63-41-32-41-21-41-13-41-47-14-10-14-4-13 14-14 19-82 136-27 28-14 8-41 14-27 3-14-2-27-15-28-29-27-41-96-154-41-63-41-55-27-30-55-48-95-66-41-33-41-37-69-68-68-72-14-13-13-8-14-4-14 7-13 18-14 29-14 42-13 53-14 63-41 210-14 60-13 51z" fill="url(#g76)" stroke="url(#g76)"/>
<path d="M636 1821l14-50 14-60 41-201 13-60 14-51 14-40 13-28 14-16 14-6 27 17 68 77 233 237 54 60 41 51 28 39 41 62 82 133 27 39 27 29 28 16 27 2 27-5 96-37 82-143 28-42 13-13 14 3 68 63 41 14 41 26 137 124 68 31 69 23 41 7 109 4 68 16 55 5 123 23 55 13 68 1 55 6 109 27 55 1 41 6 136 39 164 0 96 11 55 0 41 4 13-4 69-38 27-8 27-1 28-10 54 15 41 3 41 12 28 1 41 8 41 16 68 35 55 0 41 4 54-18 14 9 27 23 69 70 13 6-29 19-14-8-68-86-28-28-13-10-28 12-41 25-13 3-69-38-41-17-54-13-28-1-41 4-41-19-41-9-54-37-14-2-27 15-28 22-95 64-69-4-54 1-82-8-164-5-96-31-55-13-95-6-55-17-55-11-41-2-54 1-110-29-177-27-274-51-41-9-27-20-109-87-41-24-41-16-55-51-14-9-13-3-14 12-96 124-27 30-14 11-13 6-28-4-27-17-14-13-27-32-27-39-82-131-55-83-41-56-41-44-27-21-28-16-109-45-41-23-55-45-123-120-14-11-27-10-14 6-13 16-14 28-14 40-13 52-14 62-41 206-14 60-13 50z" fill="url(#g77)" stroke="url(#g77)"/>
<path d="M622 1863l13-51 14-60 41-210 14-63 13-53 14-42 14-29 13-18 14-7 14 4 13 8 14 13 68 72 69 68 41 37 41 33 95 66 55 48 27 30 41 55 41 63 96 154 27 41 28 29 27 15 14 2 27-3 41-14 14-8 27-28 82-136 14-19 13-14 14 4 14 10 41 47 41 13 41 21 41 32 68 63 41 34 27 19 28 8 191 34 55 5 109 15 55 13 68 10 55 15 109 5 55 11 54 17 96 6 55 13 95 31 165 2 82 8 68 1 41 4 14-2 13-7 137-73 68 28 28 2 27 8 55 28 41 5 54 15 96 40 14-3 54-29 28-10 13 9 28 26 68 79 14 8-30 19-14-9-68-89-27-29-14-11-27 13-41 27-82-52-55-23-27-5-28-1-27 3-41 12-55-23-68-49-14-1-27 17-41 39-82 62-55-6-82 1-68-7-150-5-151-45-41-6-68-2-55-16-54-10-96-3-96-27-41-6-54-3-69-14-123-33-232-42-14-4-14-12-82-76-41-34-27-17-41-15-27-27-14-7-14-3-13 2-14 7-14 11-27 30-41 57-27 33-28 21-13 4-14-5-27-19-41-46-28-37-95-149-55-81-41-54-27-29-28-22-27-16-27-10-96-27-41-20-41-31-123-115-27-20-28-12-13 5-14 13-14 24-13 36-14 48-14 58-41 196-13 58-14 49z" fill="url(#g78)" stroke="url(#g78)"/>
<path d="M607 1869l13-50 14-60 41-206 14-62 13-52 14-40 14-28 13-16 14-6 27 10 14 11 123 120 55 45 41 23 109 45 28 16 27 21 41 44 41 56 55 83 82 131 27 39 27 32 14 13 27 17 28 4 13-6 14-11 27-30 96-124 14-12 13 3 14 9 55 51 41 16 41 24 109 87 27 20 41 9 274 51 177 27 110 29 54-1 41 2 55 11 55 17 95 6 55 13 96 31 164 5 82 8 54-1 69 4 95-64 28-22 27-15 14 2 54 37 41 9 41 19 41-4 28 1 54 13 41 17 69 38 13-3 41-25 28-12 13 10 28 28 68 86 14 8-30 20-13-9-69-88-27-30-14-10-13 5-41 25-14 3-82-55-27-12-28-9-27-4-28 0-68 15-14-2-41-18-41-34-27-19-14 2-27 18-55 54-41 34-27 19-55-6-82 0-218-14-123-37-41-10-96-6-55-16-41-7-95-4-123-30-123-11-96-35-55-15-246-47-27-21-82-81-41-32-27-14-41-11-28-13-13-3-14 2-14 6-27 24-68 88-28 29-13 10-14 3-14-2-27-13-14-11-27-29-41-57-82-130-55-82-41-55-41-43-27-20-27-15-96-35-41-20-41-29-96-89-41-34-27-17-27-7-14 5-14 15-13 25-14 38-14 50-13 62-41 204-14 59-14 48z" fill="url(#g79)" stroke="url(#g79)"/>
<path d="M592 1851l14-49 13-58 41-196 14-58 14-48 13-36 14-24 14-13 13-5 28 12 27 20 123 115 41 31 41 20 96 27 27 10 27 16 28 22 27 29 41 54 55 81 95 149 28 37 41 46 27 19 14 5 13-4 28-21 27-33 41-57 27-30 14-11 14-7 13-2 14 3 14 7 27 27 41 15 27 17 41 34 82 76 14 12 14 4 232 42 123 33 69 14 54 3 41 6 96 27 96 3 54 10 55 16 68 2 41 6 151 45 150 5 68 7 82-1 55 6 82-62 41-39 27-17 14 1 68 49 55 23 41-12 27-3 28 1 27 5 55 23 82 52 41-27 27-13 14 11 27 29 68 89 14 9-30 20-13-8-69-85-27-28-14-10-13 5-41 23-14 4-82-52-55-20-27-4-27 0-69 13-13-3-41-21-41-33-28-19-13 4-28 18-27 25-27 30-55 44-14 7-54-7-96-1-164-12-205-49-96-7-54-15-55-9-82-2-123-36-123-16-164-49-246-49-82-74-41-34-27-17-41-16-28-27-13-10-14-5-14 2-13 16-69 100-27 32-28 26-41 15-27 1-14-3-27-17-27-30-28-40-82-131-54-83-41-54-28-31-27-24-27-20-110-63-41-29-41-36-82-78-41-33-27-16-27-7-14 6-14 15-13 27-14 38-14 52-13 61-41 205-14 58-14 47z" fill="url(#g80)" stroke="url(#g80)"/>
<path d="M577 1892l14-48 14-59 41-204 13-62 14-50 14-38 13-25 14-15 14-5 27 7 27 17 41 34 96 89 41 29 41 20 96 35 27 15 27 20 41 43 41 55 55 82 82 130 41 57 27 29 14 11 27 13 14 2 14-3 13-10 28-29 68-88 27-24 14-6 14-2 13 3 28 13 41 11 27 14 41 32 82 81 27 21 246 47 55 15 96 35 123 11 123 30 95 4 41 7 55 16 96 6 41 10 123 37 218 14 82 0 55 6 27-19 41-34 55-54 27-18 14-2 27 19 41 34 41 18 14 2 68-15 28 0 27 4 28 9 27 12 82 55 14-3 41-25 13-5 14 10 27 30 69 88 13 9-29 19-14-7-82-91-27-21-55 25-14 1-54-37-41-17-28-4-68-1-55 6-13-1-41-18-55-41-27-17-14 5-27 17-69 62-41 30-13 4-69-8-82-2-136-12-137-36-69-14-54-6-82-3-69-16-82-9-164-42-95-14-69-20-273-59-68-29-55-15-14-10-54-42-110-124-13-12-14-6-14 3-13 19-69 124-27 43-14 19-54 25-28 9-27 3-14-2-27-16-27-31-151-234-41-56-41-45-41-37-123-97-123-118-41-36-27-19-41-15-14 5-13 13-14 24-14 37-13 48-14 58-41 193-14 56-13 46z" fill="url(#g81)" stroke="url(#g81)"/>
<path d="M562 1911l14-47 14-58 41-205 13-61 14-52 14-38 13-27 14-15 14-6 27 7 27 16 41 33 82 78 41 36 41 29 110 63 27 20 27 24 28 31 41 54 54 83 82 131 28 40 27 30 27 17 14 3 27-1 41-15 28-26 27-32 69-100 13-16 14-2 14 5 13 10 28 27 41 16 27 17 41 34 82 74 246 49 164 49 123 16 123 36 82 2 55 9 54 15 96 7 205 49 164 12 96 1 54 7 14-7 55-44 27-30 27-25 28-18 13-4 28 19 41 33 41 21 13 3 69-13 27 0 27 4 55 20 82 52 14-4 41-23 13-5 14 10 27 28 69 85 13 8-29 19-14-8-41-46-27-26-14-11-27-13-55 20-82-50-27-9-28-4-41 4-68 21-68-28-55-38-27-13-41 18-69 55-27 18-14 8-13 1-110-10-82-12-95-6-151-45-68-13-55-5-95 2-14-2-55-11-109-30-150-28-55-6-82-22-55-7-136-30-14-3-68-44-41-22-41-14-55-7-14-11-41-46-95-120-14-13-14-6-13 2-14 22-68 141-28 48-13 21-82 36-28 7-27-3-14-7-13-11-28-32-136-212-41-56-41-49-55-52-109-95-110-107-41-37-41-30-14-7-27-6-14 6-13 15-14 26-14 39-13 50-14 60-27 134-14 63-14 56-13 45z" fill="url(#g82)" stroke="url(#g82)"/>
<path d="M548 1894l13-46 14-56 41-193 14-58 13-48 14-37 14-24 13-13 14-5 41 15 27 19 41 36 123 118 123 97 41 37 41 45 41 56 151 234 27 31 27 16 14 2 27-3 28-9 54-25 14-19 27-43 69-124 13-19 14-3 14 6 13 12 110 124 54 42 14 10 55 15 68 29 273 59 69 20 95 14 164 42 82 9 69 16 82 3 54 6 69 14 137 36 136 12 82 2 69 8 13-4 41-30 69-62 27-17 14-5 27 17 55 41 41 18 13 1 55-6 68 1 28 4 41 17 54 37 14-1 55-25 27 21 82 91 14 7-30 20-14-7-54-56-28-21-13-7-14-5-41 18-14 2-68-41-27-12-28-6-41 1-82 22-13-1-96-51-27-11-14-1-41 15-68 44-28 15-13 6-14 0-68-8-110-20-109-6-150-47-69-14-54-4-123 4-151-43-123-18-82-5-96-21-54-22-41-12-82-10-82-56-41-24-41-13-69-7-41-46-95-121-14-12-14-7-13 2-14 22-68 138-28 48-13 21-55 25-55 21-27 5-27-1-28-13-13-11-28-31-27-39-96-149-41-59-54-71-82-96-96-105-68-69-55-45-27-15-14-3-14-1-13 7-14 17-14 28-13 40-14 53-14 62-27 137-14 65-13 56-14 44z" fill="url(#g83)" stroke="url(#g83)"/>
<path d="M533 1924l13-45 14-56 14-63 27-134 14-60 13-50 14-39 14-26 13-15 14-6 27 6 14 7 41 30 41 37 110 107 109 95 55 52 41 49 41 56 136 212 28 32 13 11 14 7 27 3 28-7 82-36 13-21 28-48 68-141 14-22 13-2 14 6 14 13 95 120 41 46 14 11 55 7 41 14 41 22 68 44 14 3 136 30 55 7 82 22 55 6 150 28 109 30 55 11 14 2 95-2 55 5 68 13 151 45 95 6 82 12 110 10 13-1 14-8 27-18 69-55 41-18 27 13 55 38 68 28 68-21 41-4 28 4 27 9 82 50 55-20 27 13 14 11 27 26 41 46 14 8-30 21-13-6-55-45-41-24-14-4-41 13-13-3-82-42-55-14-41-1-55 10-14-3-68-41-68-34-14 2-14 8-95 73-41 20-41-6-137-28-137-10-123-39-68-15-68-5-123 4-110-32-54-12-55-7-123-8-68-11-137-55-41-8-55-1-82-52-41-20-41-11-54-4-14-11-27-29-96-115-14-13-13-6-14 2-14 19-68 124-27 44-14 18-82 37-55 16-54 1-82-13-28-12-13-10-14-13-27-36-41-72-96-196-41-79-41-70-41-59-55-63-54-51-41-29-14-7-27-6-14 6-14 15-13 27-14 38-14 50-13 60-28 130-13 62-14 54-14 44z" fill="url(#g84)" stroke="url(#g84)"/>
<path d="M518 1954l14-44 13-56 14-65 27-137 14-62 14-53 13-40 14-28 14-17 13-7 14 1 14 3 27 15 55 45 68 69 96 105 82 96 54 71 41 59 96 149 27 39 28 31 13 11 28 13 27 1 27-5 55-21 55-25 13-21 28-48 68-138 14-22 13-2 14 7 14 12 95 121 41 46 69 7 41 13 41 24 82 56 82 10 41 12 54 22 96 21 82 5 123 18 151 43 123-4 54 4 69 14 150 47 109 6 110 20 68 8 14 0 13-6 28-15 68-44 41-15 14 1 27 11 96 51 13 1 82-22 41-1 28 6 27 12 68 41 14-2 41-18 14 5 13 7 28 21 54 56 14 7-30 23-13-5-69-41-27-11-14-4-41 4-95-41-55-17-41-5-41 0-96-66-41-20-27-9-14 7-27 20-82 75-41 23-137-32-95-17-55-6-55 2-95-29-69-15-68-5-123 3-96-26-54-12-82-10-69-5-54-15-55-9-41-14-68-31-28-10-41-7-68 4-14-5-54-30-41-19-41-11-55-9-14-8-27-26-96-102-13-11-14-6-14 2-13 16-69 102-41 52-68 31-55 18-41 5-137-14-54-11-28-15-13-14-14-18-14-25-13-29-14-34-68-191-28-70-27-62-14-27-27-47-41-54-27-29-41-38-41-29-14-7-27-5-14 7-14 16-13 28-14 40-14 51-13 61-28 133-13 62-14 54-14 43z" fill="url(#g85)" stroke="url(#g85)"/>
<path d="M503 1936l14-44 14-54 13-62 28-130 13-60 14-50 14-38 13-27 14-15 14-6 27 6 14 7 41 29 54 51 55 63 41 59 41 70 41 79 96 196 41 72 27 36 14 13 13 10 28 12 82 13 54-1 55-16 82-37 14-18 27-44 68-124 14-19 14-2 13 6 14 13 96 115 27 29 14 11 54 4 41 11 41 20 82 52 55 1 41 8 137 55 68 11 123 8 55 7 54 12 110 32 123-4 68 5 68 15 123 39 137 10 137 28 41 6 41-20 95-73 14-8 14-2 68 34 68 41 14 3 55-10 41 1 55 14 82 42 13 3 41-13 14 4 41 24 55 45 13 6-29 23-123-50-41 2-123-47-82-21-14-7-68-56-41-28-41-20-28-9-41 32-82 85-27 22-14 6-150-35-55-19-41-8-54-2-69 6-82-22-55-11-68-6-123-1-164-37-123-14-82-29-82-17-96-39-177-22-110-34-13-7-41-33-110-96-13-9-14-3-14 3-13 14-69 89-41 44-82 35-54 16-41 2-55-11-27-14-14-11-27-32-28-41-95-163-69-111-68-102-55-73-54-65-55-55-41-32-27-10-14 1-14 9-13 19-14 30-14 44-13 55-14 65-27 141-14 65-14 55-13 44z" fill="url(#g86)" stroke="url(#g86)"/>
<path d="M488 1953l14-43 14-54 13-62 28-133 13-61 14-51 14-40 13-28 14-16 14-7 27 5 14 7 41 29 41 38 27 29 41 54 27 47 14 27 27 62 28 70 68 191 14 34 13 29 14 25 14 18 13 14 28 15 54 11 137 14 41-5 55-18 68-31 41-52 69-102 13-16 14-2 14 6 13 11 96 102 27 26 14 8 55 9 41 11 41 19 54 30 14 5 68-4 41 7 28 10 68 31 41 14 55 9 54 15 69 5 82 10 54 12 96 26 123-3 68 5 69 15 95 29 55-2 55 6 95 17 137 32 41-23 82-75 27-20 14-7 27 9 41 20 96 66 41 0 41 5 55 17 95 41 41-4 14 4 27 11 69 41 13 5-29 22-123-41-41-1-14-4-178-62-82-72-41-31-41-23-41-12-13 8-28 23-82 91-27 24-14 6-13-1-110-27-82-32-41-10-41-2-82 9-82-9-95-15-137-8-191-39-96-11-14-4-68-36-41-13-68-7-69-22-82-18-136-15-55-17-27-17-41-32-123-110-14-8-14-3-13 3-14 16-68 99-41 47-82 33-55 14-55 1-54-11-28-13-13-11-14-14-27-37-28-45-95-169-55-91-68-105-55-74-55-66-55-54-27-21-14-7-27-6-14 8-13 18-14 29-14 41-13 53-14 62-27 135-14 62-14 54-13 42z" fill="url(#g87)" stroke="url(#g87)"/>
<path d="M474 1995l13-44 14-55 14-65 27-141 14-65 13-55 14-44 14-30 13-19 14-9 14-1 27 10 41 32 55 55 54 65 55 73 68 102 69 111 95 163 28 41 27 32 14 11 27 14 55 11 41-2 54-16 82-35 41-44 69-89 13-14 14-3 14 3 13 9 110 96 41 33 13 7 110 34 177 22 96 39 82 17 82 29 123 14 164 37 123 1 68 6 55 11 82 22 69-6 54 2 41 8 55 19 150 35 14-6 27-22 82-85 41-32 28 9 41 20 41 28 68 56 14 7 82 21 123 47 41-2 123 50-30 21-41-11-82-30-96-10-109-38-27-21-69-60-41-33-41-25-41-18-13-4-14 8-27 23-69 78-27 28-14 11-27 5-14-1-68-17-96-39-54-15-41-2-69 10-68-8-96-2-164-17-191-42-82-11-41-15-55-31-41-14-41-5-55-2-82-17-95-8-164-57-55-44-96-87-27-19-14-3-13 3-14 17-68 101-41 51-82 30-55 12-55 1-68-12-27-12-14-11-14-13-27-36-27-46-96-175-55-94-68-108-55-76-54-66-41-41-28-22-13-7-28-6-13 8-14 17-14 29-13 42-14 53-14 62-27 134-14 61-13 53-14 42z" fill="url(#g88)" stroke="url(#g88)"/>
<path d="M459 1976l13-42 14-54 14-62 27-135 14-62 13-53 14-41 14-29 13-18 14-8 27 6 14 7 27 21 55 54 55 66 55 74 68 105 55 91 95 169 28 45 27 37 14 14 13 11 28 13 54 11 55-1 55-14 82-33 41-47 68-99 14-16 13-3 14 3 14 8 123 110 41 32 27 17 55 17 136 15 82 18 69 22 68 7 41 13 68 36 14 4 96 11 191 39 137 8 95 15 82 9 82-9 41 2 41 10 82 32 110 27 13 1 14-6 27-24 82-91 28-23 13-8 41 12 41 23 41 31 82 72 178 62 14 4 41 1 123 41-30 19-41-13-82-37-136-10-41-9-41-25-110-88-27-18-41-21-28-21-13-2-28 17-27 26-68 74-28 25-41 3-13 0-55-14-96-40-54-15-41-1-55 7-82-11-164 1-82-9-191-42-96-15-96-49-27-10-41-7-82 0-109-13-151-53-68-21-55-34-95-85-41-27-14-1-14 15-68 104-27 37-14 16-82 27-55 12-54-1-82-12-28-11-13-10-14-13-27-36-28-47-95-182-55-99-55-90-54-81-55-69-41-44-27-23-14-7-14-3-13 0-14 10-14 20-13 32-14 46-14 57-13 67-28 142-13 64-14 54-14 43z" fill="url(#g89)" stroke="url(#g89)"/>
<path d="M444 1982l14-42 13-53 14-61 27-134 14-62 14-53 13-42 14-29 14-17 13-8 28 6 13 7 28 22 41 41 54 66 55 76 68 108 55 94 96 175 27 46 27 36 14 13 14 11 27 12 68 12 55-1 55-12 82-30 41-51 68-101 14-17 13-3 14 3 27 19 96 87 55 44 164 57 95 8 82 17 55 2 41 5 41 14 55 31 41 15 82 11 191 42 164 17 96 2 68 8 69-10 41 2 54 15 96 39 68 17 14 1 27-5 14-11 27-28 69-78 27-23 14-8 13 4 41 18 41 25 41 33 69 60 27 21 109 38 96 10 82 30 41 11-30 19-41-16-82-45-41-4-109 0-41-6-41-25-96-68-41-24-54-43-14 0-14 6-27 19-82 80-27 22-55 4-55-11-95-37-55-14-27-2-55 2-55-11-41-3-136 5-69-1-123-26-191-34-109-51-41-13-41-3-82 4-55-6-55-16-136-51-69-20-54-34-41-22-55-45-27-26-14-8-14-2-13 14-69 98-41 51-82 25-55 10-54-1-96-13-27-11-14-9-14-12-27-36-27-47-96-189-55-101-54-93-55-82-41-54-41-46-27-23-14-8-14-3-13-2-14 9-14 20-13 31-14 45-14 56-13 65-28 138-13 62-14 53-14 42z" fill="url(#g90)" stroke="url(#g90)"/>
<path d="M429 2023l14-43 14-54 13-64 28-142 13-67 14-57 14-46 13-32 14-20 14-10 13 0 14 3 14 7 27 23 41 44 55 69 54 81 55 90 55 99 95 182 28 47 27 36 14 13 13 10 28 11 82 12 54 1 55-12 82-27 14-16 27-37 68-104 14-15 14 1 41 27 95 85 55 34 68 21 151 53 109 13 82 0 41 7 27 10 96 49 96 15 191 42 82 9 164-1 82 11 55-7 41 1 54 15 96 40 55 14 13 0 41-3 28-25 68-74 27-26 28-17 13 2 28 21 41 21 27 18 110 88 41 25 41 9 136 10 82 37 41 13-29 20-14-4-27-15-82-55-41-3-110 8-54-2-137-80-55-45-27-18-27 6-28 16-82 68-27 18-55 5-13 1-41-8-123-39-41-7-41-1-83-19-54-4-123 7-69-1-164-35-150-21-55-22-54-29-28-7-54-2-69 6-109-18-137-48-82-22-68-38-55-22-13-8-41-34-14-6-14-1-13 10-69 76-41 39-82 20-68 8-109-10-55-11-27-14-14-12-14-15-27-42-27-52-69-141-54-107-55-98-55-87-54-74-41-44-28-19-27-7-14 9-13 19-14 31-14 43-13 55-14 63-27 134-14 61-14 51-13 41z" fill="url(#g91)" stroke="url(#g91)"/>
<path d="M414 2017l14-42 14-53 13-62 28-138 13-65 14-56 14-45 13-31 14-20 14-9 13 2 14 3 14 8 27 23 41 46 41 54 55 82 54 93 55 101 96 189 27 47 27 36 14 12 14 9 27 11 96 13 54 1 55-10 82-25 41-51 69-98 13-14 14 2 14 8 27 26 55 45 41 22 54 34 69 20 136 51 55 16 55 6 82-4 41 3 41 13 109 51 191 34 123 26 69 1 136-5 41 3 55 11 55-2 27 2 55 14 95 37 55 11 55-4 27-22 82-80 27-19 14-6 14 0 54 43 41 24 96 68 41 25 41 6 109 0 41 4 82 45 41 16-19 12-13-4-28-14-82-58-54-3-123 11-28-1-13-5-110-61-54-44-41-27-28 6-27 14-82 64-27 17-55 5-27-1-28-5-123-37-68-8-96-22-54-4-124 7-68-1-164-36-82-13-68-6-55-22-55-28-27-7-41-2-82 7-109-18-137-46-82-21-68-36-69-26-27-22-27-15-14-1-14 9-68 68-41 35-82 19-68 8-96-9-68-11-28-12-13-11-14-13-27-39-28-51-82-171-54-108-55-97-55-86-41-55-41-45-27-19-27-6-14 9-14 20-13 31-14 45-14 56-13 64-28 136-13 61-14 52-14 41z" fill="url(#g92)" stroke="url(#g92)"/>
<path d="M400 2011l13-41 14-51 14-61 27-134 14-63 13-55 14-43 14-31 13-19 14-9 27 7 28 19 41 44 54 74 55 87 55 98 54 107 69 141 27 52 27 42 14 15 14 12 27 14 55 11 109 10 68-8 82-20 41-39 69-76 13-10 14 1 14 6 41 34 13 8 55 22 68 38 82 22 137 48 109 18 69-6 54 2 28 7 54 29 55 22 150 21 164 35 69 1 123-7 54 4 83 19 41 1 41 7 123 39 41 8 13-1 55-5 27-18 82-68 28-16 27-6 27 18 55 45 137 80 54 2 110-8 41 3 82 55 27 15 14 4-9 5-14-4-27-15-82-59-55-3-95 12-55 0-41-15-68-36-69-53-41-26-27 6-27 13-82 60-28 15-54 5-55-6-109-31-82-12-55-16-41-7-55-4-123 6-68-1-164-36-82-12-69-6-54-21-55-27-27-7-41-2-82 8-28-2-82-15-136-44-82-20-69-34-68-24-27-19-28-13-13-1-14 8-68 60-41 30-41 9-69 12-54 2-123-13-41-10-28-15-13-12-14-16-27-43-28-54-82-173-41-81-54-100-41-67-41-59-41-50-28-25-27-14-14 1-13 9-14 21-14 32-13 46-14 57-14 65-27 138-14 62-13 52-14 41z" fill="url(#g93)" stroke="url(#g93)"/>
<path d="M395 2023l14-41 14-52 13-61 28-136 13-64 14-56 14-45 13-31 14-20 14-9 27 6 27 19 41 45 41 55 55 86 55 97 54 108 82 171 28 51 27 39 14 13 13 11 28 12 68 11 96 9 68-8 82-19 41-35 68-68 14-9 14 1 27 15 27 22 69 26 68 36 82 21 137 46 109 18 82-7 41 2 27 7 55 28 55 22 68 6 82 13 164 36 68 1 124-7 54 4 96 22 68 8 123 37 28 5 27 1 55-5 27-17 82-64 27-14 28-6 41 27 54 44 110 61 13 5 28 1 123-11 54 3 82 58 28 14 13 4-8 6-14-4-27-16-82-60-55-3-96 14-41 2-82-26-41-22-68-50-41-24-27 5-28 11-95 63-14 5-55 5-54-5-110-29-68-10-68-20-41-7-55-4-123 6-68-2-164-36-83-12-68-5-55-19-54-27-28-7-41-1-82 9-41-4-54-9-151-45-82-20-68-31-68-23-41-22-14-5-14-1-13 7-69 51-41 26-41 8-68 10-55 2-123-13-41-8-27-13-14-11-13-14-28-41-27-52-82-176-55-110-54-99-41-65-41-58-28-32-27-26-27-14-14 2-14 10-13 21-14 33-14 46-13 59-14 66-27 140-14 62-14 53-13 41z" fill="url(#g94)" stroke="url(#g94)"/>
<path d="M391 2035l14-41 13-52 14-62 27-138 14-65 14-57 13-46 14-32 14-21 13-9 14-1 27 14 28 25 41 50 41 59 41 67 54 100 41 81 82 173 28 54 27 43 14 16 13 12 28 15 41 10 123 13 54-2 69-12 41-9 41-30 68-60 14-8 13 1 28 13 27 19 68 24 69 34 82 20 136 44 82 15 28 2 82-8 41 2 27 7 55 27 54 21 69 6 82 12 164 36 68 1 123-6 55 4 41 7 55 16 82 12 109 31 55 6 54-5 28-15 82-60 27-13 27-6 41 26 69 53 68 36 41 15 55 0 95-12 55 3 82 59 27 15 14 4-9 6-13-4-28-16-82-61-54-3-96 15-41 3-109-35-82-56-41-22-28 3-27 10-96 57-13 5-41 4-69-4-287-65-54-4-178 4-178-37-82-11-68-5-55-18-55-26-27-6-41-2-96 9-68-9-164-45-82-19-68-29-55-18-41-18-27-8-14 0-14 5-68 43-41 22-55 9-68 7-41 0-164-21-27-10-14-10-14-13-27-37-27-51-82-178-55-112-55-101-41-67-41-58-27-34-27-26-28-14-13 2-14 11-14 22-13 34-14 47-14 60-41 209-13 63-14 53-14 41z" fill="url(#g95)" stroke="url(#g95)"/>
<path d="M387 2047l13-41 14-53 14-62 27-140 14-66 13-59 14-46 14-33 13-21 14-10 14-2 27 14 27 26 28 32 41 58 41 65 54 99 55 110 82 176 27 52 28 41 13 14 14 11 27 13 41 8 123 13 55-2 68-10 41-8 41-26 69-51 13-7 14 1 14 5 41 22 68 23 68 31 82 20 151 45 54 9 41 4 82-9 41 1 28 7 54 27 55 19 68 5 83 12 164 36 68 2 123-6 55 4 41 7 68 20 68 10 110 29 54 5 55-5 14-5 95-63 28-11 27-5 41 24 68 50 41 22 82 26 41-2 96-14 55 3 82 60 27 16 14 4-9 6-14-4-27-16-82-61-55-3-95 16-41 3-110-36-13-7-82-56-28-14-27 4-27 10-96 57-14 4-41 3-68-4-164-33-68-20-55-10-55-4-177 3-192-39-136-13-55-17-55-24-27-6-41-2-82 8-55-2-273-66-110-39-54-25-28-7-13 1-123 61-69 9-54 5-41-1-137-15-41-9-27-13-14-11-14-15-27-42-27-55-82-180-41-85-55-104-41-68-41-60-27-34-28-27-27-13-14 2-13 11-14 22-14 35-13 48-14 60-41 211-14 63-13 54-14 40z" fill="url(#g96)" stroke="url(#g96)"/>
<path d="M382 2059l14-41 14-53 13-63 41-209 14-60 14-47 13-34 14-22 14-11 13-2 28 14 27 26 27 34 41 58 41 67 55 101 55 112 82 178 27 51 27 37 14 13 14 10 27 10 164 21 41 0 68-7 55-9 41-22 68-43 14-5 14 0 27 8 41 18 55 18 68 29 82 19 164 45 68 9 96-9 41 2 27 6 55 26 55 18 68 5 82 11 178 37 178-4 54 4 287 65 69 4 41-4 13-5 96-57 27-10 28-3 41 22 82 56 109 35 41-3 96-15 54 3 82 61 28 16 13 4-8 6-14-4-27-16-82-60-55-3-109 17-28 1-123-42-82-55-27-13-27 4-28 10-95 56-14 3-41 2-82-5-137-27-82-22-54-11-55-4-178 2-191-39-150-14-96-36-27-5-41-3-96 5-55-3-260-58-95-32-69-31-27-7-14 1-123 55-68 7-96 2-136-15-41-8-28-11-13-10-14-13-14-18-13-21-28-53-82-183-41-87-54-106-41-70-41-61-28-35-27-26-27-15-14 2-14 10-13 22-14 34-14 48-13 59-41 208-14 63-14 52-13 41z" fill="url(#g97)" stroke="url(#g97)"/>
<path d="M378 2067l14-40 13-54 14-63 41-211 14-60 13-48 14-35 14-22 13-11 14-2 27 13 28 27 27 34 41 60 41 68 55 104 41 85 82 180 27 55 27 42 14 15 14 11 27 13 41 9 137 15 41 1 54-5 69-9 123-61 13-1 28 7 54 25 110 39 273 66 55 2 82-8 41 2 27 6 55 24 55 17 136 13 192 39 177-3 55 4 55 10 68 20 164 33 68 4 41-3 14-4 96-57 27-10 27-4 28 14 82 56 13 7 110 36 41-3 95-16 55 3 82 61 27 16 14 4-9 6-13-4-28-16-82-59-54-2-110 17-13 1-14-3-123-41-14-7-68-44-27-13-28 4-27 9-96 54-13 4-28 1-95-6-123-22-96-25-55-10-54-4-178-1-191-37-151-14-95-32-28-6-41-3-109 3-68-7-233-49-82-26-82-34-27-6-14 0-27 9-96 38-68 6-55 2-55-3-136-16-41-9-28-14-13-11-14-16-27-44-28-57-68-155-41-89-55-108-41-72-41-63-27-35-27-27-28-16-13 2-14 10-14 21-13 34-14 47-14 58-41 206-13 61-14 52-14 41z" fill="url(#g98)" stroke="url(#g98)"/>
<path d="M374 2062l13-41 14-52 14-63 41-208 13-59 14-48 14-34 13-22 14-10 14-2 27 15 27 26 28 35 41 61 41 70 54 106 41 87 82 183 28 53 13 21 14 18 14 13 13 10 28 11 41 8 136 15 96-2 68-7 123-55 14-1 27 7 69 31 95 32 260 58 55 3 96-5 41 3 27 5 96 36 150 14 191 39 178-2 55 4 54 11 82 22 137 27 82 5 41-2 14-3 95-56 28-10 27-4 27 13 82 55 123 42 28-1 109-17 55 3 82 60 27 16 14 4-9 6-14-4-27-15-82-57-55-3-123 18-150-50-68-43-28-12-27 4-27 9-96 52-27 3-123-7-96-17-109-27-55-10-55-4-177-3-192-35-150-14-96-30-27-5-150-4-69-5-259-52-41-13-96-36-27-6-14 0-28 7-95 32-69 3-95-1-151-17-41-8-27-11-14-11-13-14-14-18-14-23-27-55-82-188-41-89-41-82-27-50-41-67-41-56-28-28-27-16-14 1-13 10-14 20-14 34-13 46-14 57-41 203-14 61-13 51-14 40z" fill="url(#g99)" stroke="url(#g99)"/>
<path d="M369 2057l14-41 14-52 13-61 41-206 14-58 14-47 13-34 14-21 14-10 13-2 28 16 27 27 27 35 41 63 41 72 55 108 41 89 68 155 28 57 27 44 14 16 13 11 28 14 41 9 136 16 55 3 55-2 68-6 96-38 27-9 14 0 27 6 82 34 82 26 233 49 68 7 109-3 41 3 28 6 95 32 151 14 191 37 178 1 54 4 55 10 96 25 123 22 95 6 28-1 13-4 96-54 27-9 28-4 27 13 68 44 14 7 123 41 14 3 13-1 110-17 54 2 82 59 28 16 13 4-8 6-14-4-27-14-82-55-55-3-123 15-96-34-54-15-69-39-27-11-27 3-28 10-95 48-28 2-136-9-69-12-123-29-54-9-55-5-178-4-191-34-150-13-96-28-27-5-219-11-273-51-110-37-41-10-13 0-28 6-95 24-83 2-95-4-151-18-41-9-27-13-14-12-13-15-14-20-14-23-27-54-82-180-55-114-41-82-41-77-27-48-27-39-14-15-27-19-14 2-14 12-13 22-14 36-14 48-13 58-41 199-14 59-14 49-13 38z" fill="url(#g100)" stroke="url(#g100)"/>
<path d="M365 2051l14-40 13-51 14-61 41-203 14-57 13-46 14-34 14-20 13-10 14-1 27 16 28 28 41 56 41 67 27 50 41 82 41 89 82 188 27 55 14 23 14 18 13 14 14 11 27 11 41 8 151 17 95 1 69-3 95-32 28-7 14 0 27 6 96 36 41 13 259 52 69 5 150 4 27 5 96 30 150 14 192 35 177 3 55 4 55 10 109 27 96 17 123 7 27-3 96-52 27-9 27-4 28 12 68 43 150 50 123-18 55 3 82 57 27 15 14 4-9 6-13-4-28-13-82-53-54-3-110 14-13-1-96-34-68-18-55-31-27-11-28 4-27 8-96 45-13 2-151-11-54-8-123-27-69-12-54-5-178-6-191-33-151-13-123-30-218-13-274-48-109-32-41-9-14-1-123 23-82-1-82-4-205-26-27-11-28-22-13-16-28-43-27-53-109-226-123-271-28-49-13-18-28-21-13 2-14 15-14 26-13 40-14 51-14 61-41 199-13 57-14 48-14 37z" fill="url(#g101)" stroke="url(#g101)"/>
<path d="M361 2048l13-38 14-49 14-59 41-199 13-58 14-48 14-36 13-22 14-12 14-2 27 19 14 15 27 39 27 48 41 77 41 82 55 114 82 180 27 54 14 23 14 20 13 15 14 12 27 13 41 9 151 18 95 4 83-2 95-24 28-6 13 0 41 10 110 37 273 51 219 11 27 5 96 28 150 13 191 34 178 4 55 5 54 9 123 29 69 12 136 9 28-2 95-48 28-10 27-3 27 11 69 39 54 15 96 34 123-15 55 3 82 55 27 14 14 4-9 6-41-17-82-48-55-4-109 12-123-40-55-12-68-34-14-3-27 3-27 8-96 40-178-12-232-43-232-13-192-32-150-13-123-27-219-16-109-20-82-34-41-10-27-1-69 7-68-18-41-5-123 15-123-5-205-22-55-10-27-13-28-24-13-17-28-44-68-132-41-84-27-60-28-63-68-176-27-65-14-26-14-22-13-14-14-9-14 4-13 18-14 31-14 44-13 56-14 64-27 140-14 65-14 58-13 48-14 37z" fill="url(#g102)" stroke="url(#g102)"/>
<path d="M356 2047l14-37 14-48 13-57 41-199 14-61 14-51 13-40 14-26 14-15 13-2 28 21 13 18 28 49 123 271 109 226 27 53 28 43 13 16 28 22 27 11 205 26 82 4 82 1 123-23 14 1 41 9 109 32 274 48 218 13 123 30 151 13 191 33 178 6 54 5 69 12 123 27 54 8 151 11 13-2 96-45 27-8 28-4 27 11 55 31 68 18 96 34 13 1 110-14 54 3 82 53 28 13 13 4-8 6-41-15-82-46-55-3-109 9-110-37-82-18-54-26-14-3-27 3-28 7-95 36-192-15-218-39-233-15-191-30-150-15-123-24-192-15-82-11-54-24-82-48-41-13-41 2-82 28-14 0-68-11-123 8-137-8-205-23-55-11-27-15-27-26-28-40-54-99-55-110-41-94-28-72-54-161-28-74-13-30-14-24-14-16-13-9-14 6-14 20-13 36-14 49-14 61-13 69-28 146-13 68-14 59-14 48-13 37z" fill="url(#g103)" stroke="url(#g103)"/>
<path d="M352 2057l14-37 13-48 14-58 14-65 27-140 14-64 13-56 14-44 14-31 13-18 14-4 14 9 13 14 14 22 14 26 27 65 68 176 28 63 27 60 41 84 68 132 28 44 13 17 28 24 27 13 55 10 205 22 123 5 123-15 41 5 68 18 69-7 27 1 41 10 82 34 109 20 219 16 123 27 150 13 192 32 232 13 232 43 178 12 96-40 27-8 27-3 14 3 68 34 55 12 123 40 109-12 55 4 82 48 41 17-9 6-41-14-82-42-54-4-110 6-109-35-82-16-55-24-13-2-55 8-96 31-191-15-219-38-232-16-191-29-151-15-123-23-232-20-41-13-27-14-28-18-82-63-27-13-14-3-13-1-28 6-82 43-41 15-41-6-123 3-95-7-246-27-55-10-27-12-14-9-27-29-14-19-27-44-55-102-41-87-27-68-14-37-27-84-55-179-14-40-13-35-14-27-14-17-14-8-13 7-14 24-14 40-13 54-14 66-41 227-14 70-13 60-14 49-14 37z" fill="url(#g104)" stroke="url(#g104)"/>
<path d="M348 2070l13-37 14-48 14-59 13-68 28-146 13-69 14-61 14-49 13-36 14-20 14-6 13 9 14 16 14 24 13 30 28 74 54 161 28 72 41 94 55 110 54 99 28 40 27 26 27 15 55 11 205 23 137 8 123-8 68 11 14 0 82-28 41-2 41 13 82 48 54 24 82 11 192 15 123 24 150 15 191 30 233 15 218 39 192 15 95-36 28-7 27-3 14 3 54 26 82 18 110 37 109-9 55 3 82 46 41 15-9 6-41-13-82-38-55-5-109 3-109-34-41-9-41-5-55-21-14-2-41 5-109 28-191-16-219-35-232-19-192-28-150-15-109-19-219-21-41-10-41-20-41-31-82-79-27-16-14-4-14 0-27 8-27 17-69 51-27 13-27 8-137-4-68-5-287-32-55-11-27-13-14-11-27-31-28-40-27-47-27-51-28-57-27-65-27-78-28-91-41-151-13-48-14-45-14-38-13-30-14-19-14-8-13 9-14 27-14 45-13 60-14 71-41 239-14 72-13 61-14 50-14 37z" fill="url(#g105)" stroke="url(#g105)"/>
<path d="M343 2082l14-37 14-49 13-60 14-70 41-227 14-66 13-54 14-40 14-24 13-7 14 8 14 17 14 27 13 35 14 40 55 179 27 84 14 37 27 68 41 87 55 102 27 44 14 19 27 29 14 9 27 12 55 10 246 27 95 7 123-3 41 6 41-15 82-43 28-6 13 1 14 3 27 13 82 63 28 18 27 14 41 13 232 20 123 23 151 15 191 29 232 16 219 38 191 15 96-31 55-8 13 2 55 24 82 16 109 35 110-6 54 4 82 42 41 14-8 6-41-12-82-35-55-4-96 2-123-35-95-16-41-15-14-1-41 3-109 23-205-18-205-32-233-20-191-27-150-16-110-17-205-22-54-15-41-23-41-38-55-66-27-30-28-19-13-4-14 0-27 11-28 22-54 53-28 21-27 15-41 9-82-1-109-11-287-32-55-12-27-16-14-11-27-32-28-41-27-47-27-53-14-29-27-68-14-39-14-43-27-99-55-220-13-49-14-42-14-32-13-21-14-8-14 11-13 31-14 49-14 65-13 77-41 251-14 74-14 62-13 50-14 38z" fill="url(#g106)" stroke="url(#g106)"/>
<path d="M339 2093l14-37 14-50 13-61 14-72 41-239 14-71 13-60 14-45 14-27 13-9 14 8 14 19 13 30 14 38 14 45 13 48 41 151 28 91 27 78 27 65 28 57 27 51 27 47 28 40 27 31 14 11 27 13 55 11 287 32 68 5 137 4 27-8 27-13 69-51 27-17 27-8 14 0 14 4 27 16 82 79 41 31 41 20 41 10 219 21 109 19 150 15 192 28 232 19 219 35 191 16 109-28 41-5 14 2 55 21 41 5 41 9 109 34 109-3 55 5 82 38 41 13-8 6-41-11-82-31-55-5-96 1-123-35-41-8-55-5-41-14-54 1-110 18-191-18-219-31-232-22-191-26-151-16-123-19-191-22-55-17-41-27-13-12-28-32-54-79-28-35-13-14-14-9-14-4-13 0-14 5-14 9-27 27-55 66-27 26-27 18-41 13-41 2-82-6-342-37-68-11-28-13-13-10-14-12-27-33-41-64-28-52-13-30-28-69-13-42-14-46-14-51-13-55-55-241-14-54-13-46-14-36-14-22-13-8-14 13-14 34-13 54-14 70-14 83-27 177-14 85-13 75-14 64-14 50-13 38z" fill="url(#g107)" stroke="url(#g107)"/>
<path d="M335 2103l14-38 13-50 14-62 14-74 41-251 13-77 14-65 14-49 13-31 14-11 14 8 13 21 14 32 14 42 13 49 55 220 27 99 14 43 14 39 27 68 14 29 27 53 27 47 28 41 27 32 14 11 27 16 55 12 287 32 109 11 82 1 41-9 27-15 28-21 54-53 28-22 27-11 14 0 13 4 28 19 27 30 55 66 41 38 41 23 54 15 205 22 110 17 150 16 191 27 233 20 205 32 205 18 109-23 41-3 14 1 41 15 95 16 123 35 96-2 55 4 82 35 41 12-9 6-41-10-82-28-54-5-96-2-123-32-41-8-55-5-41-11-55 0-109 13-205-20-205-29-232-22-342-42-314-43-28-8-27-11-27-18-14-13-14-14-27-37-55-92-27-41-14-15-13-11-14-5-14 1-13 6-14 11-27 33-55 79-27 31-28 21-41 16-41 4-82-5-355-38-68-14-28-13-13-11-14-13-27-34-28-42-13-24-28-56-13-34-14-38-14-43-13-49-14-54-14-60-13-65-41-198-14-59-14-50-13-38-14-24-14-8-13 14-14 37-14 59-13 75-14 87-27 184-14 87-14 76-13 64-14 51-14 37z" fill="url(#g108)" stroke="url(#g108)"/>
<path d="M331 2109l13-38 14-50 14-64 13-75 14-85 27-177 14-83 14-70 13-54 14-34 14-13 13 8 14 22 14 36 13 46 14 54 55 241 13 55 14 51 14 46 13 42 28 69 13 30 28 52 41 64 27 33 14 12 13 10 28 13 68 11 342 37 82 6 41-2 41-13 27-18 27-26 55-66 27-27 14-9 14-5 13 0 14 4 14 9 13 14 28 35 54 79 28 32 13 12 41 27 55 17 191 22 123 19 151 16 191 26 232 22 219 31 191 18 110-18 54-1 41 14 55 5 41 8 123 35 96-1 55 5 82 31 41 11-9 6-41-9-82-25-150-10-123-30-41-7-55-5-41-10-41-1-123 10-205-21-205-28-233-23-341-42-260-34-55-10-27-8-27-13-28-21-13-14-14-16-27-42-55-106-27-47-14-17-14-12-13-6-14 1-14 7-13 13-28 39-54 92-28 37-27 25-14 9-27 11-41 5-82-5-369-39-41-6-27-9-28-15-13-11-14-14-27-34-28-44-13-26-14-30-14-34-13-39-14-45-14-52-13-59-14-64-14-69-41-215-13-64-14-55-14-41-13-26-14-8-14 16-13 41-14 63-14 80-13 92-28 192-13 88-14 78-14 64-13 51-14 38z" fill="url(#g109)" stroke="url(#g109)"/>
<path d="M326 2107l14-37 14-51 13-64 14-76 14-87 27-184 14-87 13-75 14-59 14-37 13-14 14 8 14 24 13 38 14 50 14 59 41 198 13 65 14 60 14 54 13 49 14 43 14 38 13 34 28 56 13 24 28 42 27 34 14 13 13 11 28 13 68 14 355 38 82 5 41-4 41-16 28-21 27-31 55-79 27-33 14-11 13-6 14-1 14 5 13 11 14 15 27 41 55 92 27 37 14 14 14 13 27 18 27 11 28 8 314 43 342 42 232 22 205 29 205 20 109-13 55 0 41 11 55 5 41 8 123 32 96 2 54 5 82 28 41 10-8 6-123-31-137-9-150-33-96-11-27-6-41-2-123 5-206-21-205-27-232-24-342-42-259-35-55-10-27-9-28-14-27-23-14-16-13-19-28-47-54-119-28-53-13-20-14-13-14-6-13 1-14 8-14 15-27 45-55 106-27 42-27 29-14 10-27 13-28 5-27 1-82-5-369-39-41-7-27-9-28-16-13-12-28-30-13-19-28-48-13-30-14-34-14-41-13-47-14-55-14-62-13-69-14-74-41-233-14-69-13-59-14-44-14-27-13-9-14 18-14 45-13 68-14 85-41 297-14 90-13 79-14 65-14 51-13 38z" fill="url(#g110)" stroke="url(#g110)"/>
<path d="M322 2107l14-38 13-51 14-64 14-78 13-88 28-192 13-92 14-80 14-63 13-41 14-16 14 8 13 26 14 41 14 55 13 64 41 215 14 69 14 64 13 59 14 52 14 45 13 39 14 34 14 30 13 26 28 44 27 34 14 14 13 11 28 15 27 9 41 6 369 39 82 5 41-5 27-11 14-9 27-25 28-37 54-92 28-39 13-13 14-7 14-1 13 6 14 12 14 17 27 47 55 106 27 42 14 16 13 14 28 21 27 13 27 8 55 10 260 34 341 42 233 23 205 28 205 21 123-10 41 1 41 10 55 5 41 7 123 30 150 10 82 25 41 9-9 6-123-28-136-11-123-26-55-9-68-6-41-7-151 1-218-23-766-92-260-35-54-11-28-10-27-16-27-25-14-18-14-21-27-53-55-133-13-32-14-27-14-22-13-15-14-7-14 2-13 10-14 17-14 23-13 27-55 121-27 47-28 34-13 11-28 15-41 8-68-2-383-39-54-8-28-7-27-13-14-10-27-27-14-17-27-46-14-29-13-35-14-42-14-49-13-58-14-66-14-73-13-80-41-251-14-74-14-63-13-47-14-29-14-9-13 20-14 49-14 73-13 91-41 310-14 93-14 81-13 65-14 51-14 38z" fill="url(#g111)" stroke="url(#g111)"/>
<path d="M318 2107l13-38 14-51 14-65 13-79 14-90 41-297 14-85 13-68 14-45 14-18 13 9 14 27 14 44 13 59 14 69 41 233 14 74 13 69 14 62 14 55 13 47 14 41 14 34 13 30 28 48 13 19 28 30 13 12 28 16 27 9 41 7 369 39 82 5 27-1 28-5 27-13 14-10 27-29 27-42 55-106 27-45 14-15 14-8 13-1 14 6 14 13 13 20 28 53 54 119 28 47 13 19 14 16 27 23 28 14 27 9 55 10 259 35 342 42 232 24 205 27 206 21 123-5 41 2 27 6 96 11 150 33 137 9 123 31-9 6-123-26-137-11-177-35-69-5-41-7-150-1-219-24-765-92-246-34-69-13-27-11-27-17-28-28-13-19-14-24-27-58-14-35-41-113-14-35-13-31-14-24-14-16-13-8-14 2-14 11-13 19-14 26-14 31-54 135-28 54-13 21-14 16-14 14-27 16-41 9-82-2-383-39-54-8-28-8-27-14-14-10-27-29-14-19-13-23-14-29-14-35-13-43-14-51-14-61-13-70-14-78-14-85-41-269-13-80-14-67-14-50-13-31-14-8-14 22-13 53-14 78-14 98-27 218-14 106-13 95-14 82-14 66-13 51-14 38z" fill="url(#g112)" stroke="url(#g112)"/>
<path d="M313 2108l14-38 14-51 13-65 14-81 14-93 41-310 13-91 14-73 14-49 13-20 14 9 14 29 13 47 14 63 14 74 41 251 13 80 14 73 14 66 13 58 14 49 14 42 13 35 14 29 27 46 14 17 27 27 14 10 27 13 28 7 54 8 383 39 68 2 41-8 28-15 13-11 28-34 27-47 55-121 13-27 14-23 14-17 13-10 14-2 14 7 13 15 14 22 14 27 13 32 55 133 27 53 14 21 14 18 27 25 27 16 28 10 54 11 260 35 766 92 218 23 151-1 41 7 68 6 55 9 123 26 136 11 123 28-8 6-123-24-137-13-178-33-109-11-150-4-219-24-766-92-246-34-68-15-27-11-28-18-27-31-14-21-13-26-14-30-14-34-13-39-41-124-14-39-14-33-13-27-14-18-14-8-13 3-14 12-14 21-13 29-14 34-55 150-13 32-14 28-14 23-13 19-14 15-27 18-41 11-82-2-397-40-54-8-28-9-27-14-14-11-27-32-14-22-13-28-14-35-14-44-13-53-14-64-14-73-13-83-14-91-41-287-14-85-13-72-14-54-14-31-13-9-14 25-14 58-13 84-14 104-27 230-14 110-14 99-13 83-14 67-14 52-13 38z" fill="url(#g113)" stroke="url(#g113)"/>
<path d="M309 2110l14-38 13-51 14-66 14-82 13-95 14-106 27-218 14-98 14-78 13-53 14-22 14 8 13 31 14 50 14 67 13 80 41 269 14 85 14 78 13 70 14 61 14 51 13 43 14 35 14 29 13 23 14 19 27 29 14 10 27 14 28 8 54 8 383 39 82 2 41-9 27-16 14-14 14-16 13-21 28-54 54-135 14-31 14-26 13-19 14-11 14-2 13 8 14 16 14 24 13 31 14 35 41 113 14 35 27 58 14 24 13 19 28 28 27 17 27 11 69 13 246 34 765 92 219 24 150 1 41 7 69 5 177 35 137 11 123 26-9 6-123-23-136-13-178-32-123-12-137-5-232-26-752-90-246-35-68-15-28-12-27-20-27-33-14-23-14-28-13-33-14-38-14-41-41-137-13-42-14-37-14-29-13-19-14-9-14 3-13 14-14 23-14 32-13 38-41 126-14 39-14 35-13 31-14 26-14 20-13 16-28 21-41 13-82-2-396-39-55-8-41-11-27-16-14-12-13-16-14-21-14-27-13-35-14-45-14-55-13-66-14-77-14-88-13-96-41-306-14-91-14-76-13-57-14-33-14-8-13 28-14 62-14 91-13 111-28 242-13 115-14 101-14 85-13 69-14 52-14 37z" fill="url(#g114)" stroke="url(#g114)"/>
<path d="M305 2117l13-38 14-52 14-67 13-83 14-99 14-110 27-230 14-104 13-84 14-58 14-25 13 9 14 31 14 54 13 72 14 85 41 287 14 91 13 83 14 73 14 64 13 53 14 44 14 35 13 28 14 22 27 32 14 11 27 14 28 9 54 8 397 40 82 2 41-11 27-18 14-15 13-19 14-23 14-28 13-32 55-150 14-34 13-29 14-21 14-12 13-3 14 8 14 18 13 27 14 33 14 39 41 124 13 39 14 34 14 30 13 26 14 21 27 31 28 18 27 11 68 15 246 34 766 92 219 24 150 4 109 11 178 33 137 13 123 24-9 6-123-22-137-14-164-30-136-13-137-6-656-76-520-67-82-13-41-11-27-13-27-21-14-16-14-20-13-25-14-31-14-35-13-41-14-46-41-148-14-46-13-40-14-31-14-21-13-10-14 3-14 15-13 26-14 35-14 42-41 137-13 43-14 39-14 34-13 28-14 23-14 17-27 23-14 7-27 7-27 2-55-3-410-40-55-8-41-12-27-18-14-14-13-19-14-27-14-35-13-45-14-56-14-69-13-81-14-92-14-102-41-325-13-96-14-81-14-60-13-34-14-7-14 30-13 68-14 97-14 118-27 254-14 119-13 104-14 87-14 69-13 52-14 38z" fill="url(#g115)" stroke="url(#g115)"/>
<path d="M300 2124l14-37 14-52 13-69 14-85 14-101 13-115 28-242 13-111 14-91 14-62 13-28 14 8 14 33 13 57 14 76 14 91 41 306 13 96 14 88 14 77 13 66 14 55 14 45 13 35 14 27 14 21 13 16 14 12 27 16 41 11 55 8 396 39 82 2 41-13 28-21 13-16 14-20 14-26 13-31 14-35 14-39 41-126 13-38 14-32 14-23 13-14 14-3 14 9 13 19 14 29 14 37 13 42 41 137 14 41 14 38 13 33 14 28 14 23 27 33 27 20 28 12 68 15 246 35 752 90 232 26 137 5 123 12 178 32 136 13 123 23-4 3-123-22-137-14-164-30-136-13-137-6-656-76-520-67-82-13-41-11-27-13-27-21-14-16-14-20-13-25-14-31-14-35-13-41-14-46-41-148-14-46-13-40-14-31-14-21-13-10-14 3-14 15-13 26-14 35-14 42-41 137-13 43-14 39-14 34-13 28-14 23-14 17-27 23-14 7-27 7-27 2-55-3-410-40-55-8-41-12-27-18-14-14-13-19-14-27-14-35-13-45-14-56-14-69-13-81-14-92-14-102-41-325-13-96-14-81-14-60-13-34-14-7-14 30-13 68-14 97-14 118-27 254-14 119-13 104-14 87-14 69-13 52-14 38z" fill="url(#g116)" stroke="url(#g116)"/>
</g>
</g>
<g id="axes">
<line x1="29.6" y1="221.4" x2="29.6" y2="102.0" class="a"/>
<line x1="29.6" y1="221.4" x2="383.6" y2="263.4" class="a"/>
<line x1="383.6" y1="263.4" x2="531.6" y2="164.4" class="a"/>
<line x1="29.6" y1="221.4" x2="21.7" y2="220.5" class="a"/>
<line x1="29.6" y1="191.6" x2="21.7" y2="190.6" class="a"/>
<line x1="29.6" y1="161.7" x2="21.7" y2="160.8" class="a"/>
<line x1="29.6" y1="131.8" x2="21.7" y2="130.9" class="a"/>
<line x1="29.6" y1="102.0" x2="21.7" y2="101.1" class="a"/>
<line x1="29.6" y1="221.4" x2="26.3" y2="223.6" class="a"/>
<line x1="37.4" y1="222.3" x2="34.1" y2="224.5" class="a"/>
<line x1="44.3" y1="223.1" x2="41.0" y2="225.4" class="a"/>
<line x1="50.4" y1="223.9" x2="43.8" y2="228.3" class="a"/>
<line x1="90.9" y1="228.7" x2="87.6" y2="230.9" class="a"/>
<line x1="114.6" y1="231.5" x2="111.3" y2="233.7" class="a"/>
<line x1="131.4" y1="233.5" x2="128.1" y2="235.7" class="a"/>
<line x1="144.4" y1="235.0" x2="141.1" y2="237.2" class="a"/>
<line x1="155.1" y1="236.3" x2="151.8" y2="238.5" class="a"/>
<line x1="164.1" y1="237.4" x2="160.8" y2="239.6" class="a"/>
<line x1="171.9" y1="238.3" x2="168.6" y2="240.5" class="a"/>
<line x1="178.8" y1="239.1" x2="175.5" y2="241.3" class="a"/>
<line x1="184.9" y1="239.8" x2="178.3" y2="244.3" class="a"/>
<line x1="225.4" y1="244.6" x2="222.1" y2="246.9" class="a"/>
<line x1="249.1" y1="247.4" x2="245.8" y2="249.7" class="a"/>
<line x1="265.9" y1="249.4" x2="262.6" y2="251.7" class="a"/>
<line x1="278.9" y1="251.0" x2="275.6" y2="253.2" class="a"/>
<line x1="289.6" y1="252.2" x2="286.3" y2="254.5" class="a"/>
<line x1="298.6" y1="253.3" x2="295.3" y2="255.5" class="a"/>
<line x1="306.4" y1="254.2" x2="303.1" y2="256.5" class="a"/>
<line x1="313.3" y1="255.1" x2="309.9" y2="257.3" class="a"/>
<line x1="319.4" y1="255.8" x2="312.8" y2="260.2" class="a"/>
<line x1="359.9" y1="260.6" x2="356.6" y2="262.8" class="a"/>
<line x1="383.6" y1="263.4" x2="380.3" y2="265.6" class="a"/>
<line x1="531.6" y1="164.4" x2="539.5" y2="165.3" class="a"/>
<line x1="502.0" y1="184.2" x2="509.9" y2="185.1" class="a"/>
<line x1="472.4" y1="204.0" x2="480.3" y2="204.9" class="a"/>
<line x1="442.8" y1="223.8" x2="450.7" y2="224.7" class="a"/>
<line x1="413.2" y1="243.6" x2="421.1" y2="244.5" class="a"/>
<line x1="383.6" y1="263.4" x2="391.5" y2="264.3" class="a"/>
</g>
<g id="labels">
<text x="17.5" y="224.1" text-anchor="end" class="t">0</text>
<text x="17.5" y="194.2" text-anchor="end" class="t">1</text>
<text x="17.5" y="164.4" text-anchor="end" class="t">2</text>
<text x="17.5" y="134.5" text-anchor="end" class="t">3</text>
<text x="17.5" y="104.7" text-anchor="end" class="t">4</text>
<text x="32.8" y="241.8" text-anchor="middle" class="t">10<tspan dy="-3.6" font-size="6.2">−3</tspan></text>
<text x="167.3" y="257.8" text-anchor="middle" class="t">10<tspan dy="-3.6" font-size="6.2">−2</tspan></text>
<text x="301.8" y="273.7" text-anchor="middle" class="t">10<tspan dy="-3.6" font-size="6.2">−1</tspan></text>
<text x="544.5" y="173.6" class="t">0</text>
<text x="514.9" y="193.4" class="t">20</text>
<text x="485.3" y="213.2" class="t">40</text>
<text x="455.7" y="233.0" class="t">60</text>
<text x="426.1" y="252.8" class="t">80</text>
<text x="396.5" y="272.6" class="t">100</text>
<text transform="translate(9.6,162.2) rotate(-90)" text-anchor="middle" class="l">Amplitude</text>
<text transform="translate(163.6,269) rotate(6.7)" text-anchor="middle" class="l">Diffusion coefficient (mm<tspan dy="-3.3" font-size="6.5">2</tspan><tspan dy="3.3">/s)</tspan></text>
<text transform="translate(488,231.5) rotate(-34)" text-anchor="middle" class="l">Simulations</text>
</g>
</svg>
</body></html>
